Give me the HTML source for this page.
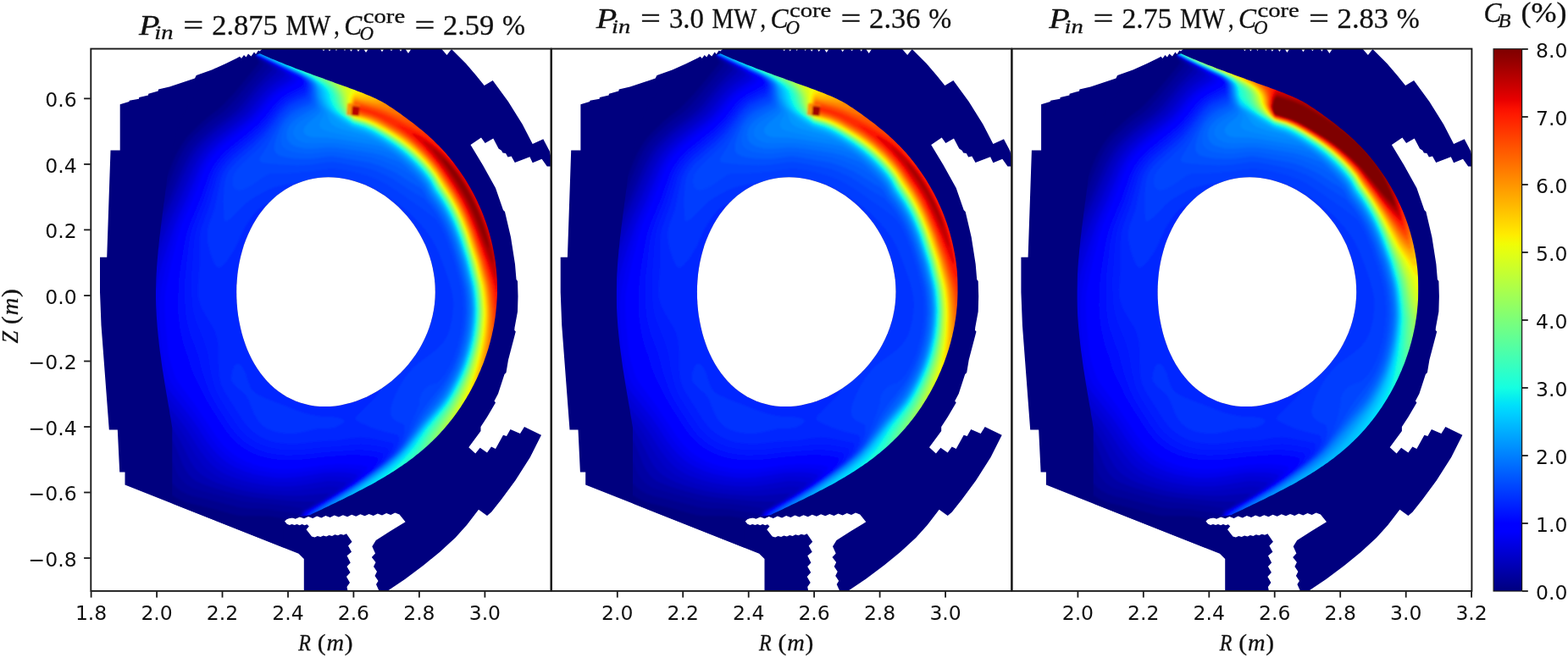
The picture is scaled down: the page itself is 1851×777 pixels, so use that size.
<!DOCTYPE html>
<html><head><meta charset="utf-8"><title>C_B concentration maps</title>
<style>html,body{margin:0;padding:0;background:#fff;width:1851px;height:777px;overflow:hidden}svg{display:block}text{font-family:"DejaVu Sans","Liberation Sans",sans-serif;fill:#111}.t{font-family:"DejaVu Sans","Liberation Sans",sans-serif}.m{font-family:"Liberation Serif","DejaVu Serif",serif;stroke:#111;stroke-width:0.3px}.i{font-style:italic}</style></head>
<body>
<svg width="1851" height="777" viewBox="0 0 1851 777">
<defs>
<path id="mk" d="M310 57.5L521 57.5L527.5 65L533 58L550 75L562 89L571.7 101L581.7 95L600 120L616.7 146.7L628.7 170L641.3 164.3L648.8 178.5L650.5 186L650.5 196.5L645.8 196.5L639.6 187.7L628.7 192.3L625.4 185.2L607.8 192L603.6 184.4L599.5 185.5L597 181L593.5 180.5L592 177.7L588.6 175.6L582.3 163.5L572.7 169L568 162.6L555.5 171L570 195L585 222L594 248L596 250L603 280L608 312L609.5 330L611 332L611.5 350L611 368L607.5 387L607.3 390L608.8 391.5L600 425L597.5 440L595.5 442L588 465L583.5 473.5L585 475.6L575 492.5L567.5 504L567.5 509L553.3 528.3L561.2 535.4L566.7 528.8L575 534.6L580 527.5L585 530L594 513.8L598 515L602.5 507L614 512L619 504L639 513.8L625.8 540L608.3 567.5L591.7 590L580 604.8L575 609L565 601.7L551 620L537.5 635L519 652L500 667.5L478 684L457.5 697.8L447.5 697.8L444 690L446.5 686L442.5 680L445 675L441 669L443.5 664L438.8 658L443 653.5L439.3 645.3L443.8 638L461 627L478.6 616.3L471.5 607.6L466.3 605.6L461.3 608L456.1 606L451 608.5L445.8 606.5L440.8 608.9L435.6 606.9L430.6 609.3L425.4 607.3L420.3 609.8L415.1 607.8L410.1 610.2L404.9 608.2L399.9 610.6L394.7 608.6L389.7 611L384.4 609.1L379.4 611.5L374.2 609.5L369.2 611.9L364 609.9L359 612.3L353.8 610.4L348.7 612.8L343.5 610.8L338.5 613.2L336 615.6L338.7 618.8L341.7 620L344.6 618.9L347.6 620.1L350.6 619L353.6 620.2L356.6 619.1L359.5 620.3L362.5 619.2L364.8 621.5L361.6 625.2L368 633.5L371.5 634.5L374.8 633L378.4 634L381.7 632.4L385.2 633.4L388.5 631.9L392 632.9L395.3 631.3L398.9 632.3L402.2 630.8L405.7 631.8L409 630.2L415.5 639.8L411 644.4L415 651.7L409.6 656.2L413.7 664.5L409.5 669L413.5 676L409 681L413 688L409.5 693L410.5 697.8L358.8 697.8L358.8 660L352.5 653.8L147.5 572.5L147.5 557.5L141.2 557.5L138.8 507.5L128.8 507.5L119.5 384L118 345L118 303.8L126.2 303.8L130.5 177.5L141.7 177.5L141.7 123.3L152.5 120L152.7 118.7L164 116.7L164.2 115L175 112.5L175.2 110.8L186.7 107.5L187 105.6L200 102.5L230 92.5L231.7 89L250 82.5L266.7 75L280 68.5L283 66.7L285 69L288 65L290.5 67.5L293 63.5L296.5 66.5L300 61.5L302 64L305 59.5L306.5 60.5Z"/>
<clipPath id="ax"><rect x="107.6" y="57.5" width="543" height="640.3"/></clipPath>
<path id="hl" d="M513.8 344.7L513.6 337.6L513.1 330.5L512.1 323.5L510.8 316.5L509.2 309.7L507.2 302.9L504.8 296.2L502.2 289.6L499.1 283.2L495.8 277L492.2 271L488.3 265.1L484.1 259.5L479.6 254.1L474.9 249L470 244.1L464.9 239.5L459.6 235.2L454.1 231.1L448.4 227.4L442.7 224.1L436.8 221L430.8 218.3L424.7 215.9L418.6 213.9L412.4 212.3L406.2 211L400 210L393.9 209.5L387.7 209.3L381.6 209.5L375.6 210L369.6 211L363.8 212.3L358 213.9L352.4 215.9L346.9 218.3L341.6 221L336.4 224.1L331.4 227.4L326.6 231.1L321.9 235.2L317.5 239.5L313.3 244.1L309.3 249L305.5 254.1L302 259.5L298.7 265.1L295.6 271L292.8 277L290.2 283.2L287.9 289.6L285.9 296.2L284.1 302.9L282.6 309.7L281.4 316.5L280.4 323.5L279.8 330.5L279.3 337.6L279.2 344.7L279.3 351.8L279.7 358.9L280.3 365.9L281.2 372.9L282.4 379.7L283.8 386.5L285.4 393.2L287.3 399.8L289.5 406.2L291.8 412.4L294.5 418.4L297.3 424.3L300.5 429.9L303.8 435.3L307.4 440.4L311.2 445.3L315.2 449.9L319.4 454.2L323.8 458.3L328.5 462L333.3 465.3L338.3 468.4L343.5 471.1L348.8 473.5L354.3 475.5L359.9 477.1L365.7 478.4L371.6 479.4L377.6 479.9L383.6 480.1L389.8 479.9L396 479.4L402.2 478.4L408.4 477.1L414.7 475.5L420.9 473.5L427.1 471.1L433.2 468.4L439.3 465.3L445.2 462L451.1 458.3L456.7 454.2L462.3 449.9L467.6 445.3L472.7 440.4L477.7 435.3L482.3 429.9L486.7 424.3L490.9 418.4L494.7 412.4L498.2 406.2L501.4 399.8L504.3 393.2L506.8 386.5L508.9 379.7L510.6 372.9L512 365.9L513 358.9L513.6 351.8Z"/>
<clipPath id="dd"><path clip-rule="evenodd" d="M306.8 63.2L309.6 64.5L312.4 65.7L315.3 67L318.1 68.2L320.9 69.4L323.7 70.6L326.6 71.8L329.4 72.9L332.3 74.1L335.1 75.3L338 76.4L340.9 77.5L343.7 78.6L346.6 79.8L349.5 80.9L352.4 82L355.2 83L358.1 84.1L361 85.2L363.9 86.3L366.8 87.3L369.7 88.4L372.6 89.5L375.5 90.5L378.4 91.6L381.3 92.6L384.2 93.7L387.1 94.7L390 95.8L392.9 96.8L395.7 97.9L398.6 98.9L401.5 100L404.4 101L407.3 102.1L410.2 103.1L413.1 104.2L416 105.3L418.9 106.3L421.8 107.4L424.6 108.5L427.5 109.6L430.4 110.7L433.2 111.9L436 113.1L438.9 114.3L441.6 115.5L444.4 116.8L447.1 118.2L449.8 119.6L452.5 121.1L455.2 122.6L457.8 124.2L460.3 125.9L462.9 127.6L465.4 129.3L467.9 131L470.4 132.8L473 134.6L475.5 136.4L478 138.2L480.4 140.1L482.9 141.9L485.4 143.8L487.8 145.6L490.3 147.5L492.7 149.4L495.1 151.4L497.5 153.3L499.9 155.3L502.2 157.3L504.6 159.3L506.9 161.4L509.2 163.5L511.4 165.6L513.6 167.7L515.8 169.9L518 172.1L520.1 174.3L522.2 176.5L524.3 178.8L526.4 181.1L528.4 183.4L530.4 185.8L532.3 188.2L534.2 190.6L536.1 193L538 195.5L539.8 197.9L541.6 200.4L543.4 202.9L545.1 205.5L546.8 208.1L548.5 210.6L550.2 213.3L551.8 215.9L553.3 218.5L554.9 221.2L556.4 223.9L557.8 226.6L559.3 229.3L560.7 232.1L562.1 234.8L563.4 237.6L564.7 240.4L566 243.2L567.2 246L568.4 248.8L569.6 251.7L570.7 254.6L571.8 257.4L572.8 260.3L573.9 263.2L574.8 266.1L575.8 269.1L576.7 272L577.6 275L578.4 277.9L579.2 280.9L580 283.9L580.7 286.9L581.4 289.9L582 292.9L582.6 295.9L583.2 298.9L583.7 301.9L584.2 304.9L584.7 308L585.1 311L585.4 314.1L585.8 317.1L586.1 320.2L586.3 323.2L586.5 326.3L586.7 329.4L586.8 332.4L586.9 335.5L587 338.6L587 341.6L587 344.7L586.9 347.8L586.8 350.8L586.6 353.9L586.4 357L586.2 360L585.9 363.1L585.6 366.1L585.3 369.2L584.9 372.3L584.5 375.3L584 378.3L583.5 381.4L583 384.4L582.4 387.4L581.8 390.5L581.1 393.5L580.5 396.5L579.7 399.5L579 402.4L578.2 405.4L577.3 408.4L576.5 411.4L575.6 414.3L574.6 417.2L573.6 420.2L572.6 423.1L571.6 426L570.5 428.9L569.4 431.8L568.2 434.6L567.1 437.5L565.8 440.3L564.6 443.1L563.3 446L562 448.7L560.6 451.5L559.3 454.3L557.8 457L556.4 459.8L554.9 462.5L553.4 465.2L551.8 467.8L550.3 470.5L548.7 473.1L547 475.7L545.4 478.3L543.7 480.9L541.9 483.4L540.2 486L538.4 488.5L536.6 491L534.7 493.4L532.8 495.9L530.9 498.3L529 500.7L527 503L525 505.4L523 507.7L520.9 510L518.9 512.2L516.8 514.4L514.6 516.7L512.5 518.8L510.3 521L508.1 523.1L505.8 525.2L503.6 527.2L501.3 529.3L499 531.3L496.6 533.3L494.3 535.2L491.9 537.1L489.5 539L487.1 540.9L484.6 542.7L482.2 544.6L479.7 546.4L477.2 548.1L474.6 549.9L472.1 551.6L469.6 553.3L467 555L464.4 556.7L461.8 558.3L459.2 560L456.5 561.6L453.9 563.2L451.2 564.7L448.6 566.3L445.9 567.8L443.2 569.4L440.5 570.9L437.8 572.4L435.1 573.8L432.4 575.3L429.6 576.8L426.9 578.2L424.1 579.6L421.4 581.1L418.6 582.5L415.9 583.9L413.1 585.3L410.4 586.6L407.6 588L404.8 589.4L402.1 590.7L399.3 592.1L396.5 593.4L393.8 594.7L391 596.1L388.2 597.4L385.5 598.7L382.7 600.1L380 601.4L377.2 602.7L374.5 604L371.7 605.3L369 606.6L366.3 607.9L338 612.8L336 615.6L336 647.2L203.3 594.8L203.3 504.9L202.6 500.9L201.9 496.8L201.2 492.8L200.5 488.7L199.9 484.6L199.2 480.6L198.5 476.5L197.8 472.4L197.1 468.3L196.4 464.2L195.7 460.1L195 456L194.3 451.9L193.7 447.8L193 443.6L192.4 439.5L191.7 435.4L191.1 431.3L190.5 427.1L190 423L189.4 418.8L188.8 414.7L188.3 410.6L187.8 406.4L187.4 402.3L186.9 398.1L186.5 394L186.1 389.8L185.7 385.7L185.4 381.5L185.1 377.4L184.8 373.3L184.6 369.1L184.4 365L184.2 360.8L184.1 356.7L184 352.6L184 348.4L184 344.3L184.1 340.2L184.2 336L184.3 331.9L184.4 327.8L184.6 323.7L184.9 319.5L185.1 315.4L185.4 311.3L185.7 307.2L186.1 303.1L186.5 298.9L186.8 294.8L187.3 290.7L187.7 286.6L188.1 282.5L188.6 278.3L189.1 274.2L189.6 270.1L190.1 266L190.6 261.8L191.2 257.7L191.7 253.6L192.2 249.4L192.8 245.3L193.3 241.1L193.9 237L194.4 232.9L195 228.7L195.5 224.5L196.1 220.4L196.6 216.2L197.1 212L197.7 207.9L198.2 203.7L198.8 199.5L199.3 195.4L200 191.2L200.6 187.1L201.3 183L202 178.9L202.8 174.8L203.6 170.7L204.5 166.7L205.5 162.7L206.6 158.7L207.7 154.7L208.9 150.8L210.2 146.9L211.6 143.1L213.2 139.3L214.8 135.5L216.5 131.8L218.4 128.1L220.4 124.5L222.6 120.9L224.8 117.5L227.2 114.1L229.8 110.9L232.4 107.7L235.2 104.6L238.1 101.7L241.1 98.8L244.3 96.1L247.5 93.5L250.8 90.9L254.2 88.5L257.7 86.2L261.3 84L264.9 81.9L268.6 79.8L272.3 77.9L276.1 76L279.9 74.2L283.7 72.4L287.5 70.7L291.3 69.1L295.2 67.6L299 66.1L302.8 64.6Z M513.8 344.7L513.6 337.6L513.1 330.5L512.1 323.5L510.8 316.5L509.2 309.7L507.2 302.9L504.8 296.2L502.2 289.6L499.1 283.2L495.8 277L492.2 271L488.3 265.1L484.1 259.5L479.6 254.1L474.9 249L470 244.1L464.9 239.5L459.6 235.2L454.1 231.1L448.4 227.4L442.7 224.1L436.8 221L430.8 218.3L424.7 215.9L418.6 213.9L412.4 212.3L406.2 211L400 210L393.9 209.5L387.7 209.3L381.6 209.5L375.6 210L369.6 211L363.8 212.3L358 213.9L352.4 215.9L346.9 218.3L341.6 221L336.4 224.1L331.4 227.4L326.6 231.1L321.9 235.2L317.5 239.5L313.3 244.1L309.3 249L305.5 254.1L302 259.5L298.7 265.1L295.6 271L292.8 277L290.2 283.2L287.9 289.6L285.9 296.2L284.1 302.9L282.6 309.7L281.4 316.5L280.4 323.5L279.8 330.5L279.3 337.6L279.2 344.7L279.3 351.8L279.7 358.9L280.3 365.9L281.2 372.9L282.4 379.7L283.8 386.5L285.4 393.2L287.3 399.8L289.5 406.2L291.8 412.4L294.5 418.4L297.3 424.3L300.5 429.9L303.8 435.3L307.4 440.4L311.2 445.3L315.2 449.9L319.4 454.2L323.8 458.3L328.5 462L333.3 465.3L338.3 468.4L343.5 471.1L348.8 473.5L354.3 475.5L359.9 477.1L365.7 478.4L371.6 479.4L377.6 479.9L383.6 480.1L389.8 479.9L396 479.4L402.2 478.4L408.4 477.1L414.7 475.5L420.9 473.5L427.1 471.1L433.2 468.4L439.3 465.3L445.2 462L451.1 458.3L456.7 454.2L462.3 449.9L467.6 445.3L472.7 440.4L477.7 435.3L482.3 429.9L486.7 424.3L490.9 418.4L494.7 412.4L498.2 406.2L501.4 399.8L504.3 393.2L506.8 386.5L508.9 379.7L510.6 372.9L512 365.9L513 358.9L513.6 351.8Z"/></clipPath>
<path id="sp" d="M380.5 58.3h3l-1.5 2zM387.5 58.3h3l-1.5 2.2zM395.8 58.3h2.4l-1.2 1.6zM405.8 58.3h2.4l-1.2 1.6zM412.8 58.3h3.4l-1.7 2.4zM421.2 58.3h3.6l-1.8 2.6zM429.5 58.3h5l-2.5 3.6zM449 58.3h4l-2 3zM460.5 58.3h3l-1.5 2zM471.5 58.3h3l-1.5 2.4zM478.8 58.3h6.4l-3.2 4.6z"/>
<filter id="bl" x="-5%" y="-5%" width="110%" height="110%"><feGaussianBlur stdDeviation="1.1"/></filter>
<linearGradient id="jet" x1="0" y1="1" x2="0" y2="0"><stop offset="0" stop-color="#00007f"/><stop offset="0.0156" stop-color="#000091"/><stop offset="0.0312" stop-color="#0000a3"/><stop offset="0.0469" stop-color="#0000b6"/><stop offset="0.0625" stop-color="#0000c8"/><stop offset="0.0781" stop-color="#0000da"/><stop offset="0.0938" stop-color="#0000ec"/><stop offset="0.1094" stop-color="#0000fe"/><stop offset="0.125" stop-color="#0000ff"/><stop offset="0.1406" stop-color="#0010ff"/><stop offset="0.1562" stop-color="#0020ff"/><stop offset="0.1719" stop-color="#0030ff"/><stop offset="0.1875" stop-color="#0040ff"/><stop offset="0.2031" stop-color="#0050ff"/><stop offset="0.2188" stop-color="#0060ff"/><stop offset="0.2344" stop-color="#0070ff"/><stop offset="0.25" stop-color="#0080ff"/><stop offset="0.2656" stop-color="#0090ff"/><stop offset="0.2812" stop-color="#00a0ff"/><stop offset="0.2969" stop-color="#00b0ff"/><stop offset="0.3125" stop-color="#00c0ff"/><stop offset="0.3281" stop-color="#00d0ff"/><stop offset="0.3438" stop-color="#00e0fa"/><stop offset="0.3594" stop-color="#08f0ed"/><stop offset="0.375" stop-color="#15ffe1"/><stop offset="0.3906" stop-color="#22ffd4"/><stop offset="0.4062" stop-color="#2fffc7"/><stop offset="0.4219" stop-color="#3cffba"/><stop offset="0.4375" stop-color="#49ffad"/><stop offset="0.4531" stop-color="#56ffa0"/><stop offset="0.4688" stop-color="#63ff93"/><stop offset="0.4844" stop-color="#70ff86"/><stop offset="0.5" stop-color="#7cff79"/><stop offset="0.5156" stop-color="#89ff6c"/><stop offset="0.5312" stop-color="#96ff5f"/><stop offset="0.5469" stop-color="#a3ff53"/><stop offset="0.5625" stop-color="#b0ff46"/><stop offset="0.5781" stop-color="#bdff39"/><stop offset="0.5938" stop-color="#caff2c"/><stop offset="0.6094" stop-color="#d7ff1f"/><stop offset="0.625" stop-color="#e4ff12"/><stop offset="0.6406" stop-color="#f1fc05"/><stop offset="0.6562" stop-color="#feed00"/><stop offset="0.6719" stop-color="#ffde00"/><stop offset="0.6875" stop-color="#ffcf00"/><stop offset="0.7031" stop-color="#ffc000"/><stop offset="0.7188" stop-color="#ffb100"/><stop offset="0.7344" stop-color="#ffa300"/><stop offset="0.75" stop-color="#ff9400"/><stop offset="0.7656" stop-color="#ff8500"/><stop offset="0.7812" stop-color="#ff7600"/><stop offset="0.7969" stop-color="#ff6700"/><stop offset="0.8125" stop-color="#ff5900"/><stop offset="0.8281" stop-color="#ff4a00"/><stop offset="0.8438" stop-color="#ff3b00"/><stop offset="0.8594" stop-color="#ff2c00"/><stop offset="0.875" stop-color="#ff1d00"/><stop offset="0.8906" stop-color="#fa0f00"/><stop offset="0.9062" stop-color="#e80000"/><stop offset="0.9219" stop-color="#d50000"/><stop offset="0.9375" stop-color="#c30000"/><stop offset="0.9531" stop-color="#b10000"/><stop offset="0.9688" stop-color="#9f0000"/><stop offset="0.9844" stop-color="#8d0000"/><stop offset="1" stop-color="#7f0000"/></linearGradient>
</defs>
<rect width="1851" height="777" fill="#fff"/>
<g transform="translate(0,0)">
<g clip-path="url(#ax)">
<use href="#mk" fill="#00007f"/>
<g clip-path="url(#dd)"><g filter="url(#bl)">
<path d="M306.8 63.2L309.6 64.5L312.4 65.7L315.3 67L318.1 68.2L320.9 69.4L323.7 70.6L326.6 71.8L329.4 72.9L332.3 74.1L335.1 75.3L338 76.4L340.9 77.5L343.7 78.6L346.6 79.8L349.5 80.9L352.4 82L355.2 83L358.1 84.1L361 85.2L363.9 86.3L366.8 87.3L369.7 88.4L372.6 89.5L375.5 90.5L378.4 91.6L381.3 92.6L384.2 93.7L387.1 94.7L390 95.8L392.9 96.8L395.7 97.9L398.6 98.9L401.5 100L404.4 101L407.3 102.1L410.2 103.1L413.1 104.2L416 105.3L418.9 106.3L421.8 107.4L424.6 108.5L427.5 109.6L430.4 110.7L433.2 111.9L436 113.1L438.9 114.3L441.6 115.5L444.4 116.8L447.1 118.2L449.8 119.6L452.5 121.1L455.2 122.6L457.8 124.2L460.3 125.9L462.9 127.6L465.4 129.3L467.9 131L470.4 132.8L473 134.6L475.5 136.4L478 138.2L480.4 140.1L482.9 141.9L485.4 143.8L487.8 145.6L490.3 147.5L492.7 149.4L495.1 151.4L497.5 153.3L499.9 155.3L502.2 157.3L504.6 159.3L506.9 161.4L509.2 163.5L511.4 165.6L513.6 167.7L515.8 169.9L518 172.1L520.1 174.3L522.2 176.5L524.3 178.8L526.4 181.1L528.4 183.4L530.4 185.8L532.3 188.2L534.2 190.6L536.1 193L538 195.5L539.8 197.9L541.6 200.4L543.4 202.9L545.1 205.5L546.8 208.1L548.5 210.6L550.2 213.3L551.8 215.9L553.3 218.5L554.9 221.2L556.4 223.9L557.8 226.6L559.3 229.3L560.7 232.1L562.1 234.8L563.4 237.6L564.7 240.4L566 243.2L567.2 246L568.4 248.8L569.6 251.7L570.7 254.6L571.8 257.4L572.8 260.3L573.9 263.2L574.8 266.1L575.8 269.1L576.7 272L577.6 275L578.4 277.9L579.2 280.9L580 283.9L580.7 286.9L581.4 289.9L582 292.9L582.6 295.9L583.2 298.9L583.7 301.9L584.2 304.9L584.7 308L585.1 311L585.4 314.1L585.8 317.1L586.1 320.2L586.3 323.2L586.5 326.3L586.7 329.4L586.8 332.4L586.9 335.5L587 338.6L587 341.6L587 344.7L586.9 347.8L586.8 350.8L586.6 353.9L586.4 357L586.2 360L585.9 363.1L585.6 366.1L585.3 369.2L584.9 372.3L584.5 375.3L584 378.3L583.5 381.4L583 384.4L582.4 387.4L581.8 390.5L581.1 393.5L580.5 396.5L579.7 399.5L579 402.4L578.2 405.4L577.3 408.4L576.5 411.4L575.6 414.3L574.6 417.2L573.6 420.2L572.6 423.1L571.6 426L570.5 428.9L569.4 431.8L568.2 434.6L567.1 437.5L565.8 440.3L564.6 443.1L563.3 446L562 448.7L560.6 451.5L559.3 454.3L557.8 457L556.4 459.8L554.9 462.5L553.4 465.2L551.8 467.8L550.3 470.5L548.7 473.1L547 475.7L545.4 478.3L543.7 480.9L541.9 483.4L540.2 486L538.4 488.5L536.6 491L534.7 493.4L532.8 495.9L530.9 498.3L529 500.7L527 503L525 505.4L523 507.7L520.9 510L518.9 512.2L516.8 514.4L514.6 516.7L512.5 518.8L510.3 521L508.1 523.1L505.8 525.2L503.6 527.2L501.3 529.3L499 531.3L496.6 533.3L494.3 535.2L491.9 537.1L489.5 539L487.1 540.9L484.6 542.7L482.2 544.6L479.7 546.4L477.2 548.1L474.6 549.9L472.1 551.6L469.6 553.3L467 555L464.4 556.7L461.8 558.3L459.2 560L456.5 561.6L453.9 563.2L451.2 564.7L448.6 566.3L445.9 567.8L443.2 569.4L440.5 570.9L437.8 572.4L435.1 573.8L432.4 575.3L429.6 576.8L426.9 578.2L424.1 579.6L421.4 581.1L418.6 582.5L415.9 583.9L413.1 585.3L410.4 586.6L407.6 588L404.8 589.4L402.1 590.7L399.3 592.1L396.5 593.4L393.8 594.7L391 596.1L388.2 597.4L385.5 598.7L382.7 600.1L380 601.4L377.2 602.7L374.5 604L371.7 605.3L369 606.6L366.3 607.9L338 612.8L336 615.6L336 647.2L203.3 594.8L203.3 504.9L202.6 500.9L201.9 496.8L201.2 492.8L200.5 488.7L199.9 484.6L199.2 480.6L198.5 476.5L197.8 472.4L197.1 468.3L196.4 464.2L195.7 460.1L195 456L194.3 451.9L193.7 447.8L193 443.6L192.4 439.5L191.7 435.4L191.1 431.3L190.5 427.1L190 423L189.4 418.8L188.8 414.7L188.3 410.6L187.8 406.4L187.4 402.3L186.9 398.1L186.5 394L186.1 389.8L185.7 385.7L185.4 381.5L185.1 377.4L184.8 373.3L184.6 369.1L184.4 365L184.2 360.8L184.1 356.7L184 352.6L184 348.4L184 344.3L184.1 340.2L184.2 336L184.3 331.9L184.4 327.8L184.6 323.7L184.9 319.5L185.1 315.4L185.4 311.3L185.7 307.2L186.1 303.1L186.5 298.9L186.8 294.8L187.3 290.7L187.7 286.6L188.1 282.5L188.6 278.3L189.1 274.2L189.6 270.1L190.1 266L190.6 261.8L191.2 257.7L191.7 253.6L192.2 249.4L192.8 245.3L193.3 241.1L193.9 237L194.4 232.9L195 228.7L195.5 224.5L196.1 220.4L196.6 216.2L197.1 212L197.7 207.9L198.2 203.7L198.8 199.5L199.3 195.4L200 191.2L200.6 187.1L201.3 183L202 178.9L202.8 174.8L203.6 170.7L204.5 166.7L205.5 162.7L206.6 158.7L207.7 154.7L208.9 150.8L210.2 146.9L211.6 143.1L213.2 139.3L214.8 135.5L216.5 131.8L218.4 128.1L220.4 124.5L222.6 120.9L224.8 117.5L227.2 114.1L229.8 110.9L232.4 107.7L235.2 104.6L238.1 101.7L241.1 98.8L244.3 96.1L247.5 93.5L250.8 90.9L254.2 88.5L257.7 86.2L261.3 84L264.9 81.9L268.6 79.8L272.3 77.9L276.1 76L279.9 74.2L283.7 72.4L287.5 70.7L291.3 69.1L295.2 67.6L299 66.1L302.8 64.6Z" fill="#00007f"/>
<path d="M294.1 50.2l365.7 0 0 659.6 -215.5 0 -1.5 -1.6 0 -0.4 -13 -13 0 -0.6 -2 -2 -0.6 0 -18 -18 -0.4 0 -4 -4 -0.6 0 -3 -3 -0.4 0 -8.6 -7.5 -0.4 0 -2.1 -2 -0.5 0 -2.5 -2.5 -0.5 0 -1.5 -1.5 -0.5 0 -2 -2 -0.4 0 -2.1 -2 -0.5 0 -1.5 -1.5 -0.5 0 -4 -3.5 -0.4 0 -5.6 -5 -0.4 0 -3 -3 -0.6 0 -2.4 -2.5 -0.6 0 -2.4 -2.7 -0.6 0 -3 -3 -0.4 0 -3 -3 -0.6 -0.1 -3 -3 -0.4 0 -6.3 -5.6 -0.7 -2 -2 -2 -10.9 -2 -10.1 -1.3 -28 -0.2 -6 -0.4 -5.6 -1 -28.3 -7.7 -27.7 -6.5 -9.4 -3.8 -8 -5 -103.6 0 0 -388.1 1 0 0.5 0.5 3.5 0 0.5 0.5 3.5 0 0.6 0.5 3.4 0 0.6 0.5 3.4 0 0.6 0.5 3.4 0 0.6 0.5 3.4 0 0.6 0.5 3.4 0 0.6 0.5 3.4 0 0.6 0.5 3.4 0 0.6 0.5 3.4 0 0.6 0.5 3.4 0 0.6 0.5 3.4 0 0.6 0.5 3.4 0 0.6 0.5 3.4 0 0.5 0.5 3.5 0 0.6 0.5 3.4 0 0.5 0.5 3.5 0 0.6 0.5 3.4 0 0.6 0.5 3.4 0 0.6 0.5 3.4 0 0.6 0.5 16 0.2 0 -1.2 -0.6 -0.1 1 0 6 -15.4 3.6 -8 6.1 -11 5.9 -8.6 6.4 -7 13 -12.5 6 -5.1 12.9 -9.8 6.8 -6.6 11.9 -12.8 28.4 -34.2 0.6 -1.4 -0.3 -1.6 -3 -4 -1.4 -3 -1 -1 -4 -8 0 -1 -2 -4z" fill="#00008d"/>
<path d="M296.8 50.2l363 0 0 659.6 -215.5 0 -1.5 -1.6 0 -0.4 -13 -13 0 -0.6 -2 -2 -0.6 0 -18 -18 -0.5 0 -3.9 -4 -0.6 0 -2.9 -3 -0.5 0 -8.6 -7.5 -0.4 0 -2 -2 -0.6 0 -2.4 -2.5 -0.6 0 -1.4 -1.5 -0.6 0 -2 -2 -0.4 0 -2 -2 -0.6 0 -1.4 -1.5 -0.6 0 -4 -3.5 -0.4 0 -14.9 -12.9 -0.6 -1 0 -2.6 -0.5 -0.4 0 -2.6 -0.5 -0.4 0 -2.6 -0.5 -0.4 -0.5 -5.6 -0.5 -0.4 -0.5 -3.6 -0.8 -1.4 -0.3 -3 -14 -3.3 -19.8 -2.7 -6.2 -0.6 -19 -0.6 -11.4 -1.4 -41 -10.2 -12 -2.5 -8.6 -2.7 -7 -3.5 -6 -4.5 -4.4 -4.9 -103.6 0 0 -359.4 6 0.5 0.6 0.5 3 0 0.4 0.5 3 0 0.6 0.5 3 0 0.4 0.5 3 0 0.6 0.5 3 0 0.4 0.5 3 0 0.6 0.5 3 0 0.4 0.5 3 0 0.6 0.5 3 0 0.4 0.5 3 0 0.6 0.5 3 0 0.4 0.5 3 0 0.6 0.5 3 0 0.4 0.5 3 0 0.6 0.5 3 0 0.4 0.5 3 0 0.6 0.5 3 0 0.4 0.5 3 0 0.6 0.5 3 0 0.4 0.5 3 0 0.6 0.5 3 0 0.4 0.5 3 0 0.6 0.5 2.4 0 0.6 0.4 9 0.4 15.3 -37.1 5.9 -11 5.8 -8.4 6.8 -7.6 13.2 -12.4 7 -5.7 12.9 -9.3 7.1 -6.6 8.4 -9.4 32 -38.6 0.5 -2 -0.8 -2 -3.1 -3.5 -3.6 -2.4 -1.5 -2.5 -0.4 -3.1 -0.5 -0.5 0 -1 -0.5 -0.4 0 -1.1 -0.5 -0.5 0 -1 -0.5 -0.4 0 -1.1 -0.5 -0.5 0 -1 -0.5 -0.4 0 -1.1 -0.5 -0.5 0 -1z" fill="#00009a"/>
<path d="M296.9 50.2l362.9 0 0 659.6 -215.5 0 -1.5 -1.6 0 -0.4 -13 -13.1 0 -0.5 -2 -2 -0.6 0 -18 -18 -0.4 0 -4 -4 -0.6 0 -3 -3 -0.4 0 -8.6 -7.5 -0.4 0 -2 -2 -0.6 0 -2.4 -2.5 -0.6 0 -1.4 -1.5 -0.6 0 -2 -2 -0.5 0 -2 -2 -0.5 0 -1.4 -1.5 -0.6 0 -4 -3.5 -0.4 0 -14.8 -12.9 -0.5 -1 0 -2.6 -0.5 -0.4 0 -2.6 -0.5 -0.4 0 -2.6 -0.5 -0.4 0 -2.6 -0.5 -0.4 0 -2.6 -0.5 -0.4 0 -1.6 -0.4 -0.4 -0.3 -2 0.5 -4.6 1.9 -6 -0.4 -1 -0.5 -0.3 -17.8 -2.7 -20.8 -2.2 -20 -1.6 -12.4 -1.7 -33 -8.2 -21.6 -6 -5 -2.1 -4.4 -2.6 -3.8 -3 -3.2 -3.5 -2.7 -3.5 -2.5 -4.6 -4.8 -12.5 -103.6 0 0 -317.3 1.1 0 0.5 0.5 3.4 0 0.6 0.5 3.4 0 0.6 0.5 3.4 0 0.6 0.5 3.4 0 0.6 0.5 3.4 0 0.6 0.5 3.4 0 0.6 0.5 3.4 0 0.6 0.5 3.4 0 0.6 0.5 3.4 0 0.6 0.5 3.4 0 0.6 0.5 3.4 0 0.6 0.5 3.4 0 0.6 0.5 3.4 0 0.6 0.5 3.4 0 0.6 0.5 3.4 0 0.6 0.5 3.4 0 0.6 0.5 3.4 0 0.6 0.5 3.4 0 0.6 0.5 3.4 0 0.6 0.5 3.4 0 0.6 0.4 2.4 0 0.6 0.3 9 0 4.5 -9.9 16.3 -38.4 5.9 -11 5.7 -8.6 6.6 -7.4 12.8 -12 7.2 -5.8 14 -10.1 8.8 -8.1 7.2 -8 15.9 -20 17.1 -19.4 0.3 -2.2 -1.7 -2.4 -7.6 -6.1 -3 -1.6 -1.5 -1.9 -0.6 -1 -0.3 -2.4 -0.5 -0.6 0 -1 -0.5 -0.4 0 -1 -0.5 -0.6 0 -1 -0.5 -0.4 0 -1.1 -0.5 -0.5 0 -1 -0.5 -0.4 0 -1 -0.5 -0.6 0 -1 -0.5 -0.4 0 -1z" fill="#0000a3"/>
<path d="M296.9 50.2l362.9 0 0 659.6 -215.5 0 -1.5 -1.6 0 -0.4 -13 -13 0 -0.6 -2 -2 -0.6 0 -18 -18 -0.4 0 -4 -4 -0.6 0 -3 -3 -0.4 0 -8.6 -7.5 -0.4 0 -2 -2 -0.6 0 -2.4 -2.5 -0.6 -0.1 -1.4 -1.5 -0.6 0 -2 -2 -0.4 0 -2.1 -2 -0.5 0 -1.4 -1.5 -0.6 0 -4 -3.5 -0.4 0 -14.6 -12.8 -0.6 -1 0 -2.6 -0.5 -0.4 0 -2.6 -0.5 -0.4 0 -2.6 -0.5 -0.4 0 -2.6 -0.5 -0.4 0 -2.6 -0.4 -0.4 -0.1 -6 0.8 -3 0.8 -2 1.1 -1.6 2 -1.5 4 -2.2 5.4 -4.3 2 -2 0.3 -0.4 -0.3 -0.5 -16.4 -0.3 -16.6 -1 -33 -3 -12.4 -1.7 -13 -2.5 -20 -5.4 -12.6 -3.9 -11 -4.2 -5 -2.5 -4 -2.9 -4 -4.1 -3.3 -4.6 -4.8 -9 -7.6 -19 -3.7 -7.9 -103.6 0 0 -281.6 6 0.5 0.6 0.5 3 0 0.4 0.5 3 0 0.6 0.5 3 0 0.4 0.5 3 0 0.6 0.5 3 0 0.4 0.5 3 0 0.6 0.5 3 0 0.4 0.5 3 0 0.6 0.5 3 0 0.4 0.5 3 0 0.6 0.5 3 0 0.4 0.5 3 0 0.6 0.5 3 0 0.4 0.5 3 0 0.6 0.5 3 0 0.4 0.5 3 0 0.6 0.5 3 0 0.4 0.5 3 0 0.6 0.5 3 0 0.4 0.5 3 0 0.6 0.5 3 0 0.4 0.5 5.6 0.4 0.4 0.5 1.6 0 0.4 0.4 4 0.2 8.9 -18.5 11.1 -26.4 6.3 -14 5.7 -10.6 5.6 -8.4 6.6 -7.6 11.8 -11 7 -5.7 15.4 -11.3 9.6 -8.5 6 -6.6 17 -21.5 18.1 -18.8 0.3 -1 -0.3 -1.5 -2 -2.5 -12.5 -8.7 -2.6 -1.1 -1.4 -1.5 -1.4 -2.7 0 -1 -0.5 -0.6 0 -1 -0.5 -0.4 0 -1 -0.5 -0.6 0 -1 -0.5 -0.4 0 -1 -0.5 -0.6 0 -1 -0.5 -0.4 0 -1 -0.5 -0.6 0 -1z" fill="#0000b1"/>
<path d="M297 50.2l362.8 0 0 659.6 -215.5 0 -1.5 -1.5 0 -0.5 -13 -13.1 0 -0.5 -2 -2 -0.6 -0.1 -18 -18 -0.4 0 -4 -4 -0.6 0 -3 -3 -0.4 0 -8.6 -7.5 -0.4 0 -2 -2 -0.6 0 -2.4 -2.5 -0.6 0 -1.4 -1.5 -0.6 0 -2 -2 -0.4 0 -2 -2 -0.6 0 -1.4 -1.5 -0.6 0 -4 -3.5 -0.4 0 -5.6 -5 -0.4 0 -3 -3.1 -0.6 0 -1.4 -1.7 -0.5 -4 -0.5 -0.6 0 -2 -0.5 -0.4 0 -2 -0.5 -0.6 0 -2 -0.5 -0.4 0 -2 -0.5 -0.6 0 -2 -0.5 -0.4 0 -2 -0.5 -0.6 -0.5 -3.4 -1.4 -2.6 1.3 -3.7 1 -1.5 1.6 -1.2 4.2 -2 17.9 -11.6 5.2 -4.4 1.1 -1.6 -0.4 -0.4 -7.6 0.2 -22 1.9 -10 0.4 -13 -0.2 -16 -1.2 -18 -2.1 -14.4 -2.6 -18.6 -4.9 -13.1 -4.5 -8.3 -3.9 -6.6 -3.8 -5 -3.9 -4.4 -4.7 -3.8 -5.3 -3.5 -6 -11.9 -24 -7.8 -11.9 -4 0.3 -0.6 0.4 -1.4 0 -0.6 0.4 -2.4 0 -0.6 0.5 -2.4 0 -0.6 0.5 -7.4 0.5 -0.6 0.5 -9.4 0.4 -0.6 0.5 -5.4 0 -0.6 0.5 -5.4 0 -0.6 0.5 -6 0 -1 0.5 -6 0.1 -0.4 0.5 -4.6 0 -0.4 0.5 -11 0.5 -0.6 0.5 -12 0.5 -0.4 0.5 -6 0.1 -0.6 0.5 -5.4 0 -0.6 0.4 -5 0 -1 0.5 0 -260.4 1.6 0 0.4 0.5 3.6 0 0.4 0.5 3.6 0 0.4 0.5 3.6 0 0.4 0.5 3.6 0 0.4 0.5 3.6 0 0.4 0.5 3.6 0 0.4 0.5 3.6 0 0.4 0.5 3.6 0 0.4 0.5 3.6 0 0.4 0.5 3.6 0 0.4 0.5 3.6 0 0.4 0.5 3.6 0 0.4 0.5 3.6 0 0.4 0.5 3.6 0 0.4 0.5 3.6 0 0.4 0.5 3.6 0 0.4 0.5 3.6 0 0.4 0.5 3.6 0 0.4 0.5 3.6 0 0.4 0.4 2.6 0 0.4 0.4 9 0.1 5.9 -13.6 8.7 -18.6 9.2 -21.4 8.1 -18 5.6 -10.6 5.3 -8 6.8 -7.7 10.4 -9.9 7.6 -6.1 17 -12.7 9.4 -8 5 -5.6 11.9 -15.4 6.4 -7.6 6.7 -6.8 10.6 -9.2 1.8 -2 0.4 -1 -0.3 -1.4 -3.2 -3.6 -6.6 -4.4 -13.7 -8.1 -1.7 -2.9 0 -1 -0.5 -0.6 0 -1 -0.5 -0.4 0 -1 -0.5 -0.6 0 -1 -0.5 -0.4 0 -1 -0.5 -0.6 0 -1 -0.5 -0.4 0 -1 -0.5 -0.6 0 -1z" fill="#0000bf"/>
<path d="M297.1 50.2l362.7 0 0 659.6 -215.4 0 -1.5 -1.6 0 -0.4 -13 -13 0 -0.6 -2.1 -2.1 -0.5 0 -18.1 -18 -0.4 0 -4 -4 -0.6 0 -3 -3 -0.4 0 -8.6 -7.5 -0.4 0 -2 -2 -0.6 0 -2.4 -2.5 -0.6 0 -1.4 -1.5 -0.6 0 -2 -2 -0.4 0 -2 -2 -0.6 0 -1.4 -1.5 -0.6 0 -4 -3.5 -0.4 0 -5.6 -5.1 -0.4 0 -3 -3.1 -0.6 0 -1.3 -1.6 -0.5 -4 -0.5 -0.6 0 -2 -0.5 -0.4 0 -2 -0.5 -0.6 0 -2 -0.5 -0.4 0 -2 -0.5 -0.6 0 -2 -0.5 -0.4 0 -2 -0.5 -0.6 -0.5 -3.4 -0.7 -1.6 0.2 -2 1.3 -3 2.6 -2.3 3.4 -1.6 13.1 -7.5 12.9 -8.6 7.8 -6.4 1.7 -2.6 0.1 -1.1 -7.6 -0.8 -6 -0.1 -22.4 3.6 -11.6 1.3 -12.4 0.6 -13.6 -0.4 -18 -1.9 -16.4 -2.9 -14.6 -3.8 -14 -4.9 -7.3 -3.6 -6.7 -4.1 -5.4 -4.4 -5 -5.2 -9 -12.5 -10.1 -17.8 -5.3 -8.4 -6.4 -9 -6.8 -8.4 -9 0.3 -0.4 0.5 -2.6 0 -0.4 0.5 -2.6 0 -0.4 0.5 -2.6 0 -0.4 0.5 -2.6 0 -0.4 0.5 -2.6 0 -0.4 0.5 -2.6 0 -0.4 0.5 -2.6 0 -0.4 0.5 -2.6 0 -0.4 0.5 -2.6 0 -0.4 0.5 -2.6 0 -0.4 0.5 -2.6 0 -0.4 0.5 -2.6 0 -0.4 0.5 -2.6 0 -0.4 0.5 -2.6 0 -0.4 0.5 -2.6 0 -0.4 0.5 -2.6 0 -0.4 0.5 -2.6 0 -0.4 0.5 -2.6 0 -0.4 0.5 -2.6 0 -0.4 0.5 -2.6 0 -0.4 0.5 -2.6 0 -0.4 0.5 -2.6 0 -0.4 0.5 -2.6 0 -0.4 0.5 -2.6 0 -0.4 0.5 -2.6 0 -0.4 0.5 -2.6 0 -0.4 0.5 -2.6 0 -0.4 0.5 -2.6 0 -0.4 0.5 -2.6 0 -0.4 0.5 -2.6 0 -0.4 0.5 -1.6 0 0 -238.6 1 0.5 4 0 0.6 0.5 4 0 0.4 0.5 4 0 0.6 0.5 4 0 0.4 0.5 4 0 0.6 0.5 4 0 0.4 0.5 4 0 0.6 0.5 4 0 0.4 0.5 4 0 0.6 0.5 4 0 0.4 0.5 4 0 0.6 0.5 4 0 0.4 0.5 4 0 0.6 0.5 4 0 0.4 0.5 4 0 0.6 0.5 7.4 0.5 0.6 0.5 2.4 0 0.6 0.4 2.4 0 0.6 0.4 2 0.4 4 0 10.6 -25 8.8 -19 17.4 -39.6 5 -9.4 5.2 -8 6.7 -8 9.5 -9 7.8 -6.3 20.1 -15.3 7.7 -6.4 4.6 -5.2 12.3 -15.8 6.5 -7.6 6.8 -6.4 12 -9.3 1.9 -2.3 0.2 -1.4 -0.8 -1.6 -4.4 -4 -6.9 -4.4 -13 -7.6 -2 -0.7 -1.6 -1.2 -1.6 -2.5 0 -1 -0.5 -0.6 0 -1 -0.5 -0.4 0 -1 -0.5 -0.6 0 -1 -0.5 -0.4 0 -1 -0.5 -0.6 0 -1 -0.5 -0.4 0 -1 -0.5 -0.6 0 -1z" fill="#0000c8"/>
<path d="M297.1 50.2l362.7 0 0 659.6 -215.4 0 -1.5 -1.6 0 -0.4 -13 -13 0 -0.6 -2.1 -2.1 -0.6 0 -18 -18 -0.4 0 -4 -4 -0.6 0 -3 -3 -0.4 0 -8.6 -7.5 -0.4 0 -2 -2 -0.6 0 -2.4 -2.5 -0.6 0 -1.4 -1.5 -0.6 0 -2 -2 -0.4 0 -2 -2 -0.6 0 -1.4 -1.5 -0.6 0 -4 -3.6 -0.4 0 -10.6 -9.3 -0.2 -2 -0.5 -0.4 0 -2 -0.5 -0.6 0 -2 -0.5 -0.4 0 -2 -0.5 -0.6 0 -2 -0.5 -0.4 0 -2 -0.5 -0.6 0 -2 -0.5 -0.4 0 -2 -0.5 -0.6 0 -1.4 -0.4 -0.6 0 -1.4 -0.4 -0.6 0.2 -2.4 1.7 -3.6 2.1 -2 3 -1.3 17.6 -10.1 14.5 -9.6 5.8 -4.4 4.3 -4 1.8 -2.6 0.3 -1 -0.3 -0.8 -11 -1.3 -10.4 -0.3 -5 0.6 -19 3.7 -10.6 1.4 -12.4 0.9 -12.6 -0.1 -15.4 -1.6 -16 -2.9 -12.6 -3.3 -12.4 -4.5 -7.6 -3.6 -6.6 -4.2 -5.8 -4.7 -5.2 -5.3 -10.5 -13.4 -11.9 -19.3 -6.6 -9.7 -6.4 -8.4 -11 -13.3 -9 0.5 -0.4 0.5 -2.6 0 -0.4 0.5 -2.5 0 -0.5 0.5 -2.5 0 -0.5 0.5 -2.6 0 -0.4 0.5 -2.6 0 -0.4 0.5 -2.6 0 -0.4 0.5 -2.6 0 -0.4 0.5 -2.6 0 -0.4 0.5 -2.6 0 -0.4 0.5 -2.6 0 -0.4 0.5 -2.6 0 -0.4 0.5 -2.6 0 -0.4 0.5 -2.6 0 -0.4 0.5 -2.6 0 -0.4 0.5 -2.6 0 -0.4 0.5 -2.6 0 -0.4 0.5 -2.6 0 -0.4 0.5 -2.6 0 -0.4 0.5 -2.6 0 -0.4 0.5 -2.6 0 -0.4 0.5 -2.6 0.1 -0.4 0.4 -2.6 0.1 -0.4 0.4 -2.6 0.1 -0.4 0.4 -5.6 0.6 -0.4 0.5 -2.6 0 -0.5 0.5 -4.9 0.5 -0.6 0.5 -5 0.5 -1 0.5 0 -211 1.6 0 0.4 0.5 4.6 0 0.4 0.5 4.6 0 0.4 0.5 4.6 0 0.4 0.5 4.6 0 0.4 0.5 4.6 0 0.4 0.5 4.6 0 0.4 0.5 4.6 0 0.4 0.5 4.6 0 0.4 0.5 4.6 0 0.4 0.5 4.6 0 0.4 0.5 4.6 0 0.4 0.5 4.6 0 0.4 0.5 4.6 0 0.4 0.5 7.6 0.4 0.4 0.5 2.6 0 0.4 0.5 2.6 0 0.4 0.4 2 0.3 4 0.1 15.3 -37.6 9.7 -21 16.4 -37.6 4.9 -9.4 5.1 -8 6.7 -8.1 8.9 -8.4 29.1 -22.5 6.6 -5.6 5.1 -5.4 12.9 -16.6 6.3 -7.1 8 -7.1 12 -8.4 2.1 -2.4 0.1 -1.4 -0.8 -1.6 -1.8 -2 -3.3 -2.4 -8.8 -5.6 -18.2 -10 -1.9 -2.4 0 -1 -0.5 -0.6 0 -1 -0.5 -0.4 0 -1 -0.5 -0.6 0 -1 -0.5 -0.4 0 -1 -0.5 -0.6 0 -1 -0.5 -0.4 0 -1 -0.5 -0.6 0 -1z" fill="#0000d5"/>
<path d="M297.2 50.2l362.6 0 0 659.6 -215.4 0 -1.5 -1.6 0 -0.4 -13 -13 0 -0.6 -2.2 -2.1 -0.5 0 -18 -18 -0.4 0 -4 -4 -0.6 0 -3 -3 -0.4 0 -8.6 -7.5 -0.4 0 -2 -2 -0.6 0 -2.4 -2.5 -0.6 -0.1 -1.4 -1.5 -0.6 0 -4.4 -4 -0.6 0 -4 -3.5 -0.4 0 -1.6 -1.5 -0.4 0 -5.6 -5 -0.4 0 -3 -3.2 -0.6 0 -1 -1.1 0 -2 -0.5 -0.4 0 -2 -0.5 -0.6 0 -2 -0.5 -0.4 0 -2 -0.5 -0.6 0 -2 -0.5 -0.4 0 -2 -0.5 -0.6 0 -2 -0.5 -0.4 0 -2 -0.5 -0.6 -0.3 -2 0 -4 1.9 -3.9 2 -1.8 27.5 -15.7 14 -9.6 6.4 -5 3.5 -3.4 1.8 -2.6 0.3 -1.4 -0.2 -1 -4.3 -1 -7 -0.9 -15.6 -0.3 -7.4 0.8 -19 3.5 -11.6 1.6 -11.4 0.8 -11.6 0 -14 -1.5 -14.4 -2.7 -12 -3.3 -11 -4.3 -7.6 -3.8 -7 -4.5 -6 -5 -6.1 -6.4 -9.7 -12.6 -11.9 -18.4 -6.9 -10 -23.4 -29.5 -4 0.6 -0.4 0.4 -1.6 0 -0.4 0.5 -2.6 0 -0.4 0.5 -2.6 0 -0.4 0.5 -2.6 0 -0.4 0.5 -2.6 0 -0.4 0.5 -2.6 0 -0.4 0.5 -2.6 0 -0.4 0.5 -2.6 0 -0.4 0.5 -2.6 0 -0.4 0.5 -2.6 0 -0.4 0.5 -2.6 0 -0.4 0.5 -2.6 0 -0.4 0.5 -2.6 0 -0.4 0.5 -2.6 0 -0.4 0.5 -2.6 0 -0.4 0.5 -2.6 0 -0.4 0.5 -2.6 0 -0.4 0.5 -2.6 0 -0.4 0.5 -2.6 0 -0.4 0.5 -2.6 0 -0.4 0.5 -2.6 0 -0.4 0.5 -2.6 0 -0.4 0.5 -2.6 0 -0.4 0.5 -2.6 0 -0.4 0.5 -2.6 0 -0.4 0.5 -2.6 0 -0.4 0.5 -2.6 0 -0.4 0.5 -2.6 0 -0.4 0.5 -2.6 0 -0.4 0.5 -2.6 0 -0.4 0.5 -2.6 0 -1 0.5 0 -171.5 4.6 0 0.4 0.5 7.6 0 0.4 0.5 7.6 0 0.4 0.5 7.6 0 0.4 0.5 56 0.1 7 -20.6 13.3 -35 10.5 -23 16.6 -38 3.5 -7 4.1 -6.6 6.8 -8.4 8.2 -8.1 10 -8.2 21.6 -16.5 6.4 -5.6 6.5 -7.2 12.5 -16 6.6 -6.8 7.4 -6.1 11.9 -7.5 2.3 -2.6 0.2 -1.4 -1.1 -2 -5.3 -4.6 -11.5 -7 -18.9 -10 -2.1 -2.4 -0.5 -2.6 -0.5 -0.4 0 -1 -0.5 -0.6 0 -1 -0.5 -0.4 0 -1 -0.5 -0.6 -0.5 -2.4 -0.5 -0.6 0 -1z" fill="#0000de"/>
<path d="M298.3 50.2l361.5 0 0 659.6 -215.4 0 -1.5 -1.6 0 -0.4 -13 -13 0 -0.6 -2.1 -2.1 -0.6 0 -18 -18.1 -0.4 0 -4 -4 -0.6 0 -3 -3 -0.4 0 -8.6 -7.5 -0.4 0 -2 -2 -0.6 0 -2.4 -2.5 -0.6 0 -1.4 -1.5 -0.6 0 -4.4 -4 -0.6 0 -1.4 -1.5 -0.6 0 -2 -2 -0.4 0 -1.6 -1.5 -0.4 0 -8.2 -7.3 -0.8 -1.4 0 -2.6 -0.5 -0.4 -0.5 -5.6 -0.5 -0.4 0 -2.6 -0.5 -0.4 0 -2.6 -0.5 -0.4 0 -2.6 -0.5 -0.4 0 -2.6 -0.5 -0.4 -0.5 -3.5 -1.2 -2.5 1.5 -3 2.1 -2 27 -15.6 12.4 -8 9.2 -6.4 5.4 -4.6 3.6 -4 1.5 -2.5 0 -2.5 -5.1 -1.1 -8 -1 -8.4 -0.5 -8.6 0.1 -10.4 0.9 -20.6 3.5 -11 1.5 -11.4 0.7 -10.6 -0.1 -13 -1.4 -14 -2.8 -11.4 -3.4 -10.3 -4.4 -7.7 -4.3 -7.2 -5.1 -6.8 -6.3 -6.6 -7.3 -7 -9.3 -10.6 -16.7 -7.4 -10.4 -24 -30.4 -3.7 -6.2 -3.3 -7.3 -2 -0.1 -0.4 0.5 -1.6 0 -0.4 0.5 -1.6 0 -0.4 0.5 -5.6 0.5 -0.4 0.5 -3 0 -0.6 0.5 -3 0 -0.4 0.5 -3 0 -0.6 0.5 -3 0 -0.4 0.5 -3 0 -0.6 0.5 -3 0 -0.4 0.5 -3 0 -0.6 0.5 -3 0 -0.4 0.5 -3 0 -0.6 0.5 -3 0 -0.4 0.5 -3 0 -0.6 0.5 -3 0 -0.4 0.5 -3 0 -0.6 0.5 -3 0 -0.4 0.5 -3 0 -0.6 0.5 -3 0 -0.4 0.5 -3 0 -0.6 0.5 -3 0 -0.4 0.5 -3 0 -0.6 0.5 -3 0 -0.4 0.5 -3 0 -0.6 0.5 -3 0 -0.4 0.5 -3 0 -0.6 0.5 -1 0 0 -122.2 84 0 2.9 -13.4 4.6 -17 5.7 -18 9 -26 3.9 -9.4 10 -22.1 14.4 -33.9 3.2 -6.6 3.5 -6 6.7 -9 8.7 -8.7 9.4 -7.9 23 -17.8 6.9 -6 6.8 -7.6 11.8 -15 6.1 -6.3 7.6 -6.1 13 -8 1.8 -1.6 1 -1.4 0.1 -1.6 -1 -2 -2.1 -2 -4.1 -3 -12.7 -7.4 -20.6 -10.8 -1 -1.2 0 -2.6 -0.5 -0.4 0 -1 -0.5 -0.6 -1 -3.9 -1 -1.5 0 -1 -1 -1.6z" fill="#0000ec"/>
<path d="M298.3 50.2l361.5 0 0 659.6 -215.4 0 -1.5 -1.6 0 -0.4 -12.9 -13 0 -0.6 -2.2 -2.2 -0.6 0 -18 -18 -0.4 0 -4 -4 -0.6 0 -3 -3 -0.4 0 -8.6 -7.5 -0.4 0 -2 -2 -0.6 0 -2.4 -2.5 -0.6 0 -1.4 -1.5 -0.6 0 -4.4 -4 -0.6 0 -1.4 -1.5 -0.6 0 -2 -2 -0.4 0 -1.6 -1.5 -0.4 0 -8.2 -7.3 -0.7 -1.4 0 -2.6 -0.5 -0.4 0 -2.6 -0.5 -0.4 0 -2.6 -0.5 -0.4 0 -2.6 -0.5 -0.4 0 -2.6 -0.5 -0.4 -0.5 -5.6 -0.5 -0.4 -0.4 -3.6 -0.8 -1.4 0 -1 1.3 -2.6 2.6 -2.4 30.1 -17.6 14.6 -9.4 8.2 -6 5.7 -5 3.6 -4 2 -3.6 -0.1 -2.4 -0.9 -0.6 -3.5 -0.6 -9.6 -1.3 -9 -0.4 -9.4 0.1 -13.6 1 -32 4.6 -10.4 0.7 -9.6 -0.1 -11.4 -1.1 -12 -2.3 -11 -3 -9.6 -3.8 -8 -4.2 -7 -4.7 -7 -5.9 -6.6 -7 -7.7 -10 -11.6 -18 -8.5 -12.2 -8 -10.6 -14 -17.3 -5 -7.3 -3 -7.5 -4 -13.3 -1.8 -7.8 -2.2 -13 -1.6 -13.4 -1 -13.6 -0.4 -13.5 0.3 -12.5 1.7 -15.9 4.8 -22.1 8.9 -32 4.8 -15.4 3.1 -8.6 12.5 -28 14.5 -35 4.8 -9 5.6 -8 5.8 -6.4 7.2 -6.7 28.4 -22.4 7.4 -6.5 7.9 -8.4 11.8 -15 5.9 -6.2 7.6 -5.8 14.1 -8.6 2.2 -2 0.7 -1.4 -0.3 -2 -1.6 -2 -6.7 -5 -14 -8 -21.4 -11 -0.8 -1 -0.2 -2.6 -0.5 -0.4 0 -1 -0.5 -0.6 -1 -4 -1 -1.5 0 -0.9 -1 -1.6z" fill="#0000f5"/>
<path d="M298.3 50.2l361.5 0 0 659.6 -215.3 0 -1.5 -1.6 0 -0.4 -13 -13 0 -0.6 -2.2 -2.2 -0.6 0 -18 -18 -0.4 0 -4 -4 -0.6 0 -3 -3 -0.4 0 -8.6 -7.5 -0.4 0 -2 -2 -0.6 0 -2.4 -2.5 -0.6 0 -1.4 -1.5 -0.6 0 -4.4 -4 -0.6 0 -1.4 -1.5 -0.6 0 -2 -2 -0.4 0 -1.6 -1.6 -0.4 0 -8.1 -7.2 -0.2 -1 -0.5 -0.4 0 -2.6 -0.5 -0.4 0 -2.6 -0.5 -0.4 0 -2.6 -0.5 -0.4 0 -2.6 -0.5 -0.4 0 -2.6 -0.5 -0.4 -0.5 -5.6 -0.4 -0.4 0 -1.6 -0.5 -0.4 -0.3 -2 0 -2 0.4 -1.1 1.4 -1.9 1.6 -1.6 34.6 -20.4 14.4 -9.6 9.4 -7 6 -5.4 3.8 -4.6 2.1 -4 -0.1 -1.4 -0.4 -1 -6.2 -1.3 -9 -1 -18 -0.4 -17 1.2 -33 4.4 -9.6 0.5 -9 0 -11 -1 -11 -2 -10.4 -2.9 -9.6 -3.8 -7.4 -3.9 -7.6 -5.1 -7 -6 -6.4 -6.8 -6.7 -8.9 -23.9 -35.8 -18.4 -24.6 -3.5 -5.2 -2 -4.4 -2.5 -7.5 -3.8 -12.5 -1.3 -6 -3.6 -37 -0.6 -14.6 0 -15 0.4 -5 1.3 -7.4 6 -28.6 8.4 -32.4 4.2 -13 12.8 -29 13.5 -34 4.8 -9 5.7 -8 5.8 -6.6 6.8 -6.4 27.6 -21.7 8 -7 8.4 -9.1 11.6 -14.8 5.9 -6 7.5 -5.6 15 -8.8 2.3 -2 0.8 -1.6 -0.3 -2 -1.5 -2 -6.7 -5 -16 -9 -20 -10.4 -2.7 -1 -0.9 -1 -0.3 -2.6 -0.5 -0.4 -0.5 -2.6 -0.5 -0.4 -0.6 -2.6 -1 -1.4 0 -1 -1 -1.6z" fill="#0000ff"/>
<path d="M298.4 50.2l361.4 0 0 659.6 -215.3 0 -1.5 -1.6 0 -0.4 -13 -13 0 -0.6 -2.2 -2.2 -0.6 0 -18 -18 -0.4 0 -4 -4 -0.6 0 -3 -3 -0.4 0 -8.6 -7.6 -0.4 0 -2 -2 -0.6 0 -2.4 -2.5 -0.6 0 -1.4 -1.5 -0.6 0 -2 -2 -0.4 0 -2 -2 -0.6 0 -1.4 -1.5 -0.6 0 -4 -3.5 -0.4 0 -8.1 -7.2 -0.1 -1 -0.5 -0.4 0 -2.6 -0.5 -0.4 0 -2.6 -0.5 -0.4 0 -2.6 -0.5 -0.4 0 -2.6 -0.5 -0.4 0 -2.6 -0.5 -0.4 0 -2.6 -0.5 -0.4 0 -2.6 -0.4 -0.4 -0.2 -2 0.1 -4.6 1.2 -2 2 -1.7 4.1 -2.7 23.2 -13.6 15.2 -9.4 11 -7.6 9.6 -7.4 6.4 -6 4.2 -5 2.1 -4 -0.1 -2 -0.5 -1 -5.8 -1.3 -9 -1 -8.4 -0.5 -9.6 0.1 -22.4 1.5 -32.6 4 -9 0.5 -8.4 -0.1 -10.6 -0.8 -10.7 -2 -10.3 -2.8 -9 -3.5 -7.8 -4.1 -7.6 -5.4 -7 -6.2 -6.4 -7 -9.7 -14 -37.3 -58.4 -2.9 -6 -2.7 -7.6 -3.2 -10 -1.6 -7 -4.2 -32.5 -0.9 -12.9 -0.3 -13 0.2 -7 0.8 -7 4.3 -27 7.3 -34.6 2.3 -8.4 2.1 -6 13 -30 12 -32 4.7 -9.1 6 -8.5 5.5 -6.1 6.7 -6.3 27.3 -21.7 8 -7.1 8 -8.5 11.1 -14.3 6.7 -7 7.6 -5.7 16.5 -9.3 2.1 -1.7 0.9 -1.7 -0.3 -2 -1.5 -2 -2.9 -2.6 -4.4 -3 -17.2 -9.4 -21.6 -11.3 -2.6 -0.8 -0.8 -0.9 -0.5 -2.6 -1 -2 0 -1 -0.5 -0.4 -0.5 -2.6 -1 -1.4 0 -1 -1 -1.5z" fill="#0000ff"/>
<path d="M298.4 50.2l361.4 0 0 659.6 -215.3 0 -1.5 -1.6 0 -0.4 -13 -13 0 -0.6 -2.2 -2.2 -0.6 0 -18 -18 -0.4 0 -4 -4.1 -0.6 0 -3 -3 -0.4 0 -8.6 -7.5 -0.4 0 -2 -2 -0.6 0 -2.4 -2.5 -0.6 0 -1.4 -1.5 -0.6 0 -2 -2 -0.4 0 -2 -2 -0.6 0 -1.4 -1.5 -0.6 0 -4 -3.5 -0.4 0 -8.1 -7.2 0 -1 -0.5 -0.4 0 -2.6 -0.5 -0.4 0 -2.6 -0.5 -0.4 0 -2.6 -0.5 -0.4 0 -2.6 -0.5 -0.4 0 -2.6 -0.5 -0.4 0 -2.6 -0.5 -0.4 -0.1 -9 1.9 -3 4 -3 24.2 -14.3 16.5 -10.3 11 -7.4 9.8 -7.6 8.1 -7 6 -6.4 3.1 -5.6 0.1 -2 -0.6 -1.4 -5 -1.4 -8.4 -1.2 -9 -0.5 -9 -0.1 -30 2.2 -29.6 3.4 -16 0.6 -9 -0.6 -8.4 -1.1 -8.6 -1.8 -8 -2.4 -8.6 -3.7 -7.8 -4.4 -7.5 -5.6 -6.7 -6.4 -5.8 -7 -7 -10.5 -11.6 -18.1 -7.4 -12.4 -12.8 -26 -4 -10 -3.4 -12 -4.1 -11.6 -2.3 -8 -2.9 -13.5 -1.8 -12.9 -0.7 -8.6 -0.1 -8.4 0.7 -21 0.7 -9.6 1.8 -14 3.4 -20.4 2.6 -13.6 2.3 -9 3.5 -9.4 11 -26 10.6 -30 4.5 -9 5.9 -8.6 5.5 -6.3 6.6 -6.1 26.4 -21.3 8.6 -7.6 9.3 -10.1 10.8 -14 5.9 -6 8 -5.7 16.5 -8.9 2.6 -2 0.8 -1.4 -0.1 -2 -0.8 -2.1 -3.3 -2.9 -4.3 -3 -18.2 -10 -24.2 -12.5 -2.6 -0.9 -1.2 -2.2 -1 -4 -0.5 -0.4 -0.6 -2.6 -1 -1.5 0 -0.9 -1 -1.6z" fill="#0008ff"/>
<path d="M298.4 50.2l361.4 0 0 659.6 -215.3 0 -1.5 -1.6 0 -0.4 -13 -13 0 -0.6 -2.2 -2.2 -0.6 0 -18 -18.1 -0.4 0 -4 -4 -0.6 0 -3 -3 -0.4 0 -8.6 -7.5 -0.4 0 -2 -2 -0.6 0 -2.4 -2.5 -0.6 0 -1.4 -1.5 -0.6 0 -4.4 -4 -0.6 0 -1.4 -1.5 -0.6 0 -2 -2 -0.4 0 -1.6 -1.6 -0.4 0 -4.6 -4.1 -0.3 -1.4 -0.5 -0.6 0 -2.4 -0.5 -0.6 0 -2.4 -0.5 -0.6 0 -2.4 -0.5 -0.6 0 -2.4 -0.5 -0.6 0 -2.4 -0.5 -0.6 0 -2.4 -0.5 -0.6 -0.5 -5.4 -0.5 -0.6 -0.5 -3.4 -1 -2.6 1.9 -2.4 4 -2.9 42 -25.7 11 -7.4 11.1 -8.6 9.4 -8 7.4 -8 2.2 -3.4 1 -2.6 0 -2 -0.7 -1.7 -6 -1.6 -9 -1.5 -8 -0.6 -8.4 -0.1 -37.6 2.9 -26 2.9 -15.4 0.6 -8 -0.4 -7.6 -0.9 -7.4 -1.4 -7 -2 -8.6 -3.2 -8 -4.2 -7 -4.9 -6.5 -5.9 -4.9 -5.6 -5 -6.8 -12 -18.5 -7.2 -12.1 -5.8 -12 -6.7 -19 -6.3 -24 -7 -18.4 -3 -9 -2.4 -9.6 -1.5 -9 -0.8 -12 -0.2 -24 0.4 -9.4 4.1 -36 1.6 -10 2 -8 3.2 -9.6 10.4 -25.4 9.9 -30 3.9 -8 5.4 -8 5.4 -6.4 6.4 -6.2 26.2 -21.1 8.4 -7.7 9.6 -10.4 10.9 -14.2 5.5 -5.8 4.1 -3.2 3.9 -2.6 19 -9.8 1 -3.2 -0.1 -3 -1.1 -2.4 -1.7 -2.1 -3.6 -2.5 -18.2 -10 -27.7 -14.1 -2.6 -0.9 -1.2 -2 -1 -4 -0.5 -0.4 -0.6 -2.6 -1 -1.4 0 -1 -1 -1.6z" fill="#0014ff"/>
<path d="M298.5 50.2l361.3 0 0 659.6 -215.3 0 -1.5 -1.6 0 -0.4 -12.9 -13 0 -0.6 -2.3 -2.3 -0.6 0 -18 -18 -0.4 0 -4 -4 -0.6 0 -3 -3 -0.4 0 -8.6 -7.5 -0.4 0 -2 -2 -0.6 0 -2.4 -2.5 -0.6 -0.1 -1.4 -1.5 -0.6 0 -4.4 -4 -0.6 0 -1.4 -1.5 -0.6 0 -2 -2 -0.4 0 -1.6 -1.5 -0.4 0 -4.6 -4.1 -0.2 -1.4 -0.5 -0.6 0 -2.4 -0.5 -0.6 0 -2.4 -0.5 -0.6 0 -2.4 -0.5 -0.6 0 -2.4 -0.5 -0.6 0 -2.4 -0.5 -0.6 0 -2.4 -0.5 -0.6 0 -2.4 -0.5 -0.6 0 -2.4 -0.5 -0.6 0 -1.4 -0.4 -0.6 -0.5 -4 1.6 -2.1 5 -3.7 28.6 -17.2 19.4 -12.4 11.1 -8 10.6 -8.6 9.1 -8 6.7 -7.4 2.1 -3.6 1.4 -3.4 0 -2 -0.7 -2 -2.7 -1 -14.6 -2.7 -7.4 -0.9 -7 -0.4 -9.6 0.4 -17.4 2 -20.6 1.6 -21.4 2.4 -9 0.5 -8.6 -0.1 -8.4 -0.7 -8 -1.3 -7.6 -1.9 -8 -2.9 -7.7 -4 -7.1 -5 -6 -5.6 -4.4 -5 -4.7 -6.5 -12.6 -19.5 -5.9 -10 -4.2 -8.4 -2.8 -8 -3.3 -13.6 -2.8 -18.4 -1.7 -7.6 -3.1 -9.4 -10.1 -25.9 -2.5 -8.7 -1.5 -8 -1.2 -21.4 0.2 -13 2.9 -40 1.3 -9 1.7 -7.6 2.7 -8 9.1 -23.4 9.4 -31 3.6 -7.6 4.9 -7.4 5.1 -6 6.3 -6.2 24.4 -19.9 9 -8.3 8 -8.7 12.3 -15.9 6.1 -6.6 3.6 -3 4 -2.6 18.6 -9 1.2 -2.4 0.7 -3 0 -2.4 -0.8 -2.6 -1.6 -2.4 -2.1 -2 -15.2 -8.6 -34.2 -17.3 -2.6 -0.9 -1.1 -1.8 -1 -4 -0.5 -0.4 -0.6 -2.6 -1 -1.4 0 -1 -1 -1.6z" fill="#001cff"/>
<path d="M298.5 50.2l361.3 0 0 659.6 -215.3 0 -1.5 -1.6 0 -0.4 -12.9 -13 0 -0.6 -2.3 -2.3 -0.6 0 -18 -18 -0.4 0 -4 -4 -0.6 0 -3 -3 -0.4 0 -8.6 -7.6 -0.4 0 -2 -2 -0.6 0 -2.4 -2.5 -0.6 0 -1.4 -1.5 -0.6 0 -4.4 -4 -0.6 0 -1.4 -1.5 -0.6 0 -2 -2 -0.4 0 -1.6 -1.5 -0.4 0 -4.6 -4.1 -0.1 -1.4 -0.5 -0.6 0 -2.4 -0.5 -0.6 0 -2.4 -0.5 -0.6 0 -2.4 -0.5 -0.6 0 -2.4 -0.5 -0.6 0 -2.4 -0.5 -0.6 0 -2.4 -0.5 -0.6 0 -2.4 -0.5 -0.6 0 -2.4 -0.4 -0.6 -0.3 -2 0 -4 1.4 -1.8 4.8 -3.6 36.7 -22.6 13.5 -8.8 12.5 -9.2 14.2 -11.4 8.6 -8 6.3 -8 1.8 -3.6 1.2 -3.4 0.1 -2.6 -0.7 -2.3 -2 -0.7 -23.6 -4.6 -7 -0.9 -6 -0.4 -10 0.6 -16.4 2.9 -22 1.3 -27.6 3 -7.4 -0.1 -8.6 -0.7 -7.4 -1.1 -7 -1.8 -7.1 -2.6 -7.3 -4 -6.2 -4.6 -5.7 -5.4 -5.8 -7.6 -21.9 -34.4 -3.8 -8.6 -1.9 -8.4 -0.8 -10 -0.4 -24 -0.8 -7.6 -1.3 -6 -1.8 -5.4 -2.4 -5 -9.8 -16.4 -3.6 -6.7 -2.4 -6.5 -1.7 -7 -0.3 -8.5 1.9 -27.5 0 -30 0.8 -8 1.5 -7.4 10 -27.6 8.5 -32 3.3 -7.3 4.4 -6.9 5 -6.1 5.7 -5.7 23.3 -19.1 9 -8.4 9 -10.2 12.4 -16.3 5.2 -5.5 4 -3.4 3.9 -2.5 17.5 -8.2 1.9 -2.8 1.1 -4.6 -0.1 -3 -1.1 -3 -1.8 -2.4 -3 -2.7 -15.5 -8.3 -33.9 -17 -1.6 -0.3 -1 -0.7 -1.1 -1.6 -1 -4 -0.5 -0.4 -0.6 -2.6 -1 -1.4 0 -1 -1 -1.6z" fill="#0028ff"/>
<path d="M298.5 50.2l361.3 0 0 659.6 -215.2 0 -1.5 -1.6 0 -0.4 -13 -13 0 -0.6 -2.3 -2.3 -0.6 0 -18 -18 -0.4 0 -4 -4.1 -0.6 0 -3 -3 -0.4 0 -8.6 -7.5 -0.4 0 -2 -2 -0.6 0 -2.4 -2.5 -0.6 0 -1.4 -1.5 -0.6 0 -4.4 -4 -0.6 0 -1.4 -1.5 -0.6 0 -2 -2 -0.4 0 -1.6 -1.5 -0.4 0 -4.6 -4.1 0 -1.4 -0.5 -0.6 0 -2.4 -0.5 -0.6 0 -2.4 -0.5 -0.6 0 -2.4 -0.5 -0.6 0 -2.4 -0.5 -0.6 0 -2.4 -0.5 -0.6 0 -2.4 -0.5 -0.6 0 -2.4 -0.5 -0.6 0 -9 0.6 -0.8 2.9 -2.6 5 -3.6 34.2 -21 13.3 -8.7 14.1 -10.3 15 -12 10.2 -9.4 6.1 -7.6 2.6 -4.4 1.6 -4 1 -4 -0.1 -2.6 -0.5 -2.3 -1 -1.1 -15.4 -3.8 -15.2 -4.8 -14.4 -6.4 -3.2 -2 -1.3 -1.6 0 -2 1.7 -2.4 21.8 -22 3.6 -4.6 2.2 -4.4 -6.4 -9.6 -0.5 -1.4 -1 -1 -0.5 -1.6 -1 -1 -0.5 -1.4 -1 -1 -0.5 -1.6 -1 -1 -0.5 -1.4 -1 -1 -0.5 -1.6 -1 -1 -0.5 -1.4 -1 -1 -0.5 -1.6 -1 -1 -2 -4 -1 -1 -3.6 -6.4 -2 -2.6 -0.5 -1.4 -2 -2.6 -0.5 -1.4 -2 -2.6 -0.5 -1.4 -2 -2.6 -0.5 -1.4 -2 -2.6 -0.6 -1.4 -1 -1 0 -0.6 -1 -1 0 -0.4 -1 -1 0 -0.6 -1 -1 0 -0.4 -1 -1 0 -0.6 -1 -1 0 -0.4 -1 -1 0 -0.6 -1 -1 0 -0.4 -1 -1 0 -0.6 -1 -1 0 -0.4 -1 -1 0 -0.6 -1 -0.9 0 -0.5 -1 -1 0 -0.6 -1 -1 0 -0.4 -1 -1 -2.1 -3.6 -1 -1 -1 -2 -1 -1 -0.2 -2 0.5 -0.4 0 -1 0.5 -0.6 -0.1 -1 1 -2 0 -1 0.5 -0.4 0 -1 0.5 -0.6 0 -1.4 0.5 -0.6 0 -1.4 0.5 -0.6 0 -1.4 0.5 -0.6 0 -2 0.5 -0.4 0 -2.6 0.5 -0.4 0 -8 -0.5 -0.6 0 -3.4 -0.5 -0.6 0 -2 -0.5 -0.4 0 -2 -0.5 -0.6 -0.1 -2 -0.5 -0.4 0 -1.6 -0.5 -0.4 -0.5 -3.6 -1 -2 0 -1.4 -1 -2 0 -1.6 -0.5 -0.4 0 -1 -0.5 -0.6 0 -1 -0.5 -0.4 -0.6 -2.5 -1.6 -1.5 -0.4 0 -4.6 -4.5 -0.4 0 -4.6 -4.5 -0.4 0 -4.6 -4.5 -0.4 0 -4.6 -4.5 -0.4 0 -4.6 -4.5 -0.4 0 -4.6 -4.5 -0.4 0 -40 -40.1 -5.6 2.3 -5 3.2 -4 3.7 -4.3 5.3 -5.4 8 -4.7 8 -8 17.9 -4.4 8.1 -6.6 10 -5.6 6.3 -2 1.6 -2 0.9 -1.4 0.1 -1.6 -0.6 -1.5 -1.5 -1.5 -2.3 -3.4 -7.8 -3 -9.5 -1.8 -8.2 -0.7 -7.4 0.4 -7 1.5 -6.5 6.9 -19.1 6.7 -32 1.9 -6.4 2.6 -5.6 4.9 -7.2 7 -7.7 23.6 -19.8 9 -8.6 8 -9.5 12.7 -17.2 5.3 -5.7 4 -3.6 4 -2.6 17 -7.7 2.2 -2.8 1.4 -4.6 0.2 -4.4 -1 -3.6 -2.6 -3.4 -3.8 -3.3 -14.8 -7.7 -34.6 -17.2 -2.4 -0.8 -1.2 -1.6 -1 -4 -2.2 -4.4 0 -1 -1 -1.6zM278.9 429.8l1.9 -0.5 2 0.7 2 1.5 1.8 2.3 3.2 6 3.9 12.4 2.6 6 3.6 4.6 5.2 3.4 10.7 4.8 40.4 15.6 10.6 2.9 8 1.6 6 0.6 12 0.3 6.4 1 3.6 1 2.5 1.2 1.1 1.6 -0.4 1.4 -1.8 2 -2.9 2 -4.1 2 -3.4 1.1 -5 0.8 -10.6 0.2 -5.4 0.5 -19 4.4 -6 0.9 -8.6 0.1 -9 -1 -7.9 -2 -6.5 -2.7 -3.7 -2.3 -3.3 -2.8 -3.1 -3.2 -2.9 -4 -3.9 -7.4 -5.9 -15 -2.7 -4.5 -3.3 -3.5 -9.2 -8 -4 -5.1 -0.7 -1.9 -0.3 -2.6 0.9 -7 2.5 -6.6 1.6 -2z" fill="#0030ff"/>
<path d="M298.5 50.2l361.3 0 0 659.6 -215.2 0 -1.5 -1.6 0 -0.4 -13 -13 0 -0.6 -2.3 -2.3 -0.6 0 -18 -18.1 -0.4 0 -4 -4 -0.6 0 -3 -3 -0.4 0 -8.6 -7.5 -0.4 0 -2 -2 -0.6 0 -2.4 -2.5 -0.6 0 -1.4 -1.5 -0.6 0 -2 -2 -0.4 0 -2 -2 -0.6 0 -1.4 -1.5 -0.6 0 -2 -2 -0.5 0 -0.1 -1.6 -0.5 -0.4 0 -1.6 -0.5 -0.4 0 -1.6 -0.5 -0.4 0 -1.6 -0.5 -0.4 0 -1.6 -0.5 -0.4 0 -1.6 -0.5 -0.4 0 -1.6 -0.5 -0.4 0 -1.6 -0.5 -0.4 0 -1.6 -0.5 -0.4 0 -1.6 -0.5 -0.4 0 -1.6 -0.5 -0.4 0 -1.6 -0.5 -0.4 0 -1.6 -0.5 -0.4 0 -1.6 -0.5 -0.4 0 -1.6 -0.5 -0.4 0 -1.6 -0.5 -0.4 0 -1.6 -0.5 -0.4 -0.6 -4 3.3 -3 5.5 -4 44 -27.6 23.9 -17.4 11.6 -9.6 8.5 -8 5.6 -6.4 4.3 -6.9 2.6 -5.5 2 -6.6 0.6 -4 -0.1 -6 -0.5 -1.6 -6.4 -2.4 -4.2 -2.5 -2.4 -2.4 -1.7 -2.7 -1 -3.4 0 -4 1.1 -5 2.1 -6.6 3.2 -8 5.3 -9.9 5 -8.1 5.4 -7 5 -5.4 6 -5.4 17.2 -12.6 4.8 -4.1 5.6 -5.8 4.2 -6.1 2.4 -4.6 1.9 -5 3 -12.4 1.7 -14 0.1 -6 -0.5 -6 -1.7 -9.6 -3.3 -11.4 -4.6 -13.6 -6.6 -17.4 -3.5 -8 -3.7 -7 -4.1 -6.6 -4.9 -6.4 -7.2 -8.6 -8.4 -8.4 -8.9 -8 -10.3 -8 -11.2 -7.9 -11.4 -7 -8.6 -4.3 -9 -3.5 -9 -2.7 -0.4 0.4 -0.1 -0.6 -0.9 -0.2 -0.6 0.4 -0.4 -0.2 0 -0.4 -1 -0.3 -1 0.8 -0.1 -1.1 -0.9 -0.2 -1 0.8 -0.2 -1 -1.4 -0.3 -1 0.8 0 -1.1 -1.4 -0.2 -1 0.8 -0.2 -1 -1.4 -0.3 -1.4 1.3 0 1 -0.2 -2.6 -1.8 -0.2 -1.5 1.2 -0.5 2.6 -0.1 -4 -1.9 -0.2 -1.3 1.2 -0.5 2.4 -0.5 0.6 -0.5 4.4 -0.6 0.6 0 3 -0.5 0.4 0 3 -0.5 0.6 0 4 -0.5 0.4 0 4 -0.5 0.6 0 5 -0.5 0.4 0 5 -0.5 0.6 0 6 -0.5 0.4 0 6 -0.5 0.6 0 7 -0.5 0.4 0 7 -0.4 0.6 0 8 -0.5 0.4 0 8 -0.5 0.6 -0.4 15 -0.4 0 0 -1 -2.2 -4.6 0 -1 -1 -2 0 -1.4 -0.5 -0.6 0 -1 -0.5 -0.4 0 -1 -0.5 -0.6 0 -1 -1 -2 -0.5 -2.4 -0.5 -0.6 0 -1.4 -0.5 -0.6 -0.5 -2.4 -2.3 -5.6 -0.5 -2.4 -1 -1.6 -0.5 -2.4 -1 -1.6 -0.5 -2.4 -1 -1.6 -0.5 -2.4 -1 -1.6 -0.5 -2.4 -1 -1.6 -0.5 -2.4 -1 -1.6 0 -1 -0.5 -0.4 0 -1 -0.5 -0.6 -1.7 -5.4 -0.5 -0.6 0 -1 -0.5 -0.4 0 -1 -0.5 -0.6 -1 -4 -0.5 -0.4 0 -1 -1 -2 0 -1 -0.5 -0.6 0 -1 -0.5 -0.4 0 -1 -0.5 -0.6 0 -1 -0.5 -0.4 0 -1 -1 -2 0 -1 -0.5 -0.6 0 -1 -0.5 -0.4 0 -1 -0.5 -0.6 0 -1 -0.5 -0.4 0 -1 -1.2 -2.2 -16 3 -13 2.9 -6.6 2 -6.4 3 -11.2 6.3 -8.8 5.5 -4.7 3.9 -11.3 11.7 -6 5.5 -4.6 3 -1 0.1 -1 -0.7 -0.8 -4 -0.8 -19 0.8 -14.6 0.9 -7.4 1.1 -5.6 1.6 -4.4 2.5 -4.6 3.7 -5 5.6 -6 22 -19 7 -6.9 8 -9.8 13.4 -18.7 5.6 -6.5 4.4 -3.9 4 -2.6 17 -8 2.3 -3 1.3 -5 0.2 -4.6 -0.7 -3.4 -1.7 -3 -2.8 -3 -3.6 -2.7 -7.2 -3.9 -42.2 -20.8 -2 -0.6 -1.6 -1.6 -1 -4 -2.2 -4.4 0 -1 -1 -1.6z" fill="#003cff"/>
<path d="M298.6 50.2l361.2 0 0 659.6 -215.2 0 -1.5 -1.6 0 -0.4 -13 -13 0 -0.6 -2.3 -2.3 -0.6 0 -18 -18.1 -0.4 0 -7.6 -7 -0.4 0 -2.6 -2.5 -0.4 0 -2.6 -2.5 -0.4 0 -2.6 -2.5 -0.4 0 -5.4 -4.5 -1 -2 0 -1 -1 -1.6 0 -1 -1 -1.4 0 -1 -1 -1.6 0 -1 -1 -1.4 0 -1 -1 -1.6 0 -1 -1 -1.4 0 -1 -1 -1.6 0 -1 -1 -1.4 0 -1 -1 -1.6 0 -1 -1 -1.4 0 -1 -1 -1.6 0 -1 -1 -1.4 0 -1 -1 -1.6 0 -1 -1 -1.4 0 -1 -0.5 -0.6 -0.7 -2.4 -3 -5.6 0 -1 2.6 -2.4 5.5 -4 40.9 -25.8 11.3 -7.8 12.7 -9.4 11.6 -9 9 -8 6.4 -6.6 5.6 -7 3.4 -5.8 3.1 -6.2 10.1 -26 4.8 -11.1 0.7 -1.8 -0.1 -3.5 0.4 -3 2.4 -6 2.9 -4 3.7 -3.4 5 -2.7 6.6 -1.8 4.4 -4.1 4.1 -5 3.9 -6.4 4 -7.8 3.6 -8.1 3.2 -9.3 2.8 -10 1.9 -9 1.4 -9.4 0.9 -10.6 0.3 -8 -0.5 -10 -1.1 -10 -1.9 -9.3 -5.4 -20.1 -8.2 -25.2 -3.4 -9.2 -3.6 -7.9 -3.4 -6.6 -3.6 -5.4 -2.4 -2.8 -13.6 -10.5 -31.4 -21.9 -11.8 -7.5 -11.2 -5.9 -12.6 -4.7 -16 -4.1 -17 -3 -6 -0.5 -5.4 0.1 -23.6 3.3 -11 1.1 -13 0.8 -16.4 0 -4 0.4 -3.6 1.1 -4.4 2.3 -14.1 10.1 -8.5 4.4 -4 1.3 -3.4 0.4 -3 -0.7 -2 -1.6 -1.2 -1.8 -0.9 -2.6 -0.5 -3 0.1 -3.4 1.3 -5.6 3.4 -5.4 5.8 -6.6 20.4 -19.5 5 -5.4 6.6 -8.6 13.1 -19.9 6.5 -8 4.3 -4 4.5 -3.1 17.6 -8.4 2 -2.7 1.1 -4.8 0.5 -5.6 -0.5 -4 -1.7 -3.4 -3.1 -3.6 -4.7 -3.4 -4.7 -2.6 -44.9 -22 -1.8 -0.4 -0.6 -0.6 -0.1 -1 -2.5 -4.4z" fill="#0044ff"/>
<path d="M298.6 50.2l361.2 0 0 659.6 -215.2 0 -1.5 -1.6 0 -0.4 -12.9 -13 0 -0.6 -2.4 -2.4 -0.6 0 -18 -18 -0.4 0 -4 -4 -0.6 0 -6 -5.6 -28.5 -57 -0.1 -1 3.2 -3 6.4 -4.4 30 -18.8 13.6 -8.9 24.7 -18.3 9.9 -8 7.5 -7 6.3 -7 5.6 -7.5 3.4 -5.8 12.6 -23.7 5.2 -8.6 5.6 -8 17.2 -21.6 6.4 -9.4 5 -8.9 5.6 -12.3 3.4 -9.8 3 -10.6 2.4 -10.8 1.5 -10.6 1 -12 0.1 -8.2 -0.4 -9.1 -1.4 -11.7 -2.2 -9.6 -6 -22.3 -7.4 -22.9 -5.2 -13.2 -5.4 -11 -6.4 -10.6 -7 -9.5 -8 -9 -15.6 -9.2 -18 -11.9 -7.4 -4.3 -15 -6.7 -6.7 -2.2 -7.3 -1.9 -25.6 -4.9 -11 -1.5 -7.4 0.3 -21 3 -13.6 0.4 -19 -0.7 -18 -1.7 -5 -0.8 -2.1 -1.2 -0.8 -2 0.9 -3 7.6 -12.4 12 -22.2 5.4 -8.7 5.9 -7.3 5.7 -4.8 6.1 -3.6 13.3 -6.1 1.9 -1.5 1.2 -1.9 0.8 -3.1 0.5 -10 -0.7 -4 -1.8 -3.4 -3.3 -3.6 -4.7 -3.4 -50.3 -24.7 -2 -0.7 -2.9 -5.6 -0.8 -2.6 -1 -1.4 0 -1 -1 -1.6z" fill="#0050ff"/>
<path d="M298.6 50.2l361.2 0 0 659.6 -215.2 0 -1.5 -1.6 0 -0.4 -12.9 -13 0 -0.6 -2.4 -2.4 -0.6 0 -18 -18 -0.4 0 -4.3 -4 -32 -64 -0.1 -1 2.9 -2.5 5.7 -4.1 29.8 -18.7 18.4 -12.5 22.9 -17.2 12.7 -11 6.2 -6.6 5.9 -7.4 22.8 -36 22.1 -28.9 8.4 -13.6 6.6 -13 5.4 -14.2 4.6 -16.3 3 -16 1.4 -16.6 -0.2 -13 -1.7 -15.4 -2.1 -9.3 -6 -22.7 -8 -24.7 -6 -15.1 -5 -10.2 -5.4 -9.2 -5.2 -7.4 -7.2 -9 -5.6 -9.4 -3.5 -3.6 -9.5 -5.2 -15 -9.7 -7.2 -4.1 -14.4 -6.1 -12 -3.9 -35.4 -6.2 -9.6 -1.2 -5.4 0.1 -14.6 2.2 -7.4 0.7 -7.6 0 -11 -0.8 -8.4 -1.2 -5.6 -1.3 -4 -1.7 -2.4 -2 -1.2 -2 -0.7 -2.6 -0.1 -3 0.4 -3.4 2.9 -10 4.7 -10.6 5.4 -8.1 3 -3.4 3.6 -3.1 6 -4 16 -7.7 1.3 -1.1 1.2 -2.5 0.5 -3.5 0.1 -9.6 -0.4 -4 -1.3 -3.4 -2.5 -3.6 -3.4 -3 -5.1 -3.3 -49.4 -24 -2 -0.7 -4.7 -9.4 0 -1 -1 -1.6z" fill="#005cff"/>
<path d="M298.7 50.3l361.1 -0.1 0 659.6 -215.1 0 -1.5 -1.6 0 -0.4 -13 -13 0 -0.6 -2.4 -2.4 -0.6 0 -16.2 -16.6 -35.5 -71 -0.1 -1 7.4 -5.4 28 -17.7 18.4 -12.7 22 -16.4 13.9 -11.8 5.9 -6 5.4 -6.4 23.1 -34 16.4 -20.6 6.3 -8.7 9 -14.7 7 -14.2 5.6 -14.3 4.4 -16 3 -16.1 1.6 -17.4 -0.2 -13.6 -1.8 -16 -6.1 -25 -2.9 -10 -8 -24.6 -7.6 -17.9 -8 -14.4 -5 -7.5 -6.8 -9 -6.2 -10.6 -6.4 -7.6 -8.6 -7.9 -10.2 -6.5 -8.2 -4.2 -15.8 -6.2 -11.8 -3.7 -37.4 -5.9 -8.6 -0.9 -7.4 0.1 -19 2.1 -11.6 -0.5 -8 -1.2 -5.4 -1.5 -4.2 -2.1 -3 -2.4 -1.6 -2.6 -0.8 -2.4 -0.4 -3.6 0.2 -3.4 0.8 -4 1.4 -4.6 1.8 -4 2.2 -3.4 4.6 -5.4 5 -4.1 5.8 -3.5 14.2 -7.2 2 -2.2 0.8 -5.2 -0.5 -12 -0.7 -4.4 -1.6 -3.6 -2.4 -3 -3.5 -3 -5.3 -3.4 -49.8 -24.1 -1.6 -0.3 -1.2 -1.6 -3.8 -8 0 -1 -1 -1.6z" fill="#0064ff"/>
<path d="M298.7 50.2l361.1 0 0 659.6 -215.1 0 -1.5 -1.6 0 -0.4 -13 -13 0 -0.6 -2.4 -2.4 -0.6 0 -14.5 -14.6 -2.7 -5.4 0 -1 -2.5 -4.6 0 -1 -2.5 -4.4 -0.1 -1 -1.9 -3.6 -0.1 -1 -2 -3.4 0 -1 -2 -3.6 0 -1 -2 -3.4 0 -1 -1.5 -2.6 -1.5 -4.4 -1.5 -2.6 0 -1 -1.5 -2.4 0 -1 -1.5 -2.6 0 -1 -10.8 -21.4 0 -1 6.7 -5 27.6 -17.6 14.9 -10.1 23.3 -17.3 14.3 -12 6 -6 5.9 -7 23.1 -32.6 16.4 -19.9 6 -8.2 9.4 -15.7 7 -14.3 6 -15.8 4.6 -16.2 3 -16.5 1.4 -16.8 -0.2 -13.6 -1.8 -16 -7 -28.5 -7.4 -23.9 -6 -16.3 -6.6 -14 -8 -13.7 -9.7 -13.6 -4.7 -9 -2.6 -3.6 -4 -4.8 -6.7 -7 -12.7 -11.9 -5 -3.6 -4 -1.8 -16 -5.7 -11.5 -3.1 -36.5 -5.5 -9 -1 -9 -0.1 -18 1.4 -9.6 -0.5 -5.4 -1 -5 -1.6 -3.9 -2.2 -2.7 -2.3 -2.3 -4.1 -0.6 -5 1.3 -6.6 2.6 -4.7 3.6 -4 4.5 -3.7 5.5 -3.5 14.4 -8 1.8 -2.1 0.6 -2.4 -0.2 -4 -1.3 -14 -1 -4.6 -1.8 -3.4 -2.7 -3 -3.7 -3 -5.6 -3.6 -49.5 -23.7 -1.4 -0.3 -1.3 -1.4 -3.9 -8 0 -1 -1 -1.6z" fill="#0070ff"/>
<path d="M298.7 50.2l361.1 0 0 659.6 -215.1 0 -1.5 -1.6 0 -0.4 -16.1 -16.6 -45 -90 -0.1 -1 5.3 -4 29.5 -19 12 -8.2 24.4 -18.2 13 -11 5.9 -6 5.6 -6.6 20.7 -28.4 18.7 -22.6 7.1 -9.7 9.6 -16.2 7 -14.6 5.9 -15.9 4.5 -17.1 2.7 -15.5 1.5 -18.4 -0.6 -16.2 -2 -14.4 -8 -31.4 -7.6 -23.3 -6.4 -16.6 -5 -10.3 -5.7 -9.8 -5.3 -8.2 -6.2 -8.4 -5.9 -11 -6.9 -8.8 -10 -10.4 -9.8 -8.8 -9.8 -7.1 -4 -2.3 -3.4 -1.6 -10 -2.8 -8.6 -1.8 -41.9 -6.4 -10.5 -0.6 -18 0.7 -7.6 -0.4 -7 -1.7 -5.1 -3 -2.9 -3.3 -1.1 -3.7 0.4 -4 2.1 -4 2.5 -3 3.1 -2.7 18 -11.6 1.7 -1.7 0.9 -1.4 0 -4.1 -1.8 -10.9 -0.9 -8.6 -1.3 -4.4 -1.7 -3 -2.8 -3 -3.8 -3 -5.7 -3.6 -50 -23.8 -1 -0.2 -1.6 -1.4 -4 -8 0 -1 -1 -1.6z" fill="#0078ff"/>
<path d="M301.3 50.2l358.5 0 0 659.6 -215.1 0 -7.6 -8.6 -51 -102 0 -1 6.2 -4.4 37 -24.6 24.5 -18.2 13.2 -11.2 6.4 -6.6 5.5 -6.4 20.3 -27.6 19 -22.4 7 -9.6 9.6 -16.4 7 -14.8 5.9 -16.2 4.5 -17 2.7 -15.6 1.5 -18.4 -0.6 -15.9 -2 -14.8 -8 -31.5 -8 -24.9 -6.6 -16.3 -5 -10.3 -6 -10.4 -10.6 -15.5 -6.3 -11.4 -7.5 -9.7 -11 -11.5 -11.2 -9.8 -11.8 -8 -11.6 -6.1 -9.4 -2 -45.6 -7.3 -8.4 -0.9 -19 -0.8 -4 -0.9 -2.7 -1.6 -1.9 -2 -0.8 -2 0.1 -2.4 1 -2.6 3.8 -4.4 12.3 -10.6 1.5 -2 0.8 -2 -0.2 -3 -1.6 -5.4 -1.9 -8.6 -1.4 -10 -1.7 -4.4 -2.1 -3 -3.2 -3 -9.4 -6 -49.7 -23.6 -0.9 -0.2 -0.4 -0.3 -0.1 -2.4 -1 -2.1 0 -1 -0.5 -0.4 0 -1 -0.5 -0.6 -1 -4 -0.5 -0.4 0 -1z" fill="#0084ff"/>
<path d="M301.4 50.2l358.4 0 0 659.6 -215.1 0 -4.2 -5 -2 -4 0 -1 -3 -5.6 0 -1 -3 -5.4 0 -1 -2.5 -4.6 0 -1 -2.5 -4.4 0 -1 -2.5 -4.6 0 -1 -2.5 -4.4 0 -1 -2.5 -4.6 0 -1 -2.5 -4.4 -0.1 -1 -1.9 -3.6 -0.1 -1 -2 -3.4 0 -1 -2 -3.6 0 -1 -2 -3.4 0 -1 -1.5 -2.6 -1.6 -4.4 -1.5 -2.6 0 -1 -1.5 -2.4 0 -1 -1.5 -2.6 0 -1 -10.8 -21.4 0 -1 42.1 -28.6 22.7 -17.1 12 -10.3 6 -6.1 5.9 -6.9 20.2 -27 18.9 -22.1 8 -10.9 9.4 -16.8 7.5 -16.2 5.5 -15.9 4.3 -16.7 2.5 -16 1.3 -17 -0.8 -16 -0.9 -8.4 -1.4 -7.5 -5.4 -22.4 -2.5 -8.7 -7.9 -24.4 -6.6 -16.6 -5 -10.3 -6 -10.4 -10.5 -15.3 -6.1 -11.2 -8.4 -10.8 -11.6 -12 -12 -10.4 -11.7 -8 -14.1 -7.6 -7.6 -2.8 -26.6 -4.7 -23 -4.9 -6.4 -2 -3.8 -2 -1.5 -2 -0.4 -3 0.9 -3 3.2 -6.7 0.6 -2.3 0 -2.6 -5 -11.7 -1.8 -7.3 -1.4 -9.4 -1.2 -3 -1.8 -3 -2.4 -2.6 -3.1 -2.4 -9.1 -5.6 -50.2 -23.4 -0.4 -2.6 -0.5 -0.4 0 -1 -1 -2 -1 -4 -0.5 -0.6 -0.5 -2.4z" fill="#008cff"/>
<path d="M301.5 50.2l358.3 0 0 659.6 -206.6 0 -57.5 -115 0 -1 6 -4.6 24.1 -16.1 14.4 -10.3 18.6 -14.4 10.3 -9.2 5.4 -5.4 5.6 -6.6 20.4 -27 19.3 -22.4 8 -11.1 9.4 -16.9 7.6 -16.6 5.4 -16 4.6 -18.2 2.4 -16.8 0.8 -16.4 -0.2 -8.1 -1 -10.9 -2.3 -13 -5.7 -22.9 -7 -22.6 -4.6 -12.9 -5 -12.1 -8 -15.7 -5.4 -9 -8 -11.4 -5.6 -10.5 -4.4 -6.2 -5 -6 -10.5 -10.9 -10.5 -9.4 -10.8 -8 -11.6 -7 -11.1 -5.4 -9.5 -4 -28 -7.4 -7.2 -2.6 -4.3 -2.6 -3.3 -4 -3.1 -9.4 -6.3 -10 -3.4 -9.1 -1.2 -8.5 -0.9 -3.4 -1.4 -3 -2.3 -3 -5.4 -4.6 -9.2 -5.3 -49.6 -23.1 -0.7 -2.6 -0.5 -0.4 0 -1 -0.5 -0.6 0 -1 -0.5 -0.4 0 -1 -0.5 -0.6 0 -1 -0.5 -0.4 0 -1 -0.5 -0.6 0 -1 -0.5 -0.4 0 -1z" fill="#0098ff"/>
<path d="M301.7 50.2l358.1 0 0 659.6 -199.4 0 -59 -118 0 -1 28.4 -19.8 17.5 -12.8 13.5 -10.7 9.7 -8.7 9.6 -10.6 20.9 -27.4 19.8 -23.1 4.5 -5.9 4.5 -7.1 9.4 -17.5 7 -16.1 5.6 -16.8 4 -17.1 2.3 -17.4 0.6 -15 -0.5 -9.8 -1 -9.8 -2.4 -13.3 -5.5 -21.7 -7.1 -22.7 -5 -14.2 -5 -11.8 -8.4 -16.3 -5.6 -8.8 -6.7 -9.6 -5.7 -11 -4.5 -6.2 -6.5 -7.7 -9 -9.3 -9.3 -8.4 -9.3 -7.1 -9.7 -6.3 -10.5 -6 -9 -4.6 -8.8 -3.5 -14 -4.4 -11 -5.1 -7.4 -4.7 -4 -3.9 -8.3 -9.8 -2.5 -3.6 -4.2 -10 -1.6 -8 -1.6 -5 -1.5 -3 -2.5 -3 -5.7 -4.4 -8.9 -5 -38.9 -18 -10.3 -5.3 -1.1 -1.3 0 -1 -0.5 -0.4 0 -1 -0.5 -0.6 0 -1 -0.5 -0.4 0 -1 -0.5 -0.6 0 -1 -0.5 -0.4 0 -1 -0.5 -0.6 0 -1z" fill="#00a0ff"/>
<path d="M313.7 50.8l0.5 -0.6 345.6 0 0 659.6 -192.7 0 -0.5 -0.6 -60 -120 0 -1 45.8 -33 9.8 -8 9.6 -8.9 9.1 -10.1 20.3 -26.6 20.6 -24 5 -6.9 5 -8.1 8.4 -16.1 7 -16.4 5 -15.5 4 -17 2.1 -14.8 1 -17 -1.1 -17 -1 -7.8 -1.4 -7.5 -5 -20.5 -3 -10.2 -7.3 -22.6 -6.7 -17.1 -5.6 -11.3 -5.4 -9.7 -10.7 -15.9 -6.1 -11.4 -7.8 -10.2 -8.1 -8.8 -9.8 -9.6 -8.5 -7 -9.2 -6.4 -13.2 -8 -12.6 -6.7 -8 -3.3 -9.6 -2.8 -4 -1.6 -11 -6.2 -7.4 -5.4 -8.6 -7.9 -4.2 -5.1 -2.4 -4.6 -2 -5 -1 -3.4 -0.8 -5 -1.3 -3.6 -3.1 -5.4 -3.8 -4 -5.7 -4 -8.1 -4.4 -29.8 -13.6 -18.3 -9 0 -1z" fill="#00acff"/>
<path d="M314.7 50.2l345.1 0 0 659.6 -185.4 0 -0.5 -0.6 -61.5 -123 0 -1 43.1 -31.4 9.3 -7.8 8.4 -8.3 10.1 -11.5 19.8 -26 19.7 -22.8 5 -7.2 5.9 -10 7.7 -15 6.8 -16.3 5 -16 4 -18.1 2.1 -17.6 0.5 -14 -1.6 -19 -2.4 -13 -5 -20.3 -7 -22.8 -4.6 -13.2 -5.4 -13.3 -8.6 -16.6 -6 -9.7 -6.5 -9.5 -5.6 -10.6 -4.3 -6.2 -5 -6.1 -9 -9.7 -8.5 -8 -8.4 -7 -9.2 -6.4 -13 -8 -12.9 -6.9 -7.6 -3.2 -13.4 -4.4 -12.6 -7.8 -9.4 -7.1 -4.6 -4.2 -3.3 -4 -2.5 -4.4 -2.2 -5 -2 -9 -1.4 -3.6 -4.5 -6.4 -4.4 -4 -5.3 -3.6 -7.6 -4 -27.4 -12.4 -18.4 -9 0 -2 0.5 -0.6 1 -4 0.5 -0.4 1 -4 1 -1.6z" fill="#00b8ff"/>
<path d="M319.7 50.8l0.5 -0.6 339.6 0 0 659.6 -177.9 0 -0.5 -0.6 -63 -126 0 -1 41.8 -31.4 7.6 -6.6 8 -8 9.2 -11 17.3 -23 16.9 -19.5 5.5 -6.9 6.5 -10.1 8 -14.7 7.6 -16.8 5.4 -15.9 4.6 -18.5 2.5 -17 1 -16.6 -1 -17 -1.9 -13 -5.2 -21.4 -2.4 -9.1 -8 -25.4 -5 -13.1 -5 -11.2 -6.6 -12.2 -5.4 -8.9 -6.7 -9.7 -5.9 -10.9 -4.4 -6.4 -6 -7.2 -7.6 -7.9 -9.5 -9 -8.6 -7 -9.3 -6.6 -13.8 -8.4 -11.3 -6 -7 -3 -10.5 -3.2 -3.4 -1.4 -16 -10.6 -6.4 -4.8 -4.9 -5 -3.6 -6 -2.7 -6.6 -1.6 -7.4 -1.8 -4 -5.3 -6.6 -4 -3.4 -5.4 -3.6 -7.6 -4 -24.2 -11 -17.6 -8.4 0 -2 0.5 -0.6 1 -4 0.5 -0.4 0.5 -2.6 0.5 -0.4 0 -1 2 -4z" fill="#00c0ff"/>
<path d="M328 50.2l331.8 0 0 659.6 -170.1 0 -0.5 -0.6 -64.5 -129 0 -1 36.5 -28.2 8.9 -7.8 6.7 -7 8.7 -10.4 17.2 -23 17.5 -20.4 5 -6.4 7.6 -11.7 8 -15.1 7.3 -17 5.2 -16 4.5 -18.8 2.2 -17.2 0.7 -16.4 -1.2 -17 -1.7 -10.8 -5 -21.1 -3 -10.7 -7.6 -23.8 -4.4 -12 -5 -11.4 -7.6 -14.3 -5 -8.1 -6.7 -9.8 -5.7 -10.8 -8.5 -11.3 -8.1 -8.8 -9.4 -9.1 -9 -7.6 -9 -6.4 -13.5 -8.6 -12.7 -7 -8.1 -3.4 -13.3 -4.3 -14.8 -9.7 -6.7 -5 -4.4 -4.6 -3.7 -6 -2.7 -6.4 -1.7 -7.6 -1.9 -4 -3.1 -4 -7 -6.4 -5.5 -3.6 -6.9 -3.6 -36.3 -16.8 0 -2 0.5 -0.6 1 -4 0.5 -0.4 1 -4 1 -1.6 0 -1 1 -1.4 0 -1 1 -1.6z" fill="#00ccff"/>
<path d="M335.8 50.8l0.5 -0.6 323.5 0 0 659.6 -156.8 0 -3 -6 -1 -1 -3 -6.6 -1 -1 -2.5 -5.4 -1 -1 -2.5 -5.6 -1 -1 -2.5 -5.4 -1 -1 -2.5 -5.6 -1 -1 -2 -4.4 -0.9 -1 -2.1 -4.6 -0.9 -1 -2 -4.4 -1 -1 -2 -4.6 -1 -1 -5 -10 -0.9 -1 -4 -8 -1 -1 -1.5 -3.4 -1 -1 -1.5 -3.6 -1 -1 -1 -2.4 -2.7 -4.6 -17.5 -35 -0.1 -1 1.7 -1.4 20.6 -16.1 10.6 -8.6 7.9 -7.3 5.8 -6 6.3 -7.7 18.4 -25 21.6 -25.5 5 -7.2 7 -12.2 7.4 -15.4 6 -15.2 4.6 -14.8 3.4 -15.6 2 -14.4 0.9 -15 -0.5 -13.6 -1.8 -15.3 -8 -32.9 -7.6 -24 -6.4 -17.2 -5 -10.9 -5.6 -10.4 -5.4 -9 -6.7 -9.7 -5.9 -11 -5 -7.1 -8.4 -9.9 -10.6 -10.5 -9.8 -8.5 -9.5 -7 -14.2 -9 -12.6 -7 -7.9 -3.6 -14 -4.5 -12.8 -8.5 -7.4 -5.4 -4 -4 -3.8 -6 -3 -7.6 -1.4 -6.4 -2 -4 -3.6 -4.6 -6.8 -6 -5.3 -3.4 -7.5 -4 -32.4 -15 -0.4 -1z" fill="#00d4ff"/>
<path d="M339 50.2l320.8 0 0 659.6 -145.7 0 -1 -1 -1.5 -3.6 -1 -1 -1.5 -3.4 -1 -1 -1.5 -3.6 -1 -1 -1.5 -3.4 -1 -1 -1.5 -3.6 -1 -1 -1.5 -3.4 -1 -1 -1.5 -3.6 -1 -1 -1.5 -3.4 -1 -1 -1.5 -3.6 -1 -1 -1.5 -3.4 -1 -1 -1.5 -3.6 -1 -1 -1.5 -3.4 -1 -1 -1.5 -3.6 -1 -1 -1.5 -3.4 -1 -1 -1.5 -3.6 -1 -1 -1.5 -3.4 -1 -1 -1.5 -3.6 -1 -1 -1.5 -3.4 -1 -1 -1.5 -3.6 -1 -1 -4 -8 -1 -1 -1 -2.4 -2.9 -4.6 -1 -2.4 -1 -1 -1 -2.6 -1 -1 -1 -2.4 -1 -1 -12.1 -24 0 -1 1.5 -1.6 17.1 -13.6 9.6 -8.1 8.4 -8.1 6.2 -6.6 5.5 -7 16.2 -22.6 17.8 -21 5.3 -6.8 5 -7.5 7.6 -13.5 6.4 -13.7 5.6 -14.1 4.8 -16.4 3.2 -14.4 1.8 -14 1 -15.6 -0.7 -14.4 -1.8 -14 -7.9 -32.5 -7.4 -24.1 -6.6 -17.3 -5 -10.9 -5.4 -10.4 -5.6 -9.1 -6.9 -10.3 -5.5 -10.4 -4.6 -6.5 -8 -9.6 -9.7 -9.9 -10.1 -9 -10.6 -8 -14 -9 -13.3 -7.6 -7.9 -3.4 -14.4 -4.8 -12 -7.9 -6.5 -4.9 -4.1 -4 -3.8 -6 -3 -7.4 -1.4 -6.6 -2.1 -4 -4.2 -5 -7.1 -6 -5.3 -3.4 -6.9 -3.7 -28.9 -13.3 0 -2 0.5 -0.6 1 -4 0.5 -0.4 0.6 -2.6 0.5 -0.4 0 -1 1 -1.6 0 -1 1 -1.4 0 -1 1 -1.6 0 -1 1 -1.4 0 -1 1 -1.6z" fill="#00e0fa"/>
<path d="M344.8 50.2l315 0 0 659.6 -132.9 0 -2.5 -5 -1 -1 -1 -2.6 -1 -1 -1 -2.4 -1 -1 -1 -2.6 -1 -1 -1 -2.4 -1 -1 -1 -2.6 -1 -1 -1 -2.4 -1 -1 -1 -2.6 -1 -1 -1 -2.4 -1 -1 -1 -2.6 -1 -1 -1 -2.4 -1 -1 -1 -2.6 -1 -1 -1 -2.4 -1 -1 -1 -2.6 -1 -1 -1 -2.4 -1 -1 -1 -2.6 -1 -1 -1 -2.4 -1 -1 -1 -2.6 -1 -1 -1 -2.4 -1 -1 -1 -2.6 -1 -1 -1 -2.4 -1 -1 -1 -2.6 -1 -1 -1 -2.4 -1 -1 -1 -2.6 -1 -1 -1 -2.4 -1 -1 -1 -2.6 -1 -1 -1 -2.4 -1 -1 -1 -2.6 -1 -1 -1 -2.4 -1 -1 -1 -2.6 -1 -1 -1 -2.4 -1 -1 -1 -2.6 -1 -1 -1 -2.4 -1 -1 -1 -2.6 -0.9 -1 -2 -4 -2.5 -3.4 -0.5 -1.6 -1 -1 -1.8 -3.4 -1 -1 0 -0.6 -1 -1 -2 -3.4 0 -1 1 -1 15.5 -12.9 7.6 -6.9 8.2 -8.2 6.6 -7.6 17.6 -24.8 19.4 -23.2 5.4 -7 7.2 -11.5 7 -13.3 6 -13.3 5 -13.6 4.6 -16.1 2.8 -14.2 1.7 -14 0.7 -14 -0.7 -13.9 -2 -14.5 -7.5 -31.2 -7.8 -24.8 -6.2 -16.7 -5 -11 -6 -11.3 -5.6 -9.1 -6.4 -9.4 -5.6 -10.5 -4.4 -6.6 -8.5 -10.1 -9.7 -9.9 -10.1 -9 -10.6 -8 -15.6 -10 -11.6 -6.4 -8 -3.6 -10.5 -3.2 -4 -1.5 -17 -11.8 -4 -3.9 -4 -6 -2.9 -7.6 -1.5 -6.4 -2 -4 -4.2 -5 -7.3 -6 -5.2 -3.6 -6.9 -3.7 -25.5 -11.7 0.1 -2.1 0.5 -0.5 0 -1 0.5 -0.4 0 -1 0.5 -0.6 0 -1 0.5 -0.4 0.5 -2.6 0.5 -0.4 0 -1 1 -1.6 0 -1 1 -1.4 0 -1 1 -1.6 0 -1 1 -1.4 0 -1 1 -1.6 0 -1z" fill="#02e8f4"/>
<path d="M347.7 50.8l0.5 -0.6 311.6 0 0 659.6 -118 0 -1.5 -3 -1 -1 -0.5 -1.6 -1 -1 -0.5 -1.4 -1 -1 -0.5 -1.6 -1 -1 -0.5 -1.4 -1 -1 -0.5 -1.6 -1 -1 -0.5 -1.4 -1 -1 -0.5 -1.6 -1 -1 -0.5 -1.4 -1 -1 -0.5 -1.6 -1 -1 -0.5 -1.4 -1 -1 -0.5 -1.6 -1 -1 -0.5 -1.4 -1 -1 -0.5 -1.6 -1 -1 -0.5 -1.4 -1 -1 -0.5 -1.6 -1 -1 -0.5 -1.4 -1 -1 -0.5 -1.6 -1 -1 -0.5 -1.4 -1 -1 -0.5 -1.6 -1 -1 -0.5 -1.4 -1 -1 -0.5 -1.6 -1 -1 -0.5 -1.4 -1 -1 -0.5 -1.6 -1 -1 -0.5 -1.4 -1 -1 -0.5 -1.6 -1 -1 -0.5 -1.4 -1 -1 -0.5 -1.6 -1 -1 -0.5 -1.4 -1 -1 -0.5 -1.6 -1 -1 -0.5 -1.4 -1 -1 -0.5 -1.6 -1 -1 -0.5 -1.4 -1 -1 -0.5 -1.6 -1 -1 -0.5 -1.4 -1 -1 -0.5 -1.6 -1 -1 -0.5 -1.4 -1 -1 -0.5 -1.6 -1 -1 -0.5 -1.4 -1 -1 -0.5 -1.6 -1 -1 -0.5 -1.4 -1 -1 -0.5 -1.6 -1 -1 -0.5 -1.4 -1 -1 -0.5 -1.6 -1 -1 -0.5 -1.4 -1 -1 -0.5 -1.6 -1 -1 -0.5 -1.4 -1 -1 -0.5 -1.6 -1 -1 -0.5 -1.4 -1 -1 -0.5 -1.6 -1 -1 -0.5 -1.4 -1 -1 -0.5 -1.6 -1 -1 -0.5 -1.4 -1 -1 -0.5 -1.6 -1 -1 0 -0.4 -5.9 -9 0 -1 13.9 -12.4 8 -7.9 12.3 -14.3 14.3 -21 19.5 -23.4 6.7 -9 7.6 -12.8 7.6 -14.8 6 -14.3 4.4 -13.5 3.6 -13.6 2.6 -14 1.5 -14 0.4 -13.6 -0.9 -14.4 -2 -13.6 -5.6 -23.4 -2.2 -8 -7.8 -24.9 -6 -15.7 -5 -11 -5.6 -10.4 -5.4 -9 -6.8 -10 -5.6 -10.6 -4.2 -5.9 -8.4 -10.3 -9.6 -9.8 -10.1 -9 -11.3 -8.4 -15.5 -10 -11.5 -6.6 -7.9 -3.4 -10.7 -3.3 -4 -1.6 -11 -7.4 -4.9 -3.7 -3.6 -3.6 -4 -6 -3 -7.4 -1.5 -6.6 -2 -4 -3.1 -4 -5.1 -4.4 -6.9 -5 -5.9 -3.6 -26.5 -12.4 0 -2 0.5 -0.6 0 -1 0.5 -0.4 0 -1 0.5 -0.6 1 -4 0.5 -0.4 0 -1 1 -1.6 0 -1 2 -4 0 -1 2 -4 0 -1 1 -1.4z" fill="#0cf4ea"/>
<path d="M353.7 50.2l306.1 0 0 659.6 -103 0 -1 -2 -1 -1 -0.5 -1.6 -2 -2.4 -0.5 -1.6 -2 -2.4 -0.5 -1.6 -2 -2.4 -0.5 -1.6 -2 -2.4 -0.5 -1.6 -2 -2.4 -0.5 -1.6 -2 -2.4 -0.5 -1.6 -2 -2.4 -0.5 -1.6 -2 -2.4 -0.5 -1.6 -2 -2.4 -0.5 -1.6 -2 -2.4 -0.5 -1.6 -2 -2.4 -0.5 -1.6 -2 -2.4 -0.5 -1.6 -2 -2.4 -0.5 -1.6 -2 -2.4 -0.5 -1.6 -2 -2.4 -0.5 -1.6 -2 -2.4 -0.5 -1.6 -2 -2.4 -0.5 -1.6 -2 -2.4 -0.5 -1.6 -2 -2.4 -0.5 -1.6 -2 -2.4 -0.5 -1.6 -2 -2.4 -0.5 -1.6 -2 -2.4 -0.5 -1.6 -2 -2.4 -0.5 -1.6 -2 -2.4 -0.5 -1.6 -2 -2.4 -0.5 -1.6 -2 -2.4 -0.5 -1.6 -1 -1 0 -0.4 -4 -5.6 0 -0.4 -1 -1 0 -0.6 -1 -1 0 -0.4 -1 -1 0 -0.6 -1 -1 0 -0.4 -1 -1 0 -0.6 -1 -1 0 -0.4 -1 -1 0 -0.6 -1 -1 0 -0.4 -1 -1 0 -0.6 -1 -1 0 -0.4 -1 -1 0 -0.6 -1 -1 0 -0.4 -1 -1 0 -0.6 -1 -1 0 -0.4 -1 -1 0 -0.6 -1 -1 0 -0.4 -1 -1 0 -0.6 -1 -1 0 -0.4 -1 -1 0 -0.6 -1 -1 0 -0.4 -1 -1 0 -0.6 -1 -1 -1 -2 0 -1 13.9 -13.4 10 -11.4 7.4 -9.6 6.8 -11 3.8 -5.6 23 -28.3 4.6 -6.7 5.8 -10 9.1 -18.4 5.3 -13 4.3 -13.6 3.5 -14 2.4 -14.4 1.3 -14 0.2 -11 -0.9 -14.5 -2 -13.4 -7.8 -31.1 -7.2 -23.1 -6.6 -17.3 -5 -11 -5.4 -10.4 -5.6 -9.2 -7.1 -10.6 -5.3 -10 -3 -4.5 -8 -10 -9.6 -10 -10.9 -9.9 -11.1 -8.6 -13 -8.4 -12.6 -7.6 -10.8 -5 -13.6 -4.2 -13.6 -9.2 -5 -4.6 -4 -5.4 -3.6 -8.6 -0.8 -4.4 -1.5 -4 -2.5 -4 -3.2 -3.6 -5.5 -4.4 -9 -6 -8.3 -4.3 -16.5 -7.7 0 -2 0.5 -0.6 1 -4 0.5 -0.4 0.5 -2.6 0.5 -0.4 0 -1 1 -1.6 0 -1 1 -1.4 0 -1 1 -1.6 0 -1 1 -1.4 0 -1 2 -4 0 -1 1 -1.6z" fill="#12fce4"/>
<path d="M357.9 50.8l0.5 -0.6 301.4 0 0 659.6 -102.6 0 0 -0.6 -2 -2.4 -0.5 -1.6 -2 -2.4 -0.5 -1.6 -2 -2.4 -0.5 -1.6 -2 -2.4 -0.5 -1.6 -2 -2.4 -0.5 -1.6 -2 -2.4 -0.5 -1.6 -2 -2.4 -0.5 -1.6 -2 -2.4 -0.5 -1.6 -2 -2.4 -0.5 -1.6 -2 -2.4 -0.5 -1.6 -2 -2.4 -0.5 -1.6 -2 -2.4 -0.5 -1.6 -2 -2.4 -0.5 -1.6 -2 -2.4 -0.5 -1.6 -2 -2.4 -0.5 -1.6 -2 -2.4 -0.5 -1.6 -2 -2.4 -0.5 -1.6 -2 -2.4 -0.5 -1.6 -2 -2.4 -0.5 -1.6 -2 -2.4 -0.5 -1.6 -2 -2.4 -0.5 -1.6 -2 -2.4 -0.5 -1.6 -2 -2.4 -0.5 -1.6 -2 -2.4 -0.5 -1.6 -2 -2.4 -0.5 -1.6 -2 -2.4 -0.5 -1.6 -2 -2.4 -0.5 -1.6 -1 -1 -2 -4 -1 -1 -0.5 -1.4 -1 -1 -0.5 -1.6 -1 -1 -0.5 -1.4 -1 -1 -0.5 -1.6 -1 -1 -0.5 -1.4 -1 -1 -0.5 -1.6 -1 -1 -0.5 -1.4 -1 -1 -0.5 -1.6 -1 -1 -0.5 -1.4 -1 -1 -0.5 -1.6 -1 -1 -0.5 -1.4 -1 -1 -5 -10 0 -1 13.2 -13.6 8.4 -9.6 7.3 -9.8 10.5 -16.6 18.6 -22.6 5.6 -7.3 4.5 -7.1 5.9 -10.4 8.6 -17.9 5 -12.8 4 -12.9 3.4 -14.5 2.2 -12.9 1.3 -15 0.2 -10.6 -1.2 -16 -1.9 -12.2 -7.6 -30.2 -7.4 -23.7 -6.4 -16.9 -5.2 -11.2 -5.4 -10.2 -5.6 -9.3 -6.9 -10.3 -5.1 -9.5 -3.2 -4.9 -8.2 -10.4 -9.3 -9.6 -10.3 -9.4 -11 -8.6 -12.8 -8.6 -13.5 -8 -10.6 -5 -14.5 -4.6 -12.8 -8.8 -5 -4.6 -3.6 -5 -2.6 -5.4 -1.2 -3.6 -1 -5 -1.1 -3 -2.4 -4 -3.1 -3.4 -5.4 -4.6 -8.9 -6 -7.9 -4.2 -14.5 -6.8 0 -2 0.5 -0.4 1 -4 0.5 -0.6 0.6 -2.4 0.5 -0.6 0 -1 1 -1.4 0 -1 1 -1.6 0 -1 1 -1.4 0 -1 1 -1.6 0 -0.9 1 -1.5 0 -1 1 -1.6 0 -1 1 -1.4z" fill="#1fffd7"/>
<path d="M370.1 50.8l0.4 -0.6 289.3 0 0 659.6 -65.6 0 -1 -1 -1 -2 -1.5 -1.6 -1 -2 -1.5 -1.4 -1 -2 -1.5 -1.6 -1 -2 -1.5 -1.4 -1 -2 -1.5 -1.6 -1 -2 -1.5 -1.4 -1 -2 -1.5 -1.6 -1 -2 -1.5 -1.4 -1 -2 -1.5 -1.6 -1 -2 -1.5 -1.4 -1 -2 -1.5 -1.6 -1 -2 -1.5 -1.4 -1 -2 -1.5 -1.6 -1 -2 -1.5 -1.4 -1 -2 -1.5 -1.6 -1 -2 -1.5 -1.4 -1 -2 -1.5 -1.6 -1 -2 -1.5 -1.4 -1 -2 -1.5 -1.6 -1 -2 -1.5 -1.4 -1 -2 -1.5 -1.6 -1 -2 -1.5 -1.4 -1 -2 -1.5 -1.6 -1 -2 -1.5 -1.4 -1 -2 -1.5 -1.6 -1 -2 -1.5 -1.4 -1 -2 -1.5 -1.6 -1 -2 -1.5 -1.4 -1 -2 -1.5 -1.6 -1 -2 -1.5 -1.4 -1 -2 -1.5 -1.6 -1 -2 -1.5 -1.4 -1 -2 -1.5 -1.6 -1 -2 -1.5 -1.4 -1 -2 -1.5 -1.6 -1 -2 -1.5 -1.4 -1 -2 -1.5 -1.6 0 -0.4 -4 -5.6 0 -0.4 -1 -1 0 -0.6 -1 -1 0 -0.4 -1 -1 0 -0.6 -1 -1 0 -0.4 -1 -1 0 -0.6 -1 -1 0 -0.4 -1 -1 0 -0.6 -1 -1 0 -0.4 -1 -1 0 -0.6 -1 -1 0 -0.4 -1 -1 0 -0.6 -1 -1 0 -0.4 -1 -1 0 -0.6 -1 -1 0 -0.4 -1 -1 -2.1 -3.6 0 -1 8 -10 5.2 -7.2 13.9 -22.8 18.1 -22.7 6.4 -9.3 10.7 -19.4 4.7 -10 4.4 -11 4.5 -13.6 3.7 -14 2.2 -11.4 1.7 -14 0.7 -11.6 -0.3 -11 -1.3 -14 -2 -10.9 -5 -20.8 -3 -10.5 -7.4 -23.6 -6.8 -17.2 -5.6 -12 -6.2 -11 -10.1 -15.4 -6.4 -11.6 -6.9 -9.4 -9 -10 -9.4 -9 -8.9 -7.6 -10.2 -7.4 -13.2 -8.6 -10.3 -6 -10.9 -5 -13.7 -4.2 -10.2 -7.2 -4.9 -4.6 -4 -5.4 -3.4 -8 -0.9 -5 -1.3 -3.6 -1.9 -3.4 -2.8 -3.6 -4.5 -4 -6.4 -4.4 -7.7 -4.7 -11.1 -5.9 0 -2 0.5 -0.4 0 -1 0.5 -0.6 0 -1 0.5 -0.4 0 -1 0.5 -0.6 0.5 -2.4 0.5 -0.6 0 -1 1 -1.4 0 -1 1 -1.6 0 -1 1 -1.4 0 -1 1 -1.6 0 -1 1 -1.4 0 -1 2 -4 0 -1 0.5 -0.6z" fill="#32ffc3"/>
<path d="M379.6 50.2l280.2 0 0 659.6 -31.1 0 -0.5 -0.6 0 -0.4 -2 -2 0 -0.6 -2 -2 0 -0.4 -2 -2 0 -0.6 -2 -2 0 -0.4 -2 -2 0 -0.6 -2 -2 0 -0.4 -2 -2 0 -0.6 -2 -2 0 -0.4 -2 -2 0 -0.6 -2 -2 0 -0.4 -2 -2 0 -0.6 -2 -2 0 -0.4 -2 -2 0 -0.6 -2 -2 0 -0.4 -2 -2 0 -0.6 -2 -2 0 -0.4 -2 -2 0 -0.6 -2 -2 0 -0.4 -2 -2 0 -0.6 -2 -2 0 -0.4 -2 -2 0 -0.6 -2 -2 0 -0.4 -2 -2 0 -0.6 -2 -2 0 -0.4 -2 -2 0 -0.6 -2 -2 0 -0.4 -2 -2 0 -0.6 -2 -2 0 -0.4 -2 -2 0 -0.6 -2 -2 0 -0.4 -2 -2 0 -0.6 -2 -2 0 -0.4 -2 -2 0 -0.6 -2 -2 0 -0.4 -2 -2 0 -0.6 -2 -2 0 -0.4 -2 -2 0 -0.6 -2 -2 0 -0.4 -2 -2 0 -0.6 -2 -2 0 -0.4 -2 -2 0 -0.6 -2 -2 0 -0.4 -2 -2 0 -0.6 -2 -2 0 -0.4 -2 -2 0 -0.6 -2 -2 0 -0.4 -2 -2 0 -0.6 -2 -2 0 -0.4 -2 -2 0 -0.6 -2 -2 0 -0.4 -2 -2 0 -0.6 -2 -2 0 -0.4 -2 -2 0 -0.6 -2 -2 0 -0.4 -2 -2 0 -0.6 -2 -2 0 -0.4 -2 -2 0 -0.6 -2 -2 0 -0.4 -2 -2 0 -0.6 -2 -2 0 -0.4 -2 -2 0 -0.6 -8 -9.4 0 -0.6 -3 -3.4 0 -0.6 -2 -2.4 -1 -2 0 -1 4.5 -8 4.9 -10 2.9 -5 9.8 -14.6 13.9 -18.3 7.6 -12 5.4 -10.4 4.9 -10.3 7.7 -19.4 4 -13.6 3 -12.4 2 -12 1.4 -13 0.4 -11 -0.5 -11.6 -1.4 -13 -1.9 -10.2 -4.8 -19.8 -3 -10.4 -7.3 -23 -6.9 -18 -5.6 -11.6 -5.4 -10.1 -11.3 -17.3 -6.2 -11.3 -5.1 -6.9 -8.9 -10.4 -9.6 -9.4 -9.9 -8.6 -10.1 -7.4 -12.4 -8 -11.9 -7 -10.8 -5 -14.4 -4.6 -8.7 -6.4 -3.7 -3.6 -4.2 -6 -3.4 -8 -0.8 -4.5 -1.1 -3.5 -1.8 -3.4 -2.2 -3 -4 -4 -4.6 -3.6 -15.5 -9.4 0.2 -2 0.5 -0.6 0 -1 0.5 -0.4 0 -1 0.5 -0.6 0 -1 0.5 -0.4 0 -1 0.5 -0.6 0 -1 0.5 -0.4 0 -1 0.5 -0.6 0 -1 0.5 -0.4 0 -1 0.5 -0.6 0 -1 0.5 -0.4 0 -1 0.5 -0.6 0 -1 0.5 -0.4 0 -1 0.5 -0.6 0 -1 0.5 -0.4 0 -1 0.5 -0.6 0 -1 0.5 -0.4 1 -4 0.5 -0.6z" fill="#49ffad"/>
<path d="M389.9 50.8l0.5 -0.6 269.4 0 0 659.6 -6.7 0 -2 -2 0 -0.6 -3 -3 0 -0.4 -3 -3 0 -0.6 -3 -3 0 -0.4 -3 -3 0 -0.6 -3 -3 0 -0.4 -3 -3 0 -0.6 -3 -3 0 -0.4 -3 -3 0 -0.6 -3 -3 0 -0.4 -3 -3 0 -0.6 -3 -3 0 -0.4 -3 -3 0 -0.6 -3 -3 0 -0.4 -3 -3 0 -0.6 -3 -3 0 -0.4 -3 -3 0 -0.6 -3 -3 0 -0.4 -3 -3 0 -0.6 -3 -3 0 -0.4 -3 -3 0 -0.6 -3 -3 0 -0.4 -3 -3 0 -0.6 -3 -3 0 -0.4 -3 -3 0 -0.6 -3 -3 0 -0.4 -3 -3 0 -0.6 -3 -3 0 -0.4 -3 -3 0 -0.6 -3 -3 0 -0.4 -3 -3 0 -0.6 -3 -3 0 -0.4 -3 -3 0 -0.6 -3 -3 0 -0.4 -3 -3 0 -0.6 -3 -3 0 -0.4 -3 -3 0 -0.6 -3 -3 0 -0.4 -3 -3 0 -0.6 -3 -3 0 -0.4 -3 -3 0 -0.6 -3 -3 0 -0.4 -12 -13.6 0 -0.4 -2.5 -2.6 0 -0.4 -6.6 -7.6 0 -0.4 -3 -3.6 0 -0.4 -3.2 -4.6 -0.4 -1 1 -3 2.9 -7 2.6 -5 24 -35 8.6 -15 9.1 -19 7 -19 3.9 -14 2.5 -11.4 1.8 -11.6 1.3 -14 0.3 -9 -0.5 -11 -1.3 -12.4 -1.8 -9.8 -5 -20.8 -3 -10.4 -7.5 -23.6 -6.5 -16.9 -5 -10.8 -6.1 -11.3 -11.6 -18 -5.9 -10.4 -4.9 -7 -8.1 -9.5 -10.5 -10.5 -9.2 -8 -10.7 -8.1 -13 -8.5 -12.8 -7.4 -11.2 -5 -13.6 -4.2 -6.8 -5.4 -3.6 -3.4 -4.1 -6 -3.1 -7.6 -0.8 -4.4 -1.2 -4 -3.4 -6 -2.6 -3 -4.1 -3.6 -12.5 -8.4 -0.1 -1 0.9 -1.6 0 -1 0.5 -0.4 0 -1 0.5 -0.6 0 -1 0.5 -0.4 0.7 -2.6 0.5 -0.4 0 -1 2 -4 0 -1 1 -1.6 0 -1 1 -1.4 0 -1 1 -1.6 0 -1 1 -1.4 0 -1 1 -1.6 0 -1 0.5 -0.4 1.5 -4.6 0.9 -1.4 0 -1 1.5 -3z" fill="#5cff9a"/>
<path d="M396.5 50.2l263.3 0 0 652.6 -6.1 -6.6 0 -0.4 -4 -4 0 -0.6 -4 -4 0 -0.4 -4 -4 0 -0.6 -4 -4 0 -0.4 -4 -4 0 -0.6 -4 -4 0 -0.4 -4 -4 0 -0.6 -4 -4 0 -0.4 -4 -4 0 -0.6 -4 -4 0 -0.4 -4 -4 0 -0.6 -4 -4 0 -0.4 -4 -4 0 -0.6 -4 -4 0 -0.4 -4 -4 0 -0.6 -4 -4 0 -0.4 -4 -4 0 -0.6 -4 -4 0 -0.4 -4 -4 0 -0.6 -4 -4 0 -0.4 -4 -4 0 -0.6 -4 -4 0 -0.4 -4 -4 0 -0.6 -4 -4 0 -0.4 -4 -4 0 -0.6 -4 -4 0 -0.4 -4 -4 0 -0.6 -4 -4 0 -0.4 -4 -4 0 -0.6 -4 -4 0 -0.4 -3.5 -3.6 0 -0.4 -3.5 -3.6 0 -0.4 -6 -6.6 0 -0.4 -2.5 -2.6 0 -0.4 -6.5 -7.6 0 -0.4 -3 -3.6 0 -0.4 -2.1 -2.6 -1 -2 -0.2 -1 1.3 -4 4.4 -9 20.8 -32 9.9 -18 8.7 -19 3.7 -10 3.1 -9.4 3.5 -12.9 2.4 -12 1.7 -11.7 1 -12 0.3 -9 -0.5 -11 -1.4 -12.4 -1.7 -9.6 -7.5 -29.4 -8.1 -25.6 -6.7 -17.4 -5.5 -11.9 -5.6 -10.1 -11.9 -18.6 -5.6 -10 -3.9 -5.6 -8.6 -10.2 -9.5 -9.6 -10.5 -9.3 -11 -8.3 -15.5 -10 -12.3 -7 -9.6 -4.1 -12.6 -3.7 -3.4 -2.2 -5.4 -5 -4.3 -6 -1.8 -4 -1 -3.4 -0.6 -0.6 -0.7 -5 -1.2 -4 -3.2 -6 -5.1 -5.4 -10.5 -8 0.1 -2 0.5 -0.6 1 -4 0.5 -0.4 0.6 -2.6 0.5 -0.4 0 -1 1 -1.6 0 -1 1 -1.4 0 -1 1 -1.6 0 -1 1 -1.4 0 -1 1 -1.6 0 -1 1 -1.4 0 -1 1 -1.6 0 -1 0.5 -0.4 1.8 -5.6 0.5 -0.4 0 -1 1.5 -3 0 -1 0.5 -0.6z" fill="#70ff86"/>
<path d="M402.6 50.8l0.5 -0.6 256.7 0 0 618.5 -148.8 -148.9 5.9 -12 15 -24 11 -21 5.1 -11 4.5 -11 6.5 -19.6 2.9 -11.4 2.3 -11.6 1.6 -11.4 1.1 -13.6 0 -9 -0.6 -11.4 -1.3 -11 -1.7 -8.6 -7.5 -29.4 -8.2 -26 -6.8 -17.6 -5.6 -12 -5.4 -9.9 -12 -18.5 -5.6 -10 -4.3 -6 -7.1 -8.7 -9 -9.3 -9.6 -8.6 -9.4 -7.5 -15 -10 -16.6 -9.6 -10 -4.4 -11 -3.2 -3.4 -1.4 -5.8 -5.3 -3.9 -5.6 -3.5 -8.4 -1.2 -7.6 -2.6 -6 -4.5 -6 -8.1 -7 0.1 -1 1 -1.4 0 -1 1 -2 0 -1 0.5 -0.6 0 -1 0.5 -0.4 0 -1 0.5 -0.6 0 -1 0.5 -0.4 0 -1 0.5 -0.6 0 -1 0.5 -0.4 0 -1 0.5 -0.6 0 -1 0.5 -0.4 0 -1 0.5 -0.6 0 -1 0.5 -0.4 0 -1 0.5 -0.6 0 -1 0.5 -0.4 0 -1 0.5 -0.6 0 -1 0.5 -0.4 0 -1 0.5 -0.6 0 -1 0.5 -0.4 1.8 -5.6 0.5 -0.4 0.5 -2.6 1 -1.4 0.5 -2.6 1 -1.4z" fill="#86ff70"/>
<path d="M410.4 50.8l0.5 -0.6 248.9 0 0 605.3 -142.2 -142.3 7.1 -14 11.5 -19.6 9.2 -18.8 9.1 -22.6 3.7 -11 3 -11 2.7 -11.4 1.6 -9 1.4 -11.6 0.8 -11.4 0 -8.6 -0.7 -11.4 -1.2 -11 -1.7 -8.6 -7.5 -29.4 -8.3 -26 -6.7 -17.6 -5.2 -11 -5.9 -11 -12.2 -18.9 -5.7 -10.1 -3.9 -5.4 -7 -8.6 -9.5 -9.8 -10 -9 -9.4 -7.5 -15 -9.9 -16.1 -9.3 -10.5 -4.6 -14 -4.3 -4.7 -4.6 -3.9 -5.4 -1.8 -4 -1.4 -4.6 -0.9 -7 -1.9 -5.4 -3.5 -5.6 -6.9 -7.4 0 -1 3 -5.6 0.7 -2.4 0.5 -0.6 0 -1 1 -1.4 0 -1 1 -1.6 0 -1 1 -1.4 0 -1 1 -1.6 0 -1 1 -1.4 0 -1 1 -1.6 0 -1 1 -1.4 0 -1 0.5 -0.6 1.5 -4.4 1 -1.6 0.5 -2.4 1 -1.6 0.5 -2.4 1 -1.6 0 -1 0.5 -0.4z" fill="#9aff5c"/>
<path d="M416.8 50.2l243 0 0 570.4 -3 -3 -0.6 0 -3 -3 -0.4 0 -3 -3 -0.6 0 -3 -3 -0.4 0 -3 -3 -0.6 0 -3 -3 -0.4 0 -3 -3 -0.6 0 -3 -3 -0.4 0 -3 -3 -0.6 0 -3 -3 -0.4 0 -3 -3 -0.6 0 -3 -3 -0.4 0 -3 -3 -0.6 0 -3 -3 -0.4 0 -3 -3 -0.6 0 -3 -3 -0.4 0 -3 -3 -0.6 0 -3 -3 -0.4 0 -3 -3 -0.6 0 -3 -3 -0.4 0 -3 -3 -0.6 0 -3 -3 -0.4 0 -3 -3 -0.6 0 -3 -3 -0.4 0 -3 -3 -0.6 0 -3 -3 -0.4 0 -3 -3 -0.6 0 -3 -3 -0.4 0 -3 -3 -0.6 0 -13.4 -12 -0.6 0 -2.4 -2.5 -0.6 0 -2.4 -2.5 -0.6 -0.1 -2 -2 -0.4 0 -4 -3.6 -0.6 0 -6.1 -6.1 4.6 -9.6 11.1 -20.7 8.4 -18.7 8.2 -22.6 6.1 -22.4 2 -9.6 1.5 -10.4 1.2 -12 0.4 -9 -0.3 -11 -1 -11.6 -1.3 -8.4 -1.7 -8 -4.6 -19 -3.1 -10.6 -7.7 -24 -6.8 -17.4 -5.4 -11.6 -5.6 -10.4 -12.3 -19 -5.7 -10 -4.7 -6.6 -7.6 -9 -8.3 -8.4 -9.7 -8.9 -9.9 -7.7 -15.1 -10 -15.6 -9 -10.4 -4.5 -14.6 -4.5 -2.6 -2.4 -4.5 -6.6 -1.8 -3.9 -1.2 -4.1 -0.7 -7.4 -1.5 -5.6 -2.4 -4.4 -5.4 -7 4.7 -9.6 0 -0.9 1 -1.5 0 -1 1 -1.6 0 -0.9 1 -1.5 0 -1 1 -1.6 0 -0.9 1 -1.5 0 -1 1 -1.6 0 -0.9 1 -1.5 0 -1 1 -1.6 0 -1 2 -4 0.5 -2.4 1 -1.6 0.5 -2.4 1 -1.6 0.5 -2.4 1 -1.6z" fill="#b0ff46"/>
<path d="M417.9 50.2l241.9 0 0 548.4 -3.6 -3 -0.4 0 -2 -2 -0.6 0 -2 -2 -0.4 0 -2 -2 -0.6 0 -2 -2 -0.4 0 -2 -2 -0.6 0 -2 -2 -0.4 0 -2 -2 -0.6 0 -2 -2 -0.4 0 -2 -2 -0.6 0 -2 -2 -0.4 0 -2 -2 -0.6 0 -2 -2 -0.4 0 -2 -2 -0.6 0 -2 -2 -0.4 0 -2 -2 -0.6 0 -2 -2 -0.4 0 -2 -2 -0.6 0 -2 -2 -0.4 0 -2 -2 -0.6 0 -2 -2 -0.4 0 -2 -2 -0.6 0 -2 -2 -0.4 0 -2 -2 -0.6 0 -2 -2 -0.4 0 -2 -2 -0.6 0 -2 -2 -0.4 0 -2 -2 -0.6 0 -2 -2 -0.4 0 -2 -2 -0.6 0 -2 -2 -0.4 0 -2 -2 -0.6 0 -2 -2 -0.4 0 -2 -2 -0.6 0 -2 -2 -0.4 0 -2 -2 -0.6 0 -2 -2 -0.4 0 -2 -2 -0.6 0 -2 -2 -0.4 0 -2 -2 -0.6 0 -2 -2 -0.4 0 -2 -2 -0.6 0 -2 -2 -0.4 0 -2 -2 -0.6 0 -2 -2 -0.4 0 -2 -2 -0.6 0 -2 -2 -0.4 0 -1.6 -1.5 -0.4 0 -3 -2.7 -0.6 0 -3.1 -3.2 14.9 -31.4 7.8 -19.6 3.8 -11.4 3.8 -14 2.7 -11.6 2 -11 1.5 -12.4 0.7 -11.6 0.1 -8.4 -0.5 -9 -2.1 -17 -6.4 -27 -10.7 -34.6 -4.9 -13 -5.5 -12.4 -4.9 -9.5 -5.6 -9.9 -9.4 -14.2 -6.2 -10.5 -7 -9.2 -7.2 -8.3 -9.7 -9.4 -8.5 -7.4 -9.1 -6.8 -14.9 -9.7 -14.6 -8.3 -10.5 -4.5 -10.9 -3.2 -3.6 -1.3 -2.3 -2.4 -3.5 -5.4 -1.8 -4 -0.8 -3 -0.5 -9 -1.2 -5.6 -1.8 -4 -3.9 -6 0.5 -2 0.5 -0.4 0 -1 0.5 -0.6 0 -1 0.5 -0.4 0 -1 0.5 -0.6 0 -1 0.5 -0.4 0 -1 0.5 -0.6 0 -1 0.5 -0.4 0 -1 0.5 -0.6 0 -1 0.5 -0.4 0 -1 0.5 -0.6 0 -1 0.5 -0.4 0 -1 0.5 -0.6 0 -1 0.5 -0.4 0 -1 0.5 -0.6 0 -1 0.5 -0.4 0 -1 0.5 -0.6 0 -1 0.5 -0.4 0 -1 0.5 -0.6 0 -1 0.5 -0.4 0 -1 0.5 -0.6 0 -1 0.5 -0.4 0 -1 0.5 -0.6 0 -1 0.5 -0.4 0 -1 0.5 -0.6 0 -1 0.5 -0.5 0 -0.9 0.5 -0.6 0 -1 0.5 -0.4 0 -1 0.5 -0.6 0 -1 0.5 -0.4 0 -1.1 0.5 -0.5 0 -1 0.5 -0.4 0 -1 0.5 -0.6z" fill="#c3ff32"/>
<path d="M424 50.8l0.5 -0.6 235.3 0 0 523.4 -2 -1 -1.6 -1.5 -2 -1 -1.4 -1.5 -2 -1 -1.6 -1.5 -2 -1 -1.4 -1.5 -2 -1 -1.6 -1.5 -2 -1 -1.4 -1.5 -2 -1 -1.6 -1.5 -2 -1 -1.4 -1.5 -2 -1 -1.6 -1.5 -2 -1 -1.4 -1.5 -2 -1 -1.6 -1.5 -2 -1 -1.4 -1.5 -2 -1 -1.6 -1.5 -2 -1 -1.4 -1.5 -2 -1 -1.6 -1.5 -2 -1 -1.4 -1.5 -2 -1 -1.6 -1.5 -2 -1 -1.4 -1.5 -2 -1 -1.6 -1.5 -2 -1 -1.4 -1.5 -2 -1 -1.6 -1.5 -2 -1 -1.4 -1.5 -2 -1 -1.6 -1.5 -2 -1 -1.4 -1.5 -2 -1 -1.6 -1.5 -2 -1 -5.4 -4.3 -0.6 0 -1 -1 -0.4 0 -1 -1 -0.6 0 -1 -1 -0.4 0 -1 -1 -0.6 0 -1 -1 -0.4 0 -1 -1 -0.6 0 -1 -1 -0.4 0 -1 -1 -0.6 0 -2.4 -2 -0.6 0 -1 -1 -0.4 0 -1 -1 -0.6 0 -1 -1 -3.4 -2 -3.1 -3 0.9 -0.6 -0.4 -0.4 12.7 -29.6 6.3 -17.4 3.2 -11 3.6 -14.6 3.6 -20.4 1.7 -22 -0.1 -9 -0.7 -9.6 -1.1 -9.4 -1.3 -7.6 -6.1 -25 -11.5 -36.4 -5 -13 -4.5 -10 -5 -10 -5.5 -9.6 -9.6 -14.4 -6.2 -10.6 -6.8 -9 -7.5 -8.4 -9.6 -9.5 -8.6 -7.3 -9.4 -7.1 -17 -11 -13.6 -7.5 -9.4 -4 -14.1 -4.2 -2.2 -2 -3.1 -5.4 -2.3 -6.6 -0.3 -14.4 -0.9 -4 -2 -4.6 0.2 -1 0.9 -1.4 0 -1 0.5 -0.6 0 -1 0.5 -0.4 0 -1 0.5 -0.6 0 -1 0.5 -0.4 0 -1 0.5 -0.6 0 -1 0.5 -0.4 0 -1 0.5 -0.6 0 -1 0.5 -0.4 0 -1 0.5 -0.6 0 -1 0.5 -0.4 0 -1 0.5 -0.6 0 -1 0.5 -0.4 0 -1 0.5 -0.6 0 -1 0.5 -0.4 0 -1 0.5 -0.6 0 -1 0.5 -0.4 0 -1 0.5 -0.6 0 -1 0.5 -0.4 0 -1 0.5 -0.6 0 -1 0.5 -0.4 0 -1 0.5 -0.6 0 -1 0.5 -0.4 0 -1 0.5 -0.6 0 -1 0.5 -0.4 0 -1 0.5 -0.6 0 -1 0.5 -0.4 0 -1 0.5 -0.6 0 -1 0.5 -0.4 0 -1 0.5 -0.6 0 -1 0.5 -0.4z" fill="#d7ff1f"/>
<path d="M434.2 50.2l225.6 0 0 503.5 -5 -3.5 -0.6 0 -1 -1 -0.4 0 -1 -1 -0.6 0 -1 -1 -0.4 0 -1 -1 -0.6 0 -1 -1 -0.4 0 -1 -1 -0.6 0 -1 -1 -0.4 0 -1 -1 -0.6 0 -1 -1 -0.4 0 -1 -1 -0.6 0 -1 -1 -0.4 0 -1 -1 -0.6 0 -1 -1 -0.4 0 -1 -1 -0.6 0 -1 -1 -0.4 0 -1 -1 -0.6 0 -1 -1 -0.4 0 -1 -1 -0.6 0 -1 -1 -0.4 0 -1 -1 -0.6 0 -1 -1 -0.4 0 -1 -1 -0.6 0 -1 -1 -0.4 0 -1 -1 -0.6 0 -1 -1 -0.4 0 -1 -1 -0.6 0 -1 -1 -0.4 0 -1 -1 -0.6 0 -1 -1 -0.4 0 -1 -1 -0.6 0 -1 -1 -0.4 0 -1 -1 -0.6 0 -1 -1 -0.4 0 -1 -1 -0.6 0 -1 -1 -0.4 0 -1 -1 -0.6 0 -1 -1 -0.4 0 -1 -1 -0.6 0 -1 -1 -0.4 0 -1 -1 -0.6 0 -1 -1 -0.4 0 -1 -1 -0.6 0 -1 -1 -0.4 0 -1 -1 -0.6 0 -1 -1 -0.4 0 -1 -1 -0.6 0 -1 -1 -0.4 0 -1 -1 -0.6 0 -1 -1 -0.4 0 -1 -1 -0.6 0 -1 -1 -0.4 0 -1 -1 -0.6 0 -1 -1 -0.4 0 -1 -1 -0.6 0 -1 -1 -0.4 0 -1 -1 -0.6 0 -1 -1 -0.4 0 -1 -1 -0.6 0 -1 -1 -0.4 0 -1 -1 -0.6 0 -1 -1 -0.4 0 -1 -1 -0.6 0 -1 -1 -0.4 0 -1 -1 -0.6 0 -1 -1 -0.4 0 -1 -1 -0.6 0 -1 -1 -0.4 0 -1 -1 -0.6 0 -1 -1 -0.4 0 -1 -1 -0.6 0 -2 -1.7 -0.4 0 -1.1 -1.3 9.7 -24.9 6.4 -19.6 5.6 -23.9 2.7 -18 1.2 -20 -0.9 -18 -2.4 -16.6 -6.2 -25 -11.7 -37 -4.8 -12.4 -4.7 -10.6 -6.2 -12 -5.6 -9.4 -8 -12.1 -6.6 -10.9 -6.8 -9 -7.6 -8.6 -9.7 -9.4 -10.3 -8.9 -9.6 -6.9 -17.4 -11 -12 -6.5 -9 -3.7 -14 -4.2 -1.9 -1.8 -1.9 -3.6 -2 -4.4 -0.8 -3.6 0.8 -9 0.9 -5.4 2.3 -5.6 0.4 -2 0.5 -0.4 0 -1 0.5 -0.6 0 -1 0.5 -0.4 0 -1 0.5 -0.6 0 -1 0.5 -0.4 0 -1 0.5 -0.6 0 -1 0.5 -0.4 0 -1 0.5 -0.6 0 -1 0.5 -0.4 0 -1 0.5 -0.6 0 -1 0.5 -0.4 0 -1 0.5 -0.6 0 -1 0.5 -0.4 0 -1 0.5 -0.6 0 -1 0.5 -0.4 0 -1 0.5 -0.6 1 -4 0.5 -0.4 1.6 -5.6 0.5 -0.4 0.5 -2.6 1 -1.4 0.5 -2.6 1 -1.4 0.5 -2.6 1 -1.4 0 -1 1.5 -3 0 -1 0.5 -0.6z" fill="#edff08"/>
<path d="M440.2 50.8l0.5 -0.6 219.1 0 0 481.9 -3 -1.5 -1 -1 -1.6 -0.5 -1 -1 -1.4 -0.5 -1 -1 -1.6 -0.5 -1 -1 -1.4 -0.5 -1 -1 -1.6 -0.5 -1 -1 -1.4 -0.5 -1 -1 -1.6 -0.5 -1 -1 -1.4 -0.5 -1 -1 -1.6 -0.5 -1 -1 -1.4 -0.5 -1 -1 -1.6 -0.5 -1 -1 -1.4 -0.5 -1 -1 -1.6 -0.5 -1 -1 -1.4 -0.5 -1 -1 -1.6 -0.5 -1 -1 -1.4 -0.5 -1 -1 -1.6 -0.5 -1 -1 -1.4 -0.5 -1 -1 -1.6 -0.5 -1 -1 -1.4 -0.5 -1 -1 -1.6 -0.5 -1 -1 -1.4 -0.5 -1 -1 -1.6 -0.5 -1 -1 -1.4 -0.5 -1 -1 -1.6 -0.5 -1 -1 -1.4 -0.5 -1 -1 -1.6 -0.5 -1 -1 -1.4 -0.5 -1 -1 -1.6 -0.5 -1 -1 -1.4 -0.5 -1 -1 -1.6 -0.5 -1 -1 -1.4 -0.5 -1 -1 -1.6 -0.5 -1 -1 -1.4 -0.5 -1 -1 -1.6 -0.5 -1 -1 -1.4 -0.5 -1 -1 -1.6 -0.5 -1 -1 -1.4 -0.5 -7 -4.9 -1.6 -0.5 -1.1 -1.4 8 -23.6 6.1 -22.4 4 -20.6 1.8 -17.4 0.5 -9.6 -0.1 -8.5 -1.9 -19.9 -2.2 -11.6 -5.7 -22.4 -11.7 -36.6 -5.1 -13 -5.4 -11.9 -5.4 -10.5 -5.7 -9.6 -8.1 -12.1 -6.5 -10.9 -7.2 -9.4 -8.6 -9.6 -8.7 -8.3 -10 -8.5 -10 -7.3 -17 -10.7 -12 -6.5 -9.4 -3.9 -14 -4.2 -1.5 -1.6 -1.4 -2.4 -1.9 -5 -0.8 -3 1.7 -9.5 1.2 -3.1 1.7 -2.6 4.1 -3.4 0.3 -2 0.5 -0.4 0 -1 0.5 -0.6 0 -1 0.5 -0.4 0 -1 0.5 -0.6 0 -1 0.5 -0.4 0 -1 0.5 -0.6 0 -1 0.5 -0.4 0 -1 0.5 -0.6 0 -1 0.5 -0.4 0 -1 0.5 -0.6 0 -1 0.5 -0.4 0 -1 0.5 -0.6 0 -1 0.5 -0.4 0 -1 0.5 -0.6 0 -1 0.5 -0.4 0 -1 0.5 -0.6 0 -1 0.5 -0.4 0 -1 0.5 -0.6 0 -1 0.5 -0.4 1.5 -5.6 0.5 -0.4 0.5 -2.6 1 -1.4 0.5 -2.6 1 -1.4 0.5 -2.6 1 -1.4 0.5 -2.6 1 -1.4 0 -1 1.5 -3z" fill="#ffe900"/>
<path d="M453.1 50.2l206.7 0 0 463.7 -2 -1.5 -5.6 -2.5 -1 -1 -5.4 -2.5 -1 -1 -4.6 -2 -1 -1 -4.4 -2 -1 -1 -4.6 -2 -1 -1 -4.4 -2 -1 -1 -3.6 -1.5 -1 -1 -3.4 -1.5 -1 -1 -3.6 -1.5 -1 -1 -3.4 -1.5 -1 -1 -3.6 -1.5 -1 -1 -3.4 -1.5 -1 -0.9 -2.6 -1.1 -1 -0.9 -2.4 -1 -1 -1 -2.6 -1 -1 -1 -2.4 -1 -1 -1 -1.6 -0.5 -1 -0.9 -4 -2 -1 -1 -1.4 -0.5 -1 -1 -1.6 -0.5 -1 -1 -1.4 -0.5 -2.6 -1.9 -0.4 0 -4 -3 -1.6 -0.7 -1 -1.2 6.9 -25 3.6 -15.6 2.3 -12 1.5 -11.4 1 -12 0.2 -9 -0.3 -10 -1 -10.6 -1.7 -11.4 -7.1 -28 -11.1 -34.6 -7.9 -20 -5 -10.4 -5.4 -10 -19 -30 -8.9 -11.6 -11.1 -11.8 -10 -9.1 -9 -7.1 -10 -6.9 -12 -7.3 -10 -5.6 -7 -3.2 -6 -2.2 -10 -2.7 -3.4 -1.4 -2.3 -3.1 -1.7 -5 -0.6 -3 0.8 -4.6 1.4 -4.4 1.8 -3.4 1.6 -1.4 1.4 -0.6 6 -0.1 3 -0.6 0.4 -0.5 0.9 -2 0 -1 0.5 -0.4 0 -1 0.5 -0.6 0 -1 0.5 -0.4 0.6 -2.6 0.5 -0.4 0 -1 1 -1.6 0 -1 1 -1.4 0 -1 1 -1.6 0 -1 1 -1.4 0 -1 1 -1.6 0 -1 1 -1.4 0 -1 1 -1.6 0 -1 1 -1.4 0 -1 1 -1.6 0 -1 1 -1.4 0 -1 1 -1.6 0 -1 1 -1.4 0 -1 1 -1.6 0 -1 1 -1.4 0 -1 1 -1.6 0 -1 1 -1.4 0 -1 1 -1.6 0 -1 1 -1.4 0 -1 1 -1.6 0 -1z" fill="#ffcf00"/>
<path d="M464.1 50.2l195.7 0 0 441.8 -5.6 -3 -1 0 -5.4 -3 -1 -0.1 -4.6 -2.4 -1 -0.1 -4.4 -2.5 -1 0 -4.6 -2.5 -1 0 -4.4 -2.5 -1 0 -3.6 -2 -1 -0.1 -3.4 -1.9 -1 -0.1 -3.6 -2 -1 0 -3.4 -2 -1 0 -3.6 -2 -1 0 -38 -19 -1 -1 0.7 -0.6 -0.4 -0.4 6.5 -29 3.4 -21 1.1 -12 0.4 -10.5 -0.2 -9.1 -0.8 -10 -1.2 -9.4 -1.4 -8 -7.3 -27.6 -11.5 -34.4 -5 -13 -4.5 -10 -9.6 -18 -18.2 -28.6 -11.2 -14 -12.2 -12.4 -8.6 -7.4 -8 -6.2 -8 -5.4 -11.4 -7 -9.9 -5.6 -8.1 -3.7 -6 -2.3 -13.6 -3.9 -1.4 -1.4 -1 -1.7 -1.7 -7 1.7 -7.4 1.2 -2.6 1.2 -1.4 2.1 -0.9 6.9 0.8 5.6 0.1 3 -0.3 2.1 -0.7 1 -2 0 -1 0.5 -0.6 0 -1 0.5 -0.4 0 -1 1.7 -3.6 0 -1 1 -1.4 0 -1 1 -1.6 0 -1 2 -4 0 -1 1.5 -2.4 0 -1 1.5 -2.6 0 -1 1.5 -2.4 0 -1 1.5 -2.6 0 -1 1.5 -2.4 0 -1 1.5 -2.6 0 -1 1.5 -2.4 0 -1 1.5 -2.6 0 -1 1.5 -2.4 0 -1 1.5 -2.6 0 -1 1.5 -2.4 0 -1 1.5 -2.6z" fill="#ffb900"/>
<path d="M478.9 50.8l0.5 -0.6 180.4 0 0 426.7 -1 0 -2.6 -1.5 -1 0 -2.4 -1.5 -1 0 -2.6 -1.5 -1 0 -2.4 -1.5 -1 0 -2.6 -1.5 -1 0 -2.4 -1.5 -1 0 -2.6 -1.5 -1 0 -2.4 -1.5 -1 0 -2.6 -1.5 -1 0 -2.4 -1.5 -1 0 -2.6 -1.5 -1 0 -2.4 -1.5 -1 0 -2.6 -1.5 -1 0 -2.4 -1.5 -1 0 -2.6 -1.5 -1 0 -2.4 -1.5 -1 0 -2.6 -1.5 -1 0 -2.4 -1.5 -1 0 -2.6 -1.5 -1 0 -2.4 -1.5 -1 0 -20 -9.9 -1.2 -1.2 0.2 -0.9 0.5 -0.1 -0.4 -0.5 5.2 -27.1 1.3 -9.4 1.1 -11.6 0.5 -12 0 -8 -0.7 -10 -1.3 -11.4 -2.8 -13.8 -7 -25.8 -11.7 -34.4 -5.2 -13 -4.9 -10.6 -9.3 -17 -17.8 -27.5 -11.1 -13.7 -5.8 -6.2 -7.4 -7 -7.6 -6.6 -8.6 -6.5 -8.6 -5.6 -12.4 -7.5 -9 -4.9 -7 -3.1 -6.6 -2.4 -13 -3.7 -1 -0.9 -1 -1.8 -1.3 -5.6 0.4 -3.4 1.6 -5 0.9 -1.6 1.4 -1.2 1 -0.2 8 1.5 10 1.1 4 0 3.6 -0.9z" fill="#ffa300"/>
<path d="M496.8 50.2l163 0 0 407.5 -1 0 -1.6 -1 -2.4 -0.5 -1.6 -1 -2.4 -0.5 -1.6 -1 -2.4 -0.5 -1.6 -1 -2.4 -0.5 -1.6 -1 -2.4 -0.5 -1.6 -1 -2.4 -0.5 -1.6 -1 -2.4 -0.5 -1.6 -1 -2.4 -0.5 -1.6 -1 -2.4 -0.5 -1.6 -1 -2.4 -0.5 -1.6 -1 -2.4 -0.5 -1.6 -1 -2.4 -0.5 -1.6 -1 -2.4 -0.5 -1.6 -1 -1 0 -0.4 -0.5 -5.6 -1.8 -0.4 -0.5 -1 0 -0.6 -0.5 -1 0 -0.4 -0.5 -1 0 -0.6 -0.5 -1 0 -0.4 -0.5 -1 0 -0.6 -0.5 -1 0 -0.4 -0.5 -1 0 -0.6 -0.5 -1 0 -0.4 -0.5 -1 0 -0.6 -0.5 -1 0 -0.4 -0.5 -1 0 -0.6 -0.5 -1 0 -0.4 -0.5 -1 0 -0.6 -0.5 -1 0 -0.4 -0.5 -4 -1 -1.1 -1.2 0.1 -0.3 1 -0.1 -0.8 -1 3.6 -22.6 1.6 -21 0.2 -9 -0.4 -9 -2.3 -20.4 -2.1 -10 -5.8 -21.6 -9.6 -29.4 -7.9 -21 -8.5 -18 -8.3 -14.6 -17 -26 -6.3 -7.9 -5.7 -6.5 -12.7 -12.5 -8.5 -7.2 -9.1 -6.5 -20.4 -12.7 -7.6 -4 -8 -3.5 -5.4 -2 -13 -3.6 -1 -0.7 -1.1 -1.9 -1.2 -5 0.5 -3.4 1.7 -4.6 1.1 -1.1 1 -0.5 20 3.8 6 0.8 5.4 -0.1 2 -0.5 1 -1 5.6 -8.4 0 -0.4 1 -1 0.5 -1.6 1 -1 0.5 -1.4 1 -1 0.5 -1.6 1 -1 0.5 -1.4 1 -1 0.5 -1.6 1 -1 0.5 -1.4 1 -1 0.5 -1.6 1 -1 0.5 -1.4 1 -1 0.5 -1.6 1 -1 0.5 -1.4 1 -1 0.5 -1.6 1 -1 0.5 -1.4 1 -1 0.5 -1.6 1 -1 0.5 -1.4 1 -1 0.5 -1.6 1 -1 0.5 -1.4 1 -1 0.5 -1.6 1 -1 0.5 -1.4 1 -1 0.5 -1.6 1 -1 0.5 -1.4 1 -1 0.5 -1.6 1 -1 0.5 -1.4 1 -1 0.5 -1.6 1 -1z" fill="#ff8900"/>
<path d="M514.7 50.2l145.1 0 0 387.9 -0.6 -0.5 -1.4 0 -0.6 -0.5 -2.4 -0.5 -0.6 -0.5 -1.4 0 -0.6 -0.5 -2.4 -0.5 -0.6 -0.5 -1.4 0 -0.6 -0.5 -1 0 -2 -1 -1.4 0 -0.6 -0.5 -1 0 -2 -1 -1.4 0 -0.6 -0.5 -2.4 -0.5 -0.6 -0.5 -1.4 -0.1 -2 -0.9 -5 -1.1 -2 -1 -1.6 0 -2 -1 -1.4 0 -2 -1 -1.6 0 -2 -1 -1.4 0 -2 -1 -1.6 0 -2 -1 -1.4 0 -2 -1 -1.6 0 -2 -1 -5.4 -1.3 -0.6 -0.5 -1 0 -2 -1 -1 0 -0.4 -0.5 -1 0 -2 -1 -1 0 -0.6 -0.5 -4 -1 -0.4 -0.5 -2.6 -0.5 -1.2 -1.4 2.2 -19 0.7 -21 -1.3 -18 -2.4 -16 -8 -30 -10.8 -32.6 -8.6 -21.7 -4.6 -9.4 -5 -9.3 -7.6 -12.6 -12.1 -18.4 -3.7 -5.2 -5.5 -6.8 -7.1 -7.8 -13 -12.4 -8.4 -6.9 -8 -5.8 -19.6 -12 -9.4 -4.9 -7 -2.9 -18 -5.4 -1 -0.9 -0.8 -1.6 -0.9 -4 0.5 -3 1.3 -3.4 0.9 -1.1 1 -0.5 37.4 8.4 6 0.6 1.5 -3 1 -1 0 -0.4 1 -1 0 -0.6 1 -1 0 -0.4 1 -1 0 -0.6 1 -1 0 -0.4 1 -1 0 -0.6 1 -1 0 -0.4 1 -1 0 -0.6 1 -1 0 -0.4 1 -1 0 -0.6 1 -1 0 -0.4 1 -1 0 -0.6 1 -1 0 -0.4 1 -1 0 -0.6 1 -1 0 -0.4 2 -2.6 0 -0.4 1 -1 0 -0.6 1 -1 0 -0.4 1 -1 0 -0.6 1 -1 0 -0.4 1 -1 0 -0.6 1 -1 0 -0.4 1 -1 0 -0.6 1 -1 0 -0.4 1 -1 0 -0.6 1 -1 0 -0.4 1 -1 0 -0.6 1 -1 0 -0.4 1 -1 0 -0.6 1 -1 0 -0.4 1 -1 0 -0.6 1 -1 0 -0.4 1 -1 0 -0.6 1 -1 0 -0.4 1 -1 0 -0.6 1 -1 0 -0.4 1 -1 0 -0.6 2 -2.4 0 -0.6 1 -1 0 -0.4 1 -1 0 -0.6 1 -1 0 -0.4 1 -1 0 -0.6 1 -1 0 -0.4 1 -1 0 -0.6 1 -1 0 -0.4 1 -1z" fill="#ff7300"/>
<path d="M537.1 50.2l122.7 0 0 370.4 -0.6 -0.5 -3.4 -0.5 -0.6 -0.5 -3.4 -0.5 -0.6 -0.5 -1.4 0 -0.6 -0.5 -1.4 0 -0.6 -0.5 -1.4 0 -0.6 -0.5 -3.4 -0.5 -0.6 -0.5 -3.4 -0.5 -0.6 -0.5 -3.4 -0.5 -0.6 -0.5 -1.4 0 -0.6 -0.5 -1.4 0 -0.6 -0.5 -1.4 0 -0.6 -0.5 -3.4 -0.5 -0.6 -0.5 -3.4 -0.5 -0.6 -0.5 -3.4 -0.5 -0.6 -0.5 -1.4 0 -0.6 -0.5 -1.4 0 -0.6 -0.5 -1.4 0 -0.6 -0.5 -3.4 -0.5 -0.6 -0.5 -3.4 -0.5 -0.6 -0.5 -3.4 -0.5 -0.6 -0.5 -1.4 0 -0.6 -0.5 -1.4 0 -0.6 -0.5 -1.4 0 -0.6 -0.5 -3.4 -0.5 -0.6 -0.5 -3.4 -0.5 -0.6 -0.5 -1 0 -0.4 -0.6 -1 0 -1.2 -1.3 0.9 -18.4 -0.3 -15 -1.9 -18 -2.9 -15 -7.4 -26 -12.5 -37 -9.1 -21.6 -5 -10 -5.5 -9.5 -16.9 -25.9 -6.8 -9 -13 -14.4 -13 -11.8 -7.4 -6 -8 -5.6 -19.6 -11.7 -7 -3.5 -7 -2.9 -18.4 -5.4 -1.6 -2.3 -0.5 -3 0.5 -2.7 1 -2.5 1.6 -1.2 26 6.6 8 2.5 16.4 6.2 3.6 0.9 2.4 0.2 1.8 -2 0 -0.4 5 -7 0 -0.5 4 -5.5 0 -0.5 7 -10.1 0 -0.4 4.1 -5.6 0 -0.4 1.5 -1.6 1 -2 1.5 -1.4 1 -2 1.5 -1.6 1 -2 1.5 -1.4 1 -2 1.5 -1.6 1 -2 1.5 -1.4 1 -2 1.5 -1.6 1 -2 1.5 -1.4 1 -2 1.5 -1.6 1 -2 1.5 -1.4 1 -2 1.5 -1.6 1 -2 1.5 -1.4 1 -2 1.5 -1.6 1 -2 1.5 -1.4 0 -0.6 2.5 -3 0 -0.4 2.5 -3z" fill="#ff5900"/>
<path d="M559.6 50.8l0.5 -0.5 99.7 -0.1 0 352 -1 -0.5 -2 0 -0.6 -0.5 -2 0 -0.4 -0.5 -2 0 -0.6 -0.5 -1.9 0 -0.5 -0.5 -2 0 -0.6 -0.5 -2 0 -0.4 -0.5 -2 0 -0.6 -0.5 -2 0 -0.4 -0.5 -2 0 -0.5 -0.5 -2.1 0 -0.4 -0.5 -2 0 -0.6 -0.5 -2 0 -0.4 -0.5 -2 0 -0.6 -0.5 -2 0 -0.4 -0.5 -2 0 -0.6 -0.5 -2 0 -0.4 -0.5 -2 0 -0.6 -0.5 -2 0 -0.4 -0.5 -2 0 -0.6 -0.5 -1.9 0 -0.5 -0.5 -2 0 -0.6 -0.5 -2 0 -0.4 -0.5 -2 0 -0.6 -0.5 -2 0 -0.4 -0.5 -2 0 -0.6 -0.5 -2 0 -0.4 -0.5 -2 0 -0.6 -0.5 -2 0 -0.4 -0.5 -2 0 -0.6 -0.5 -2.4 -0.5 -1.5 -1.5 -0.3 -19.4 -2.5 -21 -2.5 -12 -6.7 -23 -11.8 -35 -7.5 -19 -8.5 -17.6 -10.1 -17 -12.8 -19.4 -10.2 -13 -11.6 -12.6 -13.6 -12 -14 -10.3 -18.4 -10.9 -7 -3.5 -7.1 -2.9 -18.5 -5.3 -1 -0.8 -0.6 -1.7 -0.2 -1.6 0.6 -2.4 0.8 -1.6 1 -0.6 14.5 3.6 13.1 4 8.4 3.2 23.2 10.4 5.9 2 3.9 0.6 1.3 -2.6 2 -2.6 0 -0.4 1.5 -1.6 0 -0.4 1.5 -1.6 0 -0.4 1.5 -1.6 0 -0.4 1.5 -1.6 0 -0.4 1.5 -1.6 0 -0.4 1.5 -1.6 0 -0.4 1.5 -1.6 0 -0.4 1.5 -1.6 0 -0.4 1.5 -1.6 0 -0.4 1.5 -1.6 0 -0.4 1.5 -1.6 0 -0.4 1.5 -1.6 0 -0.4 1.5 -1.6 0 -0.4 1.5 -1.6 0 -0.4 1.5 -1.6 0 -0.4 1.5 -1.6 0 -0.4 1.5 -1.6 0 -0.4 1.5 -1.6 0 -0.4 1.5 -1.6 0 -0.4 1.5 -1.6 0 -0.4 1.5 -1.6 0 -0.4 1.5 -1.6 0 -0.4 1.5 -1.6 0 -0.4 1.5 -1.6 0 -0.4 1.5 -1.6 0 -0.4 1.5 -1.6 0 -0.4 1.5 -1.6 0 -0.4 1.5 -1.6 0 -0.4 1.5 -1.6 0 -0.4 1.5 -1.6 0 -0.4 1.5 -1.6 0 -0.4 1.5 -1.6 0 -0.4 1.5 -1.6 0 -0.4 1.5 -1.6 0 -0.4 1.5 -1.6 0 -0.4 1.5 -1.6 0 -0.4 1.5 -1.6 0 -0.4 1.5 -1.6 0 -0.4 1.5 -1.6 0 -0.4 1.5 -1.6 0 -0.4 7.5 -9.6z" fill="#ff4200"/>
<path d="M589.5 50.8l0.5 -0.6 69.8 0 0 335.2 -3 0 -0.6 -0.5 -3 0 -0.4 -0.5 -3 0 -0.6 -0.5 -3 0 -0.4 -0.5 -3 0 -0.6 -0.5 -3 0 -0.4 -0.5 -3 0 -0.6 -0.5 -3 0 -0.4 -0.5 -3 0 -0.6 -0.5 -3 0 -0.4 -0.5 -3 0 -0.6 -0.5 -3 0 -0.4 -0.5 -3 0 -0.6 -0.5 -3 0 -0.4 -0.5 -3 0 -0.6 -0.5 -3 0 -0.4 -0.5 -3 0 -0.6 -0.5 -6.4 -0.5 -0.6 -0.5 -4.4 -0.5 -0.6 -0.5 -2.4 -0.5 -1.3 -1.2 -1.9 -20 -1.6 -10.4 -1.7 -7.5 -8.3 -28.1 -12.3 -35.4 -7.8 -19 -7.3 -15 -8.8 -15 -13.8 -21 -10.4 -13.6 -10.4 -11.4 -12 -11.2 -12 -9.5 -12.4 -8.3 -15.6 -8.7 -12.4 -5.1 -16.6 -4.5 -1 -1.6 0.6 -2 0.4 -0.8 0.6 -0.1 14.4 3.8 11.1 3.4 11.5 4.6 38 17.4 6.4 2.3 4.2 -4.3 0 -0.4 7.1 -8.6 0 -0.4 2.5 -2.6 0 -0.4 2.5 -2.6 0 -0.4 2.5 -2.6 0 -0.4 2.5 -2.6 0 -0.4 2.5 -2.6 0 -0.4 2.5 -2.6 0 -0.4 2.5 -2.6 0 -0.4 2.5 -2.6 0 -0.4 2.5 -2.6 0 -0.4 2.5 -2.6 0 -0.4 2.5 -2.6 0 -0.4 2.5 -2.6 0 -0.4 2.5 -2.6 0 -0.4 2.5 -2.6 0 -0.4 2.5 -2.6 0 -0.4 2.5 -2.6 0 -0.4 2.5 -2.6 0 -0.4 2.5 -2.6 0 -0.4 2.5 -2.6 0 -0.4 2.5 -2.6 0 -0.4 2.5 -2.6 0 -0.4 2.5 -2.6 0 -0.4 2.5 -2.6 0 -0.4 2.5 -2.6 0 -0.4 2.5 -2.6 0 -0.4 2.5 -2.6 0 -0.4 2.5 -2.6 0 -0.4 2.5 -2.6 0 -0.4z" fill="#ff2c00"/>
<path d="M631.1 50.8l0.5 -0.6 28.2 0 0 318.1 -4.6 0 -0.4 -0.5 -5 0 -0.6 -0.5 -5 0 -0.4 -0.5 -5 0 -0.6 -0.5 -5 0 -0.4 -0.5 -5 0 -0.6 -0.5 -5 0 -0.4 -0.5 -5 0 -0.6 -0.5 -5 0 -0.4 -0.5 -8.6 -0.5 -0.4 -0.5 -3 0 -0.6 -0.4 -3 0 -0.4 -0.5 -4.6 -0.5 -0.4 -0.5 -2.6 -0.4 -1.4 -1.1 -1.9 -11.6 -2.4 -11.6 -9 -29.4 -11.5 -32.6 -4.4 -11.4 -6.8 -15.6 -6.6 -13 -8.7 -14.4 -12.6 -19.1 -7.1 -9.5 -7 -8.5 -8 -8.6 -8.6 -8.1 -9 -7.8 -12.9 -10 -0.9 -1 1.4 0 5.1 1.6 12.3 4.9 8.6 4.3 18 10.1z" fill="#fe1200"/>
<path d="M658.8 105.8l1 -0.5 0 239.3 -73.6 0.1 -3.5 -12.5 -7.7 -23.4 -12.8 -35.6 -8.7 -21.4 -7.6 -15.6 -11.7 -19.5 -14.9 -21.9 -13.1 -16.2 -8 -8.6 -10.4 -10.2 -1.2 -1.6 0 -0.4 1.2 -0.2 2 0.4 6 2.6 7.4 4.4 8 5.4 12.1 9.8 12.9 13.4 1 0.1 1.6 -1 0.4 0 1 -1 0.7 0.1 -3.1 3.1 0 0.4 1 0 2 -1 2.4 -2 0.6 0 1.4 -1.5 0.6 0 1.4 -1.5 0.6 0 1.4 -1.5 0.6 0 1.4 -1.5 0.6 0 1.4 -1.5 0.6 0 1.4 -1.5 0.6 0 1.4 -1.5 0.6 0 1.4 -1.5 0.6 0 1.4 -1.5 0.6 0 1.4 -1.5 0.6 0 1.4 -1.5 0.6 0 1.4 -1.5 0.6 0 1.4 -1.5 0.6 0 1.4 -1.5 0.6 0 1.4 -1.5 0.6 0 1.4 -1.5 0.6 0 1.4 -1.5 0.6 0 1.4 -1.5 0.6 0 1.4 -1.5 0.6 0 1.4 -1.5 0.6 0 1.4 -1.5 0.6 0 1.4 -1.5 0.6 0 1.4 -1.5 0.6 0 1.4 -1.5 0.6 0 1.4 -1.5 0.6 0 1.5 -1.5 0.5 0 1.4 -1.5 0.6 0 1.5 -1.5 0.5 0 1.4 -1.5 0.6 0 1.4 -1.5 0.6 0 1.4 -1.5 0.6 0 1.4 -1.5 0.6 0 1.4 -1.5 0.6 0 1.4 -1.5 0.6 0 1.4 -1.5 0.6 0 1.4 -1.5 0.6 0 1.4 -1.5 0.6 0 1.4 -1.5 0.6 0 1.4 -1.5 0.6 0 1.4 -1.5 0.6 0 1.5 -1.5 0.5 0 1.4 -1.5 0.6 0 1.5 -1.5 0.5 0 1.4 -1.5 0.6 0 1.5 -1.5 0.5 0 1.4 -1.5 0.6 0 1.5 -1.5 0.5 0 1.4 -1.5 0.6 0 1.5 -1.5 0.5 0 1.4 -1.5 0.6 0 1.5 -1.5 0.5 0 1.4 -1.5 0.6 0 1.4 -1.5 0.6 0 1.4 -1.5 0.6 0 1.4 -1.5 0.6 0z" fill="#e30000"/>
<path d="M499.3 166.8l0.9 -0.2 2 0.7 7.6 4.4 7 5.3 6 5.3 6.2 6.5 7 8 6.5 8.4 5.5 8 6 10 5.6 10.6 4.9 10.4 6 14 5 13 5.7 19.9 0.6 0.1 -0.4 0.6 0.4 1.2 1.1 0.2 -0.8 1 0.1 0.7 2.6 0 0.3 0.3 -0.3 0.4 -1 0 -1 1.3 9 -0.1 0.4 -0.5 2.6 0 0.4 -0.5 2.6 0 0.4 -0.5 2.6 0 0.4 -0.5 2.6 0 0.4 -0.5 2.6 0 0.4 -0.5 2.6 0 0.4 -0.5 2.6 0 0.4 -0.5 2.6 0 0.4 -0.5 2.6 0 0.4 -0.5 2.6 0 0.4 -0.5 2.6 0 0.4 -0.5 2.6 0 0.4 -0.5 2.6 0 0.4 -0.5 2.6 0 0.4 -0.5 2.6 0 0.4 -0.5 2.6 0 0.4 -0.5 2.6 0 0.4 -0.5 2.6 0 0.4 -0.5 2.6 0 0.4 -0.5 2.6 0 0.4 -0.5 2.6 0 0.4 -0.5 2.5 0 0.5 -0.5 1.6 0 0 28.4 -10 0.5 -0.6 0.5 -5 0 -0.4 0.5 -5 0 -0.6 0.5 -5 0 -0.4 0.5 -5 0 -0.6 0.5 -5 0 -0.4 0.5 -5 0 -0.6 0.5 -5 0 -0.4 0.5 -8.6 0.5 -0.4 0.5 -3 0 -0.6 0.5 -3 0 -0.4 0.5 -4.6 0.5 -0.4 0.5 -2.6 0.5 -1 1.1 -0.4 4.6 -0.6 1.3 -0.4 0.3 -24.1 -64.2 -6.8 -16 -6.4 -13 -10.6 -18 -12.7 -19 -14.4 -19 -9.7 -11.6z" fill="#c30000"/>
<path d="M510.7 176.2l1.1 -0.1 2 1 6.4 5 6.6 6.2 6.4 7.2 5.8 7.3 6.7 9.4 5.3 8.6 5.6 10 9.4 20 4.9 12.4 3.1 9 4.4 15.6 2.5 10.4 1.4 8.6 -0.2 5 -0.3 0.1 -0.6 -0.6 -1.4 -3 -8.6 -20.4 -11.1 -29.1 -5.9 -13.6 -5.3 -10.5 -5.4 -9.5 -8.4 -13.4 -9.7 -14.6 -13.1 -18z" fill="#a80000"/>
<path d="M521.8 187.2l0.4 -0.3 1 0.6 4 3.6 5 5.3 5.6 6.7 9 12.8 9 15.6 8 16.7 6.4 16.7 5.6 18.8 1.4 7 0 2.8 -1.4 -1.9 -2 -4.2 -11.6 -29.2 -4.9 -11.4 -5.2 -10.6 -5.7 -10.4 -7.6 -12.6 -15.1 -22.4z" fill="#8d0000"/>
<g transform="rotate(6 419 131)"><rect x="409.3" y="122.5" width="15" height="14.5" rx="1.5" fill="#ff7a00" opacity="0.75"/><rect x="415.3" y="125.5" width="8.8" height="11" rx="1" fill="#b80000"/></g>
</g></g>
<use href="#hl" fill="#fff"/>
<use href="#sp" fill="#fff"/>
</g>
</g>
<g transform="translate(543.7,0)">
<g clip-path="url(#ax)">
<use href="#mk" fill="#00007f"/>
<g clip-path="url(#dd)"><g filter="url(#bl)">
<path d="M306.8 63.2L309.6 64.5L312.4 65.7L315.3 67L318.1 68.2L320.9 69.4L323.7 70.6L326.6 71.8L329.4 72.9L332.3 74.1L335.1 75.3L338 76.4L340.9 77.5L343.7 78.6L346.6 79.8L349.5 80.9L352.4 82L355.2 83L358.1 84.1L361 85.2L363.9 86.3L366.8 87.3L369.7 88.4L372.6 89.5L375.5 90.5L378.4 91.6L381.3 92.6L384.2 93.7L387.1 94.7L390 95.8L392.9 96.8L395.7 97.9L398.6 98.9L401.5 100L404.4 101L407.3 102.1L410.2 103.1L413.1 104.2L416 105.3L418.9 106.3L421.8 107.4L424.6 108.5L427.5 109.6L430.4 110.7L433.2 111.9L436 113.1L438.9 114.3L441.6 115.5L444.4 116.8L447.1 118.2L449.8 119.6L452.5 121.1L455.2 122.6L457.8 124.2L460.3 125.9L462.9 127.6L465.4 129.3L467.9 131L470.4 132.8L473 134.6L475.5 136.4L478 138.2L480.4 140.1L482.9 141.9L485.4 143.8L487.8 145.6L490.3 147.5L492.7 149.4L495.1 151.4L497.5 153.3L499.9 155.3L502.2 157.3L504.6 159.3L506.9 161.4L509.2 163.5L511.4 165.6L513.6 167.7L515.8 169.9L518 172.1L520.1 174.3L522.2 176.5L524.3 178.8L526.4 181.1L528.4 183.4L530.4 185.8L532.3 188.2L534.2 190.6L536.1 193L538 195.5L539.8 197.9L541.6 200.4L543.4 202.9L545.1 205.5L546.8 208.1L548.5 210.6L550.2 213.3L551.8 215.9L553.3 218.5L554.9 221.2L556.4 223.9L557.8 226.6L559.3 229.3L560.7 232.1L562.1 234.8L563.4 237.6L564.7 240.4L566 243.2L567.2 246L568.4 248.8L569.6 251.7L570.7 254.6L571.8 257.4L572.8 260.3L573.9 263.2L574.8 266.1L575.8 269.1L576.7 272L577.6 275L578.4 277.9L579.2 280.9L580 283.9L580.7 286.9L581.4 289.9L582 292.9L582.6 295.9L583.2 298.9L583.7 301.9L584.2 304.9L584.7 308L585.1 311L585.4 314.1L585.8 317.1L586.1 320.2L586.3 323.2L586.5 326.3L586.7 329.4L586.8 332.4L586.9 335.5L587 338.6L587 341.6L587 344.7L586.9 347.8L586.8 350.8L586.6 353.9L586.4 357L586.2 360L585.9 363.1L585.6 366.1L585.3 369.2L584.9 372.3L584.5 375.3L584 378.3L583.5 381.4L583 384.4L582.4 387.4L581.8 390.5L581.1 393.5L580.5 396.5L579.7 399.5L579 402.4L578.2 405.4L577.3 408.4L576.5 411.4L575.6 414.3L574.6 417.2L573.6 420.2L572.6 423.1L571.6 426L570.5 428.9L569.4 431.8L568.2 434.6L567.1 437.5L565.8 440.3L564.6 443.1L563.3 446L562 448.7L560.6 451.5L559.3 454.3L557.8 457L556.4 459.8L554.9 462.5L553.4 465.2L551.8 467.8L550.3 470.5L548.7 473.1L547 475.7L545.4 478.3L543.7 480.9L541.9 483.4L540.2 486L538.4 488.5L536.6 491L534.7 493.4L532.8 495.9L530.9 498.3L529 500.7L527 503L525 505.4L523 507.7L520.9 510L518.9 512.2L516.8 514.4L514.6 516.7L512.5 518.8L510.3 521L508.1 523.1L505.8 525.2L503.6 527.2L501.3 529.3L499 531.3L496.6 533.3L494.3 535.2L491.9 537.1L489.5 539L487.1 540.9L484.6 542.7L482.2 544.6L479.7 546.4L477.2 548.1L474.6 549.9L472.1 551.6L469.6 553.3L467 555L464.4 556.7L461.8 558.3L459.2 560L456.5 561.6L453.9 563.2L451.2 564.7L448.6 566.3L445.9 567.8L443.2 569.4L440.5 570.9L437.8 572.4L435.1 573.8L432.4 575.3L429.6 576.8L426.9 578.2L424.1 579.6L421.4 581.1L418.6 582.5L415.9 583.9L413.1 585.3L410.4 586.6L407.6 588L404.8 589.4L402.1 590.7L399.3 592.1L396.5 593.4L393.8 594.7L391 596.1L388.2 597.4L385.5 598.7L382.7 600.1L380 601.4L377.2 602.7L374.5 604L371.7 605.3L369 606.6L366.3 607.9L338 612.8L336 615.6L336 647.2L203.3 594.8L203.3 504.9L202.6 500.9L201.9 496.8L201.2 492.8L200.5 488.7L199.9 484.6L199.2 480.6L198.5 476.5L197.8 472.4L197.1 468.3L196.4 464.2L195.7 460.1L195 456L194.3 451.9L193.7 447.8L193 443.6L192.4 439.5L191.7 435.4L191.1 431.3L190.5 427.1L190 423L189.4 418.8L188.8 414.7L188.3 410.6L187.8 406.4L187.4 402.3L186.9 398.1L186.5 394L186.1 389.8L185.7 385.7L185.4 381.5L185.1 377.4L184.8 373.3L184.6 369.1L184.4 365L184.2 360.8L184.1 356.7L184 352.6L184 348.4L184 344.3L184.1 340.2L184.2 336L184.3 331.9L184.4 327.8L184.6 323.7L184.9 319.5L185.1 315.4L185.4 311.3L185.7 307.2L186.1 303.1L186.5 298.9L186.8 294.8L187.3 290.7L187.7 286.6L188.1 282.5L188.6 278.3L189.1 274.2L189.6 270.1L190.1 266L190.6 261.8L191.2 257.7L191.7 253.6L192.2 249.4L192.8 245.3L193.3 241.1L193.9 237L194.4 232.9L195 228.7L195.5 224.5L196.1 220.4L196.6 216.2L197.1 212L197.7 207.9L198.2 203.7L198.8 199.5L199.3 195.4L200 191.2L200.6 187.1L201.3 183L202 178.9L202.8 174.8L203.6 170.7L204.5 166.7L205.5 162.7L206.6 158.7L207.7 154.7L208.9 150.8L210.2 146.9L211.6 143.1L213.2 139.3L214.8 135.5L216.5 131.8L218.4 128.1L220.4 124.5L222.6 120.9L224.8 117.5L227.2 114.1L229.8 110.9L232.4 107.7L235.2 104.6L238.1 101.7L241.1 98.8L244.3 96.1L247.5 93.5L250.8 90.9L254.2 88.5L257.7 86.2L261.3 84L264.9 81.9L268.6 79.8L272.3 77.9L276.1 76L279.9 74.2L283.7 72.4L287.5 70.7L291.3 69.1L295.2 67.6L299 66.1L302.8 64.6Z" fill="#00007f"/>
<path d="M294.1 50.2l365.7 0 0 659.6 -215.5 0 -1.5 -1.6 0 -0.4 -13 -13 0 -0.6 -2 -2 -0.6 0 -18 -18 -0.4 0 -4 -4 -0.6 0 -3 -3 -0.4 0 -8.5 -7.5 -0.5 0 -2 -2 -0.6 0 -2.4 -2.5 -0.6 0 -1.4 -1.5 -0.6 0 -2 -2 -0.4 0 -2 -2 -0.6 0 -1.4 -1.5 -0.6 0 -4 -3.5 -0.4 0 -5.6 -5 -0.4 0 -3 -3 -0.6 0 -2.4 -2.5 -0.6 0 -2.4 -2.7 -0.6 0 -3 -3 -0.4 0 -3 -3 -0.6 -0.1 -3 -3 -0.4 0 -6.3 -5.6 -0.7 -2 -2 -2 -10.9 -2 -10.1 -1.3 -28 -0.2 -6 -0.4 -5.6 -1 -28.3 -7.7 -27.7 -6.5 -9.4 -3.8 -8 -5 -103.6 0 0 -388.1 1 0 0.5 0.5 3.5 0 0.5 0.5 3.5 0 0.6 0.5 3.4 0 0.6 0.5 3.4 0 0.6 0.5 3.4 0 0.6 0.5 3.4 0 0.6 0.5 3.4 0 0.6 0.5 3.4 0 0.6 0.5 3.4 0 0.6 0.5 3.4 0 0.6 0.5 3.4 0 0.6 0.5 3.4 0 0.6 0.5 3.4 0 0.6 0.5 3.4 0 0.5 0.5 3.5 0 0.6 0.5 3.4 0 0.5 0.5 3.5 0 0.6 0.5 3.4 0 0.6 0.5 3.4 0 0.6 0.5 3.4 0 0.6 0.5 16 0.2 0 -1.2 -0.6 -0.1 1 0 6 -15.4 3.6 -8 6.1 -11 5.9 -8.6 6.4 -7 13 -12.5 6 -5.1 12.9 -9.8 6.8 -6.6 11.9 -12.8 28.4 -34.2 0.6 -1.4 -0.1 -1 -3.2 -4.6 -1.4 -3 -1 -1 -4 -8 0 -1 -1 -1.4 0 -1 -1 -1.6z" fill="#00008d"/>
<path d="M296.8 50.2l363 0 0 659.6 -215.5 0 -1.5 -1.6 0 -0.4 -13 -13 0 -0.6 -2 -2 -0.6 0 -18 -18 -0.4 0 -4 -4 -0.5 0 -3.1 -3 -0.4 0 -8.6 -7.5 -0.4 0 -2 -2 -0.6 0 -2.4 -2.5 -0.6 0 -1.4 -1.5 -0.6 0 -2 -2 -0.4 0 -2 -2 -0.6 0 -1.5 -1.5 -0.5 0 -4 -3.5 -0.4 0 -14.9 -12.9 -0.6 -1 0 -2.6 -0.5 -0.4 0 -2.6 -0.5 -0.4 0 -2.6 -0.5 -0.4 -0.5 -5.6 -0.5 -0.4 -0.5 -3.6 -0.8 -1.4 -0.3 -3 -14 -3.3 -19.8 -2.7 -6.2 -0.6 -19 -0.6 -11.4 -1.4 -41 -10.2 -12 -2.5 -8.6 -2.7 -7 -3.5 -6 -4.5 -4.4 -4.9 -103.6 0 0 -359.4 6 0.5 0.6 0.5 3 0 0.4 0.5 3 0 0.6 0.5 3 0 0.4 0.5 3 0 0.6 0.5 3 0 0.4 0.5 3 0 0.6 0.5 3 0 0.4 0.5 3 0 0.6 0.5 3 0 0.4 0.5 3 0 0.6 0.5 3 0 0.4 0.5 3 0 0.6 0.5 3 0 0.4 0.5 3 0 0.6 0.5 3 0 0.4 0.5 3 0 0.6 0.5 3 0 0.4 0.5 3 0 0.6 0.5 3 0 0.4 0.5 3 0 0.6 0.5 3 0 0.4 0.5 3 0 0.6 0.5 2.4 0 0.6 0.4 9 0.4 15.3 -37.1 5.9 -11 5.8 -8.4 6.8 -7.6 13.2 -12.4 7 -5.7 12.9 -9.3 7.1 -6.6 8.4 -9.4 31.9 -38.6 0.6 -2 -0.9 -2 -3 -3.4 -3.6 -2.5 -1.6 -2.5 -0.3 -3 -1 -2 0 -1 -0.5 -0.6 0 -1 -0.5 -0.4 -1 -4 -0.5 -0.6 -0.5 -2.4z" fill="#00009a"/>
<path d="M296.9 50.2l362.9 0 0 659.6 -215.5 0 -1.5 -1.6 0 -0.4 -13 -13 0 -0.6 -2 -2 -0.5 0 -18.1 -18 -0.4 0 -4 -4 -0.6 0 -2.9 -3 -0.5 0 -8.6 -7.5 -0.4 0 -2 -2 -0.6 0 -2.4 -2.5 -0.6 0 -1.5 -1.5 -0.5 0 -2 -2 -0.4 0 -2.1 -2 -0.5 0 -1.5 -1.5 -0.5 0 -4 -3.5 -0.4 0 -14.8 -12.9 -0.6 -1 0 -2.6 -0.5 -0.4 0 -2.6 -0.5 -0.4 0 -2.6 -0.5 -0.4 -0.5 -5.6 -0.4 -0.4 0 -1.6 -0.4 -0.4 -0.3 -2 0.4 -4 1.9 -6.6 -0.8 -1.3 -17.8 -2.7 -20.8 -2.2 -20 -1.6 -12.4 -1.7 -33 -8.2 -21.6 -6 -5 -2.1 -4.4 -2.6 -3.8 -3 -3.2 -3.5 -2.7 -3.5 -2.5 -4.6 -4.8 -12.5 -103.6 0 0 -317.3 1.1 0 0.5 0.5 3.4 0 0.6 0.5 3.4 0 0.6 0.5 3.4 0 0.6 0.5 3.4 0 0.6 0.5 3.4 0 0.6 0.5 3.4 0 0.6 0.5 3.4 0 0.6 0.5 3.4 0 0.6 0.5 3.4 0 0.6 0.5 3.4 0 0.6 0.5 3.4 0 0.6 0.5 3.4 0 0.6 0.5 3.4 0 0.6 0.5 3.4 0 0.6 0.5 3.4 0 0.6 0.5 3.4 0 0.6 0.5 3.4 0 0.6 0.5 3.4 0 0.6 0.5 3.4 0 0.6 0.5 3.4 0 0.6 0.4 2.4 0 0.6 0.3 9 0 4.5 -9.9 16.3 -38.4 5.9 -11 5.7 -8.6 6.6 -7.4 12.8 -12 7.2 -5.8 14 -10.1 8.8 -8.1 7.2 -8 15.9 -20 15.3 -17 1.8 -2.5 0.2 -2.1 -1.7 -2.4 -7.5 -6 -2.6 -1.3 -1.7 -1.7 -0.8 -1.6 -0.3 -2.4 -0.5 -0.6 0 -1 -0.5 -0.4 0 -1 -0.5 -0.6 0 -1 -0.5 -0.4 0 -1 -0.5 -0.6 0 -1 -0.5 -0.4 -1 -4z" fill="#0000a3"/>
<path d="M296.9 50.2l362.9 0 0 659.6 -215.5 0 -1.5 -1.6 0 -0.4 -13 -13 0 -0.6 -2 -2 -0.6 0 -18 -18 -0.4 0 -4 -4 -0.6 0 -3 -3 -0.4 0 -8.6 -7.5 -0.4 0 -2 -2 -0.6 0 -2.4 -2.5 -0.6 -0.1 -1.4 -1.5 -0.6 0 -2 -2 -0.4 0 -2 -2 -0.6 0 -1.4 -1.5 -0.6 0 -4 -3.5 -0.4 0 -14.7 -12.8 -0.5 -1 0 -2.6 -0.5 -0.4 0 -2.6 -0.5 -0.4 0 -2.6 -0.5 -0.4 0 -2.6 -0.5 -0.4 0 -2.6 -0.4 -0.4 -0.2 -6 0.8 -3 0.8 -2 1.2 -1.6 2 -1.5 4 -2.2 5.4 -4.3 2 -2 0.3 -0.4 -0.3 -0.5 -16.4 -0.3 -16.6 -1 -33 -3 -12.4 -1.7 -13 -2.5 -20 -5.4 -12.6 -3.9 -11 -4.2 -5 -2.5 -4 -2.9 -4 -4.1 -3.3 -4.6 -4.8 -9 -7.6 -19 -3.7 -7.9 -103.6 0 0 -281.6 6 0.5 0.6 0.5 3 0 0.4 0.5 3 0 0.6 0.5 3 0 0.4 0.5 3 0 0.6 0.5 3 0 0.4 0.5 3 0 0.6 0.5 3 0 0.4 0.5 3 0 0.6 0.5 3 0 0.4 0.5 3 0 0.6 0.5 3 0 0.4 0.5 3 0 0.6 0.5 3 0 0.4 0.5 3 0 0.6 0.5 3 0 0.4 0.5 3 0 0.6 0.5 3 0 0.4 0.5 3 0 0.6 0.5 3 0 0.4 0.5 3 0 0.6 0.5 3 0 0.4 0.5 5.6 0.4 0.4 0.5 1.6 0 0.4 0.4 4 0.2 8.9 -18.5 11.1 -26.4 6.3 -14 5.7 -10.6 5.6 -8.4 6.6 -7.6 11.8 -11 7 -5.7 15.4 -11.3 9.6 -8.5 6 -6.6 17 -21.5 18.1 -18.8 0.3 -1 -0.3 -1.6 -2.1 -2.4 -12.4 -8.6 -2.6 -1.2 -1.4 -1.4 -0.9 -1.4 -1 -4 -0.5 -0.4 0 -1 -0.5 -0.6 0 -1 -0.5 -0.4 0 -1 -0.5 -0.6 0 -1 -0.5 -0.4 0 -1 -0.5 -0.6 0 -1 -0.5 -0.4 0 -1z" fill="#0000b1"/>
<path d="M297 50.2l362.8 0 0 659.6 -215.5 0 -1.5 -1.6 0 -0.5 -12.9 -12.9 0 -0.6 -2.1 -2.1 -0.6 0 -18 -18 -0.4 0 -4 -4 -0.6 0 -3 -3 -0.4 0 -8.6 -7.5 -0.4 0 -2.1 -2 -0.5 0 -2.5 -2.5 -0.5 0 -1.4 -1.5 -0.6 0 -2 -2 -0.4 0 -2 -2 -0.6 0 -1.4 -1.5 -0.6 0 -4 -3.5 -0.4 0 -5.6 -5 -0.4 0 -3 -3.1 -0.6 0 -1.4 -1.7 -0.5 -4 -0.5 -0.6 0 -1.9 -0.5 -0.5 0 -2 -0.5 -0.6 0 -2 -0.5 -0.4 0 -2 -0.5 -0.6 0 -2 -0.5 -0.4 0 -2 -0.5 -0.6 -0.5 -3.4 -1.4 -2.6 1.3 -3.8 1 -1.4 1.6 -1.3 4.2 -1.9 11.4 -7 6.6 -4.6 5.1 -4.4 1.1 -1.6 -0.4 -0.4 -7.6 0.2 -22 1.9 -10 0.4 -13 -0.2 -16 -1.2 -18 -2.1 -14.4 -2.6 -18.6 -4.9 -13.1 -4.5 -8.3 -3.9 -6.6 -3.8 -5 -3.9 -4.4 -4.7 -3.8 -5.3 -3.5 -6 -11.9 -24 -7.8 -11.9 -4 0.3 -0.6 0.4 -1.4 0 -0.6 0.4 -2.4 0 -0.6 0.5 -2.4 0 -0.6 0.5 -7.4 0.5 -0.6 0.5 -9.4 0.4 -0.6 0.5 -5.4 0 -0.6 0.5 -5.4 0 -0.6 0.5 -6 0 -1 0.5 -6 0.1 -0.4 0.5 -4.6 0 -0.4 0.5 -11 0.5 -0.6 0.5 -12 0.5 -0.4 0.5 -6 0.1 -0.6 0.5 -5.4 0 -0.6 0.4 -5 0 -1 0.5 0 -260.4 1.6 0 0.4 0.5 3.6 0 0.4 0.5 3.6 0 0.4 0.5 3.6 0 0.4 0.5 3.6 0 0.4 0.5 3.6 0 0.4 0.5 3.6 0 0.4 0.5 3.6 0 0.4 0.5 3.6 0 0.4 0.5 3.6 0 0.4 0.5 3.6 0 0.4 0.5 3.6 0 0.4 0.5 3.6 0 0.4 0.5 3.6 0 0.4 0.5 3.6 0 0.4 0.5 3.6 0 0.4 0.5 3.6 0 0.4 0.5 3.6 0 0.4 0.5 3.6 0 0.4 0.5 3.6 0 0.4 0.4 2.6 0 0.4 0.4 9 0.1 5.9 -13.6 8.7 -18.6 9.2 -21.4 8.1 -18 5.6 -10.6 5.3 -8 6.8 -7.7 10.4 -9.9 7.6 -6.1 17 -12.7 9.4 -8 5 -5.6 11.9 -15.4 6.4 -7.6 6.7 -6.8 10.6 -9.2 1.8 -2 0.3 -1 -0.3 -1.4 -3.3 -3.6 -6.6 -4.4 -13.5 -8 -1.7 -3 0 -1 -0.5 -0.6 0 -1 -0.5 -0.4 0 -1 -0.5 -0.6 0 -1 -0.5 -0.4 0 -1 -0.5 -0.6 0 -1 -0.5 -0.4 0 -1 -0.5 -0.6 0 -1z" fill="#0000bf"/>
<path d="M297 50.2l362.8 0 0 659.6 -215.4 0 -1.5 -1.6 0 -0.4 -13 -13 0 -0.6 -2.1 -2.1 -0.6 0 -18 -18 -0.4 0 -4 -4 -0.6 0 -3 -3 -0.4 0 -8.6 -7.5 -0.4 0 -2 -2 -0.6 0 -2.4 -2.5 -0.6 0 -1.4 -1.5 -0.6 0 -2 -2 -0.4 0 -2.1 -2 -0.5 0 -1.4 -1.5 -0.6 0 -4 -3.5 -0.4 0 -5.6 -5.1 -0.4 0 -3 -3.1 -0.6 0 -1.3 -1.6 -0.5 -4 -0.5 -0.6 0 -2 -0.5 -0.4 0 -2 -0.5 -0.6 0 -2 -0.5 -0.4 0 -2 -0.5 -0.6 0 -2 -0.5 -0.4 0 -2 -0.5 -0.6 -0.5 -3.4 -0.8 -1.6 0.2 -2 1.4 -3 2.6 -2.3 3.4 -1.6 13.1 -7.5 13 -8.6 7.8 -6.4 1.7 -2.6 0 -1.1 -7.6 -0.8 -6 -0.1 -22.4 3.6 -11.6 1.3 -12.4 0.6 -13.6 -0.4 -18 -1.9 -16.4 -2.9 -14.6 -3.8 -14 -4.9 -7.3 -3.6 -6.7 -4.1 -5.4 -4.4 -5 -5.2 -9 -12.5 -10.1 -17.8 -5.3 -8.4 -6.4 -9 -6.8 -8.4 -9 0.3 -0.4 0.5 -2.6 0 -0.4 0.5 -2.6 0 -0.4 0.5 -2.6 0 -0.4 0.5 -2.6 0 -0.4 0.5 -2.6 0 -0.4 0.5 -2.6 0 -0.4 0.5 -2.6 0 -0.4 0.5 -2.6 0 -0.4 0.5 -2.6 0 -0.4 0.5 -2.6 0 -0.4 0.5 -2.6 0 -0.4 0.5 -2.6 0 -0.4 0.5 -2.6 0 -0.4 0.5 -2.6 0 -0.4 0.5 -2.6 0 -0.4 0.5 -2.6 0 -0.4 0.5 -2.6 0 -0.4 0.5 -2.6 0 -0.4 0.5 -2.6 0 -0.4 0.5 -2.6 0 -0.4 0.5 -2.6 0 -0.4 0.5 -2.6 0 -0.4 0.5 -2.6 0 -0.4 0.5 -2.6 0 -0.4 0.5 -2.6 0 -0.4 0.5 -2.6 0 -0.4 0.5 -2.6 0 -0.4 0.5 -2.6 0 -0.4 0.5 -2.6 0 -0.4 0.5 -2.6 0 -0.4 0.5 -1.6 0 0 -238.6 1 0.5 4 0 0.6 0.5 4 0 0.4 0.5 4 0 0.6 0.5 4 0 0.4 0.5 4 0 0.6 0.5 4 0 0.4 0.5 4 0 0.6 0.5 4 0 0.4 0.5 4 0 0.6 0.5 4 0 0.4 0.5 4 0 0.6 0.5 4 0 0.4 0.5 4 0 0.6 0.5 4 0 0.4 0.5 4 0 0.6 0.5 7.4 0.5 0.6 0.5 2.4 0 0.6 0.4 2.4 0 0.6 0.4 2 0.4 4 0 10.6 -25 8.8 -19 17.4 -39.6 5 -9.4 5.2 -8 6.7 -8 9.5 -9 7.8 -6.3 20.1 -15.3 7.7 -6.4 4.6 -5.2 12.3 -15.8 6.5 -7.6 6.8 -6.4 12 -9.3 1.9 -2.3 0.1 -1.4 -0.7 -1.6 -3.8 -3.4 -7.7 -5 -12.8 -7.5 -2 -0.7 -1.6 -1.2 -1.7 -2.6 0 -1 -0.5 -0.6 0 -1 -0.5 -0.4 0 -1 -0.5 -0.6 0 -1 -0.5 -0.4 0 -1 -0.5 -0.6 0 -1 -0.5 -0.4 0 -1 -0.5 -0.6 0 -1z" fill="#0000c8"/>
<path d="M297.1 50.2l362.7 0 0 659.6 -215.4 0 -1.5 -1.6 0 -0.4 -13 -13 0 -0.6 -2.1 -2.1 -0.6 0 -18 -18 -0.4 0 -4 -4 -0.6 0 -3 -3 -0.4 0 -8.6 -7.5 -0.4 0 -2 -2 -0.6 0 -2.4 -2.5 -0.6 0 -1.4 -1.5 -0.6 0 -2 -2 -0.4 0 -2 -2 -0.6 0 -1.4 -1.5 -0.6 0 -4 -3.6 -0.4 0 -10.7 -9.3 -0.1 -2 -0.5 -0.4 0 -2 -0.5 -0.6 0 -2 -0.5 -0.4 0 -2 -0.5 -0.6 0 -2 -0.5 -0.4 0 -2 -0.5 -0.6 0 -2 -0.5 -0.4 0 -2 -0.5 -0.6 0 -1.4 -0.4 -0.6 0 -1.4 -0.4 -0.6 0.1 -2.4 1.7 -3.6 2.2 -2 3 -1.4 18.6 -10.6 14.3 -9.4 5.2 -4 4.3 -4 1.7 -2.6 0.3 -1.4 -0.4 -0.4 -11 -1.3 -10.4 -0.3 -5 0.6 -19 3.7 -10.6 1.4 -12.4 0.9 -12.6 -0.1 -15.4 -1.6 -16 -2.9 -12.6 -3.3 -12.4 -4.5 -7.6 -3.6 -6.6 -4.2 -5.8 -4.7 -5.2 -5.3 -10.5 -13.4 -11.9 -19.3 -6.6 -9.7 -6.4 -8.4 -11 -13.3 -9 0.5 -0.4 0.5 -2.6 0 -0.4 0.5 -2.5 0 -0.5 0.5 -2.5 0 -0.5 0.5 -2.6 0 -0.4 0.5 -2.6 0 -0.4 0.5 -2.6 0 -0.4 0.5 -2.6 0 -0.4 0.5 -2.6 0 -0.4 0.5 -2.6 0 -0.4 0.5 -2.6 0 -0.4 0.5 -2.6 0 -0.4 0.5 -2.6 0 -0.4 0.5 -2.6 0 -0.4 0.5 -2.6 0 -0.4 0.5 -2.6 0 -0.4 0.5 -2.6 0 -0.4 0.5 -2.6 0 -0.4 0.5 -2.6 0 -0.4 0.5 -2.6 0 -0.4 0.5 -2.6 0 -0.4 0.5 -2.6 0.1 -0.4 0.4 -2.6 0.1 -0.4 0.4 -2.6 0.1 -0.4 0.4 -5.6 0.6 -0.4 0.5 -2.6 0 -0.5 0.5 -4.9 0.5 -0.6 0.5 -5 0.5 -1 0.5 0 -211 1.6 0 0.4 0.5 4.6 0 0.4 0.5 4.6 0 0.4 0.5 4.6 0 0.4 0.5 4.6 0 0.4 0.5 4.6 0 0.4 0.5 4.6 0 0.4 0.5 4.6 0 0.4 0.5 4.6 0 0.4 0.5 4.6 0 0.4 0.5 4.6 0 0.4 0.5 4.6 0 0.4 0.5 4.6 0 0.4 0.5 4.6 0 0.4 0.5 7.6 0.4 0.4 0.5 2.6 0 0.4 0.5 2.6 0 0.4 0.4 2 0.3 4 0.1 15.3 -37.6 9.7 -21 16.4 -37.6 4.9 -9.4 5.1 -8 6.7 -8.1 8.9 -8.4 29.1 -22.5 6.6 -5.6 5.1 -5.4 12.9 -16.6 6.3 -7.1 8 -7.1 12 -8.4 2 -2.4 0.1 -1.4 -0.8 -1.6 -1.9 -2 -3.2 -2.4 -8 -5 -19 -10.6 -1.8 -2.4 0 -1 -0.5 -0.6 0 -1 -0.5 -0.4 0 -1 -0.5 -0.6 0 -1 -0.5 -0.4 0 -1 -0.5 -0.6 0 -1 -0.5 -0.4 0 -1 -0.5 -0.6 0 -1z" fill="#0000d5"/>
<path d="M297.2 50.2l362.6 0 0 659.6 -215.4 0 -1.5 -1.6 0 -0.4 -13 -13 0 -0.6 -2.1 -2.1 -0.6 0 -18 -18 -0.4 0 -4 -4 -0.6 0 -3 -3 -0.4 0 -8.6 -7.6 -0.4 0 -2 -2 -0.6 0 -2.4 -2.5 -0.6 0 -1.4 -1.5 -0.6 0 -4.4 -4 -0.6 0 -4 -3.5 -0.4 0 -1.6 -1.5 -0.4 0 -5.6 -5 -0.4 0 -3 -3.2 -0.6 0 -1 -1.1 0 -2 -0.5 -0.4 0 -2 -0.5 -0.6 0 -2 -0.5 -0.4 0 -2 -0.5 -0.6 0 -2 -0.5 -0.4 0 -2 -0.5 -0.6 0 -2 -0.5 -0.4 0 -2 -0.5 -0.6 0 -1.4 -0.4 -0.6 0 -4 2 -3.9 2 -1.8 26 -14.7 16.4 -11 5.7 -4.6 3.5 -3.4 1.9 -3.1 -0.1 -1.9 -4.4 -1 -7 -0.9 -15.6 -0.3 -7.4 0.8 -19 3.5 -11.6 1.6 -11.4 0.8 -11.6 0 -14 -1.5 -14.4 -2.7 -12 -3.3 -11 -4.3 -7.6 -3.8 -7 -4.5 -6 -5 -6.1 -6.4 -9.7 -12.6 -11.9 -18.4 -6.9 -10 -23.4 -29.5 -4 0.6 -0.4 0.4 -1.6 0 -0.4 0.5 -2.6 0 -0.4 0.5 -2.6 0 -0.4 0.5 -2.6 0 -0.4 0.5 -2.6 0 -0.4 0.5 -2.6 0 -0.4 0.5 -2.6 0 -0.4 0.5 -2.6 0 -0.4 0.5 -2.6 0 -0.4 0.5 -2.6 0 -0.4 0.5 -2.6 0 -0.4 0.5 -2.6 0 -0.4 0.5 -2.6 0 -0.4 0.5 -2.6 0 -0.4 0.5 -2.6 0 -0.4 0.5 -2.6 0 -0.4 0.5 -2.6 0 -0.4 0.5 -2.6 0 -0.4 0.5 -2.6 0 -0.4 0.5 -2.6 0 -0.4 0.5 -2.6 0 -0.4 0.5 -2.6 0 -0.4 0.5 -2.6 0 -0.4 0.5 -2.6 0 -0.4 0.5 -2.6 0 -0.4 0.5 -2.6 0 -0.4 0.5 -2.6 0 -0.4 0.5 -2.6 0 -0.4 0.5 -2.6 0 -0.4 0.5 -2.6 0 -0.4 0.5 -2.6 0 -1 0.5 0 -171.5 4.6 0 0.4 0.5 7.6 0 0.4 0.5 7.6 0 0.4 0.5 7.6 0 0.4 0.5 56 0.1 7 -20.6 13.3 -35 10.5 -23 16.6 -38 3.5 -7 4.1 -6.6 6.8 -8.4 8.2 -8.1 10 -8.2 21.6 -16.5 6.4 -5.6 6.5 -7.2 12.5 -16 6.6 -6.8 7.4 -6.1 11.9 -7.5 2.3 -2.6 0.1 -1.4 -1.1 -2 -5.3 -4.6 -10.7 -6.4 -16.6 -9.2 -3 -1.3 -2.1 -2.5 -1 -4 -0.5 -0.6 -1 -4 -0.5 -0.4 -1 -4z" fill="#0000de"/>
<path d="M297.2 50.2l362.6 0 0 659.6 -215.4 0 -1.5 -1.6 0 -0.4 -13 -13 0 -0.6 -2.1 -2.1 -0.6 0 -18 -18.1 -0.4 0 -4 -4 -0.6 0 -3 -3 -0.4 0 -8.6 -7.5 -0.4 0 -2 -2 -0.6 0 -2.4 -2.5 -0.6 0 -1.4 -1.5 -0.6 0 -4.4 -4 -0.6 0 -1.4 -1.5 -0.6 0 -2 -2 -0.4 0 -1.6 -1.5 -0.4 0 -8.2 -7.3 -0.8 -1.4 0 -2.6 -0.5 -0.4 0 -2.6 -0.5 -0.4 0 -2.6 -0.5 -0.5 0 -2.5 -0.5 -0.5 -0.5 -5.5 -0.5 -0.4 0 -2.6 -0.5 -0.4 -0.5 -3.6 -1.2 -2.4 1.5 -3 2.1 -2 27.2 -15.6 12.4 -8 9.3 -6.4 5.2 -4.6 3.6 -4 1.5 -2.4 0.2 -1.6 -0.4 -1 -5 -1.1 -8 -1 -8.4 -0.5 -8.6 0.1 -10.4 0.9 -20.6 3.5 -11 1.5 -11.4 0.7 -10.6 -0.1 -13 -1.4 -14 -2.8 -11.4 -3.4 -10.3 -4.4 -7.7 -4.3 -7.2 -5.1 -6.8 -6.3 -6.6 -7.3 -7 -9.3 -10.6 -16.7 -7.4 -10.4 -24 -30.4 -3.7 -6.2 -3.3 -7.3 -2 -0.1 -0.4 0.5 -1.6 0 -0.4 0.5 -1.6 0 -0.4 0.5 -5.6 0.5 -0.4 0.5 -3 0 -0.6 0.5 -3 0 -0.4 0.5 -3 0 -0.6 0.5 -3 0 -0.4 0.5 -3 0 -0.6 0.5 -3 0 -0.4 0.5 -3 0 -0.6 0.5 -3 0 -0.4 0.5 -3 0 -0.6 0.5 -3 0 -0.4 0.5 -3 0 -0.6 0.5 -3 0 -0.4 0.5 -3 0 -0.6 0.5 -3 0 -0.4 0.5 -3 0 -0.6 0.5 -3 0 -0.4 0.5 -3 0 -0.6 0.5 -3 0 -0.4 0.5 -3 0 -0.6 0.5 -3 0 -0.4 0.5 -3 0 -0.6 0.5 -3 0 -0.4 0.5 -3 0 -0.6 0.5 -1 0 0 -122.2 84 0 2.9 -13.4 4.6 -17 5.7 -18 9 -26 3.9 -9.4 10 -22.1 14.4 -33.9 3.2 -6.6 3.5 -6 6.7 -9 8.7 -8.7 9.4 -7.9 23 -17.8 6.9 -6 6.8 -7.6 11.8 -15 6.1 -6.3 7.6 -6.1 12.8 -7.9 2.7 -2.7 0.4 -1.4 -0.8 -2 -1.8 -2 -4 -3 -12.6 -7.6 -21.3 -11.1 -2.1 -2.3 0 -1 -0.5 -0.6 0 -1 -0.5 -0.4 0 -1 -0.5 -0.6 0 -1 -0.5 -0.4 0 -1 -0.5 -0.6 0 -1 -0.5 -0.4 0 -1 -0.5 -0.6 0 -1z" fill="#0000ec"/>
<path d="M298.3 50.2l361.5 0 0 659.6 -215.4 0 -1.5 -1.6 0 -0.4 -12.9 -13 0 -0.6 -2.2 -2.2 -0.6 0 -18 -18 -0.4 0 -4 -4 -0.6 0 -3 -3 -0.4 0 -8.6 -7.5 -0.4 0 -2 -2 -0.6 0 -2.4 -2.5 -0.6 0 -1.4 -1.5 -0.6 0 -4.4 -4 -0.6 0 -1.4 -1.5 -0.6 0 -2 -2 -0.4 0 -1.6 -1.5 -0.4 0 -8.2 -7.3 -0.7 -1.4 0 -2.6 -0.5 -0.4 0 -2.6 -0.5 -0.4 0 -2.6 -0.5 -0.4 0 -2.6 -0.5 -0.4 0 -2.6 -0.5 -0.4 -0.5 -5.6 -0.5 -0.4 -0.4 -3.6 -0.8 -1.4 0 -1 1 -2.3 2.8 -2.7 28.7 -16.6 15.5 -10 9 -6.4 5.7 -5 3.5 -4 2 -3.6 -0.2 -2.5 -5 -1.2 -9.4 -1.2 -8.6 -0.4 -9.4 0.1 -13.6 1 -32 4.6 -10.4 0.7 -9.6 -0.1 -11.4 -1.1 -12 -2.3 -11 -3 -9.6 -3.8 -8 -4.2 -7 -4.7 -7 -5.9 -6.6 -7 -7.7 -10 -11.6 -18 -8.5 -12.2 -8 -10.6 -14 -17.3 -5 -7.3 -3 -7.5 -4 -13.3 -1.8 -7.8 -2.2 -13 -1.6 -13.4 -1 -13.6 -0.4 -13.5 0.3 -12.5 1.7 -15.9 4.8 -22.1 8.9 -32 4.8 -15.4 3.1 -8.6 12.5 -28 14.5 -35 4.8 -9 5.6 -8 5.8 -6.4 7.2 -6.7 28.4 -22.4 7.4 -6.5 7.9 -8.4 11.8 -15 5.9 -6.2 7.6 -5.8 14.1 -8.6 2.2 -2 0.7 -1.4 -0.2 -1.6 -1.3 -2 -6.5 -5 -13.9 -8 -22.1 -11.4 -0.9 -1 -0.1 -2.6 -0.5 -0.4 0 -1 -0.5 -0.6 -1 -4 -1 -1.4 0 -1 -1 -1.6z" fill="#0000f5"/>
<path d="M298.3 50.2l361.5 0 0 659.6 -215.3 0 -1.5 -1.6 0 -0.4 -13 -13 0 -0.6 -2.2 -2.2 -0.6 0 -18 -18 -0.4 0 -4 -4 -0.6 0 -3 -3 -0.4 0 -8.6 -7.5 -0.4 0 -2 -2 -0.6 0 -2.4 -2.5 -0.6 0 -1.4 -1.5 -0.6 0 -4.4 -4 -0.6 0 -1.4 -1.5 -0.6 0 -2 -2 -0.4 0 -1.6 -1.6 -0.4 0 -8.1 -7.2 -0.2 -1 -0.5 -0.4 0 -2.6 -0.5 -0.4 0 -2.6 -0.5 -0.4 0 -2.6 -0.5 -0.4 0 -2.6 -0.5 -0.4 0 -2.6 -0.5 -0.4 0 -2.6 -0.5 -0.4 0 -2.6 -0.5 -0.4 0 -1.6 -0.4 -0.4 0 -1.6 -0.3 -0.5 0 -1.9 0.4 -1 1.3 -2 1.7 -1.6 34 -20 14.5 -9.4 10.1 -7.6 6 -5.4 3.8 -4.6 2 -4 -0.1 -1.4 -0.5 -1 -6.2 -1.3 -9 -1 -18 -0.4 -17 1.2 -33 4.4 -9.6 0.5 -9 0 -11 -1 -11 -2 -10.4 -2.9 -9.6 -3.8 -7.4 -3.9 -7.6 -5.1 -7 -6 -6.4 -6.8 -6.7 -8.9 -23.9 -35.8 -18.4 -24.6 -3.5 -5.2 -2 -4.4 -2.5 -7.5 -3.8 -12.5 -1.3 -6 -3.6 -37 -0.6 -14.6 0 -15 0.4 -5 1.3 -7.4 6 -28.6 8.4 -32.4 4.2 -13 12.8 -29 13.5 -34 4.8 -9 5.7 -8 5.8 -6.6 6.8 -6.4 27.6 -21.7 8 -7 8.4 -9.1 11.6 -14.8 5.9 -6 7.5 -5.6 15 -8.8 2.3 -2 0.7 -1.6 -0.3 -2 -1.6 -2 -6.7 -5 -16 -9 -19.8 -10.3 -2.8 -1.1 -0.9 -1 -0.3 -2.6 -0.5 -0.4 0 -1 -0.5 -0.6 0 -1 -0.5 -0.4 -0.5 -2.6 -1 -1.4 0 -1 -1 -1.6z" fill="#0000ff"/>
<path d="M298.3 50.2l361.5 0 0 659.6 -215.3 0 -1.5 -1.6 0 -0.4 -13 -13 0 -0.6 -2.2 -2.2 -0.6 0 -18 -18 -0.4 0 -4 -4 -0.6 0 -3 -3 -0.4 0 -8.6 -7.6 -0.4 0 -2 -2 -0.6 0 -2.4 -2.5 -0.6 0 -1.4 -1.5 -0.6 0 -2 -2 -0.4 0 -2 -2 -0.6 0 -1.4 -1.5 -0.6 0 -4 -3.5 -0.4 0 -8.1 -7.2 -0.1 -1 -0.5 -0.4 0 -2.6 -0.5 -0.4 0 -2.6 -0.5 -0.4 0 -2.6 -0.5 -0.4 0 -2.6 -0.5 -0.4 0 -2.6 -0.5 -0.4 0 -2.6 -0.5 -0.4 0 -2.6 -0.4 -0.4 -0.3 -2 0 -4 1.4 -2.5 1.4 -1.5 4.7 -3 23.3 -13.5 16.1 -10.1 10.8 -7.4 9.6 -7.6 5.9 -5.4 4.1 -5 2 -4 -0.5 -2.9 -1 -0.5 -3 -0.6 -10 -1.2 -9 -0.6 -9.4 0.1 -23 1.5 -32.6 4 -9.4 0.5 -8.6 -0.1 -10.4 -0.9 -10.6 -1.9 -10 -2.8 -9 -3.5 -7.8 -4.1 -7.6 -5.4 -7 -6.2 -6.4 -7 -9.7 -14 -37.3 -58.4 -2.9 -6 -2.7 -7.6 -3.2 -10 -1.6 -7 -4.2 -32.5 -0.9 -12.9 -0.3 -13 0.2 -7 0.8 -7 4.3 -27 7.3 -34.6 2.3 -8.4 2.1 -6 13 -30 12 -32 4.7 -9.1 6 -8.5 5.5 -6.1 6.7 -6.3 27.3 -21.7 8 -7.1 8 -8.5 11.1 -14.3 6.7 -7 7.6 -5.7 16.5 -9.3 2.1 -1.7 0.8 -1.7 -0.3 -2 -1.5 -2 -2.9 -2.6 -4.5 -3 -18.1 -10 -20.5 -10.5 -2.6 -0.9 -0.9 -1 -1.4 -5.6 -0.5 -0.4 -0.6 -2.6 -1 -1.4 0 -1 -1 -1.6z" fill="#0000ff"/>
<path d="M298.4 50.2l361.4 0 0 659.6 -215.3 0 -1.5 -1.6 0 -0.4 -13 -13 0 -0.6 -2.2 -2.2 -0.6 0 -18 -18 -0.4 -0.1 -4 -4 -0.6 0 -3 -3 -0.4 0 -8.6 -7.5 -0.4 0 -2 -2 -0.6 0 -2.4 -2.5 -0.6 0 -1.4 -1.5 -0.6 0 -2 -2 -0.4 0 -2 -2 -0.6 0 -1.4 -1.5 -0.6 0 -4 -3.5 -0.4 0 -8.1 -7.2 0 -1 -0.5 -0.4 0 -2.6 -0.5 -0.4 0 -2.6 -0.5 -0.4 0 -2.6 -0.5 -0.4 0 -2.6 -0.5 -0.4 0 -2.6 -0.5 -0.4 0 -2.6 -0.5 -0.4 -0.2 -9 1.9 -3 4.1 -3 22.8 -13.3 17.3 -10.7 11.2 -7.6 10.4 -8 8.1 -7 6.4 -7 2.7 -5 0.1 -1.4 -0.7 -2 -5.1 -1.4 -8.4 -1.2 -9 -0.5 -9 -0.1 -30 2.2 -29.6 3.4 -16 0.6 -8.4 -0.5 -8.5 -1.1 -8.5 -1.8 -8 -2.4 -9 -3.7 -8 -4.5 -7.5 -5.6 -6.7 -6.4 -5.8 -7 -7 -10.5 -11.6 -18.1 -7.4 -12.4 -12.8 -26 -4 -10 -3.4 -12 -4.1 -11.6 -2.3 -8 -2.9 -13.5 -1.8 -12.9 -0.7 -8.6 -0.1 -8.4 0.7 -21 0.7 -9.6 1.8 -14 3.4 -20.4 2.6 -13.6 2.3 -9 3.5 -9.4 11 -26 10.6 -30 4.5 -9 5.9 -8.6 5.5 -6.3 6.6 -6.1 26.4 -21.3 8.6 -7.6 9.3 -10.1 10.8 -14 5.9 -6 8 -5.7 16.5 -8.9 2.6 -2 0.8 -1.4 -0.2 -2 -0.9 -2 -3.2 -3 -4.4 -3 -18.2 -10 -24 -12.4 -2.6 -0.8 -0.7 -0.8 -1.1 -4 -0.5 -0.6 0 -1 -0.5 -0.4 -0.5 -2.6 -1 -1.4 0 -1 -1 -1.6z" fill="#0008ff"/>
<path d="M298.4 50.2l361.4 0 0 659.6 -215.3 0 -1.5 -1.6 0 -0.4 -13 -13 0 -0.6 -2.2 -2.2 -0.6 0 -18 -18.1 -0.4 0 -4 -4 -0.6 0 -3 -3 -0.4 0 -8.6 -7.5 -0.4 0 -2 -2 -0.6 0 -2.4 -2.5 -0.6 0 -1.4 -1.5 -0.6 0 -4.4 -4 -0.6 0 -1.4 -1.5 -0.6 0 -2 -2 -0.4 0 -1.6 -1.6 -0.4 0 -4.6 -4.1 -0.4 -1.4 -0.5 -0.5 0 -2.5 -0.5 -0.6 0 -2.4 -0.5 -0.6 0 -2.4 -0.5 -0.6 0 -2.4 -0.5 -0.6 0 -2.4 -0.5 -0.6 -0.5 -5.4 -0.5 -0.6 0 -2.4 -0.4 -0.6 -0.5 -3.4 -1 -2.6 1.8 -2.4 3.1 -2.3 26.5 -15.7 15.9 -10 12.6 -8.6 10.3 -8 10.5 -9 6.4 -7 1.9 -3 1.2 -3 0.1 -1.4 -0.7 -2 -0.7 -0.7 -2 -0.5 -11.6 -2 -8.4 -0.8 -8.5 -0.2 -38.1 3 -26 2.9 -15.4 0.6 -8 -0.4 -7.6 -0.9 -7.4 -1.4 -7 -2 -8.6 -3.2 -8 -4.2 -7 -4.9 -6.5 -5.9 -4.9 -5.6 -5 -6.8 -12 -18.5 -7.2 -12.1 -5.8 -12 -6.7 -19 -6.3 -24 -7 -18.4 -3 -9 -2.4 -9.6 -1.5 -9 -0.8 -12 -0.2 -24 0.4 -9.4 4.1 -36 1.6 -10 2 -8 3.2 -9.6 10.4 -25.4 9.9 -30 3.9 -8 5.4 -8 5.4 -6.4 6.4 -6.2 26.2 -21.1 8.4 -7.7 9.6 -10.4 10.9 -14.2 5.5 -5.8 4 -3.2 4 -2.6 19 -9.8 1 -3.2 -0.2 -3 -1.1 -2.4 -1.1 -1.6 -4.3 -3 -18.2 -10 -27.5 -14 -2.6 -0.8 -1.2 -2.2 -1 -4 -0.5 -0.4 -0.6 -2.6 -1 -1.4 0 -1 -1 -1.5z" fill="#0014ff"/>
<path d="M298.4 50.2l361.4 0 0 659.6 -215.3 0 -1.5 -1.6 0 -0.4 -12.9 -13 0 -0.6 -2.3 -2.3 -0.6 0 -18 -18 -0.4 0 -4 -4 -0.6 0 -3 -3 -0.4 0 -8.6 -7.5 -0.4 0 -2 -2 -0.6 0 -2.4 -2.5 -0.6 -0.1 -1.4 -1.5 -0.6 0 -4.4 -4 -0.6 0 -1.4 -1.5 -0.6 0 -2 -2 -0.4 0 -1.6 -1.5 -0.4 0 -4.6 -4.1 -0.2 -1.4 -0.5 -0.6 0 -2.4 -0.5 -0.6 0 -2.4 -0.5 -0.6 0 -2.4 -0.5 -0.6 0 -2.4 -0.5 -0.6 0 -2.4 -0.5 -0.6 0 -2.4 -0.5 -0.6 0 -2.4 -0.5 -0.6 0 -2.4 -0.5 -0.6 0 -1.4 -0.4 -0.6 -0.6 -4 1.7 -2.2 4 -2.9 29 -17.3 18.8 -12 11.2 -8 12 -9.6 9.7 -8.4 6.2 -7 1.8 -3 1.4 -3.6 0.2 -2 -0.7 -2.2 -1.1 -0.8 -14.9 -2.8 -8 -1.1 -7.6 -0.5 -10 0.4 -17.4 2 -20.6 1.6 -21.4 2.4 -9 0.5 -8.6 -0.1 -8.4 -0.7 -8 -1.3 -7.6 -1.9 -8 -2.9 -7.7 -4 -7.1 -5 -6 -5.6 -4.4 -5 -4.7 -6.5 -12.6 -19.5 -5.9 -10 -4.2 -8.4 -2.8 -8 -3.3 -13.6 -2.8 -18.4 -1.7 -7.6 -3.1 -9.4 -10.1 -25.9 -2.5 -8.7 -1.5 -8 -1.2 -21.4 0.2 -13 2.9 -40 1.3 -9 1.7 -7.6 2.7 -8 9.1 -23.4 9.4 -31 3.6 -7.6 4.9 -7.4 5.1 -6 6.3 -6.2 24.4 -19.9 9 -8.3 8 -8.7 12.3 -15.9 6.1 -6.6 3.6 -3 4 -2.6 18.6 -9 1.2 -2.4 0.7 -3 -0.1 -3 -1 -2.4 -1.9 -2.6 -2.5 -2 -17.3 -9.4 -31.1 -15.7 -2.6 -0.9 -1.2 -2 -1 -4 -0.5 -0.4 -0.6 -2.6 -1 -1.4 0 -1 -1 -1.6z" fill="#001cff"/>
<path d="M298.5 50.2l361.3 0 0 659.6 -215.2 0 -1.5 -1.6 0 -0.4 -13 -13 0 -0.6 -2.3 -2.3 -0.6 0 -18 -18 -0.4 0 -4 -4 -0.6 0 -3 -3 -0.4 0 -8.6 -7.6 -0.4 0 -2 -2 -0.6 0 -2.4 -2.5 -0.6 0 -1.4 -1.5 -0.6 0 -4.4 -4 -0.6 0 -1.4 -1.5 -0.6 0 -2 -2 -0.4 0 -1.6 -1.5 -0.4 0 -4.6 -4.1 -0.1 -1.4 -0.5 -0.6 0 -2.4 -0.5 -0.6 0 -2.4 -0.5 -0.6 0 -2.4 -0.5 -0.6 0 -2.4 -0.5 -0.6 0 -2.4 -0.5 -0.6 0 -2.4 -0.5 -0.6 0 -2.4 -0.5 -0.6 0 -2.4 -0.4 -0.6 0 -1.4 -0.4 -0.6 0 -4 1.5 -1.8 4.9 -3.6 31.1 -18.9 17 -10.9 14.1 -10.2 14.3 -11.6 9.3 -8.4 6.1 -7.6 1.9 -3.4 1.3 -4 0.1 -2 -0.9 -2.6 -1.2 -0.8 -23.6 -4.6 -7.5 -1.1 -6.5 -0.4 -10 0.6 -16.4 2.9 -22 1.3 -27.6 3 -7.4 -0.1 -8.6 -0.7 -7.4 -1.1 -7 -1.8 -7.1 -2.6 -7.3 -4 -6.2 -4.6 -5.7 -5.4 -5.8 -7.6 -21.9 -34.4 -3.8 -8.6 -1.9 -8.4 -0.8 -10 -0.4 -24 -0.8 -7.6 -1.3 -6 -1.8 -5.4 -2.4 -5 -9.8 -16.4 -3.6 -6.7 -2.4 -6.5 -1.7 -7 -0.3 -8.5 1.9 -27.5 0 -30 0.8 -8 1.5 -7.4 10 -27.6 8.5 -32 3.3 -7.3 4.4 -6.9 5 -6.1 5.7 -5.7 23.3 -19.1 9 -8.4 9 -10.2 12.4 -16.3 5.2 -5.5 4 -3.4 3.9 -2.5 17.5 -8.2 1.9 -2.8 1.1 -4.6 -0.1 -3 -0.9 -2.4 -2.2 -3 -2.8 -2.6 -15.7 -8.4 -33.7 -16.9 -2.6 -0.9 -1.1 -1.8 -1 -4 -0.5 -0.4 -0.6 -2.6 -1 -1.4 0 -1 -1 -1.6z" fill="#0028ff"/>
<path d="M298.5 50.2l361.3 0 0 659.6 -215.2 0 -1.5 -1.6 0 -0.4 -13 -13 0 -0.6 -2.3 -2.3 -0.6 0 -18 -18 -0.4 0 -4 -4.1 -0.6 0 -3 -3 -0.4 0 -8.6 -7.5 -0.4 0 -2 -2 -0.6 0 -2.4 -2.5 -0.6 0 -1.4 -1.5 -0.6 0 -4.4 -4 -0.6 0 -1.4 -1.5 -0.6 0 -2 -2 -0.4 0 -1.6 -1.5 -0.4 0 -4.6 -4.1 0 -1.4 -0.5 -0.6 0 -2.4 -0.5 -0.6 0 -2.4 -0.5 -0.6 0 -2.4 -0.5 -0.6 0 -2.4 -0.5 -0.6 0 -2.4 -0.5 -0.6 0 -2.4 -0.5 -0.6 0 -2.4 -0.5 -0.6 -0.1 -9 0.7 -0.9 7.3 -5.5 33.1 -20.3 12.8 -8.3 14.6 -10.4 16.5 -13 10.4 -9.6 6.3 -7.5 3.8 -6.9 1.2 -4 0.4 -3.6 -0.9 -3.4 -1.1 -1 -15.4 -3.8 -15.2 -4.8 -14.4 -6.4 -3.2 -2 -1.3 -1.6 0 -2 1.7 -2.4 21.8 -22 3.6 -4.6 2.2 -4.4 -6.4 -9.6 -0.5 -1.4 -1 -1 -0.5 -1.6 -1 -1 -0.5 -1.4 -1 -1 -0.5 -1.6 -1 -1 -0.5 -1.4 -1 -1 -0.5 -1.6 -1 -1 -0.5 -1.4 -1 -1 -0.5 -1.6 -1 -1 -2 -4 -1 -1 -3.6 -6.4 -2 -2.6 -0.5 -1.4 -2 -2.6 -0.5 -1.4 -2 -2.6 -0.5 -1.4 -2 -2.6 -0.5 -1.4 -2 -2.6 -0.6 -1.4 -1 -1 0 -0.6 -1 -1 0 -0.4 -1 -1 0 -0.6 -1 -1 0 -0.4 -1 -1 0 -0.6 -1 -1 0 -0.4 -1 -1 0 -0.6 -1 -1 0 -0.4 -1 -1 0 -0.6 -1 -1 0 -0.4 -1 -1 0 -0.6 -1 -0.9 0 -0.5 -1 -1 0 -0.6 -1 -1 0 -0.4 -1 -1 -2.1 -3.6 -1 -1 -1 -2 -1 -1 -0.2 -2 0.5 -0.4 0 -1 0.5 -0.6 -0.1 -1 1 -2 0 -1 0.5 -0.4 0 -1 0.5 -0.6 0 -1.4 0.5 -0.6 0 -1.4 0.5 -0.6 0 -1.4 0.5 -0.6 0 -2 0.5 -0.4 0 -2.6 0.5 -0.4 0 -8 -0.5 -0.6 0 -3.4 -0.5 -0.6 0 -2 -0.5 -0.4 0 -2 -0.5 -0.6 -0.1 -2 -0.5 -0.4 0 -1.6 -0.5 -0.4 -0.5 -3.6 -1 -2 0 -1.4 -1 -2 0 -1.6 -0.5 -0.4 0 -1 -0.5 -0.6 0 -1 -0.5 -0.4 -0.6 -2.5 -1.6 -1.5 -0.4 0 -4.6 -4.5 -0.4 0 -4.6 -4.5 -0.4 0 -4.6 -4.5 -0.4 0 -4.6 -4.5 -0.4 0 -4.6 -4.5 -0.4 0 -4.6 -4.5 -0.4 0 -40 -40.1 -5.6 2.3 -5 3.2 -4 3.7 -4.3 5.3 -5.4 8 -4.7 8 -8 17.9 -4.4 8.1 -6.6 10 -5.6 6.3 -2 1.6 -2 0.9 -1.4 0.1 -1.6 -0.6 -1.5 -1.5 -1.5 -2.3 -3.4 -7.8 -3 -9.5 -1.8 -8.2 -0.7 -7.4 0.4 -7 1.5 -6.5 6.9 -19.1 6.7 -32 1.9 -6.4 2.6 -5.6 4.9 -7.2 7 -7.7 23.6 -19.8 9 -8.6 8 -9.5 12.7 -17.2 5.3 -5.7 4 -3.6 4 -2.6 17 -7.7 2.2 -2.8 1.4 -4.6 0.2 -4.4 -1.1 -3.6 -2.6 -3.4 -3.7 -3.1 -13.1 -6.9 -38.8 -19 -1.2 -1.6 -1 -4 -0.5 -0.4 -0.6 -2.6 -1 -1.4 0 -1 -1 -1.6zM278.9 429.8l1.9 -0.5 2 0.7 2 1.5 1.8 2.3 3.2 6 3.9 12.4 2.6 6 3.6 4.6 5.2 3.4 10.7 4.8 40.4 15.6 10.6 2.9 8 1.6 6 0.6 12 0.3 6.4 1 3.6 1 2.5 1.2 1.1 1.6 -0.4 1.4 -1.8 2 -2.9 2 -4.1 2 -3.4 1.1 -5 0.8 -10.6 0.2 -5.4 0.5 -19 4.4 -6 0.9 -8.6 0.1 -9 -1 -7.9 -2 -6.5 -2.7 -3.7 -2.3 -3.3 -2.8 -3.1 -3.2 -2.9 -4 -3.9 -7.4 -5.9 -15 -2.7 -4.5 -3.3 -3.5 -9.2 -8 -4 -5.1 -0.7 -1.9 -0.3 -2.6 0.9 -7 2.5 -6.6 1.6 -2z" fill="#0030ff"/>
<path d="M298.5 50.2l361.3 0 0 659.6 -215.2 0 -1.5 -1.6 0 -0.4 -13 -13 0 -0.6 -2.3 -2.3 -0.6 0 -18 -18.1 -0.4 0 -4 -4 -0.6 0 -3 -3 -0.4 0 -8.6 -7.5 -0.4 0 -2 -2 -0.6 0 -2.4 -2.5 -0.6 0 -1.4 -1.5 -0.6 0 -2 -2 -0.4 0 -2 -2 -0.6 0 -1.4 -1.5 -0.6 0 -2 -2 -0.5 0 -0.1 -1.6 -0.5 -0.4 0 -1.6 -0.5 -0.4 0 -1.6 -0.5 -0.4 0 -1.6 -0.5 -0.4 0 -1.6 -0.5 -0.4 0 -1.6 -0.5 -0.4 0 -1.6 -0.5 -0.4 0 -1.6 -0.5 -0.4 0 -1.6 -0.5 -0.4 0 -1.6 -0.5 -0.4 0 -1.6 -0.5 -0.4 0 -1.6 -0.5 -0.4 0 -1.6 -0.5 -0.4 0 -1.6 -0.5 -0.4 0 -1.6 -0.5 -0.4 0 -1.6 -0.5 -0.4 0 -1.6 -0.5 -0.4 -0.7 -4 3.5 -3 5.7 -4 43.2 -26.9 24.7 -18.1 11.2 -9 8.6 -8 6.2 -7 4.1 -6.6 2.6 -5.4 2 -6.6 0.7 -4.9 -0.4 -5.1 -0.7 -2 -6.4 -2.4 -4.2 -2.6 -2.6 -2.4 -1.5 -2.6 -1 -3.4 0 -4 0.9 -4.6 1.9 -6 3.4 -8.5 4.9 -9.5 5.3 -8.4 5.3 -7 5.4 -6 6 -5.4 17.2 -12.6 5.4 -4.5 5.1 -5.5 4.1 -6 2.4 -4.6 1.9 -5 3.1 -13 1.6 -14 0.1 -6 -0.5 -6 -1.9 -9.4 -3.2 -11.6 -4.8 -14 -6.7 -17.4 -3.4 -7.6 -3.7 -7 -4.2 -6.4 -4.9 -6.6 -7.7 -9 -8.5 -8.4 -9.2 -8 -10.3 -8 -10.9 -7.5 -11 -6.7 -8.8 -4.4 -8.6 -3.3 -8.6 -2.5 -0.4 0.4 -0.1 -0.6 -0.9 -0.2 -0.6 0.4 -0.4 -0.2 0 -0.4 -1 -0.3 -1 0.8 -0.1 -1.1 -0.9 -0.2 -1 0.8 -0.2 -1 -1.4 -0.3 -1 0.8 0 -1.1 -1.4 -0.2 -1 0.8 -0.2 -1 -1.4 -0.3 -1.4 1.3 0 1 -0.2 -2.6 -1.8 -0.2 -1.5 1.2 -0.5 2.6 -0.1 -4 -1.9 -0.2 -1.3 1.2 -0.5 2.4 -0.5 0.6 -0.5 4.4 -0.6 0.6 0 3 -0.5 0.4 0 3 -0.5 0.6 0 4 -0.5 0.4 0 4 -0.5 0.6 0 5 -0.5 0.4 0 5 -0.5 0.6 0 6 -0.5 0.4 0 6 -0.5 0.6 0 7 -0.5 0.4 0 7 -0.4 0.6 0 8 -0.5 0.4 0 8 -0.5 0.6 -0.4 15 -0.4 0 0 -1 -2.2 -4.6 0 -1 -1 -2 0 -1.4 -0.5 -0.6 0 -1 -0.5 -0.4 0 -1 -0.5 -0.6 0 -1 -1 -2 -0.5 -2.4 -0.5 -0.6 0 -1.4 -0.5 -0.6 -0.5 -2.4 -2.3 -5.6 -0.5 -2.4 -1 -1.6 -0.5 -2.4 -1 -1.6 -0.5 -2.4 -1 -1.6 -0.5 -2.4 -1 -1.6 -0.5 -2.4 -1 -1.6 -0.5 -2.4 -1 -1.6 0 -1 -0.5 -0.4 0 -1 -0.5 -0.6 -1.7 -5.4 -0.5 -0.6 0 -1 -0.5 -0.4 0 -1 -0.5 -0.6 -1 -4 -0.5 -0.4 0 -1 -1 -2 0 -1 -0.5 -0.6 0 -1 -0.5 -0.4 0 -1 -0.5 -0.6 0 -1 -0.5 -0.4 0 -1 -1 -2 0 -1 -0.5 -0.6 0 -1 -0.5 -0.4 0 -1 -0.5 -0.6 0 -1 -0.5 -0.4 0 -1 -1.2 -2.2 -16 3 -13 2.9 -6.6 2 -6.4 3 -11.2 6.3 -8.8 5.5 -4.7 3.9 -11.3 11.7 -6 5.5 -4.6 3 -1 0.1 -1 -0.7 -0.8 -4 -0.8 -19 0.8 -14.6 0.9 -7.4 1.1 -5.6 1.6 -4.4 2.5 -4.6 3.7 -5 5.6 -6 22 -19 7 -6.9 8 -9.8 13.4 -18.7 5.6 -6.5 4.4 -3.9 4 -2.6 17 -8 2.3 -3 1.3 -5 0.2 -4.6 -0.8 -3.4 -1.7 -3 -2.9 -3 -3.4 -2.6 -7.5 -4 -41.9 -20.7 -2 -0.5 -1.6 -1.8 -1 -4 -2.2 -4.4 0 -1 -1 -1.6z" fill="#003cff"/>
<path d="M298.6 50.2l361.2 0 0 659.6 -215.2 0 -1.5 -1.6 0 -0.4 -12.9 -13 0 -0.6 -2.4 -2.4 -0.6 0 -18 -18 -0.4 0 -7.6 -7 -0.4 0 -2.6 -2.5 -0.4 0 -2.6 -2.5 -0.4 0 -2.6 -2.5 -0.4 0 -5.3 -4.5 -1 -2 0 -1 -1 -1.6 0 -1 -1 -1.4 0 -1 -1 -1.6 0 -1 -1 -1.4 0 -1 -1 -1.6 0 -1 -1 -1.4 0 -1 -1 -1.6 0 -1 -1 -1.4 0 -1 -1 -1.6 0 -1 -1 -1.4 0 -1 -1 -1.6 0 -1 -1 -1.4 0 -1 -1 -1.6 0 -1 -1 -1.4 0 -1 -1.7 -3.6 0 -1 -0.5 -0.4 -0.5 -2.6 -1 -1.4 -0.1 -1 3.6 -3 5.8 -4 20.7 -12.7 20.4 -13.1 24.4 -17.8 11.4 -9 7.9 -7 7.1 -7.4 5.3 -7 3.5 -6 3 -6.3 13.5 -35.3 0.6 -2 -0.1 -3.4 0.4 -3 2.4 -6 2.9 -4 3.7 -3.4 5 -2.7 7 -2.1 5 -4.7 4 -5.1 3.6 -5.6 4 -7.8 3.9 -9.2 2.7 -8 2.8 -10 1.8 -8.4 1.4 -10 0.8 -10.6 0.3 -8 -0.5 -10 -1.1 -10 -1.7 -8 -5.6 -21.4 -8.4 -25.5 -3.4 -9.1 -3.6 -7.8 -3.4 -6.6 -3.6 -5.4 -2.4 -2.7 -13.6 -10.5 -31.4 -21.9 -11.8 -7.5 -11.2 -5.9 -12.6 -4.7 -16 -4.1 -17 -3 -6 -0.5 -5.4 0.1 -23.6 3.3 -11 1.1 -13 0.8 -16.4 0 -4 0.4 -3.6 1.1 -4.4 2.3 -14.1 10.1 -8.5 4.4 -4 1.3 -3.4 0.4 -3 -0.7 -2 -1.6 -1.2 -1.8 -0.9 -2.6 -0.5 -3 0.1 -3.4 1.3 -5.6 3.4 -5.4 5.8 -6.6 20.4 -19.5 5 -5.4 6.6 -8.6 13.1 -19.9 6.3 -7.9 4.5 -4.1 4.5 -3.1 17.6 -8.4 2.1 -3.1 1.2 -5.4 0.3 -5 -0.7 -4 -1.9 -3.5 -2.9 -3.1 -4.7 -3.4 -4.8 -2.6 -44.6 -21.8 -2 -0.6 -1.6 -1.6 -1 -4 -2.1 -4.4 0 -1 -1 -1.6z" fill="#0044ff"/>
<path d="M298.6 50.2l361.2 0 0 659.6 -215.2 0 -1.5 -1.6 0 -0.4 -12.9 -13 0 -0.6 -2.4 -2.4 -0.6 0 -18 -18 -0.4 0 -4 -4 -0.6 0 -4.4 -4 -29.5 -59 -0.1 -1 3.6 -3.1 5.1 -3.5 22.9 -14 18.4 -12.1 27.6 -20.2 9.5 -7.7 8.2 -7.4 6.3 -7 5.4 -7.3 4.5 -7.3 13.3 -24.4 4.6 -7.6 5.3 -7.4 16.3 -20.9 6.6 -9.5 5.4 -9.9 5.6 -12.5 3 -8.8 3 -10.4 2.2 -10.6 1.5 -10.4 0.9 -11.1 0.2 -8.9 -0.5 -9.6 -1.3 -11.3 -2 -9.4 -6 -22.5 -7.6 -22.8 -5.5 -14 -5.5 -11.1 -6.4 -10.7 -7 -9.4 -8 -8.9 -15.6 -9.2 -18 -11.9 -7.4 -4.3 -15 -6.7 -6.7 -2.2 -7.3 -1.9 -25.6 -4.9 -11 -1.5 -7.4 0.3 -21 3 -13.6 0.4 -19 -0.7 -18 -1.7 -5 -0.8 -2.1 -1.2 -0.8 -2 0.9 -3 7.6 -12.4 12 -22.2 5.4 -8.7 5.9 -7.3 5.7 -4.8 6.1 -3.6 13.3 -6.1 1.9 -1.5 1.2 -1.9 0.8 -3.1 0.5 -10 -0.7 -4 -1.9 -3.4 -3.3 -3.6 -4.9 -3.4 -50 -24.6 -2 -0.6 -3 -5.8 -0.7 -2.6 -1 -1.4 0 -1 -1 -1.6z" fill="#0050ff"/>
<path d="M298.6 50.3l361.2 -0.1 0 659.6 -215.1 0 -1.5 -1.6 0 -0.4 -13 -13 0 -0.6 -2.4 -2.4 -0.6 0 -20.8 -20.6 -33 -66 -0.1 -1 6.7 -5 28 -17.4 20.2 -13.8 24 -17.9 13.8 -11.9 6.1 -6.4 5.5 -7 22.9 -35.6 22.3 -29.5 8.3 -13.5 6.2 -12.4 5.9 -15.4 4 -14.6 3 -17 1.4 -16.6 -0.3 -13 -1.7 -15.4 -1.8 -8.6 -6.6 -24.4 -7.4 -23 -6.6 -16.3 -5 -10 -6 -9.9 -5 -7 -6.7 -8.4 -5.7 -9.4 -3.6 -3.6 -9.4 -5.2 -15 -9.7 -7.2 -4.1 -14.4 -6.1 -12 -3.9 -35.4 -6.2 -9.6 -1.2 -5.4 0.1 -14.6 2.2 -7.4 0.7 -7.6 0 -11 -0.8 -8.4 -1.2 -5.6 -1.3 -4 -1.7 -2.4 -2 -1.2 -2 -0.7 -2.6 -0.1 -3 0.4 -3.4 2.9 -10 4.7 -10.6 5.4 -8.1 3 -3.4 3.6 -3.1 6 -4 16 -7.7 1.3 -1.1 1.1 -2.4 0.6 -3.2 0.1 -9.4 -0.3 -4 -1.2 -3.6 -2.4 -3.4 -3.3 -3 -5.1 -3.6 -49.8 -24.2 -2 -0.6 -4.7 -9.6 0 -1 -1 -1.6z" fill="#005cff"/>
<path d="M298.6 50.2l361.2 0 0 659.6 -215.1 0 -1.5 -1.6 0 -0.4 -13 -13 0 -0.6 -2.4 -2.4 -0.6 0 -14.9 -15 -2.5 -5 0 -1 -2.5 -4.6 0 -1 -2.5 -4.4 0 -0.9 -2 -3.7 -0.2 -1 -26 -51.4 0 -1 6.1 -4.6 28.5 -18 15 -10.2 24.8 -18.2 14.8 -12.6 5.9 -6 5.5 -6.6 24.6 -35.1 14.9 -18.7 6.1 -8.4 9 -14.8 7 -14.2 5.4 -14.1 4.6 -15.9 3 -16.5 1.5 -18.2 -0.3 -13.5 -1.8 -16 -6.1 -25 -2.9 -10 -8 -24 -4 -10.1 -4 -8.8 -8.4 -15.1 -5.6 -8.1 -5.7 -7.3 -6.3 -10.7 -6.4 -7.5 -8.6 -7.9 -10.2 -6.5 -8.2 -4.2 -15.8 -6.2 -11.8 -3.7 -37.4 -5.9 -8.6 -0.9 -7.4 0.1 -19 2.1 -11.6 -0.5 -8 -1.2 -5.4 -1.5 -4.2 -2.1 -3 -2.4 -1.6 -2.6 -0.8 -2.4 -0.4 -3.6 0.2 -3.4 0.8 -4 1.4 -4.6 1.8 -4 2.2 -3.4 4.6 -5.4 5 -4.1 5.8 -3.5 14.2 -7.2 2 -2.2 0.6 -2.2 0.2 -3.4 -0.5 -11.6 -0.8 -4.5 -1.6 -3.5 -2.4 -3 -3.6 -3 -5.4 -3.4 -49.5 -23.9 -1.6 -0.4 -3.2 -5.7 -0.9 -2.6 -1 -1.4 0 -1 -1 -1.6z" fill="#0064ff"/>
<path d="M298.7 50.2l361.1 0 0 659.6 -215.1 0 -1.5 -1.6 0 -0.4 -13 -13 0 -0.6 -2.4 -2.4 -0.6 0 -14.5 -14.6 0 -1 -2.5 -4.4 0 -1 -2.5 -4.6 0 -1 -4.5 -9 0 -1 -2 -3.4 0 -1 -2 -3.6 0 -1 -2 -3.4 0 -1 -1.5 -2.6 -0.1 -1 -1.4 -2.4 -0.1 -1 -1.5 -2.6 0 -1 -1.5 -2.4 0 -1 -1.5 -2.6 0 -1 -1.5 -2.4 0 -1 -2 -4 0 -1 -1 -1.6 0 -1 -1 -1.4 0 -1 -1.6 -3.6 0 -1 -0.5 -0.4 0 -1 -0.5 -0.6 0 -1 -0.8 -1.4 0 -1 5.5 -4 27.5 -17.6 12.1 -8.2 27.4 -20.2 13 -11 6.4 -6.6 5.9 -7 22.1 -30.4 16.2 -19.9 6.4 -8.8 9 -15 7.6 -15.2 6 -15.4 4.2 -15.3 3.1 -16.4 1.6 -19 -0.3 -13.6 -1.8 -16 -6.8 -28.2 -7.6 -23.7 -6 -16.2 -6.4 -14.2 -6.7 -11.7 -5.3 -7.9 -6.1 -8.1 -4.9 -9.2 -2.6 -3.6 -4 -4.8 -6.6 -6.8 -12.8 -11.9 -5 -3.6 -4 -1.8 -16 -5.7 -11.5 -3.1 -36.5 -5.5 -9 -1 -9 -0.1 -18 1.4 -9.6 -0.5 -5.4 -1 -5 -1.6 -3.9 -2.2 -2.7 -2.3 -2.3 -4.1 -0.6 -5 1.3 -6.6 2.6 -4.7 3.6 -4 4.5 -3.7 5.5 -3.5 14.4 -8 1.8 -2.1 0.6 -2.4 -0.2 -4 -1.3 -14 -1 -4.6 -1.6 -3 -2.5 -3 -3.6 -3 -5.5 -3.4 -50.1 -24.1 -1.6 -0.3 -1.1 -1.6 -3.9 -8 0 -1 -1 -1.6z" fill="#0070ff"/>
<path d="M298.7 50.2l361.1 0 0 659.6 -215.1 0 -1.5 -1.6 0 -0.4 -8.6 -9 -49.5 -99 0 -1 42.6 -28.6 26.1 -19.2 13.3 -11.2 6.4 -6.6 5.9 -7 21.5 -29 16.9 -20.1 7.4 -10.3 9 -15.5 7.6 -15.9 5.6 -15.2 4.4 -16.3 2.7 -16.7 1.4 -18.4 -0.7 -15.4 -2 -15 -5.5 -22.6 -2.9 -10.3 -7.6 -23 -6.4 -16.2 -5 -10.3 -5.6 -9.5 -5.4 -8.3 -6.3 -8.4 -5.7 -10.8 -6.6 -8.2 -10 -10.4 -10.1 -9.2 -9.9 -7.1 -4 -2.3 -3.4 -1.6 -10 -2.8 -8.6 -1.8 -42 -6.4 -10.4 -0.6 -18 0.7 -7.6 -0.4 -7 -1.7 -5.1 -3 -2.9 -3.3 -1.1 -3.7 0.4 -4 2.1 -4 2.5 -3 3.1 -2.7 18 -11.6 1.7 -1.7 0.9 -1.4 0.2 -3 -2 -12 -0.9 -8 -1.3 -5 -1.8 -3 -2.9 -3 -3.8 -3 -5.8 -3.6 -49.7 -23.7 -1.4 -0.3 -1.3 -1.4 -3.9 -8 0 -1 -1 -1.6z" fill="#0078ff"/>
<path d="M298.7 50.2l361.1 0 0 659.6 -215.1 0 -4.2 -5 -2 -4 0 -1 -3 -5.6 0 -1 -3 -5.4 0 -1 -2.5 -4.6 -0.1 -1 -2.4 -4.4 -0.1 -1 -2.5 -4.6 0 -1 -2.5 -4.4 0 -1 -2.5 -4.6 0 -1 -2.5 -4.4 0 -1 -2 -3.6 0 -1 -2 -3.4 0 -1 -2 -3.6 0 -1 -2 -3.4 0 -1 -1.5 -2.6 -1.6 -4.4 -1.5 -2.6 0 -1 -1.5 -2.4 0 -1 -1.5 -2.6 0 -1 -11 -21.4 0.1 -1 41.3 -28 23.6 -17.7 12.2 -10.3 5.9 -6 6 -7 21.8 -29 17.1 -20 8 -11.1 9.4 -16.8 7.6 -16.5 5.4 -15.6 4 -16.1 2.6 -16.4 1.1 -17.1 -0.8 -16 -0.9 -8.4 -1.4 -7.6 -5.6 -22.3 -2.4 -8.6 -7.6 -23.1 -7 -17.5 -5 -10.2 -6 -10.3 -10.7 -15.4 -6 -11 -7.7 -9.8 -11 -11.4 -11.2 -9.8 -11.8 -8 -11.6 -6.1 -9.4 -2 -45.6 -7.3 -8.4 -0.9 -19 -0.8 -4 -0.9 -2.7 -1.6 -1.9 -2 -0.8 -2 0.1 -2.4 1 -2.6 3.8 -4.4 12.3 -10.6 1.6 -2.1 0.8 -2.3 -0.3 -2.6 -1.6 -5.4 -1.8 -8 -1.5 -10.6 -1.7 -4.4 -2.2 -3 -3.3 -3 -9.5 -6 -49.3 -23.4 -1.1 -0.2 -1.5 -1.4 -4 -8 0 -1 -1 -1.6z" fill="#0084ff"/>
<path d="M301.3 50.2l358.5 0 0 659.6 -205.3 0 -0.5 -0.6 -57.5 -115 -0.1 -1 32.4 -22.3 15.4 -11.2 15 -11.6 10.8 -9.3 10.4 -11.6 23.7 -31 17.1 -20.1 6.6 -9.2 9.4 -17 7.6 -16.6 5.4 -15.7 4 -16.4 2.5 -16.4 1 -18.6 -1 -16.4 -1 -8 -1.5 -7.5 -5.2 -21.1 -3.2 -10.9 -7 -21.4 -7 -17.4 -5.6 -11.1 -5.4 -9.4 -10.3 -14.8 -6.3 -11.5 -8 -10.1 -12 -12.4 -12 -10.4 -11.7 -8 -14.1 -7.6 -7.6 -2.8 -26.6 -4.7 -23 -4.9 -6.4 -2 -3.8 -2 -1.5 -2 -0.4 -3 0.9 -3 3.2 -6.7 0.6 -2.3 0 -2.6 -5 -11.7 -1.8 -7.3 -1.4 -9 -1 -3 -1.8 -3 -2.2 -2.4 -3 -2.6 -9.8 -5.9 -49 -23.1 -1 -0.2 -0.4 -0.2 -0.1 -2.6 -0.5 -0.4 0 -1 -0.5 -0.6 0 -1 -1 -2 0 -1 -0.5 -0.5 -1 -3.9z" fill="#008cff"/>
<path d="M301.4 50.2l358.4 0 0 659.6 -197.8 0 -0.5 -0.6 -59 -118 0 -1 47.6 -34 11.7 -9.2 9.4 -8.6 9.8 -10.6 22.2 -29 18 -21.3 5.6 -7.6 4.4 -7.4 8.6 -16 7.4 -17.7 5 -15.7 3.6 -15.9 2.1 -17.4 0.6 -16.6 -1.6 -19 -2.7 -13.2 -5.2 -20.8 -7 -22.4 -5.2 -14.6 -5 -11.7 -8.6 -16.2 -5.4 -8.7 -6.7 -9.4 -5.9 -10.9 -4.4 -6 -5 -6 -10.8 -11.1 -10.1 -9 -10.9 -8 -11.6 -7 -11.1 -5.4 -9.5 -4 -28 -7.4 -7.2 -2.6 -4.3 -2.6 -3.3 -4 -3.1 -9.4 -6.3 -10 -3.4 -9.1 -1.3 -8.5 -0.9 -3.4 -1.4 -3 -2.4 -3 -5.4 -4.6 -9 -5.2 -50 -23.2 -0.4 -2.6 -0.5 -0.4 -0.5 -2.6 -0.5 -0.4 -1 -4 -0.5 -0.6 -0.5 -2.4z" fill="#0098ff"/>
<path d="M301.5 50.2l358.3 0 0 659.6 -190.5 0 -0.5 -0.6 -60.5 -121 0 -1 47.1 -34 9.4 -7.7 8.6 -8.3 8.5 -9.4 21.5 -28 19.4 -23 6 -8.6 7.4 -13.3 8.6 -18 6 -16.3 4.6 -18.4 2.6 -17 1.2 -17.4 -1 -17.5 -2 -13.7 -5.4 -22.7 -10.6 -33.5 -5 -12.8 -5.4 -12 -8.6 -15.1 -9.7 -14.3 -5.7 -10.7 -5.6 -7.5 -7.3 -8.2 -9.1 -9.2 -9 -7.8 -9.5 -7 -9.5 -6 -10.7 -6 -9.3 -4.5 -7.6 -3 -11.4 -3.4 -7.2 -3.1 -7.4 -3.7 -5.4 -3.6 -4 -3.9 -8.3 -9.8 -2.5 -3.6 -4.2 -10 -1.7 -8 -1.5 -5 -1.7 -3 -2.5 -3 -5.8 -4.4 -8.8 -5 -49.7 -23 -0.6 -2.6 -0.5 -0.4 0 -1 -0.5 -0.6 0 -1 -0.5 -0.4 0 -1 -0.5 -0.6 0 -1 -0.5 -0.4 0 -1 -0.5 -0.6 0 -1 -0.5 -0.4 0 -1z" fill="#00a0ff"/>
<path d="M301.6 50.2l358.2 0 0 659.6 -184.1 0 -62 -124 0 -1 44.9 -33 8.3 -7 7.3 -7.3 9.9 -11.3 21.5 -28 17.6 -20.8 6.3 -9.2 8.4 -15 8.3 -18.4 5.7 -16 4.3 -17.8 2.7 -18.2 0.8 -16.6 -0.9 -16.6 -2 -13.4 -5.6 -22.8 -10.4 -33.6 -5.6 -14 -5.4 -11.8 -8 -14.1 -9.7 -14.1 -5.9 -11 -5.9 -8 -7.5 -8.5 -8.1 -8.1 -8.4 -7.4 -8.5 -6.6 -9.1 -6 -12.9 -7.4 -10.9 -5.6 -6.2 -2.4 -9.5 -2.8 -4 -1.6 -10.4 -5.9 -6.6 -4.5 -9 -8 -5.2 -6.2 -2.4 -4.6 -2 -5 -1.9 -8.4 -1 -3 -3.1 -5.6 -3.1 -3.4 -6.2 -4.6 -8.1 -4.4 -39.1 -18 -10.3 -5.2 -1.2 -1.4 0 -1 -0.5 -0.4 0 -1 -0.5 -0.6 0 -1 -0.5 -0.4 0 -1 -0.5 -0.6 0 -1 -0.5 -0.4 0 -1 -0.5 -0.6 0 -1z" fill="#00acff"/>
<path d="M301.7 50.2l358.1 0 0 659.6 -176.7 0 -63.5 -127 0 -1 41.2 -30.8 8 -6.8 7.5 -7.4 9.6 -11.6 19.8 -26 14.5 -16.9 5 -6.4 6.6 -10.1 8 -15 8 -18.2 5.4 -16.4 4 -17.7 2.4 -18.3 0.6 -17 -1.4 -18.1 -2 -11.3 -5.6 -22.5 -10.4 -33.2 -5 -12.7 -5.6 -11.8 -8 -14.2 -9.6 -14.2 -6.4 -11.7 -5.4 -7.3 -8 -9 -8 -8 -8.5 -7.5 -7.8 -5.9 -8.9 -6 -13.4 -8 -10.8 -5.6 -6.2 -2.5 -13.4 -4.4 -11 -6.8 -9 -6.5 -6.1 -5.2 -3.8 -4.6 -2.5 -4.4 -2.2 -5 -1.9 -8.6 -1.3 -3.4 -4.1 -6 -2.8 -3 -5.4 -4 -9.1 -5 -40.2 -18.6 -9.6 -4.9 -1.1 -1.1 -0.5 -2.4 -0.5 -0.6 0 -1 -0.5 -0.4 0 -1 -0.5 -0.6 0 -1 -1 -2 -0.5 -2.4z" fill="#00b8ff"/>
<path d="M314.6 50.2l345.2 0 0 659.6 -168 0 -0.5 -0.6 -65 -130 -0.1 -1 35.6 -26.9 9.3 -8.1 7.9 -8 6.6 -8 20.6 -27.4 14.5 -17 5.5 -7 7.6 -12.2 7.9 -15.4 7.5 -18 5.2 -16.4 3.8 -18.1 2.1 -17.9 0.3 -15.6 -1.5 -18 -1.9 -10.3 -5.4 -22.6 -10.6 -33.3 -5 -12.7 -5 -10.9 -8 -14.5 -10.1 -15.1 -5.9 -11 -4.4 -6.2 -6.3 -7.4 -7.3 -7.6 -9.5 -8.8 -8.6 -7 -9.3 -6.6 -13.8 -8.4 -11.3 -6 -7 -3 -10.5 -3.2 -3.4 -1.4 -15.6 -10.2 -6.4 -4.9 -5.3 -5.3 -3.4 -5.6 -2.9 -7 -1.6 -7.4 -1.9 -4 -5.4 -6.6 -4.1 -3.4 -5.5 -3.6 -7.6 -4 -26.5 -12 -19.6 -9.4 0 -2 0.5 -0.6 1 -4 0.5 -0.4 0.6 -2.6 0.5 -0.4 0 -1 1 -1.6z" fill="#00c0ff"/>
<path d="M319.5 50.8l0.5 -0.6 339.8 0 0 659.6 -156.7 0 -3 -6 -1 -1 -3 -6.6 -0.9 -1 -2.6 -5.4 -0.9 -1 -2.5 -5.6 -1 -1 -2.5 -5.4 -1 -1 -2.5 -5.6 -1 -1 -2 -4.4 -1 -1 -2 -4.6 -1 -1 -2 -4.4 -1 -1 -2 -4.6 -1 -1 -2 -4.4 -1 -1 -33.1 -66 -0.1 -1 31.2 -24.2 10.6 -9.6 7.7 -8.2 4.8 -6 18.3 -25 15.6 -18.7 6 -7.9 8.2 -13.4 7.8 -15.7 6.6 -15.9 5.1 -16.4 3.9 -18.2 1.9 -17.8 0.4 -15.6 -1.5 -18 -1.8 -10.1 -5 -20.7 -10.6 -34 -4.4 -11.8 -5.6 -12.3 -7.4 -13.9 -11 -16.7 -6 -11.2 -4.6 -6.2 -5 -6.1 -8.4 -9 -9.7 -9 -8.6 -7 -9.2 -6.4 -14.6 -9 -11.2 -6 -7 -3 -13.3 -4.3 -14.8 -9.7 -6.7 -5 -4.4 -4.6 -3.7 -6 -2.7 -6.4 -1.7 -7.6 -2 -4 -3.3 -4 -7.1 -6.4 -5.5 -3.6 -7.7 -4 -42.2 -19.4 0 -2 0.5 -0.6 0 -1 0.5 -0.4 0 -1 0.5 -0.6 0 -1 0.5 -0.4 0.6 -2.6 0.5 -0.4 0 -1 2 -4z" fill="#00ccff"/>
<path d="M327.8 50.2l332 0 0 659.6 -140.4 0 -3.5 -7 -1 -1 -1.5 -3.6 -1 -1 -1.5 -3.4 -1 -1 -1.5 -3.6 -1 -1 -1.5 -3.4 -1 -1 -1.5 -3.6 -1 -1 -1.5 -3.4 -1 -1 -1.5 -3.6 -1 -1 -1.5 -3.4 -1 -1 -1.5 -3.6 -1 -1 -1.5 -3.4 -1 -1 -1.5 -3.6 -1 -1 -1.5 -3.4 -1 -1 -1.5 -3.6 -1 -1 -1.5 -3.4 -1 -1 -1.5 -3.6 -1 -1 -1.5 -3.4 -1 -1 -1.5 -3.6 -1 -1 -1.5 -3.4 -1 -1 -1.5 -3.6 -1 -1 -1.5 -3.4 -1 -1 -1 -2.6 -1 -1 -1 -2.4 -1 -1 -1 -2.6 -1 -1 -1 -2.4 -1 -1 -1 -2.6 -1 -1 -1 -2.4 -2.4 -3.6 -0.5 -1.4 -1 -1 -2 -4 -1 -1 -1.8 -3.6 -1 -1 0 -0.4 -1 -1 0 -0.6 -1 -1 -1.1 -2 0 -1 1.1 -1 18 -13.8 8.6 -7.2 8.5 -8.3 7.4 -8.1 5.5 -7 15.6 -22 21.1 -26 6.3 -10 7 -13.2 7 -15.4 5 -13.5 4 -14.2 3.2 -16.3 1.8 -16.4 0.4 -14 -1.3 -17 -2.1 -12.5 -7.4 -29.7 -8 -25.1 -6.6 -16.5 -5 -10.7 -6 -11 -11.2 -17.1 -6.2 -11.4 -5.6 -7.7 -8.2 -9.3 -9.7 -9.6 -9.3 -8 -10.1 -7.4 -15.1 -9.6 -11.7 -6.4 -7.9 -3.6 -14 -4.5 -12.8 -8.5 -6.8 -5 -4.6 -4.4 -3.5 -5.6 -3.3 -8 -1.5 -6.4 -2 -4 -3.8 -4.6 -6.8 -6 -5.4 -3.4 -7.6 -4 -37.9 -17.6 0 -1 3 -5.4 0.6 -2.6 0.5 -0.4 0 -1 1 -1.6 0 -1 1 -1.4 0 -1.1 1 -1.5z" fill="#00d4ff"/>
<path d="M332.1 50.2l327.7 0 0 659.6 -121.5 0 -2 -4.1 -1 -0.9 -0.5 -1.6 -1 -1 -0.5 -1.4 -1 -1 -0.5 -1.6 -1 -1 -0.5 -1.4 -2.5 -3.6 -0.5 -1.4 -1 -1 -2 -4 -1 -1 -0.5 -1.6 -1 -1 -2 -4 -1 -1 -0.5 -1.4 -1 -1 -0.5 -1.6 -1 -1 -0.5 -1.4 -1 -1 -0.5 -1.6 -2.5 -3.4 -0.5 -1.6 -1 -1 -0.5 -1.4 -2.5 -3.6 -0.5 -1.4 -1 -1 -0.5 -1.6 -1 -1 -0.5 -1.4 -1 -1 -0.5 -1.6 -2.5 -3.4 -0.5 -1.6 -1 -1 -0.5 -1.4 -1 -1 -0.5 -1.6 -1 -1 -0.5 -1.4 -1 -1 -0.5 -1.6 -2.5 -3.4 -0.5 -1.6 -1 -1 -0.5 -1.4 -1 -1 -0.5 -1.6 -1 -1 -0.5 -1.4 -2.5 -3.6 -0.5 -1.4 -1 -1 -0.5 -1.6 -1 -1 -0.5 -1.4 -1 -1 -0.5 -1.6 -1 -1 -2 -4 -1 -1 -0.5 -1.4 -1 -1 -0.5 -1.6 -1 -1 -0.5 -1.4 -1 -1 -0.5 -1.6 -2.5 -3.4 -0.5 -1.6 -1 -1 -0.5 -1.4 -1 -1 -0.5 -1.6 -1 -1 -2 -4 -1 -1 -0.5 -1.4 -1 -1 0 -0.6 -5 -7 -1 -2 0.1 -1 14.4 -11.7 8.4 -7.9 7 -7.3 7.7 -9.1 4.9 -6.4 11.4 -17.1 17 -20.9 6.6 -8.8 7.5 -12.8 6.9 -13.7 6.6 -15.3 4.4 -13.3 3.6 -14.1 2.5 -14 1.5 -17 0.2 -11.6 -1.5 -19 -2.1 -11 -5.1 -20.9 -2.9 -10.1 -7.2 -22.5 -7 -17.8 -5 -10.6 -5.5 -10.1 -11.1 -17 -6.4 -11.6 -5.4 -7.6 -8.6 -9.7 -9.7 -9.5 -9.3 -8 -10.1 -7.6 -14.2 -9 -12.4 -7 -7.9 -3.4 -14.4 -4.8 -12 -7.9 -6.5 -4.9 -4.1 -4 -3.6 -5.4 -3.2 -8 -1.5 -6.6 -2.1 -4 -4.4 -5 -7.1 -6 -5.5 -3.4 -7 -3.7 -34.2 -15.9 0 -2 1 -2 0 -1 0.5 -0.4 0 -1 0.5 -0.6 0.6 -2.4 0.5 -0.6 0 -1 1 -1.4 0 -1 1 -1.6 0 -1 2 -4z" fill="#00e0fa"/>
<path d="M338.8 50.2l321 0 0 659.6 -103 0 0 -0.6 -2 -2.4 -0.5 -1.6 -2 -2.4 -0.5 -1.6 -2 -2.4 -0.5 -1.6 -2 -2.4 -0.5 -1.6 -2 -2.4 -0.5 -1.6 -2 -2.4 -0.5 -1.6 -2 -2.4 -0.5 -1.6 -2 -2.4 -0.5 -1.6 -2 -2.4 -0.5 -1.6 -2 -2.4 -0.5 -1.6 -2 -2.4 -0.5 -1.6 -2 -2.4 -0.5 -1.6 -2 -2.5 -0.5 -1.5 -2 -2.4 -0.5 -1.6 -2 -2.4 -0.5 -1.6 -2 -2.4 -0.5 -1.6 -2 -2.5 -0.5 -1.5 -2 -2.4 -0.5 -1.6 -2 -2.4 -0.5 -1.6 -2 -2.4 -0.5 -1.6 -2 -2.4 -0.5 -1.6 -2 -2.4 -0.5 -1.6 -2 -2.4 -0.5 -1.6 -2 -2.4 -0.5 -1.6 -2 -2.4 -0.5 -1.6 -2 -2.4 -0.5 -1.6 -2 -2.4 -0.5 -1.6 -1 -1 0 -0.4 -3.9 -5.6 0 -0.4 -6 -8.6 0 -0.4 -6 -8.6 -2 -3.4 -1 -1 0 -0.6 -1 -1 0 -0.4 -3 -4 -2 -3.6 -1 -1 -1 -2 0.1 -1 14.5 -13.4 10.4 -11.6 8.7 -11.4 12.2 -18.6 18.9 -23.6 5 -7.4 5.6 -9.7 5.2 -10.3 4.8 -10.4 5.4 -14 4 -13.5 3.2 -14.1 1.9 -14 1.1 -15 -0.2 -13 -1.5 -15.4 -2.4 -12 -5.2 -21 -6.9 -22.3 -4.4 -13.1 -5 -12.3 -5 -10.7 -5.9 -10.6 -11.1 -17 -6 -11.2 -5.1 -7 -8.5 -9.8 -10.1 -10 -9.8 -8.6 -10.1 -7.4 -14.9 -9.6 -11.6 -6.4 -8 -3.6 -10.5 -3.2 -4 -1.5 -16.8 -11.7 -4.2 -4 -3.7 -5.6 -3.3 -8 -1.4 -6.4 -2.2 -4 -4.3 -5 -7.4 -6 -5.2 -3.6 -6.9 -3.7 -31.1 -14.3 -0.3 -1 4.4 -8.4 0 -1 2 -4.1 0 -0.9 1 -1.6 0 -1 2 -4z" fill="#02e8f4"/>
<path d="M342.1 50.2l317.7 0 0 659.6 -85.6 0 -7 -10 -1 -2 -1 -1 0 -0.6 -1 -1 0 -0.4 -1 -1 -2 -3.6 -1 -1 0 -0.4 -1 -1 -2 -3.6 -1 -1 0 -0.4 -1 -1 -2 -3.6 -1 -1 0 -0.4 -1 -1 0 -0.6 -1 -1 -1 -2 -1 -1 0 -0.4 -1 -1 0 -0.6 -1 -1 -2 -3.4 -1 -1 0 -0.6 -1 -1 -2 -3.4 -1 -1 -1 -2 -1 -1 -1 -2 -1 -1 -1 -2 -1 -1 0 -0.6 -1 -1 0 -0.4 -1 -1 0 -0.6 -1 -1 0 -0.4 -1 -1 0 -0.6 -8 -11.4 0 -0.6 -1 -1 -1 -2 -1 -1 -1 -2 -1 -1 0 -0.4 -1 -1 0 -0.6 -1 -1 0 -0.4 -1 -1 0 -0.6 -1 -1 0 -0.4 -1 -1 -1 -2 -1 -1 -1 -2 -1 -1 0 -0.6 -1 -1 0 -0.4 -8 -11.6 -1 -2 -1 -1 -1 -2 -1 -1 -1 -2 -1 -1 -1 -2 -1 -1 -1 -2 -1 -1 0 -0.4 -1 -1 0 -0.6 -8 -11.4 -1 -2 -6 -8.6 0 -0.4 -1 -1 -1 -2 0 -1 12.1 -12.6 7.5 -9 9 -12.9 9.1 -14.5 15.3 -19.2 6.7 -9.4 5.9 -10 6.7 -13 5.7 -12.9 4.3 -11.1 4.2 -14 3.1 -13.9 2 -14.1 1.1 -17 -0.5 -13.4 -1.5 -14 -1.7 -8.6 -5 -20.6 -10.3 -33.4 -4.7 -12.2 -4.4 -10.3 -4.6 -9 -5.3 -9.5 -10 -15 -6.1 -11.3 -6 -8.1 -8 -9.1 -9.6 -9.5 -9.9 -8.4 -10.2 -7.6 -14.8 -9.4 -12.5 -7 -8.2 -3.6 -9.4 -2.7 -4 -1.6 -15.4 -10.8 -4.1 -3.9 -4 -6 -3.1 -7.4 -1.3 -6 -1.9 -4 -3.6 -4.5 -5.2 -4.5 -6.9 -5 -6.5 -3.8 -30.6 -14.2 0 -2 0.5 -0.6 0 -1 0.5 -0.4 0 -1 0.5 -0.6 1 -4 0.5 -0.4 0 -1 1 -1.6 0 -1 1 -1.4 0 -1 1 -1.6 0 -1 1 -1.4 0 -1 1 -1.6z" fill="#0cf4ea"/>
<path d="M347.5 50.8l0.5 -0.6 311.8 0 0 659.6 -65.8 0 -1 -1 -1 -2 -1.5 -1.6 -1 -2 -1.5 -1.4 -1 -2 -1.5 -1.6 -1 -2 -1.5 -1.4 -1 -2 -1.5 -1.6 -1 -2 -1.5 -1.4 -1 -2 -1.5 -1.6 -1 -2 -1.5 -1.4 -1 -2 -1.5 -1.6 -1 -2 -1.5 -1.4 -1 -2 -1.5 -1.6 -1 -2 -1.5 -1.4 -1 -2 -1.5 -1.6 -1 -2 -1.5 -1.4 -1 -2 -1.5 -1.6 -1 -2 -1.5 -1.4 -1 -2 -1.5 -1.6 -1 -2 -1.5 -1.4 -1 -2 -1.5 -1.6 -1 -2 -1.5 -1.4 -1 -2 -1.5 -1.6 -1 -2 -1.5 -1.4 -1 -2 -1.5 -1.6 -1 -2 -1.5 -1.4 -1 -2 -1.5 -1.6 -1 -2 -1.5 -1.4 -1 -2 -1.5 -1.6 -1 -2 -1.5 -1.4 -1 -2 -1.5 -1.6 -1 -2 -1.5 -1.4 -1 -2 -1.5 -1.6 -1 -2 -1.5 -1.4 -1 -2 -1.5 -1.6 -1 -2 -1.5 -1.4 -1 -2 -1.5 -1.6 -1 -2 -1.5 -1.4 -1 -2 -1.5 -1.6 0 -0.4 -4.3 -5.6 0 -0.4 -1.5 -1.6 0 -0.4 -1.5 -1.6 0 -0.4 -1.5 -1.6 0 -0.4 -1.5 -1.6 0 -0.4 -1.5 -1.6 0 -0.4 -1.5 -1.6 0 -0.4 -1.5 -1.6 0 -0.4 -3 -3.6 0 -0.4 -1.5 -1.6 0 -0.4 -2 -2.6 -1 -2 0 -1 8.6 -9.8 4.7 -6.2 18.2 -28.4 15.5 -19.8 6.6 -9.5 6.2 -11.3 6.2 -12.4 5.6 -13 4 -11 3.9 -14 2.9 -14 1.8 -14 0.9 -15.6 -0.5 -13 -1.6 -13.9 -1.4 -7.7 -5.2 -21.4 -10.3 -33 -4.5 -11.9 -4.6 -10.5 -4.8 -9.6 -5.1 -8.9 -9.9 -15.1 -6.2 -11.2 -5.4 -7.6 -8.6 -9.7 -9.5 -9.5 -10.5 -8.9 -9.4 -7.1 -16.4 -10.4 -11.7 -6.6 -6.9 -3 -11 -3.3 -3.6 -1.4 -14.4 -10.3 -3.7 -3.4 -4 -6 -3.1 -7.6 -1.5 -6.4 -2.1 -4 -3.2 -4 -5.1 -4.6 -7.8 -5.4 -6.1 -3.6 -26.7 -12.4 0 -2 0.5 -0.6 1 -4 0.5 -0.4 0.5 -2.6 0.5 -0.4 0 -1 1 -1.6 0 -1 1 -1.4 0 -1 2 -4 0 -1 2 -4z" fill="#12fce4"/>
<path d="M350.5 50.8l0.5 -0.6 308.8 0 0 659.6 -60.8 0 -1 -2 -1.5 -1.6 -1 -2 -1.5 -1.4 -1 -2 -1.5 -1.6 -1 -2 -1.5 -1.4 -1 -2 -1.5 -1.6 -1 -2 -1.5 -1.4 -1 -2 -1.5 -1.6 -1 -2 -1.5 -1.4 -1 -2 -1.5 -1.6 -1 -2 -1.5 -1.4 -1 -2 -1.5 -1.6 -1 -2 -1.5 -1.4 -1 -2 -1.5 -1.6 -1 -2 -1.5 -1.4 -1 -2 -1.5 -1.6 -1 -2 -1.5 -1.4 -1 -2 -1.5 -1.6 -1 -2 -1.5 -1.4 -1 -2 -1.5 -1.6 -1 -2 -1.5 -1.4 -1 -2 -1.5 -1.6 -1 -2 -1.5 -1.4 -1 -2 -1.5 -1.6 -1 -2 -1.5 -1.4 -1 -2 -1.5 -1.6 -1 -2 -1.5 -1.4 -1 -2 -1.5 -1.6 -1 -2 -1.5 -1.4 -1 -2 -1.5 -1.6 -1 -2 -1.5 -1.4 -1 -2 -1.5 -1.6 -1 -2 -1.5 -1.4 -1 -2 -1.5 -1.6 -1 -2 -1.5 -1.4 -1 -2 -1.5 -1.6 -1 -2 -1.5 -1.4 -1 -2 -1.5 -1.6 -1 -2 -1.5 -1.4 0 -0.6 -4.2 -5.4 0 -0.6 -1 -1 -2 -3.4 -1 -1 0 -0.6 -1 -1 0 -0.4 -1 -1 0 -0.6 -1 -1 0 -0.4 -1 -1 0 -0.6 -8 -11.4 -0.6 -1.5 -1 -1 11.6 -14.9 16.9 -27.2 15.1 -19.4 6.4 -9.6 7.2 -13 6 -12.4 5.6 -13.6 3.8 -11 3.7 -14 2.7 -14.3 1.6 -14.2 0.7 -13.9 -0.5 -11.6 -1.6 -14 -1.6 -8.4 -5 -20.6 -10.3 -33 -4.7 -12.4 -4.4 -10 -4.7 -9.6 -5.1 -9 -10 -15 -6.4 -11.6 -4.9 -6.9 -9.1 -10.3 -9.4 -9.4 -9.6 -8.2 -10.1 -7.6 -16.4 -10.4 -11.6 -6.6 -8.2 -3.4 -9.7 -2.9 -4 -1.6 -14 -10.1 -3.6 -3.4 -4 -6 -3 -7.6 -1.4 -6 -1.9 -4 -3.1 -4 -5.1 -4.4 -7.8 -5.6 -6.1 -3.5 -25.3 -11.9 0 -2 0.5 -0.6 1 -4 0.5 -0.4 0.6 -2.6 0.5 -0.4 0 -1 1 -1.6 0 -1 1 -1.4 0 -1 1 -1.6 0 -1 1 -1.4 0 -1 1 -1.6 0 -1 1 -1.4z" fill="#1fffd7"/>
<path d="M365.3 50.8l0.5 -0.6 294 0 0 659.6 -16.7 0 -0.5 -0.6 0 -0.4 -5 -5.6 0 -0.4 -2.5 -2.6 0 -0.4 -2.5 -2.6 0 -0.4 -2.5 -2.6 0 -0.4 -2.5 -2.6 0 -0.4 -2.5 -2.6 0 -0.4 -2.5 -2.6 0 -0.4 -2.5 -2.6 0 -0.4 -2.5 -2.6 0 -0.4 -2.5 -2.6 0 -0.4 -2.5 -2.6 0 -0.4 -2.5 -2.6 0 -0.4 -2.5 -2.6 0 -0.4 -2.5 -2.6 0 -0.4 -2.5 -2.6 0 -0.4 -2.5 -2.6 0 -0.4 -10 -11.6 0 -0.4 -2.5 -2.6 0 -0.4 -2.5 -2.6 0 -0.4 -2.5 -2.6 0 -0.4 -2.5 -2.6 0 -0.4 -2.5 -2.6 0 -0.4 -2.5 -2.6 0 -0.4 -2.5 -2.6 0 -0.4 -2.5 -2.6 0 -0.4 -2.5 -2.6 0 -0.4 -2.5 -2.6 0 -0.4 -2.5 -2.6 0 -0.4 -2.5 -2.6 0 -0.4 -2.5 -2.6 0 -0.4 -2.5 -2.6 0 -0.4 -2.5 -2.6 0 -0.4 -10 -11.6 0 -0.4 -2.5 -2.6 0 -0.4 -2.5 -2.6 0 -0.4 -2.5 -2.6 0 -0.4 -2.5 -2.6 0 -0.4 -2.5 -2.6 0 -0.4 -2.5 -2.6 0 -0.4 -2.5 -2.6 0 -0.4 -2.5 -2.6 0 -0.4 -2.5 -2.6 0 -0.4 -10 -11.6 0 -0.4 -2.5 -2.6 0 -0.4 -2 -2 0 -0.6 -5.1 -6 0 -0.4 -2 -2.6 -1.1 -2 -0.2 -1 10.5 -20.4 9.4 -14.6 13.3 -18.4 8.8 -15.5 6.1 -12.5 5.7 -13.6 3.9 -11 3.2 -11 2.8 -13 2 -12.4 1.2 -14.6 0.2 -11.4 -0.6 -11 -1.6 -13 -7.2 -30.6 -10.7 -33.3 -5 -12.7 -5.4 -11.9 -6.6 -12 -11.1 -17.1 -6.3 -11.4 -5 -6.8 -5.3 -6.2 -7.6 -8 -9.7 -9 -9 -7.4 -10.1 -7.2 -14.3 -9 -10.9 -6 -7.7 -3.2 -13.4 -4.3 -9.8 -6.9 -4.9 -4.6 -4 -5.4 -3.4 -8 -0.9 -4.8 -1.4 -3.8 -2.1 -3.4 -2.9 -3.6 -5.9 -5 -9.7 -6.3 -19.1 -9.7 0 -1 3 -5.4 0.6 -2.6 0.5 -0.4 0 -1 1 -1.6 0 -1 1 -1.4 0 -1 1 -1.6 0 -1 1 -1.4 0 -1.1 1 -1.5 0 -1 1 -1.4 0 -1 1 -1.6 0 -1 1 -1.4z" fill="#32ffc3"/>
<path d="M375.1 50.2l284.7 0 0 652.6 -6.1 -6.6 0 -0.4 -4 -4 0 -0.6 -4 -4 0 -0.4 -4 -4 0 -0.6 -4 -4 0 -0.4 -4 -4 0 -0.6 -4 -4 0 -0.4 -4 -4 0 -0.6 -4 -4 0 -0.4 -4 -4 0 -0.6 -4 -4 0 -0.4 -4 -4 0 -0.6 -4 -4 0 -0.4 -4 -4 0 -0.6 -4 -4 0 -0.4 -4 -4 0 -0.6 -4 -4 0 -0.4 -4 -4 0 -0.6 -4 -4 0 -0.4 -4 -4 0 -0.6 -4 -4 0 -0.4 -4 -4 0 -0.6 -4 -4 0 -0.4 -4 -4 0 -0.6 -4 -4 0 -0.4 -4 -4 0 -0.6 -4 -4 0 -0.4 -4 -4 0 -0.6 -4 -4 0 -0.4 -4 -4 0 -0.6 -4 -4 0 -0.4 -3.5 -3.6 0 -0.4 -3.5 -3.6 0 -0.4 -6 -6.6 0 -0.4 -2.5 -2.6 0 -0.4 -6.6 -7.6 0 -0.4 -3 -3.6 0 -0.4 -2 -2.6 -1.1 -2 -0.1 -1 1.4 -4 5.5 -12 20.8 -32 10.8 -20.4 4.9 -11 5 -12.8 3 -9.2 3 -11.6 2.7 -13.4 1.6 -12 1 -14.6 0 -11 -0.9 -11.4 -1.5 -11 -6.9 -29.4 -10.6 -33.1 -5 -12.8 -5.4 -12.1 -7.6 -13.8 -10.7 -16.4 -5.7 -10.4 -4 -5.6 -5 -6.1 -9 -9.6 -9.4 -8.7 -9.1 -7.6 -9.8 -7 -14.3 -9 -9.7 -5.4 -9.7 -4.4 -13.6 -4.2 -7.5 -5.4 -4.9 -4.6 -4 -5.4 -3.6 -8.6 -0.9 -4.4 -1.2 -3.6 -1.8 -3.4 -2.4 -3 -4.1 -4 -5.5 -4 -9.5 -5.9 -8.6 -4.7 -0.2 -1 0.8 -1.4 0 -1 1 -2 0 -1 1 -2 0 -1 0.5 -0.6 0 -1 0.5 -0.4 0 -1 0.5 -0.6 0 -1 0.5 -0.4 0 -1 0.5 -0.6 0 -1 0.5 -0.4 0 -1 0.5 -0.6 0 -1 0.5 -0.4 1 -4.1 0.5 -0.5 1 -4 0.5 -0.4z" fill="#49ffad"/>
<path d="M384.1 50.2l275.7 0 0 616.5 -147.8 -147.9 4.8 -11 16.4 -27 6.8 -13 5.5 -11.6 5.3 -12.4 4.4 -11.6 3.4 -11 2.8 -11.4 2.2 -11.6 1.4 -11.4 1 -14 -0.1 -11.6 -0.9 -11.4 -1.5 -11 -7 -29.6 -10.6 -33.4 -4.9 -12.6 -4.8 -10.4 -4.6 -9 -5.4 -9.3 -9 -13.5 -6.4 -11.5 -7 -9.2 -8.7 -9.5 -9.9 -9.4 -9.1 -7.6 -10.4 -7.6 -13.4 -8.4 -11.3 -6.6 -10.2 -4.4 -13.6 -4.2 -6.2 -4.8 -4.2 -4 -3.8 -5.6 -1.9 -4 -0.8 -3 -0.8 -1 -0.8 -4.4 -1.3 -4 -1.5 -3 -2.1 -3.2 -3.3 -3.4 -4.7 -3.8 -14.6 -9.2 0.2 -2 0.5 -0.4 0 -1 0.5 -0.6 0 -1 1 -2 0 -1 0.5 -0.4 0 -1 1 -2 0 -1 1 -2 0 -1 0.5 -0.6 0 -1 0.5 -0.4 0 -1 0.5 -0.6 0 -1 1 -2 0 -1 0.5 -0.4 0 -1 1 -2 0 -1 0.5 -0.6 0 -1 0.5 -0.4z" fill="#5cff9a"/>
<path d="M391.4 50.8l0.5 -0.6 267.9 0 0 603.2 -141.2 -141.2 6 -12.4 12.8 -22.6 11.3 -25 5.3 -13.4 3.9 -11.6 3.1 -11 2.4 -11.4 1.9 -12 1.1 -11.6 0.5 -11.4 -0.3 -11.6 -1 -11 -1.2 -8.4 -7.1 -29.6 -10 -31.4 -4.7 -12.6 -5.6 -12.4 -4.8 -9.6 -5.4 -9.3 -9.2 -13.7 -6.4 -11.2 -6.4 -8.6 -9 -9.9 -10 -9.5 -10 -8.2 -10.5 -7.6 -15.1 -9.4 -11 -6.1 -8.4 -3.6 -12.6 -3.7 -3.4 -2.2 -5.4 -5 -4.3 -6 -1.8 -4 -1 -3.4 -0.6 -0.6 -0.9 -5 -1.1 -3.4 -1.6 -3.6 -1.9 -3 -2.6 -3 -3.4 -3 -12.1 -8.4 -0.1 -1 0.9 -1.6 0 -1 0.5 -0.4 0 -1 0.5 -0.6 0 -1 1 -2 0 -1 0.5 -0.4 0 -1 0.5 -0.6 0 -1 0.5 -0.4 0 -1 1 -2 0 -1 0.5 -0.6 1 -4 0.5 -0.4 0 -1 1 -2 0 -1 0.5 -0.6 0 -1 0.5 -0.4 0 -1 0.5 -0.5 0 -1.1 1 -2 0 -1 0.5 -0.4 0 -1 0.5 -0.6 0 -0.9 0.5 -0.5z" fill="#70ff86"/>
<path d="M398.1 50.2l261.7 0 0 570.1 -10 -9 -0.6 0 -3 -3 -0.4 0 -3 -3 -0.6 0 -3 -3 -0.4 0 -3 -3 -0.6 0 -3 -3 -0.4 0 -3 -3 -0.6 0 -3 -3 -0.4 0 -3 -3 -0.6 0 -3 -3 -0.4 0 -3 -3 -0.6 0 -3 -3 -0.4 0 -3 -3 -0.6 0 -3 -3 -0.4 0 -3 -3 -0.6 0 -3 -3 -0.4 0 -3 -3 -0.6 0 -3 -3 -0.4 0 -3 -3 -0.6 0 -3 -3 -0.4 0 -3 -3 -0.6 0 -3 -3 -0.4 0 -3 -3 -0.6 0 -3 -3 -0.4 0 -3 -3 -0.6 0 -3 -3 -0.4 0 -13.6 -12 -0.4 0 -21.2 -21.1 0.2 -0.4 0.5 -0.1 -0.3 -0.5 2.8 -6 13 -25.7 9.3 -22.7 4.3 -12 3.5 -11 2.7 -11 2.3 -12 1.6 -11.6 1.1 -14.4 0.2 -9 -0.5 -11 -1.2 -11.6 -1.3 -7.4 -6.8 -28 -9.9 -31 -4.8 -12.6 -5.5 -12.4 -4.8 -9.6 -5.5 -9.4 -9.3 -14 -6.3 -11 -5.2 -7 -8.8 -10 -9.8 -9.6 -10.3 -8.7 -11 -8 -16 -10.1 -11.2 -6.2 -8.8 -3.7 -12 -3.5 -3.2 -1.8 -5 -5 -4 -6 -2.4 -6.4 -0.7 -1 -0.6 -4.6 -1.1 -4 -3 -6 -5 -5.7 -9.8 -7.7 0.1 -2 0.5 -0.6 0 -1 0.5 -0.4 0 -1 0.5 -0.6 0 -1 0.5 -0.4 0 -1 0.5 -0.6 0 -1 0.5 -0.4 0 -1 0.5 -0.6 0 -1 0.5 -0.4 0 -1 0.5 -0.6 0 -1 0.5 -0.4 0 -1 0.5 -0.6 0 -1 0.5 -0.4 0 -1 0.5 -0.6 0 -1 0.5 -0.4 0 -1 0.5 -0.6 0 -1 0.5 -0.4 0 -1 0.5 -0.6 0 -1 0.5 -0.4 0 -1 0.5 -0.6 0 -1 0.5 -0.4 0 -1 0.5 -0.6 0 -1 0.5 -0.4 0 -1 0.5 -0.6 0 -1 0.5 -0.4 0 -1 0.5 -0.6 0 -1 0.5 -0.4 0 -1 0.5 -0.6z" fill="#86ff70"/>
<path d="M404.2 50.2l255.6 0 0 538.2 -2.6 -2 -0.4 0 -1.6 -1.5 -0.4 0 -1.6 -1.5 -0.4 0 -1.6 -1.5 -0.4 0 -1.6 -1.5 -0.4 0 -1.6 -1.5 -0.4 0 -1.6 -1.5 -0.4 0 -1.6 -1.5 -0.4 0 -1.6 -1.5 -0.4 0 -1.6 -1.5 -0.4 0 -1.6 -1.5 -0.4 0 -1.6 -1.5 -0.4 0 -1.6 -1.5 -0.4 0 -1.6 -1.5 -0.4 0 -1.6 -1.5 -0.4 0 -1.6 -1.5 -0.4 0 -1.6 -1.5 -0.4 0 -1.6 -1.5 -0.4 0 -1.6 -1.5 -0.4 0 -1.6 -1.5 -0.4 0 -1.6 -1.5 -0.4 0 -1.6 -1.5 -0.4 0 -1.6 -1.5 -0.4 0 -1.6 -1.5 -0.4 0 -1.6 -1.5 -0.4 0 -1.6 -1.5 -0.4 0 -1.6 -1.5 -0.4 0 -1.6 -1.5 -0.4 0 -1.6 -1.5 -0.4 0 -1.6 -1.5 -0.4 0 -1.6 -1.5 -0.4 0 -1.6 -1.5 -0.4 0 -1.6 -1.5 -0.4 0 -1.6 -1.5 -0.4 0 -1.6 -1.5 -0.4 0 -1.6 -1.5 -0.4 0 -1.6 -1.5 -0.4 0 -1.6 -1.5 -0.4 0 -1.6 -1.5 -0.4 0 -1.6 -1.5 -0.4 0 -1.6 -1.5 -0.4 0 -1.6 -1.5 -0.4 0 -1.6 -1.5 -0.4 0 -1.6 -1.5 -0.4 0 -1.6 -1.5 -0.4 0 -1.6 -1.5 -0.4 0 -1.6 -1.5 -0.4 0 -1.6 -1.5 -0.4 0 -1.6 -1.5 -0.4 0 -1.6 -1.5 -0.4 0 -1.6 -1.5 -0.4 0 -1.6 -1.5 -0.4 0 -1.6 -1.5 -0.4 0 -1.6 -1.5 -0.4 0 -1.6 -1.5 -0.4 0 -1.6 -1.5 -0.4 0 -1.6 -1.5 -0.4 0 -1.6 -1.5 -0.4 0 -1.6 -1.5 -0.4 0 -6.3 -6.2 13.8 -31 8.6 -23 3.2 -10.4 2.5 -9.6 2.3 -11.4 1.9 -12 1.1 -11 0.7 -12.6 -0.1 -10 -0.6 -9.4 -1.1 -9.6 -1.4 -7.4 -7.3 -29.6 -10.1 -31 -5.1 -13 -5.5 -12 -5.2 -10 -5.4 -9 -8 -11.9 -6.6 -11.2 -7.1 -9.3 -6.9 -7.7 -9.6 -9.3 -8.4 -7.2 -9.4 -7.1 -15.6 -10.1 -14 -8 -10 -4.3 -14 -4.3 -4.7 -4.6 -3.6 -5 -1.9 -4 -1.7 -5 -1.1 -7 -2.3 -6 -4.7 -6.3 -7.7 -7.1 0.2 -2 0.5 -0.6 0 -1 0.5 -0.4 0 -1 0.5 -0.6 0 -1 0.5 -0.4 0 -1 0.5 -0.6 0 -1 0.5 -0.4 0 -1 0.5 -0.6 0 -1 0.5 -0.4 0 -1 0.5 -0.6 0 -1 0.5 -0.4 0 -1 0.5 -0.6 0 -1 0.5 -0.4 0 -1 0.5 -0.6 0 -1 0.5 -0.4 0 -1 0.5 -0.6 0 -1 0.5 -0.4 0 -1 0.5 -0.6 0 -1 0.5 -0.4 0 -1 0.5 -0.6 0 -1 0.5 -0.4 0 -1 0.5 -0.6 0 -1 0.5 -0.4 0 -1 0.5 -0.6 0 -1 0.5 -0.4 0 -1 0.5 -0.6 0 -1 0.5 -0.4 0 -1 0.5 -0.6z" fill="#9aff5c"/>
<path d="M410.7 50.8l0.5 -0.5 248.6 -0.1 0 511.8 -0.6 0 -7 -5 -2 -1 -1 -1 -0.4 0 -1 -1 -0.6 0 -1 -1 -0.4 0 -1 -1 -0.6 0 -1 -1 -0.4 0 -1 -1 -0.6 0 -1 -1 -0.4 0 -1 -1 -0.6 0 -1 -1 -0.4 0 -1 -1 -0.6 0 -1 -1 -0.4 0 -1 -1 -0.6 0 -1 -1 -0.4 0 -1 -1 -0.6 0 -1 -1 -0.4 0 -1 -1 -0.6 0 -1 -1 -0.4 0 -1 -1 -0.6 0 -1 -1 -0.4 0 -1 -1 -0.6 0 -1 -1 -0.4 0 -1 -1 -0.6 0 -10 -7 -2 -1 -1 -1 -0.4 0 -1 -1 -0.6 0 -1 -1 -0.4 0 -1 -1 -0.6 0 -1 -1 -0.4 0 -1 -1 -0.6 0 -1 -1 -0.4 0 -1 -1 -0.6 0 -1 -1 -0.4 0 -1 -1 -0.6 0 -1 -1 -0.4 0 -1 -1 -0.6 0 -1 -1 -0.4 0 -1 -1 -0.6 0 -1 -1 -0.4 0 -1 -1 -0.6 0 -1 -1 -0.4 0 -1 -1 -0.6 0 -1 -1 -0.4 0 -1 -1 -0.6 0 -1 -1 -0.4 0 -1 -1 -0.6 0 -10 -7 -2 -1 -1 -1 -0.4 0 -1 -1 -0.6 0 -11.4 -8 -0.6 0 -3.1 -3.2 0.7 -0.6 -0.3 -0.4 11.7 -30 6.7 -20 2.4 -9 2.2 -11 2.9 -21 1.1 -23 -0.3 -9.6 -1.1 -11 -2.4 -14 -7.6 -29.4 -10.4 -31.6 -5.3 -13 -5.6 -12 -7.6 -13.5 -9.9 -14.9 -6.1 -10.6 -8.4 -11 -7.9 -8.4 -9 -8.6 -8.9 -7.4 -8.9 -6.6 -16.4 -10.4 -13.5 -7.6 -9 -3.7 -14 -4.3 -2.6 -2.4 -4.3 -6 -1.8 -4 -1.4 -4.6 -0.8 -7 -1.7 -5.4 -3.3 -5.6 -6.5 -7.4 0 -1.1 0.8 -1.5 0 -1 0.5 -0.4 0 -1 0.5 -0.6 0 -1 0.5 -0.4 0 -1 0.5 -0.6 0 -1 0.5 -0.4 0 -1 0.5 -0.6 0 -1 0.5 -0.4 0 -1 0.5 -0.6 0 -1 0.5 -0.4 0 -1 0.5 -0.6 0 -1 0.5 -0.4 0 -1 0.5 -0.6 0 -1 0.5 -0.4 0 -1 0.5 -0.6 0 -1 0.5 -0.4 0 -1 0.5 -0.6 0 -1 0.5 -0.4 0 -1 0.5 -0.6 1.6 -5.4 0.5 -0.6 0 -1 0.5 -0.4 0 -1 1 -1.6 0 -1 1.5 -3 0 -1 0.5 -0.4z" fill="#b0ff46"/>
<path d="M417 50.2l242.8 0 0 488.9 -2 -1.5 -1.6 -0.5 -1 -1 -1.4 -0.5 -1 -1 -1.6 -0.5 -1 -1 -1.4 -0.5 -1 -1 -1.6 -0.5 -1 -1 -1.4 -0.5 -1 -1 -1.6 -0.5 -1 -1 -1.4 -0.5 -1 -1 -1.6 -0.5 -1 -1 -1.4 -0.5 -1 -1 -1.6 -0.5 -1 -1 -1.4 -0.5 -1 -1 -1.6 -0.5 -1 -1 -1.4 -0.5 -1 -1 -1.6 -0.5 -1 -1 -1.4 -0.5 -1 -1 -1.6 -0.5 -1 -1 -1.4 -0.5 -1 -1 -1.6 -0.5 -1 -1 -1.4 -0.5 -1 -1 -1.6 -0.5 -1 -1 -1.4 -0.5 -1 -1 -1.6 -0.5 -1 -1 -1.4 -0.5 -1 -1 -1.6 -0.5 -1 -1 -1.4 -0.5 -1 -1 -1.6 -0.5 -1 -1 -1.4 -0.5 -1 -1 -1.6 -0.5 -1 -1 -1.4 -0.5 -1 -1 -1.6 -0.5 -1 -1 -1.4 -0.5 -1 -1 -1.6 -0.5 -1 -1 -1.4 -0.5 -1 -1 -1.6 -0.5 -1 -1 -1.4 -0.5 -1 -1 -1.6 -0.5 -1 -1 -1.4 -0.5 -1 -1 -1.6 -0.5 -1 -1 -1.4 -0.5 -2.6 -1.8 -6.4 -3 -1.1 -1 0.8 -0.5 -0.4 -0.5 10.7 -31 4.5 -15.6 3.7 -19.4 2 -20.6 0.5 -20.4 -1.8 -20.6 -2.7 -13.4 -7.2 -27.6 -10.3 -31 -5.3 -13 -5.6 -12 -7.8 -14.1 -10 -15 -6 -10.3 -8.6 -11 -7.9 -8.6 -8.4 -8 -8.3 -7 -9.8 -7.3 -16.6 -10.5 -13.7 -7.6 -9.3 -3.9 -10.4 -3 -3.6 -1.3 -2.3 -2.4 -3.5 -5.4 -2.5 -6.6 -0.8 -9 -1.5 -5.4 -1.9 -4 -5.3 -7 -0.3 -1.6 0.6 -2.4 0.5 -0.6 0 -1 0.5 -0.4 0 -1 1 -2 0 -1 0.5 -0.6 0 -1 2 -4 0 -1 1 -1.4 0 -1 1 -1.6 0 -1 1 -1.4 0 -1 1 -1.6 0 -1 1 -1.4 0 -1 0.5 -0.6 1.8 -5.4 0.5 -0.6 0.5 -2.4 1 -1.6 0.5 -2.4 1 -1.6 0.5 -2.4 1 -1.6z" fill="#c3ff32"/>
<path d="M423 50.8l0.5 -0.6 236.3 0 0 472.1 -3.6 -1.5 -1 -1 -3.4 -1.5 -1 -1 -3.6 -1.5 -1 -1 -3.4 -1.5 -1 -1 -3.6 -1.5 -1 -1 -3.4 -1.5 -1 -1 -3.6 -1.5 -1 -1 -3.4 -1.5 -1 -1 -3.6 -1.5 -1 -1 -3.4 -1.5 -1 -1 -3.6 -1.5 -1 -1 -3.4 -1.5 -1 -1 -3.6 -1.5 -1 -1 -3.4 -1.5 -1 -1 -3.6 -1.5 -1 -1 -2.4 -1 -1 -1 -2.6 -1 -1 -1 -2.4 -1 -1 -1 -2.6 -1 -1 -1 -1.4 -0.5 -1 -0.9 -1.6 -0.6 -1 -0.9 -1.4 -0.5 -1 -1 -1.6 -0.5 -1 -1 -1.4 -0.5 -1 -1 -1.6 -0.5 -2.4 -2 -0.6 0 -1 -1 -2 -1 -3.1 -3.1 8.5 -28 3.8 -16 3.1 -20.6 1.1 -21 -0.4 -17.4 -2 -17.6 -1.7 -8 -5 -20 -3.6 -12.4 -9.8 -29 -5.3 -13 -5.9 -12.6 -7.8 -14 -9.9 -14.7 -6 -10.3 -8.9 -11.4 -7.5 -8.1 -10 -9.4 -8.6 -7.1 -9.4 -6.7 -16.6 -10.4 -12.4 -6.9 -9 -3.8 -14.1 -4.2 -2.2 -2 -2.9 -5 -1.7 -4 -0.8 -3 -0.3 -9.4 -1 -5.6 -1.6 -4 -3.4 -5 0.6 -2 0.5 -0.4 0 -1 0.5 -0.6 0 -1 0.5 -0.4 0 -1 1.6 -3.6 0 -1 1 -1.4 0 -1 1 -1.6 0 -1 1 -1.4 0 -1 1 -1.6 0 -1 1 -1.4 0 -1 2 -4 0 -1 0.5 -0.6 1.5 -4.4 1 -1.6 0.5 -2.4 1 -1.6 0.5 -2.4 1 -1.6 0 -1 1.5 -3 0 -1 0.5 -0.4z" fill="#d7ff1f"/>
<path d="M429.7 50.2l230.1 0 0 450 -97.6 -48.5 -1.2 -1.5 0.2 -0.8 0.6 -0.2 -0.4 -0.4 5.6 -21.6 3.7 -21 1.3 -11 0.7 -9.4 0.1 -21 -1.3 -15 -2.4 -14.6 -7 -27 -7.7 -24 -4.5 -12.4 -5.2 -13 -4.7 -10 -5.2 -10.1 -5.3 -8.9 -8.7 -13 -6.6 -10.8 -5 -6.8 -7 -7.9 -8 -8 -8.4 -7.6 -8.6 -6.8 -10 -6.9 -15.4 -9.6 -11 -5.9 -9 -3.7 -14 -4.2 -1.6 -1.4 -1.7 -3 -2.5 -5.4 -0.8 -3.6 0.5 -14 -0.5 -8.4 0.9 -1.6 0 -1 1 -2 0.5 -2.4 0.5 -0.6 0.5 -2.4 0.5 -0.6 0 -1 1 -2 0 -1 0.5 -0.4 0 -1 0.5 -0.6 0 -1 0.5 -0.4 0 -1 0.5 -0.6 0 -1 0.5 -0.4 0 -1 0.5 -0.6 0 -1 0.5 -0.4 0 -1 0.5 -0.6 0 -1 0.5 -0.4 0 -1 0.5 -0.6 1.6 -5.4 0.5 -0.6 0.5 -2.4 1 -1.6 0.5 -2.4 1 -1.6 0.5 -2.4 1 -1.6 0 -1 0.5 -0.4 0 -1 1 -1.6z" fill="#edff08"/>
<path d="M439.9 50.7l0.5 -0.5 219.4 0 0 426.9 -1 0 -2.6 -1.5 -1 0 -2.4 -1.5 -1 0 -2.6 -1.5 -1 0 -2.4 -1.5 -1 0 -2.6 -1.5 -1 0 -2.4 -1.5 -1 0 -2.6 -1.5 -1 0 -2.4 -1.5 -1 0 -2.6 -1.5 -1 0 -2.4 -1.5 -1 0 -2.6 -1.5 -1 0 -2.4 -1.5 -1 0 -2.6 -1.5 -1 0 -6 -3 -1 0 -2.4 -1.5 -1 0 -2.6 -1.5 -1 0 -2.4 -1.5 -1 0 -6 -3 -1 0 -1.6 -1 -3.4 -1 -1.6 -1 -1 0 -1.4 -1 -1 0 -1.6 -1 -1 0 -1.4 -1 -6.6 -2.9 -1.2 -1.4 4 -21 1.8 -15 1 -12 0.5 -14.6 -0.1 -8.4 -0.7 -9.6 -1.3 -11.4 -3.1 -14.6 -5.2 -19.4 -3.3 -10.6 -10 -29 -5.5 -13.4 -5.1 -11 -8.6 -15.6 -9.8 -14.4 -7.7 -12.6 -9.3 -11.4 -11.8 -12 -9 -7.8 -10 -7.6 -10.6 -6.9 -12.4 -7.5 -7.6 -4.1 -6.4 -3 -5.6 -2 -13.4 -4.1 -1.2 -1 -1.5 -2.6 -2.1 -5.4 -0.8 -3.6 1 -7.4 1 -4.6 1.9 -4 2.1 -2.8 0.6 -0.1 1 -2.1 0 -1 0.5 -0.4 0 -1 0.5 -0.6 0 -1 0.5 -0.4 0.7 -2.6 0.5 -0.4 0 -1 1 -1.6 0 -1 1 -1.4 0 -1 1 -1.6 0 -1 1 -1.4 0 -1 1 -1.6 0 -1 1 -1.4 0 -1 1 -1.6 0 -1 0.5 -0.4 1.5 -4.6 0.9 -1.4 0.5 -2.6 1 -1.4 0.5 -2.6 1 -1.4 0.5 -2.6 1 -1.5 0.5 -2.5 1 -1.4 0.5 -2.6 1 -1.4z" fill="#ffe900"/>
<path d="M449.8 50.2l210 0 0 407.5 -1 0 -1.6 -1 -2.4 -0.5 -1.6 -1 -2.4 -0.5 -1.6 -1 -2.4 -0.5 -1.6 -1 -2.4 -0.5 -1.5 -1 -2.5 -0.5 -1.6 -1 -2.4 -0.5 -1.6 -1 -2.4 -0.5 -1.6 -1 -2.4 -0.5 -1.6 -1 -2.4 -0.5 -1.6 -1 -2.4 -0.5 -1.6 -1 -2.4 -0.5 -1.6 -1 -2.4 -0.5 -1.6 -1 -2.4 -0.5 -1.6 -1 -1 0 -0.4 -0.5 -5.6 -1.8 -0.4 -0.5 -1 0 -0.6 -0.5 -2.4 -0.5 -0.6 -0.5 -1 0 -2 -1 -4 -1 -0.4 -0.5 -2.6 -0.5 -0.4 -0.5 -4 -1 -0.6 -0.5 -2.4 -0.5 -0.6 -0.5 -2.4 -0.5 -1.1 -1.2 0.1 -0.6 0.4 0 0.1 -0.4 -0.4 -0.4 2.8 -25.6 0.9 -24 -0.6 -15.4 -2.2 -18 -2.4 -10.6 -5.4 -20 -9.6 -29 -9.3 -23.4 -8.2 -17 -7.3 -12.6 -17.5 -26.4 -11.1 -13 -12.8 -12.3 -8.4 -7 -7.6 -5.5 -9 -6 -12.4 -7.5 -8 -4.3 -7 -3.2 -6 -2.2 -12.6 -3.6 -1.1 -1 -1.4 -2 -1.6 -4.4 -0.9 -4 1.2 -6.6 1.2 -4 1.6 -2.9 2 -1.8 6.7 -1.7 4.4 -9 0 -1 1 -1.6 0 -1 1 -1.4 0 -1 1 -1.6 0 -1 1 -1.4 0 -1 1 -1.6 0 -1 1 -1.4 0 -1 1 -1.6 0 -1 1 -1.4 0 -1 1 -1.6 0 -1 1 -1.4 0 -1 1 -1.6 0 -1 1 -1.4 0 -1 1 -1.6 0 -1 1 -1.4 0 -1 1 -1.6 0 -1 1 -1.4 0 -1 1 -1.6 0 -1 1 -1.4 0 -1 1 -1.6z" fill="#ffcf00"/>
<path d="M458.4 50.8l0.5 -0.6 200.9 0 0 393.6 -1 0 -2 -1 -1 0 -0.6 -0.5 -1 0 -0.4 -0.5 -1 0 -0.6 -0.5 -1 0 -0.4 -0.5 -1 0 -0.6 -0.5 -1 0 -2 -1 -2.4 -0.5 -0.6 -0.5 -1 0 -0.4 -0.5 -1 0 -0.6 -0.5 -1 0 -0.4 -0.5 -1 0 -0.6 -0.5 -1 0 -0.4 -0.5 -1 0 -0.6 -0.5 -4 -1 -0.4 -0.5 -1 0 -0.6 -0.5 -1 0 -0.4 -0.5 -1 0 -0.6 -0.5 -1 0 -0.4 -0.5 -1 0 -0.6 -0.5 -1 0 -0.4 -0.5 -1 0 -0.6 -0.5 -1 0 -0.4 -0.5 -1 0 -0.6 -0.5 -1 0 -0.4 -0.5 -1 0 -0.6 -0.5 -1 0 -0.4 -0.5 -1 0 -0.6 -0.5 -1 0 -0.4 -0.5 -1 0 -0.6 -0.5 -1 0 -0.4 -0.5 -1 0 -0.6 -0.5 -1 0 -0.4 -0.5 -1 0 -0.6 -0.5 -1 0 -0.4 -0.5 -1 0 -0.6 -0.5 -1 0 -0.4 -0.5 -1 0 -0.6 -0.5 -1 0 -0.4 -0.5 -1 0 -0.6 -0.5 -1 0 -0.4 -0.5 -1 0 -0.6 -0.5 -1 0 -0.4 -0.5 -1 0 -0.6 -0.5 -1 0 -0.4 -0.5 -1 0 -0.6 -0.5 -1 0 -0.4 -0.5 -1 0 -0.6 -0.5 -1 0 -2 -1 -1 0 -1 -1.1 0 -0.8 1.1 -0.2 -0.9 -1 1.3 -20 0.2 -22.4 -1.2 -17.6 -2.5 -16.4 -7.7 -29 -9.8 -29 -9.5 -23.6 -9.1 -18 -6.9 -11.4 -7.4 -10.8 -6.3 -10.2 -3.7 -5 -10.8 -12.6 -13.8 -13 -7.4 -6 -9 -6.5 -22.2 -13.5 -7.8 -4 -6.6 -2.7 -17 -5.2 -2 -2.2 -1.3 -3.9 -0.8 -4 1.1 -6 1.5 -4 1.5 -2.2 1.6 -0.9 9 0.2 3.4 -0.7 1.4 -0.8 4.3 -9 0 -1 1 -1.6 0 -1 1 -1.4 0 -1 1 -1.6 0 -1 1 -1.4 0 -1 1 -1.6 0 -1 1 -1.4 0 -1 1 -1.6 0 -1 1 -1.4 0 -1 1 -1.6 0 -1 1 -1.4 0 -1 1 -1.6 0 -1 1 -1.4 0 -1 1 -1.6 0 -1 1 -1.4 0 -1 1 -1.6 0 -1 1 -1.4 0 -1 1 -1.6 0 -1 1 -1.4 0 -1 1 -1.6 0 -1 1 -1.4z" fill="#ffb900"/>
<path d="M471.1 50.2l188.7 0 0 378.4 -2 -1 -1.6 0 -2 -1 -1.4 0 -2 -1 -1.6 0 -2 -1 -1.4 0 -2 -1 -1.6 0 -2 -1 -1.4 0 -2 -1 -1.6 0 -2 -1 -1.4 0 -2 -1 -1.6 0 -2 -1 -1.4 0 -2 -1 -1.6 0 -2 -1 -1.4 0 -2 -1 -1.6 0 -2 -1 -1.4 0 -2 -1 -1.6 0 -2 -1 -1.4 0 -0.6 -0.5 -7 -1.7 -0.4 -0.5 -1.6 0 -0.4 -0.5 -1.6 0 -0.4 -0.5 -1.6 0 -0.4 -0.5 -1.6 0 -0.4 -0.5 -1.6 0 -0.4 -0.5 -1.6 0 -0.4 -0.5 -1.6 0 -2 -1 -1 0 -1.1 -1.1 0.5 -18 -0.5 -23 -2.2 -19 -2.4 -12 -7.6 -27.6 -10.1 -29.6 -10 -23.8 -4.9 -10 -5.3 -9.6 -18.1 -28 -5.3 -7 -11.2 -12.4 -13.6 -12.6 -8.2 -6.3 -9 -6.3 -21 -12.6 -7 -3.5 -6.4 -2.7 -17 -5.1 -1 -0.6 -1.1 -1.3 -1.4 -4 -0.4 -3.6 1.6 -7 1 -2 1.2 -1.4 1.5 -0.6 7.1 1.1 7.9 0.4 4.6 -0.3 2.6 -0.6 4.4 -9 0 -1 1 -1.6 0 -1 1 -1.4 0 -1 1 -1.6 1.2 -3.4 1.5 -2.6 0 -1 1.5 -2.4 0 -1 1.5 -2.6 0 -1 1.5 -2.4 0 -1 1.5 -2.6 0 -1 1.5 -2.4 0 -1 2 -3.6 0 -1 2 -3.4 0 -1 4 -8 0.1 -1 2.5 -4.6z" fill="#ffa300"/>
<path d="M487.7 50.8l0.5 -0.6 171.6 0 0 362.4 -1 0 -0.6 -0.5 -2 0 -0.4 -0.5 -1.6 0 -0.4 -0.5 -2 0 -0.6 -0.5 -1.4 0 -0.6 -0.5 -2 0 -0.4 -0.5 -1.6 0 -0.4 -0.5 -2 0 -0.6 -0.5 -1.4 0 -0.6 -0.5 -2 0 -0.4 -0.5 -1.6 0 -0.4 -0.5 -2 0 -0.6 -0.5 -1.4 0 -0.6 -0.5 -2 0 -0.4 -0.5 -1.6 0 -0.4 -0.5 -1.6 0 -6.4 -1.7 -1.6 0 -0.4 -0.5 -2 0 -0.6 -0.5 -2 0 -0.4 -0.5 -2 0 -0.6 -0.5 -2 0 -0.4 -0.5 -2 0 -0.6 -0.5 -2 0 -0.4 -0.5 -2 0 -0.6 -0.5 -2 0 -0.4 -0.5 -2 0 -0.6 -0.5 -2 0 -0.4 -0.5 -2 0 -0.6 -0.5 -4.4 -0.5 -2 -1 -1 0 -1.2 -1.1 -0.4 -23 -0.9 -12.6 -2.3 -17 -2.9 -12.4 -7.2 -25 -8.1 -24 -4 -10.8 -10.1 -23.2 -5.5 -10.4 -5.4 -9.3 -15.7 -23.9 -6.9 -8.8 -11.4 -12.3 -13 -11.6 -8.6 -6.5 -8 -5.5 -20 -12 -7 -3.5 -7 -3 -17.4 -5.2 -1 -0.7 -0.9 -1.3 -1.4 -5 0.4 -3.6 1.6 -5 1.3 -1.5 1 -0.5 24.4 3.8 5 0.4 3 -0.2z" fill="#ff8900"/>
<path d="M516.3 50.8l0.5 -0.6 143 0 0 351.6 -1 -0.5 -2 0 -0.6 -0.5 -2 0 -0.4 -0.5 -2 0 -0.6 -0.5 -2 0 -0.4 -0.5 -2 0 -0.6 -0.5 -2 0 -0.4 -0.5 -2 0 -0.6 -0.5 -2 0 -0.4 -0.5 -2 0 -0.6 -0.5 -2 0 -0.4 -0.5 -2 0 -0.6 -0.5 -2 0 -0.4 -0.5 -2 0 -0.6 -0.5 -2 0 -0.4 -0.5 -2 0 -0.6 -0.5 -2 0 -0.4 -0.5 -2 0 -0.6 -0.5 -2 0 -0.4 -0.5 -2 0 -0.6 -0.5 -2 0 -0.4 -0.5 -2 0 -0.6 -0.5 -2 0 -0.4 -0.5 -2 0 -0.6 -0.5 -2 0 -0.4 -0.5 -2 0 -0.6 -0.5 -2 0 -0.4 -0.5 -2 0 -0.6 -0.5 -2 0 -0.4 -0.5 -2 0 -0.6 -0.5 -2.4 -0.5 -1.1 -1.1 -1.2 -22.4 -2.4 -18.6 -2.6 -11.4 -7 -24 -10.6 -31 -8.7 -21.6 -8.4 -17.4 -8.9 -15 -14.3 -21.6 -7 -9 -12.4 -13 -14 -12.3 -16 -11.4 -20.4 -12 -12.6 -5.6 -17.4 -5.2 -1.6 -1.9 -1.1 -5 1.4 -5.6 1.3 -1.8 1 -0.5 18.4 3.8 19.6 5 3.4 0.6 3 0 1.6 -1.5 0 -0.6 1 -1 0 -0.5 1 -0.9 0 -0.6 1 -1 0 -0.4 1 -1 0 -0.6 1 -1 0 -0.5 1 -1 0 -0.5 1 -1 0 -0.4 1 -1 0 -0.6 1 -1 0 -0.4 1 -1.1 0 -0.5 1 -1 0 -0.4 1 -1 0 -0.6 1 -1 0 -0.4 1 -1 0 -0.6 1 -1 0 -0.5 1 -0.9 0 -0.6 1 -1 0 -0.4 1 -1 0 -0.6 1 -1 0 -0.5 1 -1 0 -0.5 1 -1 0 -0.4 1 -1 0 -0.6 1 -1 0 -0.4 1 -1 0 -0.6 1 -1 0 -0.4 1 -1 0 -0.6 1 -1 0 -0.4 1 -1 0 -0.6 1 -1 0 -0.5 1 -0.9 0 -0.6 1 -1 0 -0.4 1 -1 0 -0.6 1 -1 0 -0.4 1 -1.1 0 -0.5 1 -1 0 -0.4 1 -1 0 -0.6 1 -1 0 -0.4 1 -1 0 -0.6 1 -1 0 -0.4 1 -1 0 -0.6 1 -1 0 -0.4 1 -1.1 0 -0.5 1 -1 0 -0.4 1 -1 0 -0.6 1 -1 0 -0.4 1 -1 0 -0.6 1 -1 0 -0.4z" fill="#ff7300"/>
<path d="M537.2 50.2l122.6 0 0 335.2 -3 0 -0.6 -0.5 -3 0 -0.4 -0.5 -3 0 -0.6 -0.5 -3 0 -0.4 -0.5 -3 0 -0.6 -0.5 -3 0 -0.4 -0.5 -3 0 -0.6 -0.5 -3 0 -0.4 -0.5 -3 0 -0.6 -0.5 -3 0 -0.4 -0.5 -3 0 -0.6 -0.5 -3 0 -0.4 -0.5 -3 0 -0.6 -0.5 -3 0 -0.4 -0.5 -3 0 -0.6 -0.5 -3 0 -0.4 -0.5 -3 0 -0.6 -0.5 -3 0 -0.4 -0.5 -3 0 -0.6 -0.5 -4.4 -0.5 -0.6 -0.5 -2.4 -0.4 -1.3 -1.3 -2 -19.4 -1.6 -10 -1.8 -8 -8.7 -29 -10.4 -29.6 -9.9 -24 -7.6 -15.4 -8 -13.6 -15 -22.4 -8.7 -11 -10 -10.8 -12.1 -10.8 -11.9 -9.2 -15 -9.6 -15 -8.4 -12 -5 -16 -4.5 -1.5 -2.3 -0.6 -3 0.5 -2.8 1 -2.5 1.6 -1.3 23 5.6 8.4 2.8 18 6.8 7.6 1.7 1.4 -2.7 1 -1 0 -0.6 1 -1 0 -0.4 1 -1 0 -0.6 1 -1 0 -0.4 1 -1 0 -0.6 1 -1 0 -0.4 1 -1 0 -0.6 1 -1 0 -0.4 1 -1 0 -0.6 1 -1 0 -0.4 1 -1 0 -0.6 1 -1 0 -0.4 1 -1 0 -0.6 1 -1 2 -3.4 4 -5.6 0 -0.4 1.5 -1.6 1 -2 1.5 -1.4 1 -2 1.5 -1.6 1 -2 1.5 -1.4 1 -2 1.5 -1.6 1 -2 1.5 -1.4 1 -2 1.5 -1.6 1 -2 1.5 -1.4 1 -2 1.5 -1.6 1 -2 1.5 -1.4 1 -2 1.5 -1.6 1 -2 1.5 -1.4 1 -2 1.5 -1.6 1 -2 1.5 -1.4 0 -0.6 2.5 -3 0 -0.4 2.5 -3z" fill="#ff5900"/>
<path d="M572 50.8l0.5 -0.6 87.3 0 0 318.1 -4.6 0 -0.4 -0.5 -5 0 -0.6 -0.5 -5 0 -0.4 -0.5 -5 0 -0.6 -0.5 -5 0 -0.4 -0.5 -5 0 -0.6 -0.5 -5 0 -0.4 -0.5 -5 0 -0.6 -0.5 -5 0 -0.4 -0.5 -8.6 -0.5 -0.4 -0.5 -3 0 -0.6 -0.5 -3 0 -0.4 -0.4 -4.6 -0.5 -0.4 -0.5 -2.6 -0.5 -1.4 -1.1 -3.3 -17.5 -3.1 -12 -8.3 -26 -13 -35 -8 -18.6 -7.8 -15.4 -7.2 -12 -15.8 -23.6 -9.4 -11.4 -10.1 -10.6 -11.6 -10.2 -12.4 -9.4 -13.6 -8.6 -14.4 -8.1 -12.6 -5.1 -16 -4.5 -1 -0.8 -0.6 -1.7 -0.2 -1.6 0.8 -3 0.6 -1.1 1 -0.7 15.4 3.8 9.6 3 8 3 32.2 14.6 7.8 2.8 4.1 -4.4 0 -0.4 3.1 -3.6 0 -0.4 6 -7 0 -0.6 2 -2 0 -0.4 2 -2 0 -0.6 2 -2 0 -0.4 2 -2 0 -0.6 2 -2 0 -0.4 2 -2 0 -0.6 8 -9.4 0 -0.6 2 -2 0 -0.4 2 -2 0 -0.6 2 -2 0 -0.4 8 -9.6 0 -0.4 2 -2 0 -0.6 2 -2 0 -0.4 2 -2 0 -0.6 2 -2 0 -0.4 2 -2 0 -0.6 2 -2 0 -0.4 2 -2 0 -0.6 2 -2 0 -0.4 2 -2 0 -0.6 2 -2 0 -0.4 2 -2 0 -0.5 2 -2.1 0 -0.4 8 -9.6z" fill="#ff4200"/>
<path d="M619.1 50.8l0.5 -0.6 40.2 0 0 294.3 -73.6 0.2 -3.6 -12.5 -10.7 -31.4 -10.2 -27 -10.3 -24 -6.4 -13 -6 -10.6 -20.7 -30.4 -9.2 -11 -10.2 -10.6 -11.1 -9.6 -13.6 -10 -13.9 -8.8 -12.1 -6.7 -12.4 -5.1 -16.6 -4.5 -0.4 -0.4 -0.6 -1.3 0.6 -2 1 -0.9 14.9 3.9 13.6 4.4 19.3 8.6 19.6 9.7 16.6 9.2 4 1.4z" fill="#ff2c00"/>
<path d="M659.4 117.2l0.4 -0.3 0 205 -1 0 -0.6 0.5 -7.4 0 -0.6 0.5 -7 0 -0.4 0.5 -7 0 -0.6 0.5 -12.4 0.5 -0.6 0.4 -10.4 0.5 -0.6 0.5 -4 0 -0.4 0.5 -20.6 0.2 -0.6 1.7 -0.8 0.8 -3 -7.1 -16.5 -43.7 -6.7 -16 -10 -22 -5.1 -9.4 -5.8 -9.6 -16.5 -24.2 -6.5 -8.2 -6.6 -7.6 -8.3 -8.4 -10.6 -9.4 -8 -6.4 -11.9 -8.8 -0.9 -1 2.8 0.5 4.5 1.5 12.5 5.7 9 5 15.6 10.1 3.4 2.7 5 4.9 18 20.1 0.8 0.1 -0.3 0.4 1.1 1.2 1 0.1 1.4 -1 0.6 0 1 -1 0.4 0 1 -1 0.6 0 1 -1 0.4 0 1 -1 0.6 0 1 -1 0.4 0 1 -1 0.6 0 1 -1 0.4 0 1 -1 0.6 0 1 -1 0.4 0 1 -1 0.6 0 1 -1 0.4 0 1 -1 0.6 0 1 -1 0.4 0 1 -1 3.6 -2 5.4 -4.1 2 -1 1.6 -1.5 2 -1 1.4 -1.5 2 -1 1.6 -1.5 2 -1 1.4 -1.5 2 -1 1.6 -1.5 2 -1 1.4 -1.5 2 -1 1.6 -1.5 2 -1 1.4 -1.5 2 -1 1.6 -1.5 2 -1 1.4 -1.5 2 -1 1.6 -1.5 2 -1 1.4 -1.5 2 -1 1.6 -1.5 2 -1 1.4 -1.5 2 -1 1.6 -1.5 2 -1 1.4 -1.5 2 -1 1.6 -1.5 2 -1 1.4 -1.5 2 -1 1.6 -1.5 2 -1 1.4 -1.5 2 -1 1.6 -1.5 2 -1 1.4 -1.5 2 -1 1.6 -1.5 0.4 0 3 -2.5z" fill="#fe1200"/>
<path d="M490.5 160.2l1.3 0.1 3.4 1.4 7.8 4.5 9.2 6.5 7 6.1 8 8.2 8.9 10.2 7.5 10 6.3 9.6 6.6 11.4 6.4 13 4.6 10.6 4.4 12 4.1 13.4 4.8 19 1.7 10 0.1 3.6 -0.4 2 -0.4 0.1 -0.6 -0.5 -1.4 -3 -14.7 -35.6 -10.8 -24.6 -6.4 -13 -6 -10.4 -17.4 -26 -5.6 -7.6 -11.7 -13.7 -15.5 -15.3 -1.2 -1.4z" fill="#e30000"/>
<path d="M508.2 174.2l0.6 -0.4 2 0.9 5.4 4 6.6 5.9 8 8.4 6 7.1 5.2 7.1 9.8 15.6 9.6 18.4 7.1 17 3.3 10 3 10.9 2 9.2 0.2 2.9 -0.2 0.9 -1 -1.2 -2 -3.8 -19.9 -44.4 -8.5 -15.9 -6.2 -10 -15 -22z" fill="#c30000"/>
<path d="M525.6 191.2l0.6 0 3.6 3.1 7 8 8 11.4 7.4 12.5 6.6 12.4 5.4 12.1 4.6 13 0.7 3.5 -0.3 1.1 -3.4 -5.9 -9.9 -21.2 -7 -13.4 -7.4 -12 -11.3 -16.5z" fill="#a80000"/>
<g transform="rotate(6 419 131)"><rect x="409.3" y="122.5" width="15" height="14.5" rx="1.5" fill="#ff7a00" opacity="0.75"/><rect x="415.3" y="125.5" width="8.8" height="11" rx="1" fill="#a00000"/></g>
</g></g>
<use href="#hl" fill="#fff"/>
<use href="#sp" fill="#fff"/>
</g>
</g>
<g transform="translate(1087.4,0)">
<g clip-path="url(#ax)">
<use href="#mk" fill="#00007f"/>
<g clip-path="url(#dd)"><g filter="url(#bl)">
<path d="M306.8 63.2L309.6 64.5L312.4 65.7L315.3 67L318.1 68.2L320.9 69.4L323.7 70.6L326.6 71.8L329.4 72.9L332.3 74.1L335.1 75.3L338 76.4L340.9 77.5L343.7 78.6L346.6 79.8L349.5 80.9L352.4 82L355.2 83L358.1 84.1L361 85.2L363.9 86.3L366.8 87.3L369.7 88.4L372.6 89.5L375.5 90.5L378.4 91.6L381.3 92.6L384.2 93.7L387.1 94.7L390 95.8L392.9 96.8L395.7 97.9L398.6 98.9L401.5 100L404.4 101L407.3 102.1L410.2 103.1L413.1 104.2L416 105.3L418.9 106.3L421.8 107.4L424.6 108.5L427.5 109.6L430.4 110.7L433.2 111.9L436 113.1L438.9 114.3L441.6 115.5L444.4 116.8L447.1 118.2L449.8 119.6L452.5 121.1L455.2 122.6L457.8 124.2L460.3 125.9L462.9 127.6L465.4 129.3L467.9 131L470.4 132.8L473 134.6L475.5 136.4L478 138.2L480.4 140.1L482.9 141.9L485.4 143.8L487.8 145.6L490.3 147.5L492.7 149.4L495.1 151.4L497.5 153.3L499.9 155.3L502.2 157.3L504.6 159.3L506.9 161.4L509.2 163.5L511.4 165.6L513.6 167.7L515.8 169.9L518 172.1L520.1 174.3L522.2 176.5L524.3 178.8L526.4 181.1L528.4 183.4L530.4 185.8L532.3 188.2L534.2 190.6L536.1 193L538 195.5L539.8 197.9L541.6 200.4L543.4 202.9L545.1 205.5L546.8 208.1L548.5 210.6L550.2 213.3L551.8 215.9L553.3 218.5L554.9 221.2L556.4 223.9L557.8 226.6L559.3 229.3L560.7 232.1L562.1 234.8L563.4 237.6L564.7 240.4L566 243.2L567.2 246L568.4 248.8L569.6 251.7L570.7 254.6L571.8 257.4L572.8 260.3L573.9 263.2L574.8 266.1L575.8 269.1L576.7 272L577.6 275L578.4 277.9L579.2 280.9L580 283.9L580.7 286.9L581.4 289.9L582 292.9L582.6 295.9L583.2 298.9L583.7 301.9L584.2 304.9L584.7 308L585.1 311L585.4 314.1L585.8 317.1L586.1 320.2L586.3 323.2L586.5 326.3L586.7 329.4L586.8 332.4L586.9 335.5L587 338.6L587 341.6L587 344.7L586.9 347.8L586.8 350.8L586.6 353.9L586.4 357L586.2 360L585.9 363.1L585.6 366.1L585.3 369.2L584.9 372.3L584.5 375.3L584 378.3L583.5 381.4L583 384.4L582.4 387.4L581.8 390.5L581.1 393.5L580.5 396.5L579.7 399.5L579 402.4L578.2 405.4L577.3 408.4L576.5 411.4L575.6 414.3L574.6 417.2L573.6 420.2L572.6 423.1L571.6 426L570.5 428.9L569.4 431.8L568.2 434.6L567.1 437.5L565.8 440.3L564.6 443.1L563.3 446L562 448.7L560.6 451.5L559.3 454.3L557.8 457L556.4 459.8L554.9 462.5L553.4 465.2L551.8 467.8L550.3 470.5L548.7 473.1L547 475.7L545.4 478.3L543.7 480.9L541.9 483.4L540.2 486L538.4 488.5L536.6 491L534.7 493.4L532.8 495.9L530.9 498.3L529 500.7L527 503L525 505.4L523 507.7L520.9 510L518.9 512.2L516.8 514.4L514.6 516.7L512.5 518.8L510.3 521L508.1 523.1L505.8 525.2L503.6 527.2L501.3 529.3L499 531.3L496.6 533.3L494.3 535.2L491.9 537.1L489.5 539L487.1 540.9L484.6 542.7L482.2 544.6L479.7 546.4L477.2 548.1L474.6 549.9L472.1 551.6L469.6 553.3L467 555L464.4 556.7L461.8 558.3L459.2 560L456.5 561.6L453.9 563.2L451.2 564.7L448.6 566.3L445.9 567.8L443.2 569.4L440.5 570.9L437.8 572.4L435.1 573.8L432.4 575.3L429.6 576.8L426.9 578.2L424.1 579.6L421.4 581.1L418.6 582.5L415.9 583.9L413.1 585.3L410.4 586.6L407.6 588L404.8 589.4L402.1 590.7L399.3 592.1L396.5 593.4L393.8 594.7L391 596.1L388.2 597.4L385.5 598.7L382.7 600.1L380 601.4L377.2 602.7L374.5 604L371.7 605.3L369 606.6L366.3 607.9L338 612.8L336 615.6L336 647.2L203.3 594.8L203.3 504.9L202.6 500.9L201.9 496.8L201.2 492.8L200.5 488.7L199.9 484.6L199.2 480.6L198.5 476.5L197.8 472.4L197.1 468.3L196.4 464.2L195.7 460.1L195 456L194.3 451.9L193.7 447.8L193 443.6L192.4 439.5L191.7 435.4L191.1 431.3L190.5 427.1L190 423L189.4 418.8L188.8 414.7L188.3 410.6L187.8 406.4L187.4 402.3L186.9 398.1L186.5 394L186.1 389.8L185.7 385.7L185.4 381.5L185.1 377.4L184.8 373.3L184.6 369.1L184.4 365L184.2 360.8L184.1 356.7L184 352.6L184 348.4L184 344.3L184.1 340.2L184.2 336L184.3 331.9L184.4 327.8L184.6 323.7L184.9 319.5L185.1 315.4L185.4 311.3L185.7 307.2L186.1 303.1L186.5 298.9L186.8 294.8L187.3 290.7L187.7 286.6L188.1 282.5L188.6 278.3L189.1 274.2L189.6 270.1L190.1 266L190.6 261.8L191.2 257.7L191.7 253.6L192.2 249.4L192.8 245.3L193.3 241.1L193.9 237L194.4 232.9L195 228.7L195.5 224.5L196.1 220.4L196.6 216.2L197.1 212L197.7 207.9L198.2 203.7L198.8 199.5L199.3 195.4L200 191.2L200.6 187.1L201.3 183L202 178.9L202.8 174.8L203.6 170.7L204.5 166.7L205.5 162.7L206.6 158.7L207.7 154.7L208.9 150.8L210.2 146.9L211.6 143.1L213.2 139.3L214.8 135.5L216.5 131.8L218.4 128.1L220.4 124.5L222.6 120.9L224.8 117.5L227.2 114.1L229.8 110.9L232.4 107.7L235.2 104.6L238.1 101.7L241.1 98.8L244.3 96.1L247.5 93.5L250.8 90.9L254.2 88.5L257.7 86.2L261.3 84L264.9 81.9L268.6 79.8L272.3 77.9L276.1 76L279.9 74.2L283.7 72.4L287.5 70.7L291.3 69.1L295.2 67.6L299 66.1L302.8 64.6Z" fill="#00007f"/>
<path d="M294 50.2l365.8 0 0 659.6 -215.5 0 -1.5 -1.6 0 -0.4 -13 -13 0 -0.6 -2 -2 -0.6 0 -18 -18 -0.4 0 -4 -4 -0.6 0 -3 -3 -0.4 0 -8.6 -7.5 -0.4 0 -2.1 -2 -0.5 0 -2.4 -2.5 -0.6 0 -1.4 -1.5 -0.6 0 -2 -2 -0.4 0 -2.1 -2 -0.5 0 -1.4 -1.5 -0.6 0 -4 -3.5 -0.4 0 -5.6 -5 -0.4 0 -3 -3 -0.6 0 -2.4 -2.5 -0.6 0 -2.4 -2.7 -0.6 0 -3 -3 -0.4 0 -3 -3 -0.6 -0.1 -3 -3 -0.4 0 -6.3 -5.6 -0.7 -2 -2 -2 -10.9 -2 -10.1 -1.3 -28 -0.2 -6 -0.4 -5.6 -1 -28.3 -7.7 -27.7 -6.5 -9.4 -3.8 -8 -5 -103.6 0 0 -388.1 1 0 0.5 0.5 3.5 0 0.5 0.5 3.5 0 0.6 0.5 3.4 0 0.6 0.5 3.4 0 0.6 0.5 3.4 0 0.6 0.5 3.4 0 0.6 0.5 3.4 0 0.6 0.5 3.4 0 0.6 0.5 3.4 0 0.6 0.5 3.4 0 0.6 0.5 3.4 0 0.6 0.5 3.4 0 0.6 0.5 3.4 0 0.6 0.5 3.4 0 0.5 0.5 3.5 0 0.6 0.5 3.4 0 0.5 0.5 3.5 0 0.6 0.5 3.4 0 0.6 0.5 3.4 0 0.6 0.5 3.4 0 0.6 0.5 16 0.2 0 -1.2 -0.6 -0.1 1 0 6 -15.4 3.6 -8 6.1 -11 5.9 -8.6 6.4 -7 13 -12.5 6 -5.1 12.9 -9.8 6.8 -6.6 11.9 -12.8 28.4 -34.2 0.5 -1.4 -0.2 -1 -3.1 -4.6 -1.4 -3 -1 -1 -4 -8 0 -1 -1 -1.4 0 -1 -1 -1.6z" fill="#00008d"/>
<path d="M296.8 50.2l363 0 0 659.6 -215.5 0 -1.5 -1.6 0 -0.4 -13 -13 0 -0.6 -2 -2 -0.6 0 -18 -18 -0.4 0 -4 -4 -0.6 0 -3 -3 -0.4 0 -8.6 -7.5 -0.4 0 -2 -2 -0.6 0 -2.4 -2.5 -0.6 0 -1.4 -1.5 -0.6 0 -2 -2 -0.4 0 -2 -2 -0.6 0 -1.4 -1.5 -0.6 0 -4 -3.5 -0.4 0 -14.9 -12.9 -0.6 -1 0 -2.6 -0.5 -0.4 0 -2.6 -0.5 -0.4 -0.5 -5.6 -0.5 -0.4 0 -2.6 -0.5 -0.4 -0.5 -3.6 -0.9 -1.4 -0.2 -3 -14 -3.3 -19.8 -2.7 -6.2 -0.6 -19 -0.6 -11.4 -1.4 -41 -10.2 -12 -2.5 -8.6 -2.7 -7 -3.5 -6 -4.5 -4.4 -4.9 -103.6 0 0 -359.4 6 0.5 0.6 0.5 3 0 0.4 0.5 3 0 0.6 0.5 3 0 0.4 0.5 3 0 0.6 0.5 3 0 0.4 0.5 3 0 0.6 0.5 3 0 0.4 0.5 3 0 0.6 0.5 3 0 0.4 0.5 3 0 0.6 0.5 3 0 0.4 0.5 3 0 0.6 0.5 3 0 0.4 0.5 3 0 0.6 0.5 3 0 0.4 0.5 3 0 0.6 0.5 3 0 0.4 0.5 3 0 0.6 0.5 3 0 0.4 0.5 3 0 0.6 0.5 3 0 0.4 0.5 3 0 0.6 0.5 2.4 0 0.6 0.4 9 0.4 15.3 -37.1 5.9 -11 5.8 -8.4 6.8 -7.6 12.7 -12 7.3 -6 13.2 -9.5 7.4 -6.9 8.5 -9.6 31.4 -38 0.4 -1.4 -0.7 -2 -3 -3.7 -3.6 -2.5 -1.7 -2.8 -0.2 -3 -0.5 -0.6 0 -1 -0.5 -0.4 0 -1 -0.5 -0.6 -0.5 -2.4 -0.5 -0.6 -1 -4z" fill="#00009a"/>
<path d="M296.8 50.2l363 0 0 659.6 -215.5 0 -1.5 -1.6 0 -0.4 -13 -13 0 -0.6 -2 -2 -0.6 0 -18 -18 -0.4 0 -4 -4 -0.6 0 -3 -3 -0.4 0 -8.6 -7.5 -0.4 0 -2 -2 -0.6 0 -2.4 -2.5 -0.6 0 -1.4 -1.5 -0.6 0 -2 -2 -0.4 0 -2 -2 -0.6 0 -1.4 -1.5 -0.6 0 -4 -3.5 -0.4 0 -14.8 -12.9 -0.6 -1 0 -2.6 -0.5 -0.4 0 -2.6 -0.5 -0.4 0 -2.6 -0.5 -0.4 -0.5 -5.6 -0.4 -0.4 0 -1.6 -0.4 -0.4 0 -1.6 -0.4 -0.4 0.4 -4 2 -6.6 -0.8 -1.3 -17.8 -2.7 -20.8 -2.2 -20 -1.6 -12.4 -1.7 -33 -8.2 -21.6 -6 -5 -2.1 -4.4 -2.6 -3.8 -3 -3.2 -3.5 -2.7 -3.5 -2.5 -4.6 -4.8 -12.5 -103.6 0 0 -317.3 1.1 0 0.5 0.5 3.4 0 0.6 0.5 3.4 0 0.6 0.5 3.4 0 0.6 0.5 3.4 0 0.6 0.5 3.4 0 0.6 0.5 3.4 0 0.6 0.5 3.4 0 0.6 0.5 3.4 0 0.6 0.5 3.4 0 0.6 0.5 3.4 0 0.6 0.5 3.4 0 0.6 0.5 3.4 0 0.6 0.5 3.4 0 0.6 0.5 3.4 0 0.6 0.5 3.4 0 0.6 0.5 3.4 0 0.6 0.5 3.4 0 0.6 0.5 3.4 0 0.6 0.5 3.4 0 0.6 0.5 3.4 0 0.6 0.4 2.4 0 0.6 0.3 9 0 4.5 -9.9 16.3 -38.4 5.9 -11 5.7 -8.6 6.6 -7.4 12.8 -12 7.2 -5.8 14 -10.1 8.8 -8.1 7.2 -8 15.9 -20 16.7 -19 0.4 -2 -1.6 -2.6 -7.4 -6.1 -3 -1.7 -1.6 -1.8 -0.6 -1.4 -0.3 -2.4 -0.5 -0.6 -1 -3.9 -0.5 -0.5 0 -1 -0.5 -0.6 0 -0.9 -0.5 -0.5 0 -1 -0.5 -0.6 0 -0.9z" fill="#0000a3"/>
<path d="M296.9 50.2l362.9 0 0 659.6 -215.5 0 -1.5 -1.6 0 -0.4 -13 -13 0 -0.6 -2 -2 -0.6 0 -18 -18 -0.4 0 -4 -4 -0.6 0 -3 -3 -0.4 0 -8.5 -7.5 -0.5 0 -2 -2 -0.5 0 -2.5 -2.5 -0.6 -0.1 -1.4 -1.5 -0.6 0 -2 -2 -0.4 0 -2 -2 -0.6 0 -1.4 -1.5 -0.6 0 -4 -3.5 -0.5 0 -14.6 -12.8 -0.5 -1 0 -2.6 -0.5 -0.4 0 -2.6 -0.5 -0.4 0 -2.6 -0.5 -0.4 0 -2.6 -0.5 -0.4 0 -2.6 -0.4 -0.4 -0.2 -6 0.8 -3 0.8 -2 1.2 -1.6 2 -1.6 4 -2.1 5.4 -4.3 2 -2 0.4 -0.4 -0.4 -0.5 -16.4 -0.3 -16.6 -1 -33 -3 -12.4 -1.7 -13 -2.5 -20 -5.4 -12.6 -3.9 -11 -4.2 -5 -2.5 -4 -2.9 -4 -4.1 -3.3 -4.6 -4.8 -9 -7.6 -19 -3.7 -7.9 -103.6 0 0 -281.6 6 0.5 0.6 0.5 3 0 0.4 0.5 3 0 0.6 0.5 3 0 0.4 0.5 3 0 0.6 0.5 3 0 0.4 0.5 3 0 0.6 0.5 3 0 0.4 0.5 3 0 0.6 0.5 3 0 0.4 0.5 3 0 0.6 0.5 3 0 0.4 0.5 3 0 0.6 0.5 3 0 0.4 0.5 3 0 0.6 0.5 3 0 0.4 0.5 3 0 0.6 0.5 3 0 0.4 0.5 3 0 0.6 0.5 3 0 0.4 0.5 3 0 0.6 0.5 3 0 0.4 0.5 5.6 0.4 0.4 0.5 1.6 0 0.4 0.4 4 0.2 8.9 -18.5 11.1 -26.4 6.3 -14 5.7 -10.6 5.6 -8.4 6.6 -7.6 11.8 -11 7 -5.7 15.4 -11.3 9.6 -8.5 6 -6.6 17 -21.5 17.6 -18.4 0.4 -1 -0.3 -1.4 -2.1 -2.5 -12 -8.8 -2.6 -1.2 -1.4 -1.4 -1 -1.7 -0.4 -2.4 -0.5 -0.6 0 -1 -1 -2 -0.5 -2.4 -0.5 -0.6 -0.5 -2.4 -0.5 -0.6 -0.5 -2.4z" fill="#0000b1"/>
<path d="M296.9 50.2l362.9 0 0 659.6 -215.5 0 -1.5 -1.6 0 -0.4 -12.9 -13 0 -0.6 -2.1 -2.1 -0.6 0 -18 -18 -0.4 0 -4 -4 -0.6 0 -3 -3 -0.4 0 -8.6 -7.5 -0.4 0 -2 -2 -0.6 0 -2.4 -2.5 -0.6 0 -1.4 -1.5 -0.6 0 -4.4 -4 -0.6 0 -1.4 -1.5 -0.6 0 -2 -2 -0.4 0 -1.6 -1.5 -0.4 0 -2.6 -2.5 -0.4 0 -6 -5.6 -0.6 0 -2.4 -2.7 -0.6 0 -2 -2 -0.5 -1 -0.5 -5.6 -0.5 -0.4 -0.5 -5.6 -0.5 -0.4 0 -3 0 -6 1.9 -5 2.2 -2.1 4.1 -1.9 17.4 -11 5 -4 2 -2.6 -0.5 -0.4 -7.6 0.2 -22 1.9 -10 0.4 -13 -0.2 -16 -1.2 -18 -2.1 -14.4 -2.6 -18.6 -4.9 -13.1 -4.5 -8.3 -3.9 -6.6 -3.8 -5 -3.9 -4.4 -4.7 -3.8 -5.3 -3.5 -6 -11.9 -24 -7.8 -11.9 -4 0.3 -0.6 0.4 -1.4 0 -0.6 0.4 -2.4 0 -0.6 0.5 -2.4 0 -0.6 0.5 -7.4 0.5 -0.6 0.5 -9.4 0.4 -0.6 0.5 -5.4 0 -0.6 0.5 -5.4 0 -0.6 0.5 -6 0 -1 0.5 -6 0.1 -0.4 0.5 -4.6 0 -0.4 0.5 -11 0.5 -0.6 0.5 -12 0.5 -0.4 0.5 -6 0.1 -0.6 0.5 -5.4 0 -0.6 0.4 -5 0 -1 0.5 0 -260.4 1.6 0 0.4 0.5 3.6 0 0.4 0.5 3.6 0 0.4 0.5 3.6 0 0.4 0.5 3.6 0 0.4 0.5 3.6 0 0.4 0.5 3.6 0 0.4 0.5 3.6 0 0.4 0.5 3.6 0 0.4 0.5 3.6 0 0.4 0.5 3.6 0 0.4 0.5 3.6 0 0.4 0.5 3.6 0 0.4 0.5 3.6 0 0.4 0.5 3.6 0 0.4 0.5 3.6 0 0.4 0.5 3.6 0 0.4 0.5 3.6 0 0.4 0.5 3.6 0 0.4 0.5 3.6 0 0.4 0.4 2.6 0 0.4 0.4 9 0.1 5.9 -13.6 8.7 -18.6 9.2 -21.4 8.1 -18 5.6 -10.6 5.3 -8 6.8 -7.7 10.4 -9.9 7.6 -6.1 17 -12.7 9.4 -8.1 5.4 -5.9 11.5 -15 6.1 -7.3 6.6 -6.7 11 -9.5 1.4 -1.9 0.2 -1.2 -0.6 -1.4 -2.9 -3 -16.1 -10.8 -2.6 -1.1 -1.2 -1.1 -1.6 -3 0 -1 -0.5 -0.6 -0.5 -2.4 -0.5 -0.6 0 -1 -0.5 -0.4 0 -1 -0.5 -0.6 0 -1 -0.5 -0.4 -0.5 -2.6z" fill="#0000bf"/>
<path d="M297 50.2l362.8 0 0 659.6 -215.4 0 -1.5 -1.6 0 -0.4 -13 -13 0 -0.5 -2.1 -2.2 -0.5 0 -18.1 -18 -0.4 0 -4 -4 -0.6 0 -3 -3 -0.4 0 -8.6 -7.5 -0.4 0 -2 -2 -0.6 0 -2.4 -2.5 -0.5 0 -1.5 -1.5 -0.6 0 -2 -2 -0.4 0 -4 -3.5 -0.6 0 -4 -3.5 -0.4 0 -5.6 -5.1 -0.4 0 -3 -3.1 -0.6 0 -1.3 -1.6 -0.5 -4 -0.5 -0.6 0 -2 -0.5 -0.4 0 -2 -0.5 -0.6 0 -2 -0.5 -0.4 0 -2 -0.5 -0.6 0 -2 -0.5 -0.4 0 -2 -0.5 -0.6 -0.5 -3.4 -0.8 -1.6 0.2 -2 1.4 -3.1 2.6 -2.3 3.4 -1.5 11.5 -6.5 14 -9 8.4 -7 1.7 -2.6 0 -1.1 -7.6 -0.8 -6 -0.1 -22.4 3.6 -11.6 1.3 -12.4 0.6 -13.6 -0.4 -18 -1.9 -16.4 -2.9 -14.6 -3.8 -14 -4.9 -7.3 -3.6 -6.7 -4.1 -5.4 -4.4 -5 -5.2 -9 -12.5 -10.1 -17.8 -5.3 -8.4 -6.4 -9 -6.8 -8.4 -9 0.3 -0.4 0.5 -2.6 0 -0.4 0.5 -2.6 0 -0.4 0.5 -2.6 0 -0.4 0.5 -2.6 0 -0.4 0.5 -2.6 0 -0.4 0.5 -2.6 0 -0.4 0.5 -2.6 0 -0.4 0.5 -2.6 0 -0.4 0.5 -2.6 0 -0.4 0.5 -2.6 0 -0.4 0.5 -2.6 0 -0.4 0.5 -2.6 0 -0.4 0.5 -2.6 0 -0.4 0.5 -2.6 0 -0.4 0.5 -2.6 0 -0.4 0.5 -2.6 0 -0.4 0.5 -2.6 0 -0.4 0.5 -2.6 0 -0.4 0.5 -2.6 0 -0.4 0.5 -2.6 0 -0.4 0.5 -2.6 0 -0.4 0.5 -2.6 0 -0.4 0.5 -2.6 0 -0.4 0.5 -2.6 0 -0.4 0.5 -2.6 0 -0.4 0.5 -2.6 0 -0.4 0.5 -2.6 0 -0.4 0.5 -2.6 0 -0.4 0.5 -2.6 0 -0.4 0.5 -2.6 0 -0.4 0.5 -1.6 0 0 -238.6 1 0.5 4 0 0.6 0.5 4 0 0.4 0.5 4 0 0.6 0.5 4 0 0.4 0.5 4 0 0.6 0.5 4 0 0.4 0.5 4 0 0.6 0.5 4 0 0.4 0.5 4 0 0.6 0.5 4 0 0.4 0.5 4 0 0.6 0.5 4 0 0.4 0.5 4 0 0.6 0.5 4 0 0.4 0.5 4 0 0.6 0.5 7.4 0.5 0.6 0.5 2.4 0 0.6 0.4 2.4 0 0.6 0.4 2 0.4 4 0 10.6 -25 8.8 -19 17.4 -39.6 5 -9.4 5.2 -8 6.7 -8 9.5 -9 7.8 -6.3 20.1 -15.3 7.7 -6.4 4.6 -5.2 12.3 -15.8 6.5 -7.6 6.8 -6.4 11.6 -9 1.7 -2 0.1 -1.6 -0.7 -1.4 -3.8 -3.6 -6 -4 -17.5 -10.5 -1.7 -2.9 0 -1 -0.5 -0.6 0 -1 -0.5 -0.4 0 -1 -0.5 -0.6 0 -1 -0.5 -0.4 0 -1 -0.5 -0.6 0 -1 -0.5 -0.4 0 -1 -0.5 -0.6 0 -1z" fill="#0000c8"/>
<path d="M297 50.2l362.8 0 0 659.6 -215.4 0 -1.5 -1.6 0 -0.4 -13 -13 0 -0.6 -2.1 -2.1 -0.6 0 -18 -18 -0.4 0 -4 -4 -0.6 0 -3 -3 -0.4 0 -8.6 -7.5 -0.4 0 -2 -2 -0.6 0 -2.4 -2.5 -0.6 0 -1.4 -1.5 -0.6 0 -2 -2 -0.4 0 -2 -2 -0.6 0 -1.4 -1.5 -0.6 0 -4 -3.5 -0.4 0 -5.6 -5.1 -0.4 0 -3 -3.1 -0.6 0 -1.2 -1.6 -0.5 -4 -0.5 -0.6 0 -2 -0.5 -0.4 0 -2 -0.5 -0.6 0 -2 -0.5 -0.4 0 -2 -0.5 -0.6 0 -2 -0.5 -0.4 0 -2 -0.5 -0.6 0 -1.4 -0.4 -0.6 0 -1.4 -0.4 -0.6 0.1 -2.4 1.6 -3.6 2.2 -2 3.1 -1.4 18.6 -10.6 14.5 -9.4 5.7 -4.6 3.7 -3.4 1.7 -2.6 0.2 -1.4 -0.4 -0.4 -11 -1.3 -10.4 -0.3 -5 0.6 -19 3.7 -10.6 1.4 -12.4 0.9 -12.6 -0.1 -15.4 -1.6 -16 -2.9 -12.6 -3.3 -12.4 -4.5 -7.6 -3.6 -6.6 -4.2 -5.8 -4.7 -5.2 -5.3 -10.5 -13.4 -11.9 -19.3 -6.6 -9.7 -6.4 -8.4 -11 -13.3 -9 0.5 -0.4 0.5 -2.6 0 -0.4 0.5 -2.5 0 -0.5 0.5 -2.5 0 -0.5 0.5 -2.6 0 -0.4 0.5 -2.6 0 -0.4 0.5 -2.6 0 -0.4 0.5 -2.6 0 -0.4 0.5 -2.6 0 -0.4 0.5 -2.6 0 -0.4 0.5 -2.6 0 -0.4 0.5 -2.6 0 -0.4 0.5 -2.6 0 -0.4 0.5 -2.6 0 -0.4 0.5 -2.6 0 -0.4 0.5 -2.6 0 -0.4 0.5 -2.6 0 -0.4 0.5 -2.6 0 -0.4 0.5 -2.6 0 -0.4 0.5 -2.6 0 -0.4 0.5 -2.6 0 -0.4 0.5 -2.6 0.1 -0.4 0.4 -2.6 0.1 -0.4 0.4 -2.6 0.1 -0.4 0.4 -5.6 0.6 -0.4 0.5 -2.6 0 -0.5 0.5 -4.9 0.5 -0.6 0.5 -5 0.5 -1 0.5 0 -211 1.6 0 0.4 0.5 4.6 0 0.4 0.5 4.6 0 0.4 0.5 4.6 0 0.4 0.5 4.6 0 0.4 0.5 4.6 0 0.4 0.5 4.6 0 0.4 0.5 4.6 0 0.4 0.5 4.6 0 0.4 0.5 4.6 0 0.4 0.5 4.6 0 0.4 0.5 4.6 0 0.4 0.5 4.6 0 0.4 0.5 4.6 0 0.4 0.5 7.6 0.4 0.4 0.5 2.6 0 0.4 0.5 2.6 0 0.4 0.4 2 0.3 4 0.1 15.3 -37.6 9.7 -21 16.4 -37.6 4.6 -9 5.1 -7.9 6.6 -8.1 8.9 -8.5 8 -6.5 22.2 -17 5.9 -5 5.1 -5.4 12.9 -16.6 6.3 -7.1 6.6 -6 12.5 -8.9 2.3 -2.4 0.1 -1.6 -0.8 -1.4 -4.5 -4 -7.8 -5 -15.8 -9.5 -2 -0.7 -1.6 -1.1 -1.7 -2.7 -0.5 -2.6 -0.5 -0.4 0 -1 -0.5 -0.6 0 -1 -0.5 -0.4 0 -1 -0.5 -0.6 0 -1 -0.5 -0.4 0 -1 -0.5 -0.6 0 -1z" fill="#0000d5"/>
<path d="M297.1 50.2l362.7 0 0 659.6 -215.4 0 -1.5 -1.6 0 -0.4 -13 -13 0 -0.6 -2.1 -2.1 -0.6 0 -18 -18 -0.4 0 -4 -4 -0.6 0 -3 -3 -0.4 0 -8.6 -7.6 -0.4 0 -2 -2 -0.6 0 -2.4 -2.5 -0.6 0 -1.4 -1.5 -0.6 0 -4.4 -4 -0.6 0 -4 -3.5 -0.4 0 -1.6 -1.5 -0.4 0 -5.6 -5 -0.4 0 -3 -3.2 -0.6 0 -1 -1.1 -0.1 -2 -0.5 -0.4 0 -2 -0.5 -0.6 0 -2 -0.5 -0.4 0 -2 -0.5 -0.6 0 -2 -0.5 -0.4 0 -2 -0.5 -0.6 0 -2 -0.5 -0.4 0 -2 -0.5 -0.6 0 -1.4 -0.3 -0.5 0 -4.1 2 -4 2 -1.8 15 -8.2 11.9 -7 16.4 -11 5.1 -4 3.4 -3.4 1.8 -3 -0.2 -2 -4.4 -1 -7 -0.9 -15.6 -0.3 -7.4 0.8 -19 3.5 -11.6 1.6 -11.4 0.8 -11.6 0 -14 -1.5 -14.4 -2.7 -12 -3.3 -11 -4.3 -7.6 -3.8 -7 -4.5 -6 -5 -6.1 -6.4 -9.7 -12.6 -11.9 -18.4 -6.9 -10 -23.4 -29.5 -4 0.6 -0.4 0.4 -1.6 0 -0.4 0.5 -2.6 0 -0.4 0.5 -2.6 0 -0.4 0.5 -2.6 0 -0.4 0.5 -2.6 0 -0.4 0.5 -2.6 0 -0.4 0.5 -2.6 0 -0.4 0.5 -2.6 0 -0.4 0.5 -2.6 0 -0.4 0.5 -2.6 0 -0.4 0.5 -2.6 0 -0.4 0.5 -2.6 0 -0.4 0.5 -2.6 0 -0.4 0.5 -2.6 0 -0.4 0.5 -2.6 0 -0.4 0.5 -2.6 0 -0.4 0.5 -2.6 0 -0.4 0.5 -2.6 0 -0.4 0.5 -2.6 0 -0.4 0.5 -2.6 0 -0.4 0.5 -2.6 0 -0.4 0.5 -2.6 0 -0.4 0.5 -2.6 0 -0.4 0.5 -2.6 0 -0.4 0.5 -2.6 0 -0.4 0.5 -2.6 0 -0.4 0.5 -2.6 0 -0.4 0.5 -2.6 0 -0.4 0.5 -2.6 0 -0.4 0.5 -2.6 0 -0.4 0.5 -2.6 0 -1 0.5 0 -171.5 4.6 0 0.4 0.5 7.6 0 0.4 0.5 7.6 0 0.4 0.5 7.6 0 0.4 0.5 56 0.1 7 -20.6 13.3 -35 10.5 -23 16.6 -38 3.5 -7 4.1 -6.6 6.6 -8.2 8.4 -8.3 10 -8.2 21.6 -16.5 6.4 -5.6 6.5 -7.2 12.5 -16 6.6 -6.8 7.4 -6.1 11.6 -7.3 1.9 -2.2 0.1 -1.6 -1.1 -2 -5.5 -4.4 -8.8 -5.6 -17.6 -10.2 -3.1 -1.3 -2.1 -2.9 0 -1 -0.5 -0.6 0 -1 -0.5 -0.4 0 -1 -0.5 -0.6 0 -1 -0.5 -0.4 0 -1 -0.5 -0.6 0 -1 -0.5 -0.4 0 -1 -0.5 -0.6 0 -1z" fill="#0000de"/>
<path d="M297.2 50.2l362.6 0 0 659.6 -215.4 0 -1.5 -1.6 0 -0.4 -13 -13 0 -0.6 -2.1 -2.1 -0.6 0 -18 -18.1 -0.4 0 -4 -4 -0.6 0 -3 -3 -0.4 0 -8.6 -7.5 -0.4 0 -2 -2 -0.6 0 -2.4 -2.5 -0.6 0 -1.4 -1.5 -0.6 0 -4.4 -4 -0.6 0 -1.4 -1.5 -0.6 0 -2 -2 -0.4 0 -1.6 -1.5 -0.4 0 -8.2 -7.3 -0.8 -1.4 0 -2.6 -0.5 -0.4 0 -2.6 -0.5 -0.4 0 -2.6 -0.5 -0.4 0 -2.6 -0.5 -0.4 0 -2.6 -0.5 -0.4 -0.5 -5.6 -0.5 -0.4 -0.5 -3.6 -1.3 -2.4 1.5 -3 2.1 -2 26.6 -15 12.5 -8 10.2 -7 5.3 -4.6 3.2 -3.4 1.9 -3.6 -0.6 -2 -5.4 -1.2 -8 -1 -16.6 -0.3 -10.4 0.9 -20.6 3.5 -11 1.5 -11.4 0.7 -10.6 -0.1 -13 -1.4 -14 -2.8 -11.4 -3.4 -10.3 -4.4 -7.7 -4.3 -7.2 -5.1 -6.8 -6.3 -6.6 -7.3 -7 -9.3 -10.6 -16.7 -7.4 -10.4 -24 -30.4 -3.7 -6.2 -3.3 -7.3 -2 -0.1 -0.4 0.5 -1.6 0 -0.4 0.5 -1.6 0 -0.4 0.5 -5.6 0.5 -0.4 0.5 -3 0 -0.6 0.5 -3 0 -0.4 0.5 -3 0 -0.6 0.5 -3 0 -0.4 0.5 -3 0 -0.6 0.5 -3 0 -0.4 0.5 -3 0 -0.6 0.5 -3 0 -0.4 0.5 -3 0 -0.6 0.5 -3 0 -0.4 0.5 -3 0 -0.6 0.5 -3 0 -0.4 0.5 -3 0 -0.6 0.5 -3 0 -0.4 0.5 -3 0 -0.6 0.5 -3 0 -0.4 0.5 -3 0 -0.6 0.5 -3 0 -0.4 0.5 -3 0 -0.6 0.5 -3 0 -0.4 0.5 -3 0 -0.6 0.5 -3 0 -0.4 0.5 -3 0 -0.6 0.5 -1 0 0 -122.2 84 0 2.9 -13.4 4.6 -17 5.7 -18 9 -26 3.9 -9.4 10 -22.1 14.4 -33.9 3.2 -6.6 3.5 -6 6.7 -9 8.7 -8.7 9.4 -7.9 23 -17.8 6.9 -6 6.8 -7.6 11.8 -15 6.1 -6.3 7.4 -6 12.6 -7.7 2.5 -2.4 0.3 -1.6 -0.9 -2 -1.9 -2 -3.3 -2.4 -9.7 -6 -21 -12 -3 -1.4 -2.1 -2.6 -0.5 -2.6 -0.5 -0.4 0 -1 -0.5 -0.6 0 -1 -0.5 -0.4 0 -1 -0.5 -0.6 0 -1 -0.5 -0.4 0 -1 -0.5 -0.6 0 -1z" fill="#0000ec"/>
<path d="M297.2 50.2l362.6 0 0 659.6 -215.4 0 -1.5 -1.6 0 -0.4 -12.9 -13 0 -0.6 -2.2 -2.2 -0.6 0 -18 -18 -0.4 0 -4 -4 -0.6 0 -3 -3 -0.4 0 -8.6 -7.5 -0.4 0 -2 -2 -0.6 0 -2.4 -2.5 -0.6 0 -1.4 -1.5 -0.6 0 -4.4 -4 -0.6 0 -1.4 -1.5 -0.6 0 -2 -2 -0.4 0 -1.6 -1.5 -0.4 0 -8.2 -7.3 -0.7 -1.4 0 -2.6 -0.5 -0.4 0 -2.6 -0.5 -0.4 0 -2.6 -0.5 -0.4 0 -2.6 -0.5 -0.4 0 -2.6 -0.5 -0.4 -0.5 -5.6 -0.5 -0.4 -0.5 -3.6 -0.7 -1.4 -0.1 -1 1.1 -2.4 2.8 -2.6 29.7 -17 15.5 -10 9 -6.6 5.2 -4.4 3.5 -4 1.9 -3.6 -0.5 -2.4 -4.5 -1.2 -9.6 -1.3 -9 -0.4 -9.4 0.1 -13.6 1 -32 4.6 -10.4 0.7 -9.6 -0.1 -11.4 -1.1 -12 -2.3 -11 -3 -9.6 -3.8 -8 -4.2 -7 -4.7 -7 -5.9 -6.6 -7 -7.7 -10 -11.6 -18 -8.5 -12.2 -8 -10.6 -14 -17.3 -5 -7.3 -3 -7.5 -4 -13.3 -1.8 -7.8 -2.1 -12.4 -1.7 -13.6 -1 -13.4 -0.4 -13.6 0.3 -12.4 1.7 -16.4 4.5 -21.2 8.5 -30.4 5.4 -17.6 3 -8.5 12.7 -28.5 14.5 -35 4.8 -9 5.6 -8 5.8 -6.4 7.2 -6.7 28.4 -22.4 7.4 -6.5 7.9 -8.4 11.8 -15 5.9 -6.2 7.6 -5.8 13.4 -8 1.8 -1.6 0.9 -1.4 0.1 -1.6 -1.2 -2 -5.6 -4.4 -11.6 -7 -21.8 -12.2 -3 -1.4 -2.1 -2.4 0 -1 -0.5 -0.6 -0.5 -2.4 -0.5 -0.6 0 -1 -0.5 -0.4 0 -1 -0.5 -0.6 0 -1 -0.5 -0.4 0 -1 -0.5 -0.6 0 -1z" fill="#0000f5"/>
<path d="M298.3 50.2l361.5 0 0 659.6 -215.3 0 -1.5 -1.6 0 -0.4 -13 -13 0 -0.6 -2.2 -2.2 -0.6 0 -18 -18 -0.4 0 -4 -4 -0.6 0 -3 -3 -0.4 0 -8.6 -7.5 -0.4 0 -2 -2 -0.6 0 -2.4 -2.5 -0.6 0 -1.4 -1.5 -0.6 0 -4.4 -4 -0.6 0 -1.4 -1.5 -0.6 0 -2 -2 -0.4 0 -1.6 -1.6 -0.4 0 -8.1 -7.2 -0.2 -1 -0.5 -0.4 0 -2.6 -0.5 -0.4 -0.5 -5.6 -0.5 -0.4 0 -2.6 -0.5 -0.4 0 -2.6 -0.5 -0.4 0 -2.6 -0.5 -0.4 0 -2.6 -0.5 -0.4 0 -1.6 -0.4 -0.4 0 -1.6 -0.4 -0.4 0 -2 0.4 -1 1.3 -2 1.7 -1.6 35 -20.4 14 -9 10.7 -8 5.5 -5 3.9 -4.6 1.8 -4 -0.8 -2.3 -5 -1.2 -9.4 -1.2 -9 -0.4 -9.6 0 -17.4 1.2 -33 4.4 -9.6 0.5 -9 0 -11 -1 -11 -2 -10.4 -2.9 -9.6 -3.8 -7.4 -3.9 -7.6 -5.1 -7 -6 -6.4 -6.8 -6.7 -8.9 -23.9 -35.8 -18.4 -24.6 -3.5 -5.2 -2 -4.4 -2.5 -7.5 -3.8 -12.5 -1.3 -6 -3.6 -37 -0.6 -14.6 0 -15 0.4 -5 1.2 -7 6 -28.4 8.3 -32.6 4.4 -13.2 12.8 -29.2 13.5 -34 4.8 -9 5.7 -8 5.8 -6.6 6.8 -6.4 27.6 -21.7 8 -7 8.4 -9.1 11.6 -14.8 5.9 -6 7.5 -5.6 14.3 -8.4 1.9 -1.4 0.9 -1.6 0.1 -1.4 -1.2 -2 -2.7 -2.6 -3.5 -2.4 -11.9 -7 -27.3 -14.8 -1 -1.2 0 -2.6 -0.5 -0.4 0 -1 -0.5 -0.6 -1 -4 -1 -1.4 0 -1.1 -1 -1.5z" fill="#0000ff"/>
<path d="M298.3 50.2l361.5 0 0 659.6 -215.3 0 -1.5 -1.6 0 -0.4 -13 -13 0 -0.6 -2.2 -2.2 -0.6 0 -18 -18 -0.4 0 -4 -4 -0.6 0 -3 -3 -0.4 0 -8.6 -7.6 -0.4 0 -2 -2 -0.6 0 -2.4 -2.5 -0.6 0 -1.4 -1.5 -0.6 0 -4.4 -4 -0.6 0 -1.4 -1.5 -0.6 0 -2 -2 -0.4 0 -1.6 -1.5 -0.4 0 -8.1 -7.2 -0.1 -1 -0.5 -0.4 0 -2.6 -0.5 -0.4 0 -2.6 -0.5 -0.4 0 -2.6 -0.5 -0.4 0 -2.6 -0.5 -0.4 0 -2.6 -0.5 -0.4 0 -2.6 -0.5 -0.4 0 -2.6 -0.4 -0.4 0 -1.6 -0.4 -0.4 0 -4 1.4 -2.6 1.5 -1.4 3.8 -2.6 23.2 -13.2 16.6 -10.2 11.1 -7.6 10.4 -8 5.9 -5.4 4.2 -5 1.8 -4 -0.6 -2.6 -0.8 -0.6 -1.3 -0.4 -10.7 -1.5 -9.6 -0.6 -9.4 0 -23.6 1.5 -33.4 4 -9 0.5 -8.6 -0.1 -10.4 -0.9 -10.6 -1.9 -10 -2.8 -9 -3.5 -7.8 -4.1 -7.6 -5.4 -7 -6.2 -6.4 -7 -9.7 -14 -37.3 -58.4 -2.9 -6 -2.7 -7.6 -3.2 -10 -1.6 -7 -4.2 -32.5 -0.9 -12.9 -0.3 -13 0.9 -13.6 4.3 -27 7.3 -34.4 2.2 -8.6 2.1 -6 13.2 -30.4 12 -32 4.7 -9.1 6 -8.4 5.5 -6.2 6.7 -6.3 27.3 -21.7 8 -7.1 8 -8.5 11.1 -14.3 6.7 -7 7.6 -5.7 15.7 -8.7 1.9 -1.6 1 -1.7 -0.3 -1.7 -1.4 -2 -6.4 -5 -12.1 -7 -29.8 -16 -0.9 -1 -0.1 -2.6 -0.5 -0.4 0 -1 -0.5 -0.6 -1 -4 -1 -1.4 0 -1 -1 -1.6z" fill="#0000ff"/>
<path d="M298.3 50.2l361.5 0 0 659.6 -215.3 0 -1.5 -1.6 0 -0.4 -13 -13 0 -0.6 -2.2 -2.2 -0.6 0 -18 -18.1 -0.4 0 -4 -4 -0.6 0 -3 -3 -0.4 0 -8.6 -7.5 -0.4 0 -2 -2 -0.6 0 -2.4 -2.5 -0.6 0 -1.4 -1.5 -0.6 0 -2 -2 -0.4 0 -2 -2 -0.6 0 -1.4 -1.5 -0.6 0 -4 -3.5 -0.4 0 -8.1 -7.2 0 -1 -0.5 -0.4 0 -2.6 -0.5 -0.4 0 -2.6 -0.5 -0.4 0 -2.6 -0.5 -0.4 0 -2.6 -0.5 -0.4 0 -2.6 -0.5 -0.4 0 -2.6 -0.5 -0.4 -0.2 -9 1.9 -3 3.9 -2.9 23 -13.3 18.4 -11.3 10.5 -7.1 10 -7.4 9.4 -8 5.6 -6 1.6 -2.6 1.1 -2.4 0.1 -2 -0.7 -1.6 -2 -1 -10 -1.7 -9.6 -0.8 -9.4 -0.1 -30.6 2.1 -30.4 3.5 -16 0.5 -9 -0.5 -8.6 -1.2 -8.1 -1.8 -7.9 -2.3 -8.6 -3.7 -7.8 -4.4 -7.5 -5.6 -6.7 -6.4 -5.8 -7 -7 -10.5 -11.6 -18.1 -7.4 -12.4 -12.8 -26 -4 -10 -3.4 -12 -4.1 -11.6 -2.3 -8 -2.9 -13.5 -1.8 -12.9 -0.7 -8.6 -0.1 -8.4 0.7 -21 0.7 -9.6 1.8 -14 3.4 -20.4 2.6 -13.6 2.3 -9 3.5 -9.4 11 -26 10.6 -30 4.5 -9 5.5 -8 5.5 -6.4 6.4 -6.2 27 -21.7 8.6 -7.6 8.4 -9.1 10.9 -14 6.2 -6.6 7.9 -5.8 17 -9.2 2 -1.6 0.9 -1.8 -0.5 -2 -1.6 -2 -7.5 -5.6 -40.7 -22.3 -2.6 -0.9 -1.1 -1.2 -0.3 -2.6 -0.5 -0.4 0 -1 -0.5 -0.6 0 -1 -0.5 -0.4 -0.5 -2.6 -1 -1.4 0 -1 -1 -1.5z" fill="#0008ff"/>
<path d="M298.3 50.2l361.5 0 0 659.6 -215.3 0 -1.5 -1.6 0 -0.4 -13 -13 0 -0.6 -2.2 -2.3 -0.6 0 -18 -18 -0.4 0 -4 -4 -0.6 0 -3 -3 -0.4 0 -8.6 -7.5 -0.4 0 -2 -2 -0.6 0 -2.4 -2.5 -0.6 0 -1.4 -1.5 -0.6 0 -4.4 -4 -0.6 0 -1.4 -1.5 -0.6 0 -2 -2 -0.4 0 -1.6 -1.6 -0.4 0 -4.6 -4.1 -0.4 -1.4 -0.5 -0.6 0 -2.4 -0.5 -0.6 0 -2.4 -0.5 -0.6 0 -2.5 -0.5 -0.5 0 -2.4 -0.5 -0.6 0 -2.4 -0.5 -0.6 0 -2.4 -0.5 -0.6 0 -2.4 -0.5 -0.6 0 -2.4 -0.5 -0.6 -0.4 -3.4 -1.1 -2.6 1.9 -2.4 3.1 -2.3 43.4 -26.1 12.1 -8.2 9.9 -7.4 11.8 -10 6 -6.6 1.9 -3 0.9 -3 0 -1.4 -1 -2 -1 -0.7 -2 -0.5 -11.6 -2 -8.4 -0.8 -8.5 -0.2 -38.1 3 -26 2.9 -15.4 0.6 -8 -0.4 -7.6 -0.9 -7.4 -1.4 -7 -2 -8.6 -3.2 -8 -4.2 -7 -4.9 -6.5 -5.9 -4.9 -5.6 -5 -6.8 -12 -18.5 -7.2 -12.1 -5.8 -12 -6.7 -19 -6.3 -24 -7 -18.4 -3 -9 -2.4 -9.6 -1.5 -9 -0.8 -12 -0.2 -24 0.4 -9.4 4.1 -36 1.6 -10 2 -8 3.2 -9.6 10.4 -25.4 9.9 -30 4.2 -8.6 5.5 -8 5.2 -6 6.4 -6.1 25.4 -20.6 8.7 -7.7 9.9 -10.8 11 -14.4 5.7 -5.8 3.7 -3 4 -2.6 17.6 -8.9 1.4 -1 0.2 -1.1 0 -3.4 -1 -3.1 -0.8 -0.9 -3.3 -2.6 -11 -6.4 -35.5 -19 -2.6 -1 -1 -1 -1.3 -5.5 -0.5 -0.5 -0.6 -2.6 -1 -1.4 0 -1 -1 -1.6z" fill="#0014ff"/>
<path d="M298.4 50.2l361.4 0 0 659.6 -215.3 0 -1.5 -1.6 0 -0.4 -12.9 -13 0 -0.6 -2.3 -2.3 -0.6 0 -18 -18 -0.4 0 -4 -4 -0.6 0 -3 -3 -0.4 0 -8.6 -7.5 -0.4 0 -2 -2 -0.6 0 -2.4 -2.5 -0.6 -0.1 -1.4 -1.5 -0.6 0 -4.4 -4 -0.6 0 -1.4 -1.5 -0.6 0 -2 -2 -0.4 0 -1.6 -1.5 -0.4 0 -4.6 -4.1 -0.2 -1.4 -0.5 -0.6 0 -2.4 -0.5 -0.6 0 -2.4 -0.5 -0.6 0 -2.4 -0.5 -0.6 0 -2.4 -0.5 -0.6 0 -2.4 -0.5 -0.6 0 -2.4 -0.5 -0.6 0 -2.4 -0.5 -0.6 0 -2.4 -0.5 -0.6 0 -1.4 -0.5 -0.6 -0.5 -4 1.5 -2 3.3 -2.4 29.9 -17.9 19 -12 11.7 -8.1 11.6 -9 10.9 -9.6 5.8 -6.4 2.1 -3.6 0.9 -3 0 -2 -1 -2 -1.5 -1 -13.9 -2.7 -8.6 -1.2 -8 -0.5 -10 0.4 -17.4 2 -20.6 1.6 -21.4 2.4 -9 0.5 -8.6 -0.1 -8.4 -0.7 -8 -1.3 -7.6 -1.9 -8 -2.9 -7.7 -4 -7.1 -5 -6 -5.6 -4.4 -5 -4.7 -6.5 -12.6 -19.5 -5.9 -10 -4.2 -8.4 -2.8 -8 -3.3 -13.6 -2.8 -18.4 -1.7 -7.6 -3.1 -9.4 -10 -25.5 -2.5 -8.5 -1.5 -8 -1.3 -21.6 0.2 -13 2.9 -40 1.2 -9 1.7 -7.4 2.8 -8.6 9.1 -23.4 9.3 -30.6 3.7 -8 4.9 -7.4 5.1 -6 6.3 -6.2 24.4 -19.9 9 -8.3 8 -8.7 12.3 -15.9 6.1 -6.6 3.6 -3 4 -2.6 18.6 -9 0.7 -3.8 -0.1 -3 -0.5 -2.6 -1.4 -2.4 -1.6 -1.6 -12 -7 -37.1 -19.6 -2.6 -0.9 -0.8 -0.9 -0.5 -2.5 -1 -2.1 0 -1 -0.5 -0.4 -0.5 -2.6 -1 -1.4 0 -1 -1 -1.6z" fill="#001cff"/>
<path d="M298.4 50.2l361.4 0 0 659.6 -215.2 0 -1.5 -1.6 0 -0.4 -13 -13 0 -0.6 -2.3 -2.3 -0.6 0 -18 -18 -0.4 0 -4 -4 -0.6 0 -3 -3 -0.4 0 -8.6 -7.6 -0.4 0 -2 -2 -0.6 0 -2.4 -2.5 -0.6 0 -1.4 -1.5 -0.6 0 -4.4 -4 -0.6 0 -1.4 -1.5 -0.6 0 -2 -2 -0.4 0 -1.6 -1.5 -0.4 0 -4.6 -4.1 -0.1 -1.4 -0.5 -0.6 0 -2.4 -0.5 -0.6 0 -2.4 -0.5 -0.6 0 -2.4 -0.5 -0.6 0 -2.4 -0.5 -0.6 0 -2.4 -0.5 -0.6 0 -2.4 -0.5 -0.6 0 -2.4 -0.5 -0.6 0 -2.4 -0.5 -0.6 0 -1.4 -0.4 -0.6 0 -4 1.6 -1.9 4.9 -3.5 37.1 -22.3 12 -7.8 13.9 -9.9 14 -11 10.5 -9.6 3.2 -3.4 2.6 -3.6 1.8 -3.4 0.9 -3 0 -3 -1 -2 -0.9 -1 -1 -0.4 -21.6 -4.2 -8.4 -1.4 -7 -0.5 -10 0.5 -17 3 -22 1.3 -27.6 3 -8 -0.1 -8.4 -0.7 -8 -1.3 -6.6 -1.7 -7 -2.8 -7 -3.9 -6.4 -4.8 -5.6 -5.3 -5.8 -7.7 -21.6 -34 -3.8 -8.6 -1.9 -8.4 -0.8 -10 -0.4 -24 -0.8 -7.6 -1.3 -6 -1.8 -5.4 -2.4 -5 -9.8 -16.4 -3.6 -6.7 -2.4 -6.5 -1.7 -7 -0.3 -8.5 1.9 -27.5 0 -29.4 0.7 -8 1.5 -7.6 2.1 -6.4 8 -21.6 8.5 -32 3.1 -7 4.4 -7 5 -6 5.9 -6 23.3 -19.1 9 -8.4 9 -10.2 12.4 -16.3 5.2 -5.5 4 -3.4 3.9 -2.5 17.5 -8.2 1.2 -5.9 0 -3.5 -0.6 -2.4 -1.3 -2.6 -2.3 -2.4 -11.6 -6.6 -29.8 -15.3 -8 -4.5 -2.6 -0.9 -1.2 -2.3 -1 -4 -0.5 -0.4 -0.6 -2.6 -1 -1.4 0 -1 -1 -1.5z" fill="#0028ff"/>
<path d="M298.4 50.2l361.4 0 0 659.6 -215.2 0 -1.5 -1.6 0 -0.4 -13 -13 0 -0.6 -2.3 -2.3 -0.6 0 -18 -18 -0.4 -0.1 -4 -4 -0.6 0 -3 -3 -0.4 0 -8.6 -7.5 -0.4 0 -2 -2 -0.6 0 -2.4 -2.5 -0.6 0 -1.4 -1.5 -0.6 0 -4.4 -4 -0.6 0 -1.4 -1.5 -0.6 0 -2 -2 -0.4 0 -1.6 -1.5 -0.4 0 -4.6 -4.1 0 -1.4 -0.5 -0.6 0 -2.4 -0.5 -0.6 0 -2.4 -0.5 -0.6 0 -2.4 -0.5 -0.6 0 -2.4 -0.5 -0.6 0 -2.4 -0.5 -0.6 0 -2.4 -0.5 -0.6 0 -2.4 -0.5 -0.6 -0.1 -9 0.6 -1 7.5 -5.4 35 -21.2 12.3 -7.8 13.3 -9.5 16.9 -13.1 10.6 -9.4 7.1 -8 2.4 -4 1.6 -3.6 0.8 -3.4 0 -3.3 -1 -2.8 -1.4 -1.7 -17.1 -4.2 -14.1 -4.6 -14.4 -6.4 -3.2 -2 -1.3 -1.6 0 -2 1.7 -2.4 21.8 -22 3.6 -4.6 2.2 -4.4 -6.4 -9.6 -0.5 -1.4 -1 -1 -0.5 -1.6 -1 -1 -0.5 -1.4 -1 -1 -0.5 -1.6 -1 -1 -0.5 -1.4 -1 -1 -0.5 -1.6 -1 -1 -0.5 -1.4 -1 -1 -0.5 -1.6 -1 -1 -2 -4 -1 -1 -3.6 -6.4 -2 -2.6 -0.5 -1.4 -2 -2.6 -0.5 -1.4 -2 -2.6 -0.5 -1.4 -2 -2.6 -0.5 -1.4 -2 -2.6 -0.6 -1.4 -1 -1 0 -0.6 -1 -1 0 -0.4 -1 -1 0 -0.6 -1 -1 0 -0.4 -1 -1 0 -0.6 -1 -1 0 -0.4 -1 -1 0 -0.6 -1 -1 0 -0.4 -1 -1 0 -0.6 -1 -1 0 -0.4 -1 -1 0 -0.6 -1 -0.9 0 -0.5 -1 -1 0 -0.6 -1 -1 0 -0.4 -1 -1 -2.1 -3.6 -1 -1 -1 -2 -1 -1 -0.2 -2 0.5 -0.4 0 -1 0.5 -0.6 -0.1 -1 1 -2 0 -1 0.5 -0.4 0 -1 0.5 -0.6 0 -1.4 0.5 -0.6 0 -1.4 0.5 -0.6 0 -1.4 0.5 -0.6 0 -2 0.5 -0.4 0 -2.6 0.5 -0.4 0 -8 -0.5 -0.6 0 -3.4 -0.5 -0.6 0 -2 -0.5 -0.4 0 -2 -0.5 -0.6 -0.1 -2 -0.5 -0.4 0 -1.6 -0.5 -0.4 -0.5 -3.6 -1 -2 0 -1.4 -1 -2 0 -1.6 -0.5 -0.4 0 -1 -0.5 -0.6 0 -1 -0.5 -0.4 -0.6 -2.5 -1.6 -1.5 -0.4 0 -4.6 -4.5 -0.4 0 -4.6 -4.5 -0.4 0 -4.6 -4.5 -0.4 0 -4.6 -4.5 -0.4 0 -4.6 -4.5 -0.4 0 -4.6 -4.5 -0.4 0 -40 -40.1 -5.6 2.3 -5 3.2 -4 3.7 -4.3 5.3 -5.4 8 -4.7 8 -8 17.9 -4.4 8.1 -6.6 10 -5.6 6.3 -2 1.6 -2 0.9 -1.4 0.1 -1.6 -0.6 -1.5 -1.5 -1.5 -2.3 -3.4 -7.8 -3 -9.5 -1.8 -8.2 -0.7 -7.4 0.4 -7 1.5 -6.5 6.9 -19.1 6.7 -32 1.9 -6.4 2.6 -5.6 4.9 -7.2 7 -7.7 23.6 -19.8 9 -8.6 8 -9.5 12.7 -17.2 5.5 -6 4 -3.4 3.8 -2.5 17 -7.8 1 -3.3 0.6 -6 -0.4 -4 -1.5 -3.4 -2.6 -3 -10.8 -6 -30.9 -15.8 -8.4 -4.7 -2.6 -1 -1.2 -2.1 -1 -4 -0.5 -0.4 -0.6 -2.6 -1 -1.4 0 -1 -1 -1.6zM278.9 429.8l1.9 -0.5 2 0.7 2 1.5 1.8 2.3 3.2 6 3.9 12.4 2.6 6 3.6 4.6 5.2 3.4 10.7 4.8 40.4 15.6 10.6 2.9 8 1.6 6 0.6 12 0.3 6.4 1 3.6 1 2.5 1.2 1.1 1.6 -0.4 1.4 -1.8 2 -2.9 2 -4.1 2 -3.4 1.1 -5 0.8 -10.6 0.2 -5.4 0.5 -19 4.4 -6 0.9 -8.6 0.1 -9 -1 -7.9 -2 -6.5 -2.7 -3.7 -2.3 -3.3 -2.8 -3.1 -3.2 -2.9 -4 -3.9 -7.4 -5.9 -15 -2.7 -4.5 -3.3 -3.5 -9.2 -8 -4 -5.1 -0.7 -1.9 -0.3 -2.6 0.9 -7 2.5 -6.6 1.6 -2z" fill="#0030ff"/>
<path d="M298.4 50.2l361.4 0 0 659.6 -215.2 0 -1.5 -1.6 0 -0.4 -13 -13 0 -0.6 -2.3 -2.3 -0.6 0 -18 -18.1 -0.4 0 -4 -4 -0.6 0 -3 -3 -0.4 0 -8.6 -7.5 -0.4 0 -2 -2 -0.6 0 -2.4 -2.5 -0.6 0 -1.4 -1.5 -0.6 0 -4.4 -4 -0.6 0 -1.4 -1.5 -0.6 0 -2 -2 -0.5 0 -0.2 -1.6 -0.5 -0.4 0 -1.6 -0.5 -0.4 0 -1.6 -0.5 -0.4 0 -1.6 -0.5 -0.4 0 -1.6 -0.5 -0.4 0 -1.6 -0.5 -0.4 0 -1.6 -0.5 -0.4 0 -1.6 -0.5 -0.4 0 -1.6 -0.5 -0.4 0 -1.6 -0.5 -0.4 0 -1.6 -0.5 -0.4 0 -1.6 -0.5 -0.4 0 -1.6 -0.5 -0.4 0 -1.6 -0.5 -0.4 0 -1.6 -0.5 -0.4 0 -1.6 -0.5 -0.4 0 -1.6 -0.5 -0.4 -0.6 -4 2.9 -2.5 6.5 -4.5 43.4 -26.7 12.1 -8.3 12.5 -9.3 11.7 -9.3 8.3 -7.4 6.8 -7.6 5.2 -7.4 2.4 -5 1.4 -4.6 0.7 -4.9 -0.2 -4.1 -1.2 -3.4 -1.1 -1.6 -6 -2.3 -3.6 -1.9 -3 -2.5 -2 -2.9 -1 -3.4 -0.2 -3.4 0.8 -4.6 1.8 -6 3.5 -9 4.7 -9.1 5.4 -9 5.6 -7.3 5.4 -6 6 -5.4 17.2 -12.6 5.4 -4.6 5.1 -5.4 4.3 -6.4 2.4 -4.6 1.8 -5 3.1 -13 1.5 -14 0.1 -6 -0.5 -5.6 -1.9 -9.4 -3.2 -11.6 -4.8 -14 -6.7 -17.4 -3.4 -7.6 -3.7 -7 -4.2 -6.4 -4.9 -6.6 -7.7 -9 -8.5 -8.4 -9.2 -8 -10.3 -8 -10.9 -7.5 -11 -6.7 -8.8 -4.4 -8.6 -3.3 -8.6 -2.5 -0.4 0.4 -0.1 -0.6 -0.9 -0.2 -0.6 0.4 -0.4 -0.2 0 -0.4 -1 -0.3 -1 0.8 -0.1 -1.1 -0.9 -0.2 -1 0.8 -0.2 -1 -1.4 -0.3 -1 0.8 0 -1.1 -1.4 -0.2 -1 0.8 -0.2 -1 -1.4 -0.3 -1.4 1.3 0 1 -0.2 -2.6 -1.8 -0.2 -1.5 1.2 -0.5 2.6 -0.1 -4 -1.9 -0.2 -1.3 1.2 -0.5 2.4 -0.5 0.6 -0.5 4.4 -0.6 0.6 0 3 -0.5 0.4 0 3 -0.5 0.6 0 4 -0.5 0.4 0 4 -0.5 0.6 0 5 -0.5 0.4 0 5 -0.5 0.6 0 6 -0.5 0.4 0 6 -0.5 0.6 0 7 -0.5 0.4 0 7 -0.4 0.6 0 8 -0.5 0.4 0 8 -0.5 0.6 -0.4 15 -0.4 0 0 -1 -2.2 -4.6 0 -1 -1 -2 0 -1.4 -0.5 -0.6 0 -1 -0.5 -0.4 0 -1 -0.5 -0.6 0 -1 -1 -2 -0.5 -2.4 -0.5 -0.6 0 -1.4 -0.5 -0.6 -0.5 -2.4 -2.3 -5.6 -0.5 -2.4 -1 -1.6 -0.5 -2.4 -1 -1.6 -0.5 -2.4 -1 -1.6 -0.5 -2.4 -1 -1.6 -0.5 -2.4 -1 -1.6 -0.5 -2.4 -1 -1.6 0 -1 -0.5 -0.4 0 -1 -0.5 -0.6 -1.7 -5.4 -0.5 -0.6 0 -1 -0.5 -0.4 0 -1 -0.5 -0.6 -1 -4 -0.5 -0.4 0 -1 -1 -2 0 -1 -0.5 -0.6 0 -1 -0.5 -0.4 0 -1 -0.5 -0.6 0 -1 -0.5 -0.4 0 -1 -1 -2 0 -1 -0.5 -0.6 0 -1 -0.5 -0.4 0 -1 -0.5 -0.6 0 -1 -0.5 -0.4 0 -1 -1.2 -2.2 -16 3 -13 2.9 -6.6 2 -6.4 3 -11.2 6.3 -8.8 5.5 -4.7 3.9 -11.3 11.7 -6 5.5 -4.6 3 -1 0.1 -1 -0.7 -0.8 -4 -0.8 -19 0.8 -14.6 0.9 -7.4 1.1 -5.6 1.6 -4.4 2.5 -4.6 3.7 -5 5.6 -6 22 -19 7 -6.9 8 -9.8 13.4 -18.7 5.6 -6.5 4.4 -3.9 4 -2.6 16 -7.3 1.5 -4.7 0.6 -6.6 -0.4 -4.4 -1.4 -3.6 -2.5 -3 -1.8 -1.4 -6.6 -3.6 -33.8 -17.1 -9 -5 -2.4 -0.9 -1.4 -2 -1 -4 -0.5 -0.4 -0.6 -2.6 -1 -1.4 0 -1 -1 -1.6z" fill="#003cff"/>
<path d="M298.5 50.2l361.3 0 0 659.6 -215.2 0 -1.5 -1.6 0 -0.4 -12.9 -13 0 -0.6 -2.4 -2.4 -0.6 0 -18 -18 -0.4 0 -7.6 -7 -0.4 0 -2.6 -2.5 -0.4 0 -2.6 -2.5 -0.4 0 -2.6 -2.5 -0.4 0 -5.3 -4.5 -1 -2 0 -1 -1 -1.6 0 -1 -1 -1.4 0 -1 -1 -1.6 0 -1 -1 -1.4 0 -1 -1 -1.6 0 -1 -1 -1.4 0 -1 -1 -1.6 0 -1 -1 -1.4 0 -1 -1 -1.6 0 -1 -1 -1.4 0 -1 -1 -1.6 0 -1 -1 -1.4 0 -1 -1 -1.6 0 -1 -1 -1.4 0 -1 -1.7 -3.6 0 -1 -1 -2 0 -1 -1 -1.4 0 -1 3.7 -3 5.9 -4 41.8 -25.9 24.2 -17.1 11.8 -9.3 8.9 -7.7 6.7 -7 6.1 -8 5.8 -10 6.5 -15.6 2.6 -8.4 2.9 -12.6 0.5 -8.4 0.9 -3 1.7 -3.3 3.2 -4.3 3.8 -3.1 4.4 -2.4 8 -2.5 3.6 -2.4 4 -3.7 3.4 -4 3.6 -5.4 3.4 -6.8 3 -7 3 -8.8 2.6 -9.2 2 -9.9 1.4 -11.2 0.9 -11 0 -7 -0.6 -10.6 -1.3 -9.7 -2 -9.7 -5.5 -19 -9.4 -27 -3.5 -8.8 -4 -8.6 -3.6 -6.4 -3.4 -5.2 -3.3 -3 -13.7 -10.6 -30.8 -21.4 -11.2 -7.2 -11.5 -5.8 -12.5 -4.8 -16 -4 -16.6 -2.9 -6 -0.5 -5.4 0.1 -23.6 3.3 -11 1.1 -13 0.8 -16.4 0 -4 0.4 -3.6 1.1 -4.4 2.3 -14.1 10.1 -8.5 4.4 -4 1.3 -3.4 0.4 -3 -0.7 -2 -1.6 -1.2 -1.8 -0.9 -2.6 -0.5 -3 0.1 -3.4 1.3 -5.6 3.4 -5.4 5.8 -6.6 20.4 -19.5 5 -5.4 6.6 -8.6 13.1 -19.9 6.3 -7.9 4.5 -4.1 4.5 -3.1 15.6 -7.3 1.3 -2.6 0.6 -3.6 0.5 -7.4 -0.4 -4.5 -1.4 -3.5 -2.4 -3 -2.8 -2.4 -4 -2.2 -35.4 -17.7 -10 -5.5 -2.2 -0.8 -1.5 -2 -1 -4 -0.5 -0.4 -0.6 -2.6 -1 -1.4 0 -1 -1 -1.6z" fill="#0044ff"/>
<path d="M298.5 50.2l361.3 0 0 659.6 -215.1 0 -1.5 -1.6 0 -0.4 -13 -13 0 -0.6 -2.4 -2.4 -0.6 0 -18 -18 -0.4 0 -4 -4 -0.6 0 -3 -3 -0.4 0 -0.7 -1 -29.5 -59 -0.1 -1 3.6 -3 5.2 -3.6 31.5 -19.1 18 -12.1 24.1 -17.8 14 -12 6.2 -6.4 5.5 -7 14.2 -21.7 14.4 -23.3 7.6 -10.5 9.4 -11.7 5.6 -7.5 6 -10.1 5.4 -12.7 4.4 -13.5 3 -13.6 2 -14 1.1 -15 -0.5 -13.3 -1.7 -14.7 -2 -9.4 -5.3 -18.9 -9.4 -26.7 -7.4 -17 -4.2 -8 -4.4 -7.4 -7.6 -10.7 -9 -10.7 -17.4 -10.4 -17 -11.3 -6 -3.5 -7.6 -3.7 -7.4 -3.1 -7 -2.5 -12.6 -3 -26.4 -4.8 -5.6 -0.6 -5 0 -22.4 3.2 -15.5 0.5 -18.5 -0.7 -18 -1.7 -4.6 -0.8 -2.1 -1.2 -0.6 -1 -0.1 -1.6 1.1 -3 7.7 -12.6 13 -23.8 6.4 -9.6 4.6 -5.1 5 -4.1 5.7 -3.2 11.3 -5.2 1 -1.2 0.9 -2.2 0.6 -3 0.2 -12 -0.5 -3.4 -1.4 -3 -2.5 -3 -3.3 -2.7 -52 -26.3 -1.1 -1.6 -1 -4 -0.5 -0.4 -0.6 -2.6 -1 -1.4 0 -1 -1 -1.6z" fill="#0050ff"/>
<path d="M298.5 50.2l361.3 0 0 659.6 -215.1 0 -1.5 -1.6 0 -0.4 -13 -13 0 -0.6 -2.4 -2.4 -0.6 0 -18 -18 -0.4 0 -34.5 -69 0 -1 8.4 -6 29.6 -18 13.9 -9.3 25.2 -18.3 14.6 -12 7 -7 6.2 -7.4 21 -28.9 18 -23 6.6 -8.8 9 -14.1 6.4 -12.8 5 -13.3 4.6 -16.6 3 -17.3 1.5 -18.2 -0.5 -14.8 -2.1 -16.2 -2.3 -10.6 -5.8 -20 -9.4 -25.5 -6 -14.2 -5 -9.8 -6 -10 -6 -8.5 -6.8 -8.4 -5.6 -9.8 -3.6 -3.8 -9.4 -5.2 -15 -9.7 -7.2 -4.1 -14.4 -6.1 -12 -3.9 -35.4 -6.2 -9.6 -1.2 -5.4 0.1 -14.6 2.2 -7.4 0.7 -7.6 0 -11 -0.8 -8.4 -1.2 -5.6 -1.3 -4 -1.7 -2.4 -2 -1.4 -2.6 -0.6 -2.4 0 -3.6 0.8 -4.4 1.8 -6 2.3 -6 2.6 -5.6 2.9 -5 5 -6.4 5 -4.6 6.6 -4.1 11 -5.2 2.1 -2.1 0.6 -2 0.4 -4 -0.1 -11.6 -0.4 -3.9 -1 -3.1 -1.5 -2.4 -2.4 -2.6 -3.3 -2.5 -39 -19.3 -10.4 -5.7 -2 -0.6 -1.6 -1.9 -1 -4 -2.2 -4.4 0 -1 -1 -1.6z" fill="#005cff"/>
<path d="M298.5 50.2l361.3 0 0 659.6 -215.1 0 -1.5 -1.6 0 -0.4 -13 -13 0 -0.6 -2.4 -2.4 -0.6 0 -14.8 -15 -2.5 -5 0 -1 -2.5 -4.6 0 -1 -2.5 -4.4 0 -1 -2 -3.6 0 -1 -2 -3.4 0 -1 -2 -3.6 0 -1 -2 -3.4 0 -1 -1.5 -2.6 -1.6 -4.4 -1.5 -2.6 0 -1 -1.5 -2.4 0 -1 -1.5 -2.6 0 -1 -11 -21.4 0.1 -1 6.3 -4.6 29.1 -17.7 13.3 -8.7 26.7 -19.5 12.9 -10.5 6.2 -6 6.1 -7 24.3 -31.3 15.5 -18.4 7 -9.3 9 -14.6 7 -14 5.4 -14.7 4.3 -15.7 3.2 -19 1.5 -17.6 -0.6 -15.4 -2.1 -16.6 -2.7 -12 -6 -20.5 -10 -26.6 -7.6 -16.7 -8.4 -14.9 -6 -8.8 -6.9 -8.9 -6.1 -10.7 -7 -8.2 -8 -7.5 -10.7 -6.6 -7.8 -4 -15.3 -6 -11.8 -3.7 -37.4 -5.9 -8.6 -0.9 -7.4 0.1 -19 2.1 -11.6 -0.5 -7.4 -1.1 -5.6 -1.5 -4.4 -2 -3 -2.5 -1.5 -2.1 -1 -2.6 -0.5 -3 0.1 -3.4 1.7 -8 3.6 -7.7 4.2 -5.3 4.8 -4.4 6 -3.9 11 -5.6 1.6 -1.1 1.1 -1.5 0.4 -1.5 0.1 -2.6 -0.9 -17 -0.7 -4 -1 -2.4 -1.8 -2.6 -5.8 -4.7 -38.4 -19 -11 -5.9 -2 -0.7 -1.6 -1.7 -1 -4 -2.2 -4.4 0 -1 -1 -1.6z" fill="#0064ff"/>
<path d="M298.6 50.2l361.2 0 0 659.6 -215.1 0 -1.5 -1.6 0 -0.4 -13 -13 0 -0.6 -1.4 -1.4 -46 -92 -0.1 -1 6.5 -4.6 27 -16.6 15.7 -10.4 22.3 -16.3 14 -11.4 6.5 -6.3 5.8 -6.4 22.3 -28 17.9 -21 7.1 -9.6 9.4 -16.1 6.6 -13.7 5.4 -15.4 4.6 -17.8 2.5 -15.4 1.4 -17.6 -0.7 -15.4 -2.5 -19 -5.7 -22.4 -3 -9.4 -10.6 -27.7 -4.4 -10.1 -4.6 -8.9 -9 -14.9 -10.2 -14.2 -4.8 -8.9 -2.4 -3.6 -12.4 -13.5 -12.6 -11.7 -4 -2.8 -7.7 -2.9 -13.9 -4.7 -10 -2.6 -36 -5.4 -9 -1 -8.4 0 -18 1.4 -9 -0.4 -5.6 -1 -5 -1.5 -3.6 -1.8 -3 -2.6 -2.5 -4 -0.8 -4.4 0.8 -6 2.3 -5 3.4 -4.3 4.1 -3.7 5.3 -3.6 11 -6.1 2 -1.6 1.2 -1.7 0.3 -2.6 -1.6 -9.4 -0.9 -12.6 -0.9 -3.4 -1.3 -2.6 -2 -2.4 -5.8 -4.6 -36.4 -17.8 -13 -7 -2 -0.6 -3 -6z" fill="#0070ff"/>
<path d="M298.6 50.2l361.2 0 0 659.6 -215.1 0 -4.4 -5 -2 -4 0 -1 -3 -5.6 0 -1 -3 -5.4 0 -1 -2.5 -4.6 0 -0.7 -2.8 -5.7 -39 -77.6 0 -1 31.2 -19.7 18 -12.1 17.6 -12.6 14 -11.5 6.4 -6.2 6.7 -7.3 22.5 -27.5 17.4 -20.1 7.4 -10.3 9.3 -16.1 6.7 -14.7 5.9 -17.3 4.1 -17 2.6 -17 1.1 -16.6 -0.2 -8 -0.9 -10.7 -2.5 -16.3 -5.5 -20.8 -2.5 -7.6 -9.1 -24.5 -7 -16.1 -5 -9.6 -6.4 -10.8 -11.5 -16 -6.3 -11.6 -6.8 -8.4 -10 -10.4 -10.5 -9.6 -9.4 -7 -6.5 -3.6 -10 -2.8 -8.6 -1.8 -42 -6.4 -10.4 -0.6 -18 0.7 -7.6 -0.4 -7 -1.7 -5.1 -3 -2.7 -3 -1.2 -3.4 0.2 -4 1.8 -4 2.6 -3.2 3.8 -3.4 14.4 -9.4 1.4 -1.6 1 -2 0 -2.4 -2.3 -6.6 -0.9 -4.4 -1.4 -13.6 -1.1 -4 -1.5 -2.4 -1.7 -2 -6.3 -4.9 -37 -17.9 -12.4 -6.7 -1.8 -0.5 -0.6 -0.6 -0.1 -1 -2.5 -4.4z" fill="#0078ff"/>
<path d="M298.6 50.2l361.2 0 0 659.6 -207.8 0 -0.5 -0.6 -57 -114 0 -1 30.7 -19.7 20.6 -14.1 14 -10.2 10.4 -8.7 7 -6.7 6.7 -7.6 38.9 -46 8.4 -12 8.6 -15 7 -15.7 5.4 -16.8 4.4 -19.5 2.4 -17 0.8 -16.4 -1.4 -19 -1.1 -8.6 -1.5 -7.4 -5 -18.8 -2.6 -7.8 -10 -26.8 -7 -15.8 -8.4 -15.3 -6 -9.2 -7.7 -10.3 -5.9 -11 -4.4 -6 -5 -5.8 -11.1 -11.2 -10.4 -9.1 -12.1 -8.5 -7 -3.9 -4.4 -2.1 -54 -8.9 -8 -0.8 -19 -0.8 -4 -0.9 -2.7 -1.6 -1.9 -2 -0.8 -2 0 -2 0.8 -2.4 3.6 -4.6 10 -8.5 1.6 -2.5 0.6 -2.4 -0.7 -3.6 -3 -5.4 -1.3 -3.5 -1.7 -8.1 -0.9 -9.4 -1.6 -4.6 -3.9 -4.4 -5.7 -4.1 -36.4 -17.6 -13 -6.9 -1.6 -0.4 -0.6 -0.6 -0.2 -1 -2.5 -4.4 -0.8 -2.6 -1 -1.4 0 -1 -1 -1.6z" fill="#0084ff"/>
<path d="M298.6 50.2l361.2 0 0 659.6 -197 0 -59.5 -119 0.1 -1 24.8 -16.3 24 -16.5 13.2 -9.8 9.3 -8 10.1 -10.6 37.4 -44.7 6.6 -8.5 5.1 -8.2 8.3 -15.6 6.6 -15.5 5.4 -18.1 3.7 -18.2 2.3 -19.6 0.3 -14 -0.7 -11 -1.3 -11 -2.7 -13.9 -4.6 -16.9 -2.4 -7.6 -9.6 -25.4 -7.4 -16.9 -8.6 -15.3 -6 -9.2 -7.4 -10.2 -6 -11.1 -4.5 -5.9 -5.2 -6 -12.3 -12.6 -11.1 -9.5 -11.6 -7.9 -15.4 -8.6 -4.9 -1.8 -26.6 -4.7 -23 -4.9 -6.4 -2 -3.8 -2 -1.5 -2 -0.5 -2 0.6 -3 2 -4.6 -0.2 -4.4 -2.2 -5 -4.1 -6 -1.8 -3.6 -2.1 -8.4 -1.3 -10.6 -1.1 -3 -1.5 -2.4 -3.5 -3.6 -6 -4 -36 -17.2 -13 -7 -1.6 -0.4 -0.5 -0.4 -2.8 -5.4 -0.8 -2.6 -1 -1.4 0 -1 -1 -1.6z" fill="#008cff"/>
<path d="M298.7 50.3l361.1 -0.1 0 659.6 -185.2 0 -0.5 -0.6 -61.5 -123 0.1 -1 46.1 -31.5 12 -9.3 10.5 -9.6 9.1 -10 34.8 -42.4 6.8 -9.6 8.4 -15 7.3 -16 3.5 -10.1 2.7 -9 2.3 -9.4 2 -10.2 2.6 -19.9 0.6 -9.4 -0.1 -7 -1.5 -18.6 -2 -12.5 -5.3 -20.5 -3.3 -10.3 -9 -24.3 -5 -11.7 -5.4 -11.1 -8.6 -14.6 -10.9 -15.4 -6.1 -11.2 -5.6 -7.4 -7.3 -8 -10.7 -10.4 -9.4 -8 -10.5 -7.6 -11.9 -7 -9.6 -5 -8 -3.5 -4.5 -1.5 -14.9 -3.4 -7.6 -2.2 -7.6 -2.8 -4.3 -2.6 -4.5 -5 -5.1 -8 -5.5 -5.5 -4.3 -5.9 -2.6 -8 -1.9 -13 -1.6 -3.6 -2.4 -3 -3.5 -3 -4.7 -3 -28 -13.2 -14 -6.9 -7.4 -4.2 -1.6 -0.4 -3.2 -5.7 -0.8 -2.6 -1 -1.4 0 -1 -1 -1.6z" fill="#0098ff"/>
<path d="M298.7 50.2l361.1 0 0 659.6 -171.8 0 -64.5 -129 0 -1 41.3 -28.9 11.4 -9.3 9.7 -9.4 14.7 -16.4 27.2 -34.5 6.6 -10.1 8.3 -15.4 6.8 -16 5.9 -19.6 4.1 -20 2.3 -19.7 0.3 -7.7 -0.2 -9 -2 -19.6 -2 -11 -5.1 -19.5 -3 -9.3 -9 -24.6 -5 -11.6 -5.6 -11.1 -9 -15.2 -10.2 -14.7 -6.2 -11.4 -5.6 -7.2 -7.1 -7.8 -10.7 -10.6 -8.6 -7.4 -9.5 -7 -11.1 -7 -9.8 -5.6 -9.2 -4.3 -5.4 -2.2 -11 -3.3 -11.6 -5.1 -6.4 -3.3 -5.6 -3.6 -8.6 -8.2 -7.4 -5.9 -3.1 -4.1 -1.2 -2.4 -1.8 -5.6 -2.1 -13.4 -1.7 -3.5 -2.4 -3.1 -3.6 -3 -5.5 -3.4 -27.6 -12.9 -14 -6.9 -7.4 -4.2 -1.6 -0.5 -1.1 -1.5 -3.9 -8 0 -1 -1 -1.6z" fill="#00a0ff"/>
<path d="M298.7 50.2l361.1 0 0 659.6 -145.9 0 -1 -1 -1.5 -3.6 -1 -1 -1.5 -3.4 -1 -1 -1.5 -3.6 -1 -1 -1.5 -3.4 -1 -1 -1.5 -3.6 -1 -1 -1.5 -3.4 -1 -1 -1.5 -3.6 -1 -1 -1.5 -3.4 -1 -1 -1.5 -3.6 -1 -1 -1.5 -3.4 -1 -1 -1.5 -3.6 -1 -1 -1.5 -3.4 -1 -1 -1.5 -3.6 -1 -1 -1.5 -3.4 -1 -1 -1.5 -3.6 -1 -1 -1.5 -3.4 -1 -1 -1.5 -3.6 -1 -1 -1.5 -3.4 -1 -1 -1.5 -3.6 -1 -1 -1.5 -3.4 -1 -1 -1.5 -3.6 -1 -1 -1 -2.4 -1 -1 -1 -2.6 -1 -1 -1 -2.4 -1 -1 -1 -2.6 -1 -1 -1 -2.4 -1 -1 -1 -2.6 -2.4 -3.4 -0.5 -1.6 -1 -1 -0.5 -1.4 -1 -1 -0.5 -1.6 -1 -1 -1.8 -3.4 -3 -4 -1 -2 0 -1 0.5 -0.6 25.6 -17.8 10 -7.6 11.4 -10 10 -10.6 15.3 -18.4 19.6 -26 6.4 -10 8.2 -15.6 5.7 -13.5 5.5 -17.5 3.9 -16.5 2.9 -19.9 1.1 -14.6 -0.5 -13.4 -2.1 -19 -3 -13.6 -4.1 -15.4 -2.9 -8.8 -9 -24.7 -7.4 -16.9 -8.6 -15.5 -6.4 -10.1 -7.2 -10 -5.8 -10.8 -4.6 -6.2 -6.5 -7.6 -8.9 -9 -8.2 -7.4 -8.4 -6.8 -9 -6.3 -12.9 -7.9 -11.2 -6 -7 -3 -12.9 -4.1 -13 -6.8 -6.9 -4.3 -18.5 -13.8 -2.8 -3.6 -2.1 -4.4 -1.7 -6 -0.9 -7.6 -0.8 -3.4 -1.7 -3.6 -2.5 -3 -3.7 -3 -5.5 -3.4 -28.3 -13.3 -13.6 -6.7 -7.4 -4.2 -1.5 -0.4 -1.2 -1.4 -3.9 -8 0 -1 -1 -1.6z" fill="#00acff"/>
<path d="M298.7 50.2l361.1 0 0 659.6 -114.5 0 -1 -2 -1 -1 -0.5 -1.6 -1 -1 -0.5 -1.4 -1 -1 -0.5 -1.6 -1 -1 -0.5 -1.4 -1 -1.1 -0.5 -1.5 -1 -1 -0.5 -1.4 -1 -1 -0.5 -1.6 -1 -1 -0.5 -1.4 -1 -1 -0.5 -1.6 -1 -1 -0.5 -1.4 -1 -1.1 -0.5 -1.5 -1 -1 -0.5 -1.4 -1 -1 -0.5 -1.6 -1 -1 -0.5 -1.4 -1 -1 -0.5 -1.6 -1 -1 -0.5 -1.5 -1 -1 -0.5 -1.5 -1 -1 -0.5 -1.4 -1 -1 -0.5 -1.6 -1 -1 -0.5 -1.4 -1 -1 -0.5 -1.6 -1 -1 -0.5 -1.5 -1 -0.9 -0.5 -1.6 -1 -1 -0.5 -1.4 -1 -1 -0.5 -1.6 -1 -1 -0.5 -1.4 -1 -1 -0.5 -1.6 -1 -1 -0.5 -1.5 -1 -0.9 -0.5 -1.6 -1 -1 -0.5 -1.4 -1 -1 -0.5 -1.6 -1 -1 -0.5 -1.4 -1 -1 -0.5 -1.6 -1 -1 -0.5 -1.5 -1 -0.9 -0.5 -1.6 -1 -1 -0.5 -1.4 -1 -1 -0.5 -1.6 -1 -1 -0.5 -1.4 -1 -1 -0.5 -1.6 -1 -1 -0.5 -1.4 -1 -1 -0.5 -1.6 -1 -1 -0.5 -1.4 -1 -1 -0.5 -1.6 -1 -1 -0.5 -1.4 -1 -1 -0.5 -1.6 -1 -1 -0.5 -1.4 -1 -1 -0.5 -1.6 -1 -1 -0.5 -1.4 -1 -1 -0.5 -1.6 -1 -1 -0.5 -1.4 -1 -1 -0.5 -1.6 -1 -1 -0.5 -1.4 -1 -1 -0.5 -1.6 -1 -1 -0.5 -1.4 -6 -8.6 -0.5 -1 0.2 -0.4 -0.5 -0.6 0.1 -1 14.6 -10.7 14 -11.6 9 -8.9 9.9 -11.8 17.7 -23.2 11.7 -17.2 8.6 -15.6 7.3 -16.4 5.3 -16.6 4.2 -17.4 3.1 -19.6 1.4 -18 -0.6 -16 -2 -16.9 -2.3 -10.5 -5.3 -19.6 -12 -33.4 -5.4 -12.7 -5 -9.9 -9 -15.1 -9.7 -13.9 -6.3 -11.5 -6 -7.8 -8.4 -9.1 -9.2 -9 -7.6 -6.6 -9.2 -7 -9.2 -6 -12.5 -7.4 -8.9 -4.7 -5.6 -2.4 -10.4 -3.2 -4 -1.7 -16.6 -9.7 -19.1 -13.3 -3 -3 -2.4 -5 -1.7 -5.6 -1.1 -8 -0.8 -3.4 -1.8 -3.6 -2.6 -3 -4.4 -3.4 -5.5 -3.4 -27.6 -12.8 -13.4 -6.6 -8 -4.5 -1.2 -0.3 -1.4 -1.4 -2 -4 -2 -4 0 -1 -1 -1.6z" fill="#00b8ff"/>
<path d="M298.7 50.2l361.1 0 0 659.6 -31.3 0 -0.5 -0.6 0 -0.4 -2 -2 0 -0.6 -2 -2 0 -0.4 -2 -2 0 -0.6 -2 -2 0 -0.4 -2 -2 0 -0.6 -2 -2 0 -0.4 -2 -2 0 -0.6 -8 -9.4 0 -0.6 -2 -2 0 -0.4 -2 -2 0 -0.6 -2 -2 0 -0.4 -2 -2 0 -0.6 -2 -2 0 -0.4 -2 -2 0 -0.6 -2 -2 0 -0.4 -2 -2 0 -0.6 -2 -2 0 -0.4 -2 -2 0 -0.6 -2 -2 0 -0.4 -2 -2 0 -0.6 -2 -2 0 -0.4 -2 -2 0 -0.6 -8 -9.4 0 -0.6 -2 -2 0 -0.4 -2 -2 0 -0.6 -2 -2 0 -0.4 -2 -2 0 -0.6 -2 -2 0 -0.4 -2 -2 0 -0.6 -2 -2 0 -0.4 -2 -2 0 -0.6 -2 -2 0 -0.4 -2 -2 0 -0.6 -2 -2 0 -0.4 -2 -2 0 -0.6 -2 -2 0 -0.4 -2 -2 0 -0.6 -2 -2 0 -0.4 -2 -2 0 -0.6 -8 -9.4 0 -0.6 -2 -2 0 -0.4 -2 -2 0 -0.6 -2 -2 0 -0.4 -2 -2 0 -0.6 -2 -2 0 -0.4 -8 -9.6 0 -0.4 -2 -2 0 -0.6 -2 -2 0 -0.4 -2 -2 0 -0.6 -2 -2 0 -0.4 -6 -7 0 -0.6 -4 -5 0 -0.4 -1 -1 -1 -2 0 -1 6.2 -6.8 8 -9.8 20.7 -29 7.7 -12 6.5 -12 7.9 -17.4 4.9 -14.6 4.5 -17.4 3.5 -20 1.7 -16.6 0.4 -12 -1.2 -17 -2.6 -16.6 -6.5 -24.8 -8.9 -25.2 -7 -17.4 -7.6 -15.1 -8 -13.4 -9.7 -13.9 -5.3 -9.9 -3.4 -5 -10 -11.7 -14.6 -14 -13.3 -10.4 -17.3 -11 -8.8 -5 -7.1 -3.6 -16.9 -5.8 -17 -10.3 -18.6 -12.5 -3 -2.4 -2.6 -5 -2 -6 -1.1 -8 -0.9 -3.4 -1.8 -3.6 -2.7 -3 -4.4 -3.4 -5.9 -3.6 -29.6 -13.7 -12 -5.9 -7.4 -4.2 -1 -0.2 -1.6 -1.4 -4 -8 0 -1 -1 -1.6z" fill="#00c0ff"/>
<path d="M301.3 50.2l358.5 0 0 621.5 -150.2 -150.5 26.7 -41 6.9 -13.5 5.8 -13.5 5.6 -17 4.5 -18 3.4 -20 1.7 -17 0.4 -7 -0.3 -10 -2 -20 -2.1 -11.1 -4.8 -18.3 -3.2 -10 -11 -29.6 -6 -13.5 -7 -13.2 -7 -11.4 -8 -11.3 -5.4 -10.1 -4 -5.8 -11 -12.5 -13.6 -12.9 -13 -10.3 -17.9 -11.4 -15.1 -8.1 -17.4 -6.1 -21.6 -13.3 -13.9 -9.5 -3.1 -2.7 -2 -3.9 -2.2 -7 -0.8 -6.4 -0.9 -3.6 -1.7 -3.4 -3 -3.6 -4.6 -3.4 -6.2 -3.8 -29.6 -13.6 -20.4 -10.4 -0.4 -0.2 -0.1 -2.6 -1 -2 -0.5 -2.4 -0.5 -0.6 -0.5 -2.5 -0.5 -0.5 -0.5 -2.4z" fill="#00ccff"/>
<path d="M301.4 50.2l358.4 0 0 581.5 -1 -0.5 -4 -4 -0.6 0 -4 -4 -0.4 0 -4 -4 -0.6 0 -4 -4 -0.4 0 -4 -4 -0.6 0 -4 -4 -0.4 0 -4 -4 -0.6 0 -4 -4 -0.4 0 -4 -4 -0.6 0 -4 -4 -0.4 0 -4 -4 -0.6 0 -4 -4 -0.4 0 -4 -4 -0.6 0 -4 -4 -0.4 0 -4 -4 -0.6 0 -4 -4 -0.4 0 -4 -4 -0.6 0 -4 -4 -0.4 0 -4 -4 -0.6 0 -4 -4 -0.4 0 -4 -4 -0.6 0 -4 -4 -0.4 0 -8 -7.6 -0.6 0 -3.4 -3.5 -0.6 0 -3 -3 -0.4 0 -9 -8 -0.6 -0.1 -2 -2 -0.4 0 -4 -3.6 -0.6 0 -6 -6.2 19.8 -34 6.2 -13.2 4.5 -11.8 5.5 -20 3.8 -17.4 2.8 -20 1.4 -18 -0.6 -14 -2.1 -19 -2.3 -11 -5 -18.6 -10 -28 -5.4 -13.7 -7 -14.7 -8 -14.1 -11.3 -16.5 -5.7 -10.4 -4.6 -6.4 -10.4 -11.8 -13.6 -12.8 -13.5 -10.6 -17.9 -11.4 -7.9 -4.6 -7.2 -3.4 -16.5 -5.6 -20.9 -13 -13.7 -9.4 -4.4 -4.1 -1.3 -2.5 -2.2 -6.4 -1 -7 -0.9 -3.6 -1.7 -3.4 -2.6 -3 -5.1 -4 -6.6 -3.9 -30 -13.9 -20 -10.2 -0.4 -2.6 -1 -1.9 0 -1.1 -0.5 -0.4 -1 -4 -0.5 -0.5 -0.5 -2.5z" fill="#00d4ff"/>
<path d="M301.5 50.2l358.3 0 0 552.1 -1 -0.5 -2 -2 -0.6 0 -2 -2 -0.4 0 -2 -2 -0.6 0 -2 -2 -0.4 0 -2 -2 -0.6 0 -2 -2 -0.4 0 -2 -2 -0.6 0 -2 -2 -0.4 0 -2 -2 -0.6 0 -2 -2 -0.4 0 -2 -2 -0.6 0 -2 -2 -0.4 0 -2 -2 -0.6 0 -2 -2 -0.4 0 -2 -2 -0.6 0 -2 -2 -0.4 0 -2 -2 -0.6 0 -2 -2 -0.4 0 -2 -2 -0.6 0 -2 -2 -0.4 0 -2 -2 -0.6 0 -2 -2 -0.4 0 -2 -2 -0.6 0 -2 -2 -0.4 0 -2 -2 -0.6 0 -2 -2 -0.4 0 -2 -2 -0.6 0 -2 -2 -0.4 0 -2 -2 -0.6 0 -2 -2 -0.4 0 -2 -2 -0.6 0 -2 -2 -0.4 0 -2 -2 -0.6 0 -2 -2 -0.4 0 -2 -2 -0.6 0 -2 -2 -0.4 0 -2 -2 -0.6 0 -2 -2 -0.4 0 -2 -2 -0.6 0 -2 -2 -0.4 0 -2 -2 -0.6 0 -2 -2 -0.4 0 -2 -2 -0.6 0 -2 -2 -0.4 0 -2 -2 -0.6 0 -2 -2 -0.4 0 -2 -2 -0.6 0 -10.1 -10 1 -0.6 -0.4 -0.4 8.3 -15.6 6.5 -13.4 5.3 -12.9 2.9 -9.7 5.9 -26.4 3.2 -20 1.3 -12 0.6 -11.6 -0.5 -14.4 -2.2 -19 -3 -14 -5.2 -18.8 -11 -29.8 -6.6 -15.2 -7 -13.7 -8 -13.4 -8.7 -12.7 -5.8 -10.5 -7.5 -9.7 -10.6 -11.2 -11.4 -10.6 -11.6 -9 -15.3 -10 -13.1 -7.4 -8.4 -3.9 -10 -3 -4 -1.6 -20.6 -12.8 -12.4 -8.7 -6.1 -6 -2.4 -7 -1 -7 -0.9 -3.6 -1.9 -3.4 -2.6 -3 -5.1 -4 -6.9 -4 -30.1 -13.9 -19.9 -10.1 -0.4 -2.6 -0.5 -0.4 0 -1 -0.5 -0.6 0 -1 -0.5 -0.4 0 -1 -0.5 -0.6 0 -1 -0.5 -0.4 0 -1 -0.5 -0.6 0 -1z" fill="#00e0fa"/>
<path d="M301.6 50.2l358.2 0 0 514.1 -1 -1 -0.6 0 -8.4 -6 -0.6 0 -4 -3 -0.4 0 -1 -1 -3.6 -2 -1 -1 -0.4 0 -7 -5 -0.6 0 -1 -1 -0.4 0 -2.6 -2 -2 -1 -1 -1 -0.4 0 -1 -1 -0.6 0 -1 -1 -3.4 -2 -5.6 -4 -0.4 0 -8.6 -6 -0.4 0 -5.6 -4 -0.4 0 -8.6 -6 -0.4 0 -1 -1 -0.6 0 -4 -3 -2 -1 -1 -1 -0.4 0 -11.6 -8 -2 -1 -1 -1 -0.4 0 -11.6 -8 -2 -1 -5.4 -4 -0.6 0 -3 -3.1 1 -0.4 -0.5 -0.6 6.8 -15.4 5.9 -16 2.8 -11.2 4.7 -24.4 2.9 -20.4 1.4 -17.6 -0.1 -11.4 -1.6 -17 -2.6 -16 -5.7 -21.6 -3.4 -10.2 -10.6 -27.8 -6.4 -14.3 -6.5 -12.1 -7.1 -11.6 -8.2 -12 -6.8 -12 -8 -10.1 -11 -11.3 -10.5 -9.6 -11.8 -9 -14.6 -9.4 -13.1 -7.6 -8 -3.6 -14 -4.6 -21 -13.1 -9.9 -7.1 -6 -5.6 -2.5 -2.8 -1.9 -5.6 -1 -7 -1 -3.5 -1.9 -3.5 -3.2 -3.6 -4.7 -3.4 -6.9 -4 -31 -14.3 -18.9 -9.7 -0.7 -1.6 0 -1 -0.5 -0.4 0 -1 -0.5 -0.6 0 -1 -0.5 -0.4 0 -1 -0.5 -0.6 0 -1 -0.5 -0.4 0 -1 -0.5 -0.6 0 -1 -0.5 -0.4 0 -1z" fill="#02e8f4"/>
<path d="M301.6 50.2l358.2 0 0 488.7 -2 -1.5 -1.6 -0.5 -1 -1 -1.4 -0.5 -1 -1 -1.6 -0.5 -1 -1 -1.4 -0.5 -1 -1 -1.6 -0.5 -1 -1 -1.4 -0.5 -1 -1 -1.6 -0.5 -1 -1 -1.4 -0.5 -1 -1 -1.6 -0.5 -1 -1 -1.4 -0.5 -1 -1 -1.6 -0.5 -1 -1 -1.4 -0.5 -1 -1 -1.6 -0.5 -1 -1 -1.4 -0.5 -1 -1 -1.6 -0.5 -1 -1 -1.4 -0.5 -1 -1 -1.6 -0.5 -1 -1 -1.4 -0.5 -1 -1 -1.6 -0.5 -1 -1 -1.4 -0.5 -1 -1 -1.6 -0.5 -1 -1 -1.4 -0.5 -1 -1 -1.6 -0.5 -1 -1 -1.4 -0.5 -1 -1 -1.6 -0.5 -1 -1 -1.4 -0.5 -1 -1 -1.6 -0.5 -1 -1 -1.4 -0.5 -1 -1 -1.6 -0.5 -1 -1 -1.4 -0.5 -1 -1 -1.6 -0.5 -1 -1 -1.4 -0.5 -1 -1 -1.6 -0.5 -1 -1 -1.4 -0.5 -1 -1 -1.6 -0.5 -1 -1 -1.4 -0.5 -1 -1 -1.6 -0.5 -1 -1 -1.4 -0.5 -1 -1 -1.6 -0.5 -1 -1 -1.4 -0.5 -5.6 -4 -0.4 0 -3.2 -3.2 0.2 -0.4 0.5 -0.1 -0.3 -0.5 5 -15 3.6 -14.4 4.1 -24 2.8 -21 1 -11.6 0.4 -11.4 -0.9 -14.6 -2.1 -17 -2.3 -11 -5.8 -21 -9.6 -26 -5.7 -14 -5.7 -12.1 -6.5 -11.9 -6.5 -10.5 -7.4 -10.5 -5.2 -9.5 -3 -4.6 -9 -10.8 -11 -11 -10.3 -9.1 -10.7 -8 -15.5 -10 -11.4 -6.4 -8 -3.7 -14.1 -4.5 -20.4 -12.8 -8.1 -6 -7.7 -7 -3.2 -4.1 -1.4 -3.9 -0.9 -6.6 -1.1 -4 -2 -3.4 -3.2 -3.6 -4.7 -3.4 -7 -4 -33.3 -15.3 -10.3 -5.3 -6 -3.4 -1.3 -1.6 0 -1 -0.5 -0.4 0 -1 -0.5 -0.6 0 -1 -0.5 -0.4 0 -1 -0.5 -0.6 0 -1 -0.5 -0.4 0 -1 -0.5 -0.6 0 -1z" fill="#0cf4ea"/>
<path d="M301.7 50.2l358.1 0 -0.1 464 -1.9 -1.5 -5.6 -2.5 -1 -1 -94.4 -47 -1.2 -1.4 2.5 -10.6 3.7 -19.8 3.7 -28.6 1.6 -17.6 0.4 -9.4 -0.4 -10.6 -1.5 -14.4 -2.2 -13.6 -2.7 -11 -5 -17.4 -9.9 -27 -6 -14.2 -6 -12.3 -6.6 -11.5 -5.4 -8.7 -6.9 -9.9 -5.8 -10.4 -4.3 -6.2 -8 -9.4 -10.5 -10.4 -10.4 -9 -10.7 -8 -14.7 -9.6 -12.3 -7 -7.8 -3.4 -14.2 -4.7 -18.8 -11.9 -5 -3.4 -4.3 -3.6 -6.3 -6 -4.5 -5.4 -1.2 -2.6 -1.1 -7 -1.1 -4 -2 -3.4 -3.3 -3.6 -5.6 -4 -7.2 -4 -30 -13.7 -10.8 -5.3 -7 -4 -2.3 -2 0 -1 -0.5 -0.4 0 -1 -0.5 -0.6 0 -1 -0.5 -0.4 0 -1 -0.5 -0.6 0 -1 -1 -2 -0.5 -2.4z" fill="#12fce4"/>
<path d="M301.7 50.2l358.1 0 0 463.7 -2 -1.5 -5.6 -2.5 -1 -1 -5.4 -2.5 -1 -1 -4.6 -2 -1 -1 -4.4 -2 -1 -1 -10 -5 -1 -1 -3.6 -1.5 -1 -0.9 -3.4 -1.6 -1 -0.9 -3.6 -1.5 -1 -1 -3.4 -1.5 -1 -1 -3.6 -1.5 -1 -1 -3.4 -1.5 -4.6 -3 -2.4 -1 -1 -1 -2.6 -1 -1 -1 -2.4 -1 -1 -1 -1.6 -0.5 -3.4 -2.4 -1.6 -0.5 -1 -1 -1.4 -0.5 -1 -1 -1.6 -0.5 -1 -1 -1.4 -0.5 -2.6 -1.9 -0.4 0 -4 -3 -1.6 -0.5 -1.2 -1.4 5.7 -35 3 -27.6 1 -14 0 -9 -0.9 -11.4 -1.7 -14.6 -1.5 -8.4 -2.6 -10.6 -5.2 -18 -9.6 -25.7 -6.4 -15.3 -5.6 -11.4 -6.5 -11.6 -5.9 -9.4 -6.7 -9.6 -5.9 -10.5 -4.4 -6.4 -8.7 -10.1 -11.2 -11 -8.7 -7.4 -11.4 -8.6 -15.6 -10 -11.5 -6.4 -7.9 -3.5 -9.6 -2.8 -4 -1.6 -18.5 -11.7 -4.9 -3.4 -9.9 -9 -4.9 -6 -1.8 -3.3 -0.9 -6.3 -1.4 -4.5 -2.2 -3.5 -2.9 -3 -5.6 -4 -7.2 -4 -30.2 -13.7 -11.7 -5.7 -6 -3.6 -2.4 -2 0 -1 -0.5 -0.4 0 -1 -0.5 -0.6 0 -1 -0.5 -0.4 0 -1 -0.5 -0.6 0 -1 -0.5 -0.4 0 -1 -0.5 -0.6 0 -1z" fill="#1fffd7"/>
<path d="M314.5 50.2l345.3 0 0 440.7 -94 -47 -1.1 -1.1 0.6 -11 2.1 -20 2 -36.5 -0.7 -11.1 -1.5 -14 -1.6 -10.4 -1.9 -9 -7.2 -24.6 -10.3 -27.2 -6.4 -15.1 -5 -10 -6.7 -11.7 -5.7 -9 -7 -10 -5.6 -10.2 -4.5 -6.4 -8.6 -9.8 -11.5 -11.3 -10.3 -8.7 -10.2 -7.6 -16.4 -10.4 -10.7 -6 -6.8 -3 -10.5 -3.2 -4.1 -1.6 -16 -10.2 -6.1 -4.6 -6.8 -7 -4.9 -6 -2.2 -4 -1.1 -4.4 -1.6 -3.6 -4.7 -7 -5 -4.4 -5.4 -3.6 -6.6 -3.4 -29.9 -13.6 -10.2 -5 -6.1 -3.4 -0.2 -1 0.9 -1.6 1 -4 0.5 -0.4z" fill="#32ffc3"/>
<path d="M318.2 50.2l341.6 0 0 417.7 -1 0 -1.6 -1 -1 0 -1.4 -1 -1 0 -1.6 -1 -1 0 -1.4 -1 -1 0 -1.6 -1 -1 0 -1.4 -1 -1 0 -1.6 -1 -1 0 -1.4 -1 -1 0 -1.6 -1 -1 0 -1.4 -1 -1 0 -1.6 -1 -1 0 -1.4 -1 -1 0 -1.6 -1 -1 0 -1.4 -1 -1 0 -1.6 -1 -1 0 -1.4 -1 -1 0 -1.6 -1 -1 0 -1.4 -1 -1 0 -1.6 -1 -1 0 -1.4 -1 -1 0 -1.6 -1 -1 0 -1.4 -1 -1 0 -1.6 -1 -1 0 -1.4 -1 -1 0 -1.6 -1 -1 0 -1.4 -1 -1 0 -1.6 -1 -1 0 -1.4 -1 -1 0 -1.6 -1 -1 0 -1.4 -1 -1 0 -1.6 -1 -1 0 -1.4 -1 -1 0 -1.6 -1 -2.4 -0.8 -4 -2 -1.4 -1.3 1.7 -42.6 0.1 -12.4 -1.7 -17 -1.9 -15 -1.7 -9 -2.6 -10 -6 -19.6 -11.5 -29.4 -7 -15.8 -5.6 -10.5 -6 -10.3 -11.2 -16.4 -6.5 -11.6 -5.3 -7 -9 -9.9 -10.4 -10.1 -9.6 -8 -10.9 -8 -15.6 -10 -10.7 -6 -8.1 -3.4 -9.7 -2.9 -4 -1.6 -13.1 -8.5 -6.1 -4.6 -6.1 -6.4 -4.2 -6 -2.2 -4 -1.6 -5.6 -2.1 -3.4 -7.9 -8.6 -4.2 -3.4 -11.2 -6.6 -31 -14 -10.1 -5 -5.2 -3 0 -1z" fill="#49ffad"/>
<path d="M319.6 50.8l0.5 -0.6 339.7 0 0 398.9 -1 0 -0.6 -0.5 -4 -1 -0.4 -0.5 -1 0 -0.6 -0.5 -1 0 -0.4 -0.5 -1 0 -0.6 -0.5 -1 0 -0.4 -0.5 -1 0 -0.6 -0.5 -1 0 -0.4 -0.5 -4 -1 -0.6 -0.5 -1 0 -2 -1 -1 0 -2 -1 -1 0 -0.4 -0.5 -1 0 -0.6 -0.5 -1 0 -0.4 -0.5 -1 0 -0.6 -0.5 -1 0 -0.4 -0.5 -1 0 -0.6 -0.5 -1 0 -0.4 -0.5 -1 0 -0.6 -0.5 -1 0 -0.4 -0.5 -1 0 -2 -1 -1 0 -2 -1 -1 0 -0.6 -0.5 -1 0 -0.4 -0.5 -1 0 -0.6 -0.5 -1 0 -0.4 -0.5 -1 0 -0.6 -0.5 -1 0 -0.4 -0.5 -1 0 -0.6 -0.5 -1 0 -0.4 -0.5 -1 0 -2 -1 -1 0 -2 -1 -1 0 -0.6 -0.5 -1 0 -0.4 -0.5 -1 0 -0.6 -0.5 -1 0 -0.4 -0.5 -1 0 -0.6 -0.5 -1 0 -0.4 -0.5 -1 0 -0.6 -0.5 -1 0 -0.4 -0.5 -1 0 -0.6 -0.5 -1 0 -0.4 -0.5 -1 0 -0.6 -0.5 -1 0 -2 -1 -1 0 -0.4 -0.5 -1 0 -1.5 -1.3 -0.4 -14.6 0.5 -29.4 -5.4 -37 -2 -9 -4.5 -15.6 -2.9 -8.4 -11.1 -28 -8.7 -19.5 -10 -18.1 -6 -9.3 -6.2 -8.7 -6.9 -12 -8 -10 -9.9 -10.3 -11.8 -10.7 -11.2 -8.6 -16.6 -10.8 -13 -7.6 -9 -3.9 -10 -2.9 -4 -1.6 -16.4 -11.6 -5.4 -5.4 -2.8 -4 -3.4 -6.6 -1.8 -6 -2.2 -3.4 -3.8 -4 -10 -8.6 -5.5 -3.4 -6.7 -3.6 -28.9 -13 -14.8 -7.4 0.1 -2 0.5 -0.6 1 -4 0.5 -0.4 0.5 -2.6 0.5 -0.4 0 -1 2 -4z" fill="#5cff9a"/>
<path d="M325.1 50.2l334.7 0 0 387.6 -0.6 -0.5 -1.4 0 -0.6 -0.5 -2.4 -0.5 -0.6 -0.5 -1.4 0 -0.6 -0.5 -2.4 -0.5 -0.6 -0.5 -1.4 0 -0.6 -0.5 -2.4 -0.5 -0.6 -0.5 -1.4 0 -2 -1 -1 0 -0.6 -0.5 -1.4 0 -2 -1 -1 0 -0.6 -0.5 -1 0 -6.4 -2.3 -1 0 -0.6 -0.5 -1 0 -0.4 -0.5 -1 0 -0.6 -0.5 -1 0 -0.4 -0.5 -1 0 -0.6 -0.5 -1 0 -0.4 -0.5 -1 0 -0.6 -0.5 -1 0 -0.4 -0.5 -1 0 -0.6 -0.5 -1 0 -0.4 -0.5 -1 0 -0.6 -0.5 -1 0 -0.4 -0.5 -1 0 -0.6 -0.5 -1 0 -0.4 -0.5 -1 0 -0.6 -0.5 -1 0 -0.4 -0.5 -1 0 -0.6 -0.5 -1 0 -0.4 -0.5 -1 0 -0.6 -0.5 -1 0 -0.4 -0.5 -1 0 -0.6 -0.5 -1 0 -0.4 -0.5 -1 0 -0.6 -0.5 -1 0 -0.4 -0.5 -1 0 -0.6 -0.5 -1 0 -0.4 -0.5 -1 0 -0.6 -0.5 -1 0 -0.4 -0.5 -1 0 -0.6 -0.5 -1 0 -0.4 -0.5 -4 -1 -1.3 -1.3 -0.6 -10 -0.3 -23.4 -1.6 -12 -5 -29 -2.1 -8 -5 -16 -13.5 -34 -9.1 -20 -10.3 -18.6 -12.2 -18 -6.7 -11.4 -8.3 -10.5 -9.6 -9.8 -11.9 -10.7 -11.1 -8.6 -15.2 -10 -13.7 -8 -9.5 -4.2 -14 -4.5 -14.5 -10.3 -5.8 -6 -2.5 -3.4 -3.2 -6.6 -1.6 -6 -2.4 -3.9 -4.4 -4.5 -10.4 -8 -5.4 -3.6 -7.6 -4 -26.8 -12 -13.2 -6.4 0 -2 0.5 -0.6 1 -4 0.5 -0.4 0.6 -2.6 0.5 -0.4 0 -1 1 -1.6 0 -1 2 -4z" fill="#70ff86"/>
<path d="M331.9 50.2l327.9 0 0 370.4 -0.6 -0.5 -1.4 0 -0.6 -0.5 -1.4 0 -0.6 -0.5 -1.4 0 -0.6 -0.5 -1.4 0 -0.6 -0.5 -1.4 0 -0.6 -0.5 -1.4 0 -0.6 -0.5 -1.4 0 -0.6 -0.5 -1.4 0 -0.6 -0.5 -1.4 0 -0.6 -0.5 -1.4 0 -0.6 -0.5 -1.4 0 -0.6 -0.5 -1.4 0 -0.6 -0.5 -3.4 -0.5 -0.6 -0.5 -1.4 0 -0.6 -0.5 -1.4 0 -0.6 -0.5 -1.4 0 -0.6 -0.5 -1.4 0 -0.6 -0.5 -1.4 0 -0.6 -0.5 -1.4 0 -0.6 -0.5 -1.4 0 -0.6 -0.5 -1.4 0 -0.6 -0.5 -1.4 0 -0.6 -0.5 -1.4 0 -0.6 -0.5 -3.4 -0.5 -0.6 -0.5 -1.4 0 -0.6 -0.5 -1.4 0 -0.6 -0.5 -1.4 0 -0.6 -0.5 -1.4 0 -0.6 -0.5 -1.4 0 -0.6 -0.5 -1.4 0 -0.6 -0.5 -1.4 0 -0.6 -0.5 -1.4 0 -0.6 -0.5 -1.4 0 -0.6 -0.5 -1.4 0 -0.6 -0.5 -3.4 -0.5 -0.6 -0.5 -2.4 -0.5 -1.5 -1.4 -1.2 -22.4 -6 -35 -3 -13 -6 -17.6 -14.9 -36 -8.4 -18 -10.4 -18.4 -12.1 -18.1 -7.1 -11.8 -8 -9.9 -9.4 -9.8 -11.1 -10 -12.3 -9.4 -15.3 -10 -13.9 -8.1 -9.4 -4.2 -14 -4.5 -12.1 -8.8 -5.8 -6 -2.9 -4 -3.1 -6.4 -1.5 -6 -1.9 -3.6 -3 -3.4 -4.2 -3.6 -11.6 -8 -6.9 -4 -39.1 -18 -0.4 -1 1 -1.5 1 -3.9 1.5 -3.6 0 -1 1 -1.4 0 -1 1 -1.6 0 -1 1 -1.4z" fill="#86ff70"/>
<path d="M338.8 50.2l321 0 0 352 -1 -0.5 -2 0 -0.6 -0.5 -2 0 -0.4 -0.5 -2 0 -0.6 -0.5 -2 0 -0.4 -0.5 -2 0 -0.6 -0.5 -2 0 -0.4 -0.5 -2 0 -0.6 -0.5 -2 0 -0.4 -0.5 -2 0 -0.6 -0.5 -2 0 -0.4 -0.5 -2 0 -0.6 -0.5 -2 0 -0.4 -0.5 -2 0 -0.6 -0.5 -2 0 -0.4 -0.5 -2 0 -0.6 -0.5 -2 0 -0.4 -0.5 -2 0 -0.6 -0.5 -2 0 -0.4 -0.5 -2 0 -0.6 -0.5 -2 0 -0.4 -0.5 -2 0 -0.6 -0.5 -2 0 -0.4 -0.5 -2 0 -0.6 -0.5 -2 0 -0.4 -0.5 -2 0 -0.6 -0.5 -2 0 -0.4 -0.5 -2 0 -0.6 -0.5 -2 0 -0.4 -0.5 -2 0 -0.6 -0.5 -1.4 -0.3 -2.6 0 -0.9 -9.7 -3.2 -13.4 -5.4 -28 -2.9 -10.9 -5.2 -14.1 -7.8 -17.4 -8.9 -21.2 -8.3 -17 -9.7 -17 -12.1 -17.8 -7 -11.8 -8 -9.9 -9.8 -9.9 -11.7 -10.6 -11.1 -8.4 -12.8 -8.6 -14.2 -8.4 -11.8 -5.6 -14.2 -4.4 -10.9 -8 -6 -6.6 -2.9 -4.5 -1.9 -4.5 -0.6 -0.4 -1.2 -5.6 -2.2 -4.4 -2.8 -3.6 -4.1 -3.4 -13.7 -9 -5.7 -3.2 -35.5 -16.4 0 -1 3 -5.4 0.6 -2.6 0.5 -0.5 0 -0.9 2 -4 0 -1 1 -1.6 0 -1 1 -1.4 0 -1 1 -1.6z" fill="#9aff5c"/>
<path d="M345.2 50.2l314.6 0 0 335.4 -3 0 -0.6 -0.5 -3 0 -0.4 -0.5 -3 0 -0.6 -0.5 -3 0 -0.4 -0.5 -3 0 -0.6 -0.5 -3 0 -0.4 -0.5 -3 0 -0.6 -0.5 -3 0 -0.4 -0.5 -3 0 -0.6 -0.5 -3 0 -0.4 -0.5 -3 0 -0.6 -0.5 -3 0 -0.4 -0.5 -3 0 -0.6 -0.5 -3 0 -0.4 -0.5 -3 0 -0.6 -0.5 -3 0 -0.4 -0.5 -3 0 -0.6 -0.5 -3 0 -0.4 -0.5 -3 0 -0.6 -0.4 -2 0 -0.4 -0.5 -6.6 -0.2 -4 -13.9 -7.1 -31.8 -7.9 -21.8 -7.4 -15 -10.4 -23.8 -7.6 -15.3 -10.7 -18.1 -10.9 -15.8 -7.8 -12.8 -7.6 -9.3 -11.1 -11.1 -10.5 -9.2 -11 -8.4 -12.8 -8.4 -14.2 -8.6 -12 -5.4 -14 -4.4 -8.8 -6.6 -6 -6.6 -2.7 -4 -2.4 -5.4 -0.5 -0.6 -1.3 -5.4 -2.5 -5 -2.8 -3.6 -4 -3.4 -6.1 -4 -13.9 -8.2 -30 -13.8 0 -2 0.5 -0.6 1 -4 0.5 -0.4 0.5 -2.6 0.5 -0.4 0 -1 1 -1.6 0 -1 1 -1.4 0 -1 1 -1.6 0 -1 1 -1.4 0 -1 1 -1.6 0 -1z" fill="#b0ff46"/>
<path d="M353.9 50.2l305.9 0 0 324.8 -4 0 -0.6 -0.5 -4 0 -0.4 -0.5 -4 0 -0.6 -0.5 -4 0 -0.4 -0.5 -4 0 -0.6 -0.5 -4 0 -0.4 -0.5 -4 0 -0.6 -0.5 -4 0 -0.4 -0.5 -4 0 -0.6 -0.5 -4 0 -0.4 -0.5 -4 0 -0.6 -0.5 -4 0 -0.4 -0.5 -4 0 -0.6 -0.4 -6.4 -0.5 -0.6 -0.4 -2 0 -0.4 -0.5 -6.6 -0.1 -3 -9.4 -6.8 -27.9 -9.2 -23.6 -8.4 -16.1 -10.7 -23.3 -7.7 -15.1 -9.5 -15.9 -11.1 -16.2 -7.3 -11.8 -8.2 -10 -9.5 -9.7 -11.6 -10.3 -11.9 -9 -14.5 -9.6 -12.7 -7.4 -10.9 -5.1 -15 -4.7 -6.9 -5.2 -3.1 -3 -4.7 -6 -2.2 -4 -1 -3 -0.8 -1 -1.2 -5 -1.9 -4.6 -2.8 -4 -4.3 -4 -5.9 -4 -13.6 -7.8 -23.9 -11.2 0 -2 1 -2 0.5 -2.4 0.5 -0.6 0 -1 0.5 -0.4 0 -1 0.5 -0.6 0 -1 0.5 -0.4 0 -1 0.5 -0.6 1 -4 0.5 -0.4 0 -1 1 -2 0 -1 0.5 -0.6 0 -1 0.5 -0.4 1 -4 0.5 -0.5z" fill="#c3ff32"/>
<path d="M365.4 50.8l0.5 -0.6 293.9 0 0 309.9 -1 0 -0.6 -0.5 -7.4 0 -0.6 -0.5 -7 0 -0.4 -0.4 -7 0 -0.6 -0.5 -6 0 -0.4 -0.5 -6.6 -0.2 -36.2 -0.3 -2.8 -7.7 -4.8 -18.7 -3 -8 -7 -15.6 -10.2 -19.1 -12.7 -26.3 -6.7 -12.6 -8.4 -14 -11.2 -16 -6.7 -11 -5.4 -7 -9.3 -9.9 -11.4 -10.5 -9.2 -7.6 -11.4 -8 -15 -9.5 -11.6 -6.3 -8.6 -3.6 -12.4 -3.7 -3 -1.8 -5.7 -5.1 -5.2 -6.4 -2.2 -4 -1.2 -3.6 -0.7 -0.4 -1.2 -5.6 -1.7 -4 -2.1 -3.4 -3.2 -3.6 -5.1 -4 -6.6 -4 -12.1 -6.6 -14.3 -6.8 0 -2 0.5 -0.6 1 -4 0.5 -0.4 0.5 -2.6 0.5 -0.4 0 -1 1 -1.6 0 -1 1 -1.4 0 -1 1 -1.6 0 -1 1 -1.4 0 -1 1 -1.6 0 -1 1 -1.4 0 -1 1 -1.6 0 -1 0.5 -0.4z" fill="#d7ff1f"/>
<path d="M374.8 50.2l285 0 0 294.2 -73 0 -0.6 0.3 -0.4 -0.6 -4.5 -14.3 -4.8 -11 -5.9 -11.6 -9.6 -17 -18.8 -36.4 -13 -21.5 -9.5 -13.5 -6.8 -11 -6.4 -8 -8.3 -8.8 -11.6 -10.8 -9.8 -7.8 -11.1 -7.7 -15.5 -9.7 -11 -6 -8.4 -3.6 -12 -3.5 -3.1 -1.7 -5.5 -5 -4.6 -6 -2.1 -4 -1.2 -3.4 -0.6 -0.6 -1.2 -5.4 -1.5 -4 -2.1 -3.6 -3 -3.4 -4.2 -3.6 -5.4 -3.4 -23.6 -12.6 -0.2 -1 4.3 -8.4 0 -1 1 -1.6 0 -1 1 -1.4 0 -1 1 -1.6 0 -1 1 -1.4 0 -1 1 -1.6 0 -1 1 -1.4 0 -1 1 -1.6 0 -1 1 -1.4 0 -1 1 -1.6 0 -1z" fill="#edff08"/>
<path d="M379.6 50.2l280.2 0 0 271.7 -1 0 -0.6 0.5 -7.4 0 -0.6 0.5 -7 0 -0.4 0.5 -7 0 -0.6 0.4 -12.4 0.5 -0.6 0.5 -38 0.2 -0.4 -0.5 -11.1 -18.3 -8.9 -13.7 -18.2 -34.3 -11.1 -19 -7.5 -11.4 -7.2 -10 -6.6 -10.5 -8.4 -10.3 -9.7 -9.8 -10.3 -9.1 -9.5 -7.3 -11.5 -7.9 -15 -9.2 -9.6 -5.1 -8.4 -3.6 -12 -3.5 -3 -1.6 -4.8 -4.7 -4.4 -6 -2 -4 -0.9 -3 -0.8 -1 -0.8 -4.4 -1.3 -4 -1.9 -3.6 -2.7 -3.4 -3.8 -3.6 -5 -3.4 -20.1 -11 0.1 -2 0.5 -0.6 0 -1 0.5 -0.4 0 -1 0.5 -0.6 0.5 -2.4 0.5 -0.6 0 -1 0.5 -0.4 0 -1 1 -2 0 -1 0.5 -0.6 1 -4 1 -2 1 -4 0.5 -0.4 1 -4 0.5 -0.6z" fill="#ffe900"/>
<path d="M385.6 50.2l274.2 0 -0.1 251.5 -2.5 0 -0.4 0.5 -3.6 0 -0.4 0.5 -3.6 0 -0.5 0.5 -3.5 0 -0.4 0.5 -3.6 0 -0.4 0.5 -3.6 0 -0.4 0.5 -3.6 0 -0.5 0.5 -3.5 0 -0.4 0.5 -3.6 0 -0.4 0.5 -3.6 0 -0.4 0.5 -3.6 0 -0.5 0.5 -3.5 0 -0.4 0.5 -3.6 0 -0.4 0.5 -3.6 0 -0.4 0.5 -3.6 0 -0.4 0.5 -3 0 -0.6 0.5 -3 0 -0.4 0.4 -2 0 -0.6 0.5 -2 0 -0.4 0.5 -2.6 0.5 -3.4 2.2 -1.6 -0.4 -13 -17.2 -4.4 -6.7 -17.4 -31.7 -14.3 -23.6 -11.9 -16.9 -6.6 -10.5 -8.8 -10.6 -9.5 -9.4 -10.2 -9 -9.7 -7.6 -11.6 -7.8 -15 -9.2 -9 -4.8 -8.6 -3.6 -11.4 -3.3 -3.7 -1.7 -4.4 -4.6 -4.2 -6 -1.7 -3.5 -0.9 -2.9 -0.7 -0.6 -0.7 -5 -1.4 -4.4 -1.8 -3.6 -2.3 -3 -3.6 -3.4 -4.2 -3.1 -17.2 -9.9 0.1 -2 0.5 -0.6 0 -1 0.5 -0.4 0 -1 0.5 -0.6 0 -1 0.5 -0.4 0 -1 0.5 -0.6 0 -1 0.5 -0.4 0 -1 0.5 -0.6 0 -1 0.5 -0.4 0 -1 0.5 -0.6 0 -1 0.5 -0.4 0 -1 0.5 -0.6 0 -1 0.5 -0.4 0 -1 0.5 -0.6 0 -1 0.5 -0.4 0 -1 0.5 -0.6 0 -1 0.5 -0.4 0 -1 0.5 -0.6 0 -1 0.5 -0.4 0 -1 0.5 -0.6 0 -1 0.5 -0.4 0 -1 0.5 -0.6 0 -1 0.5 -0.4 0 -1 0.5 -0.6z" fill="#ffcf00"/>
<path d="M391.7 50.8l0.5 -0.6 267.6 0 0 235.9 -4.6 0.5 -0.4 0.5 -2 0 -0.6 0.5 -2 0 -0.4 0.5 -2 0 -0.6 0.5 -2 0 -0.4 0.5 -2 0 -0.6 0.5 -2 0 -0.4 0.5 -2 0 -0.6 0.5 -2 0 -0.4 0.5 -2 0 -0.6 0.5 -4.4 0.5 -0.6 0.5 -2 0 -0.4 0.5 -2 0 -0.6 0.5 -2 0 -0.4 0.5 -2 0 -0.6 0.5 -2 0 -0.4 0.5 -2 0 -0.6 0.5 -2 0 -0.4 0.5 -2 0 -0.6 0.5 -2 0 -0.4 0.5 -4.6 0.5 -0.4 0.5 -2 0 -0.6 0.5 -2 0 -0.4 0.5 -2 0 -0.6 0.5 -2 0 -0.4 0.5 -2 0 -0.6 0.5 -2.4 0.5 -1.5 1.1 -1.5 2.5 -1 0.8 -1 -0.1 -1 -0.7 -6 -6.3 -7.5 -9.6 -16.4 -29 -15 -24 -13.1 -18.9 -6.9 -10.7 -8.8 -10.4 -9.6 -9.6 -10.3 -9 -9.8 -7.4 -11.8 -8 -14.4 -8.8 -9.4 -5 -9 -3.7 -11.6 -3.3 -3.2 -1.8 -4 -4.4 -3.9 -6 -2.6 -6.6 -0.6 -4.4 -1.1 -4.3 -1.6 -3.3 -2 -3 -3.2 -3.4 -3.8 -3.1 -14.5 -8.9 0 -2 1 -2 0 -1 0.5 -0.6 0 -1 1 -2 0 -1 1 -2 0 -1 0.5 -0.4 0 -1 1 -2 0 -1 0.5 -0.6 0 -1 1 -2 0 -1 1 -2 0 -1 0.5 -0.4 0 -1 1 -2 0 -1 0.5 -0.6 0 -1 1 -2 0 -1 1 -2 0 -1 0.5 -0.4z" fill="#ffb900"/>
<path d="M402.3 50.7l0.5 -0.5 257 0 0 227.5 -1 0 -0.6 0.5 -2 0 -0.4 0.5 -2 0 -0.6 0.5 -2 0 -0.4 0.5 -2 0 -0.6 0.5 -2 0 -0.4 0.5 -2 0 -0.6 0.5 -2 0 -0.4 0.5 -2 0 -0.6 0.5 -2 0 -0.4 0.5 -2 0 -0.6 0.5 -2 0 -0.4 0.5 -2 0 -0.6 0.5 -2 0 -0.4 0.5 -2 0 -0.6 0.5 -2 0 -0.4 0.5 -2 0 -0.6 0.5 -2 0 -0.4 0.5 -2 0 -0.6 0.5 -2 0 -0.4 0.5 -2 0 -0.6 0.5 -2 0 -0.4 0.5 -2 0 -0.6 0.5 -2 0 -0.4 0.5 -2 0 -0.6 0.5 -2 0 -0.4 0.5 -2 0 -0.6 0.5 -2 0 -0.4 0.5 -2 0 -0.6 0.5 -2 0 -0.4 0.4 -2.6 0.5 -1.3 1.1 -1.7 3.7 -1 1.1 -1.4 -0.1 -2 -1.5 -5 -4.8 -5.6 -7.3 -19.6 -33.1 -13.7 -21 -10.7 -14.7 -6.2 -9.7 -5.6 -7 -7.5 -8 -8.1 -7.8 -8.5 -7.2 -8.5 -6.6 -9.6 -6.6 -15.4 -9.6 -11.6 -6.2 -9 -3.8 -10.4 -2.9 -3.6 -1.4 -2.3 -1.9 -4.1 -5.6 -3 -6 -1.2 -3.4 -0.4 -4.6 -0.9 -4 -1.1 -3 -1.8 -3 -2.4 -3 -3.2 -3 -11.9 -8 0 -0.4 4.4 -9 0 -1 1 -1.6 0 -1 1 -1.4 0 -1 1 -1.6 0 -1 1 -1.4 0 -1 1 -1.6 0 -1 1 -1.4 0 -1 1 -1.6 0 -1 1 -1.4 0 -1 2 -4 0 -1 1.5 -3 0.5 -2.6 1 -1.4z" fill="#ffa300"/>
<path d="M405.3 50.8l0.5 -0.6 254 0 0 216.4 -3 0.5 -0.6 0.5 -1.4 0 -0.6 0.5 -1.4 0 -0.6 0.5 -1.4 0 -0.6 0.5 -1.4 0 -0.6 0.5 -1.4 0 -0.6 0.5 -1.4 0 -0.6 0.5 -1.4 0 -0.6 0.5 -1.4 0 -0.6 0.5 -1.4 0 -0.6 0.5 -1.4 0 -0.6 0.5 -1.4 0 -0.6 0.5 -1.4 0 -0.6 0.5 -1.4 0 -0.6 0.5 -1.4 0 -0.6 0.5 -1.4 0 -0.6 0.5 -1.4 0 -0.6 0.5 -1.4 0 -0.6 0.5 -1.4 0 -0.6 0.5 -1.4 0 -0.6 0.5 -1.4 0 -0.6 0.5 -1.4 0 -0.6 0.5 -1.4 0 -0.6 0.5 -1.4 0 -0.6 0.5 -1.4 0 -0.6 0.5 -1.4 0 -0.6 0.5 -1.4 0 -0.6 0.5 -1.4 0 -0.6 0.5 -1.4 0 -0.6 0.5 -1.4 0 -0.6 0.5 -1.4 0 -0.6 0.5 -1.4 0 -0.6 0.5 -1.4 0 -0.6 0.5 -1.4 0 -0.6 0.5 -1.4 0 -0.6 0.5 -1.4 0 -0.6 0.5 -1.4 0 -0.6 0.5 -2.4 0.4 -1.6 1.2 -1.4 4.9 -1 1.6 -1.6 0 -2 -1.4 -4.4 -4.4 -5.6 -7.5 -19.2 -31.2 -13.5 -20 -9.7 -13.2 -6.8 -10.2 -6.6 -8 -7.8 -8 -10.4 -9.6 -9 -7.3 -9.4 -6.8 -12 -7.7 -11.6 -6.8 -8 -4.2 -9 -3.7 -13.2 -3.9 -1.8 -1.2 -1.6 -1.8 -3.5 -5 -2.1 -4.6 -1.3 -4 -0.3 -4.4 -0.7 -4 -2.4 -6 -2.2 -3 -2.9 -2.9 -8.8 -6.7 0 -1 0.9 -1.4 0 -1 0.5 -0.6 0 -1 0.5 -0.4 0 -1 0.5 -0.6 0 -1 0.5 -0.4 0 -1 0.5 -0.6 0 -1 0.5 -0.4 0 -1 0.5 -0.6 0 -1 0.5 -0.4 0 -1 0.5 -0.6 0 -1 0.5 -0.4 0 -1 0.5 -0.6 0 -1 0.5 -0.4 0 -1 0.5 -0.6 0 -1 0.5 -0.4 0 -1 0.5 -0.6 0 -1 0.5 -0.4 0 -1 0.5 -0.6 0 -1 0.5 -0.4 0 -1 0.5 -0.6 0 -1 0.5 -0.4 0 -1 0.5 -0.6 0 -1 0.5 -0.4 0 -1 0.5 -0.6 0 -1 0.5 -0.4 0 -1 0.5 -0.6 0 -1 0.5 -0.4z" fill="#ff8900"/>
<path d="M411.8 50.2l248 0 0 204 -2 1 -1.6 0 -2 1 -1.4 0 -2 1 -1.6 0 -2 1 -1.4 0 -2 1 -1.6 0 -2 1 -1.4 0 -2 1 -1.6 0 -2 1 -1.4 0 -2 1 -1.6 0 -2 1 -1.4 0 -2 1 -1.6 0 -2 1 -1.4 0 -0.6 0.5 -3 0.5 -2 1 -1.4 0 -2 1 -1.6 0 -2 1 -1.5 0 -2 1 -1 0 -3.5 1.5 -1 0 -0.4 0.5 -1 0 -0.6 0.5 -1 0 -0.4 0.5 -1 0 -0.6 0.5 -1 0 -0.4 0.5 -1 0 -0.6 0.5 -1 0 -0.4 0.5 -1 0 -0.6 0.5 -1 0 -0.4 0.5 -1 0 -0.6 0.5 -1 0 -0.4 0.5 -1 0 -1.6 1.7 -1 6.4 -0.7 1.9 -1.3 0.6 -2 -1.2 -4.4 -4.5 -6 -8.2 -21.5 -33.1 -9.7 -14 -9.4 -12.5 -6.7 -10.1 -7.2 -8.4 -7.9 -8 -10.2 -9.2 -9 -7.3 -11 -7.7 -12 -7.6 -11 -6.4 -7 -3.7 -8.4 -3.5 -13.6 -3.9 -1.4 -0.9 -1.7 -1.8 -3.3 -5 -2.1 -4.6 -0.9 -3.4 -0.7 -8.6 -2 -6 -1.5 -2.4 -2.1 -2.6 -6.8 -6 0.1 -1 1 -1.4 0 -1 0.5 -0.6 0 -1 0.5 -0.4 0 -1 0.5 -0.6 0 -0.9 0.5 -0.5 0 -1 0.5 -0.6 0 -1 0.5 -0.4 0 -1 0.5 -0.6 0 -1 0.5 -0.4 0 -1 0.5 -0.6 0 -1 0.5 -0.4 0 -1 0.5 -0.6 0 -1 0.5 -0.4 0 -1 0.5 -0.6 0 -1 0.5 -0.4 0 -1 0.5 -0.6 0 -1 0.5 -0.4 0 -1 0.5 -0.6 0 -0.9 0.5 -0.5 0 -1 0.5 -0.6 0 -1 0.5 -0.4 0 -1 0.5 -0.6 0 -1 0.5 -0.4 0 -1 0.5 -0.6 0 -1 0.5 -0.4 0 -1 0.5 -0.6 0 -1 0.5 -0.4 0 -1 0.5 -0.6 0 -0.9 0.5 -0.5 0 -1 0.5 -0.6z" fill="#ff7300"/>
<path d="M417.2 50.2l242.6 0 0 193.8 -1 0 -0.6 0.5 -2.4 0.5 -0.6 0.5 -2.4 0.5 -0.6 0.5 -1 0 -0.4 0.5 -1 0 -0.6 0.5 -1 0 -0.4 0.5 -2.6 0.5 -0.4 0.5 -1 0 -0.6 0.5 -1 0 -0.4 0.5 -1 0 -0.6 0.5 -2.4 0.5 -0.6 0.5 -1 0 -0.4 0.5 -1 0 -0.6 0.5 -1 0 -0.4 0.5 -2.6 0.5 -0.4 0.5 -1 0 -0.6 0.5 -1 0 -0.4 0.5 -1 0 -0.6 0.5 -2.4 0.5 -0.6 0.5 -1 0 -2 1 -1 0 -0.4 0.5 -1 0 -2 1 -1 0 -0.6 0.5 -1 0 -0.4 0.5 -1 0 -0.6 0.5 -1 0 -2 1 -1 0 -0.4 0.5 -1 0 -0.6 0.5 -1 0 -0.4 0.5 -1 0 -2 1 -1 0 -0.6 0.5 -1 0 -0.4 0.5 -1 0 -0.6 0.5 -1 0 -2 1 -1 0 -0.4 0.5 -1 0 -0.6 0.5 -1 0 -0.4 0.5 -1 0 -2 1 -1 0 -0.6 0.5 -1 0 -0.4 0.5 -1 0 -0.6 0.5 -2.4 0.5 -1.7 1.2 -1.2 10.6 -0.7 0.7 -0.4 0 -1.6 -0.8 -5 -5.1 -6 -8 -25.1 -37.4 -12.9 -17.1 -7.1 -10.3 -7.3 -8.6 -9.6 -9.4 -10.4 -9.2 -9 -7 -11 -7.6 -13 -8 -9.6 -5.5 -7 -3.5 -7.4 -3 -13.6 -3.9 -1.3 -0.9 -1.4 -1.4 -3.3 -5.6 -2 -5 -0.5 -2 -0.4 -9 -1.4 -5.4 -2.5 -4.6 -5 -5.4 0 -1 0.7 -1.6 0 -1 0.5 -0.4 0 -1 0.5 -0.6 0 -1 0.5 -0.4 0 -1 0.5 -0.6 0 -1 0.5 -0.4 0 -1 0.5 -0.6 0 -1 0.5 -0.4 0 -1 0.5 -0.6 0 -1 0.5 -0.4 0 -1 0.5 -0.6 0 -1 0.5 -0.4 0 -1 0.5 -0.6 0 -1 0.5 -0.4 0 -1 0.5 -0.6 0 -1 0.5 -0.4 0 -1 0.5 -0.6 0 -1 0.5 -0.4 0 -1 0.5 -0.6 1.6 -5.4 0.5 -0.6 0 -1 0.5 -0.4 0 -1 1 -1.6 0.5 -2.4 1 -1.6 0 -1 0.5 -0.4 0 -1 1 -1.6z" fill="#ff5900"/>
<path d="M423.1 50.8l0.5 -0.6 236.2 0 0 185.3 -2 0.5 -0.6 0.5 -1 0 -0.4 0.5 -1 0 -0.6 0.5 -1 0 -0.4 0.5 -1 0 -0.6 0.5 -1 0 -0.4 0.5 -1 0 -0.6 0.5 -1 0 -0.4 0.5 -1 0 -0.6 0.5 -1 0 -0.4 0.5 -1 0 -0.6 0.5 -1 0 -0.4 0.5 -1 0 -0.6 0.5 -1 0 -0.4 0.5 -1 0 -0.6 0.5 -1 0 -0.4 0.5 -1 0 -0.6 0.5 -1 0 -0.4 0.5 -1 0 -0.6 0.5 -1 0 -0.4 0.5 -1 0 -0.6 0.5 -1 0 -0.4 0.5 -1 0 -0.6 0.5 -1 0 -0.4 0.5 -1 0 -0.6 0.5 -1 0 -0.4 0.5 -1 0 -0.6 0.5 -1 0 -0.4 0.5 -1 0 -0.6 0.5 -1 0 -0.4 0.5 -1 0 -0.6 0.5 -1 0 -0.4 0.5 -1 0 -0.6 0.5 -1 0 -0.4 0.5 -1 0 -0.6 0.5 -1 0 -0.4 0.5 -1 0 -0.6 0.5 -1 0 -0.4 0.5 -1 0 -0.6 0.5 -1 0 -0.4 0.5 -1 0 -0.6 0.5 -1 0 -0.4 0.5 -1 0 -0.6 0.5 -1 0 -0.4 0.5 -1 0 -0.6 0.5 -1 0 -0.4 0.5 -1 0 -0.6 0.5 -1 0 -0.4 0.5 -1 0 -0.6 0.5 -1 0 -0.4 0.5 -1 0 -0.6 0.5 -1 0 -0.4 0.5 -1 0 -0.6 0.5 -1 0 -0.4 0.5 -1 0 -0.6 0.5 -1 0 -1.5 1.3 -0.5 12.1 -0.4 0.9 -0.6 0.1 -1.4 -0.7 -5.6 -5.6 -6 -7.8 -24.4 -35.1 -18.4 -24.9 -7 -8 -9.8 -9.6 -10.8 -9.4 -9 -6.9 -9.6 -6.5 -13.4 -8.4 -16.6 -9 -8.4 -3.4 -13.3 -3.8 -1.6 -1 -1.3 -1.6 -2.8 -5 -1.7 -4 -0.6 -3 0.1 -7.4 -0.7 -6 -1.5 -4.6 -2.9 -4.4 0.5 -2 0.5 -0.6 0 -1 0.5 -0.4 0 -1 0.5 -0.6 0 -1 0.5 -0.4 0 -1 0.5 -0.6 0 -1 0.5 -0.4 0 -1 0.5 -0.6 0 -1 0.5 -0.4 0 -1 0.5 -0.6 0 -1 0.5 -0.4 0 -1 0.5 -0.6 0 -1 0.5 -0.4 0 -1 0.5 -0.6 0 -1 0.5 -0.4 0 -1 0.5 -0.6 0 -1 0.5 -0.4 0 -1 0.5 -0.6 0 -1 0.5 -0.4 0 -1 0.5 -0.6 1.6 -5.4 0.5 -0.6 0 -1 0.5 -0.4 0 -1 1 -1.6 0.5 -2.4 1 -1.6 0 -1 1.5 -3 0 -1 0.5 -0.4z" fill="#ff4200"/>
<path d="M429.6 50.2l230.2 0 0 173.2 -3 1.5 -2.6 0.5 -1.4 1 -2.6 0.5 -1.4 1 -2.6 0.5 -1.4 1 -2.6 0.5 -1.4 1 -2.6 0.5 -1.4 1 -2.6 0.5 -1.4 1 -2.6 0.5 -1.4 1 -2.6 0.5 -1.4 1 -2.6 0.5 -1.4 1 -2.6 0.5 -1.4 1 -2.6 0.5 -1.4 1 -2.6 0.5 -1.4 1 -2.6 0.5 -1.4 1 -1 0 -0.6 0.5 -5.4 1.8 -0.6 0.5 -1 0 -0.5 0.5 -1 0 -0.5 0.5 -1 0 -0.5 0.5 -1 0 -0.5 0.5 -4 1 -0.4 0.5 -1 0 -0.6 0.5 -1 0 -0.4 0.5 -1 0 -0.6 0.5 -1 0 -0.4 0.5 -1 0 -0.6 0.5 -1 0 -0.4 0.5 -1 0 -0.6 0.5 -4 1 -1 1 -0.2 1.6 0.4 13 -0.6 1.4 -1.6 -0.5 -5.4 -5.3 -5 -6.2 -42.1 -57.4 -8.5 -9.4 -10.3 -9.6 -9.7 -8.2 -9.4 -7.1 -10.6 -7 -13 -8 -10 -5.5 -8.4 -4 -5.6 -2.1 -13 -3.7 -1.3 -1 -1.1 -1.5 -3.1 -5.9 -1.3 -4 0.3 -14 -1 -8 1.2 -2.6 0 -1 0.5 -0.4 0 -1 0.5 -0.6 0 -1 0.5 -0.4 0 -1 0.5 -0.6 0 -1 0.5 -0.4 0 -1 0.5 -0.6 0 -1 0.5 -0.4 0 -1 0.5 -0.6 0 -1 0.5 -0.4 0 -1 0.5 -0.6 0 -1 0.5 -0.4 0 -1 0.5 -0.6 0 -1 0.5 -0.4 0 -1 0.5 -0.6 0 -1 0.5 -0.4 0 -1 0.5 -0.6 0 -1 0.5 -0.4 0 -1 0.5 -0.6 1.7 -5.4 0.5 -0.6 0 -1 0.5 -0.4 0 -1 1 -1.6 0.5 -2.4 1 -1.6 0.5 -2.4 1 -1.6 0 -1 1.5 -3z" fill="#ff2c00"/>
<path d="M434.1 50.2l225.7 0 0 158.3 -2.6 1.5 -1 0 -2.4 1.5 -1 0 -2.6 1.5 -1 0 -2.4 1.5 -1 0 -2.6 1.5 -1 0 -2.4 1.5 -1 0 -2.6 1.5 -1 0 -2.4 1.5 -1 0 -2.6 1.5 -1 0 -2.4 1.5 -1 0 -2.6 1.5 -1 0 -2.4 1.5 -1 0 -2.6 1.5 -1 0 -2.4 1.5 -1 0 -2.6 1.5 -1 0 -2.4 1.5 -1 0 -2.6 1.5 -1 0 -6 3 -1 0 -2.4 1.5 -1 0 -1.6 1 -3.4 1.1 -1.6 1 -1 0 -1.4 1 -1 0 -1.6 1 -1 0 -1.4 1 -6.6 2.8 -1.3 1.4 0 0.4 1.4 12.6 0.1 3.4 -0.6 1.3 -1.6 -0.5 -6.4 -6.4 -11 -13.8 -33.2 -44.6 -7.8 -8.5 -12 -11 -9.1 -7.5 -9.5 -6.9 -12 -7.8 -12.4 -7.5 -10 -5.4 -7 -3.2 -5.6 -2 -13 -3.8 -1.2 -0.8 -1.4 -2 -2.7 -6 -0.8 -3 0.8 -10 1.1 -7 1.1 -4.6 0.9 -1.4 0 -1 0.5 -0.6 0 -1 0.5 -0.4 0 -1 0.5 -0.6 0 -1 0.5 -0.4 0 -1 0.5 -0.6 0 -1 0.5 -0.4 0 -1 0.5 -0.6 0 -1 0.5 -0.4 0 -1 0.5 -0.6 0 -1 0.5 -0.4 0 -1 0.5 -0.6 0 -1 0.5 -0.4 0 -1 0.5 -0.6 0 -1 0.5 -0.4 0 -1 0.5 -0.6 1 -4 0.5 -0.4 1.6 -5.6 0.5 -0.4 0 -1 0.5 -0.6 0 -1 1 -1.4 0.5 -2.6 1 -1.4 0.5 -2.6 1 -1.4 0.5 -2.6 1 -1.4 0 -1 0.5 -0.6z" fill="#fe1200"/>
<path d="M439.9 50.8l0.5 -0.6 219.4 0 0 145.3 -4 2 -1 0 -5.6 3 -1 0 -4.4 2.5 -1 0 -4.6 2.5 -1 0 -4.4 2.5 -1 0 -4.6 2.5 -1 0 -3.4 2 -1 0.1 -3.6 1.9 -1 0.1 -3.4 2 -1 0 -3.6 2 -1 0 -3.4 2 -1 0 -3.6 2 -4.4 1.6 -2.6 1.5 -1 0 -2.4 1.5 -1 0 -2.6 1.5 -1 0 -20 9.8 -1.1 1.3 0 0.4 2.7 14.6 0.5 4.4 -0.5 1.6 -1.6 -0.4 -6.4 -6.3 -11 -13.2 -31.4 -41.1 -9.1 -9.6 -12.3 -11 -8.7 -7 -9.1 -6.4 -23.6 -14.6 -9.4 -5 -7 -3.2 -6 -2.2 -13 -3.7 -1 -0.9 -1.5 -2 -2.2 -5.4 -0.8 -3 0.9 -7 0.9 -4.6 2 -5 1.7 -2.8 0.6 -0.1 1 -2.1 1 -3.9 1.7 -3.5 0 -1 1 -1.6 0 -1 1 -1.4 0 -1 1 -1.6 0 -1 1 -1.4 0 -1 1 -1.6 0 -1 1 -1.4 0 -1 1 -1.6 0 -1 1.9 -4 0.1 -1 0.9 -1.4 0.5 -2.6 1 -1.4 0.5 -2.6 1 -1.4 0.5 -2.6 1 -1.4 0.5 -2.6 1 -1.4 0 -1.1 1.5 -2.9z" fill="#e30000"/>
<path d="M449.8 50.2l210 0 0 129.2 -99 49.5 -1.3 1.3 4.4 17 0.9 5 0 2.5 -0.6 0.4 -1 -0.3 -6.4 -6 -8.6 -9.7 -32.4 -41.3 -10 -10 -12.6 -11 -9.1 -7 -8.7 -6 -24.1 -14.6 -8.7 -4.4 -7 -3 -17.4 -5.3 -1.4 -1.3 -1 -1.4 -2.4 -7.6 1 -7 1.5 -5 1.9 -3.3 2 -1.8 1.4 -0.5 4.6 0.2 4.5 -9 0 -1 1 -1.6 0 -1 1 -1.4 0 -1 1 -1.6 0 -1 1 -1.4 0 -1 1 -1.6 0 -1 1 -1.4 0 -1 1 -1.6 0 -1 1 -1.4 0 -1 1 -1.6 0 -1 1 -1.4 0 -1 1 -1.6 0 -1 1 -1.4 0 -1 1 -1.6 0 -1 1 -1.4 0 -1 1 -1.6 0 -1 1 -1.4 0 -1 1 -1.6 0 -1 1 -1.4 0 -1 1 -1.6z" fill="#c30000"/>
<path d="M487.6 50.8l0.5 -0.6 171.7 0 0 107.3 -2 1.5 -2.6 1 -1 1 -2.4 1 -1 1 -2.6 1 -1 1 -2.4 1 -1 1 -2.6 1 -1 1 -2.4 1 -1 1 -2.6 1 -1 1 -2.4 1 -1 1 -2.6 1 -1 1 -2.4 1 -1 1 -2.6 1 -1 1 -2.4 1 -1 1 -2.6 1 -1 1 -2.4 1 -1 1 -2.6 1 -1 1 -2.4 1 -1 1 -2.6 1 -1 1 -2.4 1 -1 1 -2.6 1 -1 1 -2.4 1 -1 1 -2.6 1 -1 1 -2.4 1 -1 1 -2.6 1 -1 1 -1.4 0.5 -3.6 2.5 -1.4 0.5 -1 1 -1.6 0.5 -1 1 -4 2 -8 5.5 -0.4 0 -1.1 1.3 7.5 22 1.1 5.4 -0.1 1.6 -0.4 0.4 -1 -0.3 -2 -1.5 -8.6 -8.5 -29.8 -37.2 -4.9 -5.5 -10.7 -10.4 -13 -11.1 -7.6 -5.7 -9.5 -6.4 -22.5 -13.5 -7.4 -3.9 -7.8 -3.4 -5.8 -2.1 -13 -3.8 -1.4 -1.3 -1.2 -2.4 -1.6 -6 0.9 -5.5 1.9 -5.8 1.4 -2.2 1.6 -1 1.4 -0.1 10.6 2.4 18 5.8 0.9 0 12 -24.6 1 -1 1 -2.4 1 -1 1 -2.6 1 -1 1 -2.4 3 -4.6 1 -2.4 1 -1 1.5 -3.6 1 -1 1.5 -3.4 1 -1 1.5 -3.6 0.9 -1 1.6 -3.4 0.9 -1z" fill="#a80000"/>
<path d="M556.5 50.8l0.5 -0.6 102.8 0 -0.1 78.5 -3.5 2 -1 1 -0.4 0 -1 1 -0.6 0 -1 1 -0.5 0 -0.9 1 -0.6 0 -1 1 -0.5 0 -0.9 1 -0.6 0 -1 1 -0.5 0 -0.9 1 -0.6 0 -1 1 -0.4 0 -1 1 -0.6 0 -1 1 -0.4 0 -1 1 -0.6 0 -1 1 -0.4 0 -1 1 -0.6 0 -1 1 -0.4 0 -1 1 -0.6 0 -1 1 -0.4 0 -1 1 -0.6 0 -1 1 -0.4 0 -1 1 -0.6 0 -11.4 8 -2 1 -1 1 -0.6 0 -2.4 2 -0.6 0 -1 1 -0.5 0 -3.9 3 -0.6 0 -1 1 -0.4 0 -1 1 -0.6 0 -1 1 -0.4 0 -1 1 -0.6 0 -1 1 -0.4 0 -1 1 -0.6 0 -1 1 -0.4 0 -1 1 -0.6 0 -1 1 -0.4 0 -1 1 -0.6 0 -1 1 -0.4 0 -1 1 -0.6 0 -10 7 -3.4 2 -1 1 -0.6 0 -5.4 4 -0.6 0 -1 1 -0.5 0 -0.9 1 -0.6 0 -5.4 4 -2 1 -4 3 -0.6 0 -3 3 0.9 0.5 -0.4 0.6 10.9 24.4 2.7 8.6 0.4 3 -0.5 0.7 -1 -0.2 -2 -1.5 -7.4 -7.2 -27.8 -33.8 -5 -5.6 -9.2 -8.8 -13 -11 -9 -6.8 -9.6 -6.4 -12.4 -7.7 -13 -7.4 -7 -3.5 -7 -2.9 -17.6 -5.3 -1.2 -1.2 -1 -2 -1.5 -6 1 -5.4 1.3 -4 2 -2.7 2 -0.5 16 4.4 14 5.6 11 5.8 22.4 13.8 0.6 -0.5 0.3 1.1 0.7 0.2 4.2 -4.2 0 -0.6 1.5 -1.4 0 -0.6 1.5 -1.4 0 -0.6 1.5 -1.4 0 -0.6 1.5 -1.4 0 -0.6 1.5 -1.4 0 -0.6 1.5 -1.4 0 -0.6 1.5 -1.4 0 -0.6 1.5 -1.4 0 -0.6 1.5 -1.4 0 -0.6 1.5 -1.4 0 -0.6 1.5 -1.4 0 -0.6 1.5 -1.4 0 -0.6 1.5 -1.4 0 -0.6 1.5 -1.4 0 -0.6 1.5 -1.4 0 -0.6 1.5 -1.4 0 -0.6 1.5 -1.4 0 -0.6 1.5 -1.4 0 -0.6 1.5 -1.4 0 -0.6 1.5 -1.4 0 -0.6 1.5 -1.4 0 -0.6 1.5 -1.4 0 -0.6 1.5 -1.4 0 -0.6 1.5 -1.4 0 -0.6 1.5 -1.4 0 -0.6 1.5 -1.4 0 -0.6 1.5 -1.4 0 -0.6 1.5 -1.4 0 -0.6 1.5 -1.4 0 -0.6 1.5 -1.4 0 -0.6 1.5 -1.4 0 -0.6 1.5 -1.4 0 -0.6 1.5 -1.4 0 -0.6 1.5 -1.4 0 -0.6 1.5 -1.4 0 -0.6 1.5 -1.4 0 -0.6 1.5 -1.4 0 -0.6 1.5 -1.4 0 -0.6 1.5 -1.4 0 -0.6 1.5 -1.4 0 -0.6 1.5 -1.4 0 -0.6 1.5 -1.4 0 -0.6 1.5 -1.4 0 -0.6z" fill="#8d0000"/>
<path d="M633.9 50.8l0.5 -0.6 7.2 0 -122.8 122.9 13.2 15.7 11 17 5.5 10 4.8 10 3 8 0.6 2.4 -0.1 1.6 -1 0 -1.6 -1 -7 -6.6 -25.1 -30 -6.1 -6.4 -10.8 -10 -14.9 -12.2 -17.1 -11.5 -22.4 -13.1 -8 -4 -7 -2.9 -17 -5.1 -1.6 -1.2 -1 -2 -1.2 -5 0.5 -3.6 1.5 -5 1.2 -2 1 -0.8 1.6 -0.2 8 2.2 12.4 4.2 7 2.9 7 3.4 21.6 13.1 19 13 19.4 15.4z" fill="#7f0000"/>
</g></g>
<use href="#hl" fill="#fff"/>
<use href="#sp" fill="#fff"/>
</g>
</g>
<rect x="107.3" y="57.6" width="543.1" height="640.3" fill="none" stroke="#1a1a1a" stroke-width="1.9"/>
<rect x="651" y="57.6" width="543.1" height="640.3" fill="none" stroke="#1a1a1a" stroke-width="1.9"/>
<rect x="1194.7" y="57.6" width="542.7" height="640.3" fill="none" stroke="#1a1a1a" stroke-width="1.9"/>
<rect x="106.7" y="698.4" width="1.8" height="7.2" fill="#1a1a1a"/>
<text class="t" x="107.6" y="732.4" font-size="23.5" text-anchor="middle">1.8</text>
<rect x="184.2" y="698.4" width="1.8" height="7.2" fill="#1a1a1a"/>
<text class="t" x="185.1" y="732.4" font-size="23.5" text-anchor="middle">2.0</text>
<rect x="261.6" y="698.4" width="1.8" height="7.2" fill="#1a1a1a"/>
<text class="t" x="262.5" y="732.4" font-size="23.5" text-anchor="middle">2.2</text>
<rect x="339.1" y="698.4" width="1.8" height="7.2" fill="#1a1a1a"/>
<text class="t" x="340.0" y="732.4" font-size="23.5" text-anchor="middle">2.4</text>
<rect x="416.5" y="698.4" width="1.8" height="7.2" fill="#1a1a1a"/>
<text class="t" x="417.4" y="732.4" font-size="23.5" text-anchor="middle">2.6</text>
<rect x="494.0" y="698.4" width="1.8" height="7.2" fill="#1a1a1a"/>
<text class="t" x="494.9" y="732.4" font-size="23.5" text-anchor="middle">2.8</text>
<rect x="571.5" y="698.4" width="1.8" height="7.2" fill="#1a1a1a"/>
<text class="t" x="572.4" y="732.4" font-size="23.5" text-anchor="middle">3.0</text>
<rect x="727.9" y="698.4" width="1.8" height="7.2" fill="#1a1a1a"/>
<text class="t" x="728.8" y="732.4" font-size="23.5" text-anchor="middle">2.0</text>
<rect x="805.3" y="698.4" width="1.8" height="7.2" fill="#1a1a1a"/>
<text class="t" x="806.2" y="732.4" font-size="23.5" text-anchor="middle">2.2</text>
<rect x="882.8" y="698.4" width="1.8" height="7.2" fill="#1a1a1a"/>
<text class="t" x="883.7" y="732.4" font-size="23.5" text-anchor="middle">2.4</text>
<rect x="960.2" y="698.4" width="1.8" height="7.2" fill="#1a1a1a"/>
<text class="t" x="961.1" y="732.4" font-size="23.5" text-anchor="middle">2.6</text>
<rect x="1037.7" y="698.4" width="1.8" height="7.2" fill="#1a1a1a"/>
<text class="t" x="1038.6" y="732.4" font-size="23.5" text-anchor="middle">2.8</text>
<rect x="1115.2" y="698.4" width="1.8" height="7.2" fill="#1a1a1a"/>
<text class="t" x="1116.1" y="732.4" font-size="23.5" text-anchor="middle">3.0</text>
<rect x="1271.5" y="698.4" width="1.8" height="7.2" fill="#1a1a1a"/>
<text class="t" x="1272.4" y="732.4" font-size="23.5" text-anchor="middle">2.0</text>
<rect x="1348.9" y="698.4" width="1.8" height="7.2" fill="#1a1a1a"/>
<text class="t" x="1349.8" y="732.4" font-size="23.5" text-anchor="middle">2.2</text>
<rect x="1426.4" y="698.4" width="1.8" height="7.2" fill="#1a1a1a"/>
<text class="t" x="1427.3" y="732.4" font-size="23.5" text-anchor="middle">2.4</text>
<rect x="1503.8" y="698.4" width="1.8" height="7.2" fill="#1a1a1a"/>
<text class="t" x="1504.7" y="732.4" font-size="23.5" text-anchor="middle">2.6</text>
<rect x="1581.3" y="698.4" width="1.8" height="7.2" fill="#1a1a1a"/>
<text class="t" x="1582.2" y="732.4" font-size="23.5" text-anchor="middle">2.8</text>
<rect x="1658.8" y="698.4" width="1.8" height="7.2" fill="#1a1a1a"/>
<text class="t" x="1659.7" y="732.4" font-size="23.5" text-anchor="middle">3.0</text>
<rect x="1736.2" y="698.4" width="1.8" height="7.2" fill="#1a1a1a"/>
<text class="t" x="1737.1" y="732.4" font-size="23.5" text-anchor="middle">3.2</text>
<rect x="99.1" y="115.5" width="7.6" height="1.8" fill="#1a1a1a"/>
<text class="t" x="90.6" y="126.0" font-size="23.5" text-anchor="end">0.6</text>
<rect x="99.1" y="193.0" width="7.6" height="1.8" fill="#1a1a1a"/>
<text class="t" x="90.6" y="203.5" font-size="23.5" text-anchor="end">0.4</text>
<rect x="99.1" y="270.5" width="7.6" height="1.8" fill="#1a1a1a"/>
<text class="t" x="90.6" y="281.0" font-size="23.5" text-anchor="end">0.2</text>
<rect x="99.1" y="348.1" width="7.6" height="1.8" fill="#1a1a1a"/>
<text class="t" x="90.6" y="358.6" font-size="23.5" text-anchor="end">0.0</text>
<rect x="99.1" y="425.6" width="7.6" height="1.8" fill="#1a1a1a"/>
<text class="t" x="90.6" y="436.1" font-size="23.5" text-anchor="end">−0.2</text>
<rect x="99.1" y="503.1" width="7.6" height="1.8" fill="#1a1a1a"/>
<text class="t" x="90.6" y="513.6" font-size="23.5" text-anchor="end">−0.4</text>
<rect x="99.1" y="580.6" width="7.6" height="1.8" fill="#1a1a1a"/>
<text class="t" x="90.6" y="591.1" font-size="23.5" text-anchor="end">−0.6</text>
<rect x="99.1" y="658.1" width="7.6" height="1.8" fill="#1a1a1a"/>
<text class="t" x="90.6" y="668.6" font-size="23.5" text-anchor="end">−0.8</text>
<rect x="1763.1" y="57.8" width="33.5" height="640.2" fill="url(#jet)" stroke="#1a1a1a" stroke-width="1.2"/>
<rect x="1797" y="697.1" width="6.8" height="1.8" fill="#1a1a1a"/>
<text class="t" x="1813.0" y="707.6" font-size="23.5">0.0</text>
<rect x="1797" y="617.1" width="6.8" height="1.8" fill="#1a1a1a"/>
<text class="t" x="1813.0" y="627.6" font-size="23.5">1.0</text>
<rect x="1797" y="537.1" width="6.8" height="1.8" fill="#1a1a1a"/>
<text class="t" x="1813.0" y="547.6" font-size="23.5">2.0</text>
<rect x="1797" y="457.1" width="6.8" height="1.8" fill="#1a1a1a"/>
<text class="t" x="1813.0" y="467.6" font-size="23.5">3.0</text>
<rect x="1797" y="377.1" width="6.8" height="1.8" fill="#1a1a1a"/>
<text class="t" x="1813.0" y="387.6" font-size="23.5">4.0</text>
<rect x="1797" y="297.1" width="6.8" height="1.8" fill="#1a1a1a"/>
<text class="t" x="1813.0" y="307.6" font-size="23.5">5.0</text>
<rect x="1797" y="217.1" width="6.8" height="1.8" fill="#1a1a1a"/>
<text class="t" x="1813.0" y="227.6" font-size="23.5">6.0</text>
<rect x="1797" y="137.1" width="6.8" height="1.8" fill="#1a1a1a"/>
<text class="t" x="1813.0" y="147.6" font-size="23.5">7.0</text>
<rect x="1797" y="57.1" width="6.8" height="1.8" fill="#1a1a1a"/>
<text class="t" x="1813.0" y="67.6" font-size="23.5">8.0</text>
<text class="m"><tspan class="m i" x="164.0" y="40.8" font-size="33" textLength="24.5" lengthAdjust="spacingAndGlyphs">P</tspan><tspan class="m i" x="182.3" y="46.0" font-size="23.5" textLength="22.2" lengthAdjust="spacingAndGlyphs">in</tspan> <tspan class="m" x="216.3" y="40.8" font-size="33" textLength="24.0" lengthAdjust="spacingAndGlyphs">=</tspan> <tspan class="m" x="250.2" y="40.8" font-size="33" textLength="77.5" lengthAdjust="spacingAndGlyphs">2.875</tspan> <tspan class="m" x="337.4" y="40.8" font-size="33" textLength="52.7" lengthAdjust="spacingAndGlyphs">MW</tspan><tspan class="m" x="394.2" y="40.8" font-size="33" textLength="6.5" lengthAdjust="spacingAndGlyphs">,</tspan> <tspan class="m i" x="406.3" y="40.8" font-size="33" textLength="21.0" lengthAdjust="spacingAndGlyphs">C</tspan><tspan class="m i" x="424.4" y="47.0" font-size="23.5" textLength="16.5" lengthAdjust="spacingAndGlyphs">O</tspan><tspan class="m" x="428.7" y="27.0" font-size="23.5" textLength="49.5" lengthAdjust="spacingAndGlyphs">core</tspan> <tspan class="m" x="489.4" y="40.8" font-size="33" textLength="24.0" lengthAdjust="spacingAndGlyphs">=</tspan> <tspan class="m" x="522.9" y="40.8" font-size="33" textLength="60.5" lengthAdjust="spacingAndGlyphs">2.59</tspan> <tspan class="m" x="593.1" y="40.8" font-size="33" textLength="27.0" lengthAdjust="spacingAndGlyphs">%</tspan></text>
<text class="m"><tspan class="m i" x="703.7" y="33.3" font-size="33" textLength="24.5" lengthAdjust="spacingAndGlyphs">P</tspan><tspan class="m i" x="722.0" y="38.5" font-size="23.5" textLength="22.2" lengthAdjust="spacingAndGlyphs">in</tspan> <tspan class="m" x="756.0" y="33.3" font-size="33" textLength="24.0" lengthAdjust="spacingAndGlyphs">=</tspan> <tspan class="m" x="789.9" y="33.3" font-size="33" textLength="41.0" lengthAdjust="spacingAndGlyphs">3.0</tspan> <tspan class="m" x="840.6" y="33.3" font-size="33" textLength="52.7" lengthAdjust="spacingAndGlyphs">MW</tspan><tspan class="m" x="897.4" y="33.3" font-size="33" textLength="6.5" lengthAdjust="spacingAndGlyphs">,</tspan> <tspan class="m i" x="909.5" y="33.3" font-size="33" textLength="21.0" lengthAdjust="spacingAndGlyphs">C</tspan><tspan class="m i" x="927.6" y="39.5" font-size="23.5" textLength="16.5" lengthAdjust="spacingAndGlyphs">O</tspan><tspan class="m" x="931.9" y="19.5" font-size="23.5" textLength="49.5" lengthAdjust="spacingAndGlyphs">core</tspan> <tspan class="m" x="992.6" y="33.3" font-size="33" textLength="24.0" lengthAdjust="spacingAndGlyphs">=</tspan> <tspan class="m" x="1026.1" y="33.3" font-size="33" textLength="60.5" lengthAdjust="spacingAndGlyphs">2.36</tspan> <tspan class="m" x="1096.3" y="33.3" font-size="33" textLength="27.0" lengthAdjust="spacingAndGlyphs">%</tspan></text>
<text class="m"><tspan class="m i" x="1238.2" y="33.3" font-size="33" textLength="24.5" lengthAdjust="spacingAndGlyphs">P</tspan><tspan class="m i" x="1256.5" y="38.5" font-size="23.5" textLength="22.2" lengthAdjust="spacingAndGlyphs">in</tspan> <tspan class="m" x="1290.5" y="33.3" font-size="33" textLength="24.0" lengthAdjust="spacingAndGlyphs">=</tspan> <tspan class="m" x="1324.4" y="33.3" font-size="33" textLength="59.0" lengthAdjust="spacingAndGlyphs">2.75</tspan> <tspan class="m" x="1393.1" y="33.3" font-size="33" textLength="52.7" lengthAdjust="spacingAndGlyphs">MW</tspan><tspan class="m" x="1449.9" y="33.3" font-size="33" textLength="6.5" lengthAdjust="spacingAndGlyphs">,</tspan> <tspan class="m i" x="1462.0" y="33.3" font-size="33" textLength="21.0" lengthAdjust="spacingAndGlyphs">C</tspan><tspan class="m i" x="1480.1" y="39.5" font-size="23.5" textLength="16.5" lengthAdjust="spacingAndGlyphs">O</tspan><tspan class="m" x="1484.4" y="19.5" font-size="23.5" textLength="49.5" lengthAdjust="spacingAndGlyphs">core</tspan> <tspan class="m" x="1545.1" y="33.3" font-size="33" textLength="24.0" lengthAdjust="spacingAndGlyphs">=</tspan> <tspan class="m" x="1578.6" y="33.3" font-size="33" textLength="60.5" lengthAdjust="spacingAndGlyphs">2.83</tspan> <tspan class="m" x="1648.8" y="33.3" font-size="33" textLength="27.0" lengthAdjust="spacingAndGlyphs">%</tspan></text>
<text class="m"><tspan class="m i" x="1751.4" y="25.8" font-size="33" textLength="21.0" lengthAdjust="spacingAndGlyphs">C</tspan><tspan class="m i" x="1768.6" y="32.4" font-size="23.5" textLength="15.0" lengthAdjust="spacingAndGlyphs">B</tspan> <tspan class="m" x="1795.6" y="25.8" font-size="33" textLength="54.0" lengthAdjust="spacingAndGlyphs">(%)</tspan></text>
<text class="m"><tspan class="m i" x="352.3" y="767.8" font-size="27.4" textLength="14.6" lengthAdjust="spacingAndGlyphs">R</tspan> <tspan class="m" x="374.8" y="767.8" font-size="27.4" textLength="9.8" lengthAdjust="spacingAndGlyphs">(</tspan><tspan class="m i" x="385.6" y="767.8" font-size="27.4" textLength="20.6" lengthAdjust="spacingAndGlyphs">m</tspan><tspan class="m" x="406.8" y="767.8" font-size="27.4" textLength="9.8" lengthAdjust="spacingAndGlyphs">)</tspan></text>
<text class="m"><tspan class="m i" x="896.0" y="767.8" font-size="27.4" textLength="14.6" lengthAdjust="spacingAndGlyphs">R</tspan> <tspan class="m" x="918.5" y="767.8" font-size="27.4" textLength="9.8" lengthAdjust="spacingAndGlyphs">(</tspan><tspan class="m i" x="929.3" y="767.8" font-size="27.4" textLength="20.6" lengthAdjust="spacingAndGlyphs">m</tspan><tspan class="m" x="950.5" y="767.8" font-size="27.4" textLength="9.8" lengthAdjust="spacingAndGlyphs">)</tspan></text>
<text class="m"><tspan class="m i" x="1439.7" y="767.8" font-size="27.4" textLength="14.6" lengthAdjust="spacingAndGlyphs">R</tspan> <tspan class="m" x="1462.2" y="767.8" font-size="27.4" textLength="9.8" lengthAdjust="spacingAndGlyphs">(</tspan><tspan class="m i" x="1473.0" y="767.8" font-size="27.4" textLength="20.6" lengthAdjust="spacingAndGlyphs">m</tspan><tspan class="m" x="1494.2" y="767.8" font-size="27.4" textLength="9.8" lengthAdjust="spacingAndGlyphs">)</tspan></text>
<text class="m" transform="translate(21,405.8) rotate(-90)"><tspan class="m i" x="0.3" y="0.0" font-size="27.4" textLength="14.6" lengthAdjust="spacingAndGlyphs">Z</tspan> <tspan class="m" x="22.8" y="0.0" font-size="27.4" textLength="9.8" lengthAdjust="spacingAndGlyphs">(</tspan><tspan class="m i" x="33.6" y="0.0" font-size="27.4" textLength="20.6" lengthAdjust="spacingAndGlyphs">m</tspan><tspan class="m" x="54.8" y="0.0" font-size="27.4" textLength="9.8" lengthAdjust="spacingAndGlyphs">)</tspan></text>
</svg>
</body></html>
